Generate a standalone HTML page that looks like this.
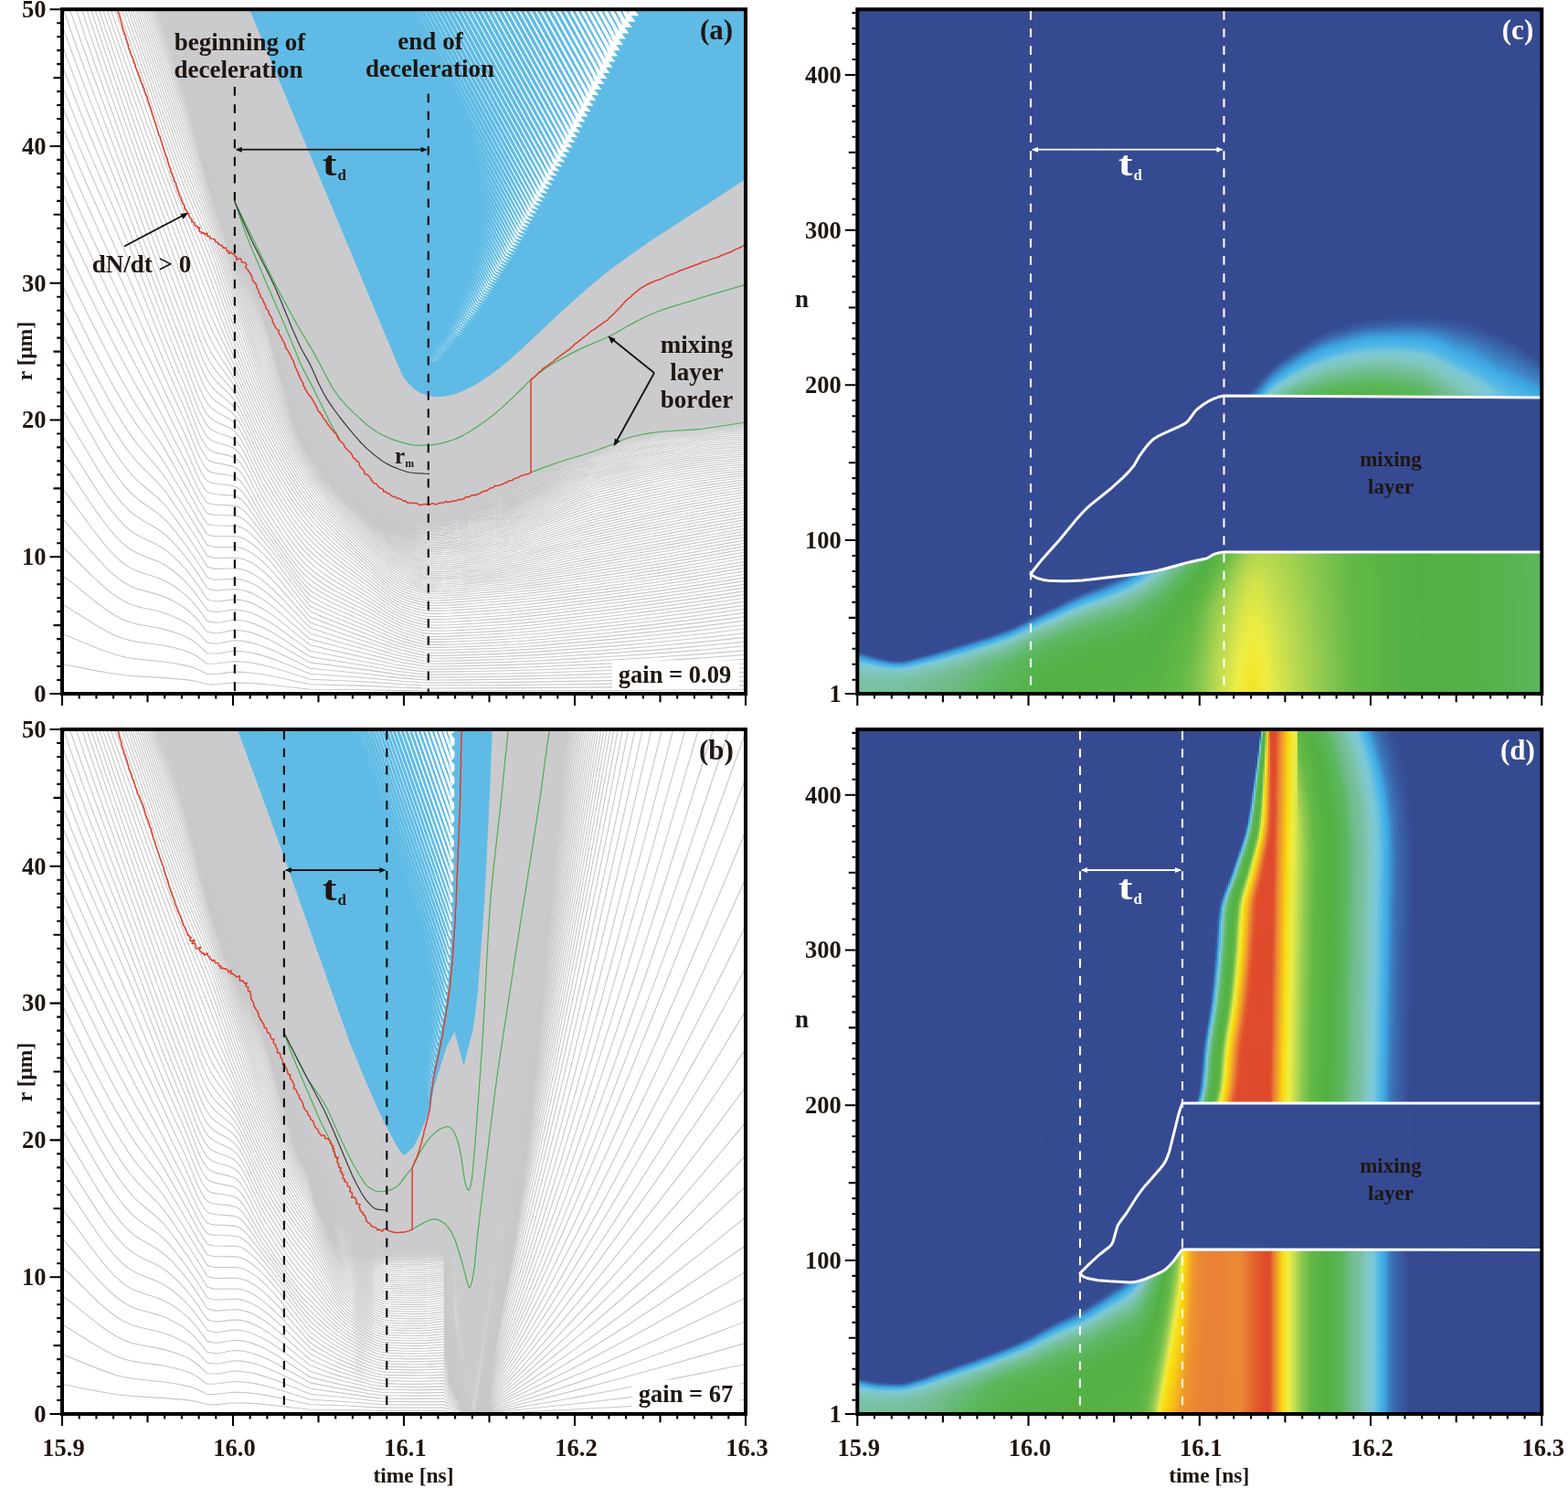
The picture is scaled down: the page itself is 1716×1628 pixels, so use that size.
<!DOCTYPE html>
<html lang="en"><head><meta charset="utf-8"><title>Figure</title>
<style>html,body{margin:0;padding:0;background:#fff}body{position:relative;width:1716px;height:1628px;overflow:hidden}svg{display:block}.hm{position:absolute;overflow:hidden;background:#354a91}.hm i{position:absolute;top:0;bottom:0;width:2px}text{font-family:"Liberation Serif",serif;font-weight:bold;fill:#1f1612}</style></head><body>
<div class="hm" style="left:938px;top:10px;width:750px;height:749px"><i style="left:0px;background:linear-gradient(#354a91 0,#354b92 703px,#3961a7 705px,#3c9fdb 709px,#3faae3 710px,#4cb4e8 712px,#72c4dc 715px,#7cc8d8 716px,#7fc7bc 724px,#7bc3ac 731px,#78c0a0 747px,#78c0a0 749px)"></i><i style="left:2px;background:linear-gradient(#354a91 0,#354a91 703px,#364f96 704px,#3e87c8 708px,#3ca8e2 710px,#4ab2e7 712px,#79c7d9 716px,#7ec8cd 719px,#7dc5b4 727px,#7ac2a8 735px,#78c0a0 748px,#78c0a0 749px)"></i><i style="left:4px;background:linear-gradient(#354a91 0,#354b92 704px,#3964aa 706px,#3d92d1 709px,#3ca3de 710px,#47b1e6 712px,#4fb6e7 713px,#76c5da 716px,#7dc8d2 718px,#7ec6b7 726px,#7bc3ab 732px,#78c0a0 747px,#78c09f 749px)"></i><i style="left:6px;background:linear-gradient(#354a91 0,#354a91 704px,#365097 705px,#3e8bcb 709px,#3eaae3 711px,#4bb4e7 713px,#72c4db 716px,#7cc8d8 717px,#7fc7bb 725px,#7bc3ac 731px,#78c09f 748px,#78c09f 749px)"></i><i style="left:8px;background:linear-gradient(#354a91 0,#354c93 705px,#37569d 706px,#3c76b9 708px,#3e82c4 709px,#3ca6e0 711px,#49b2e7 713px,#79c7d9 717px,#7fc8c8 721px,#7bc3ac 731px,#78c09f 747px,#78c09f 749px)"></i><i style="left:10px;background:linear-gradient(#354a91 0,#354a91 705px,#364f96 706px,#3e8bcb 710px,#3d9dda 711px,#3faae3 712px,#4cb5e8 714px,#6ac1de 716px,#7cc8d6 718px,#7ec6b9 726px,#7bc3ab 732px,#78c09f 747px,#78c09f 749px)"></i><i style="left:12px;background:linear-gradient(#354a91 0,#354b92 706px,#37549b 707px,#3e81c3 710px,#3ca5e0 712px,#49b2e7 714px,#64bee0 716px,#7bc8d8 718px,#7fc7be 725px,#7bc3ac 731px,#78c09f 747px,#77c09f 749px)"></i><i style="left:14px;background:linear-gradient(#354a91 0,#354a91 706px,#354d94 707px,#3859a0 708px,#3d9cd8 712px,#3eaae3 713px,#4cb5e8 715px,#6bc1de 717px,#7cc8d6 719px,#7fc7bb 726px,#7bc3ab 732px,#78c09f 746px,#77c09f 749px)"></i><i style="left:16px;background:linear-gradient(#354a91 0,#354a91 707px,#365197 708px,#3e7fc1 711px,#3ca3de 713px,#49b2e7 715px,#64bee0 717px,#7cc8d8 719px,#7fc7bc 726px,#7bc3ab 732px,#77c09e 747px,#77c09e 749px)"></i><i style="left:18px;background:linear-gradient(#354a91 0,#354b92 708px,#37569c 709px,#3e86c7 712px,#3ea9e3 714px,#4cb5e8 716px,#6cc1de 718px,#7dc8d5 720px,#7ec6b9 727px,#7ac2aa 733px,#77c09e 747px,#77c09e 749px)"></i><i style="left:20px;background:linear-gradient(#354a91 0,#354a91 708px,#364e95 709px,#3d90cf 713px,#3ca3de 714px,#49b2e7 716px,#73c4db 719px,#7cc8d7 720px,#7fc7ba 727px,#7ac2aa 733px,#77c09e 747px,#77c09e 749px)"></i><i style="left:22px;background:linear-gradient(#354a91 0,#354a91 709px,#37559b 710px,#3d9bd8 714px,#3eaae3 715px,#4eb6e8 717px,#6ec2dd 719px,#7ac7d9 720px,#80c8bf 726px,#7bc3ac 732px,#77c09e 746px,#77bf9d 749px)"></i><i style="left:24px;background:linear-gradient(#354a91 0,#354a91 709px,#364f96 710px,#3e80c2 713px,#3ca7e1 715px,#4bb3e7 717px,#77c6da 720px,#7dc8d5 721px,#7ec6b8 728px,#7ac2a8 734px,#77bf9d 748px,#77bf9d 749px)"></i><i style="left:26px;background:linear-gradient(#354a91 0,#354b92 710px,#37579d 711px,#3e8bcb 714px,#3ca0db 715px,#40abe4 716px,#54b8e5 718px,#73c4db 720px,#7cc8d6 721px,#7fc7bc 727px,#7ac2aa 733px,#77bf9d 746px,#77bf9d 749px)"></i><i style="left:28px;background:linear-gradient(#354a91 0,#354a91 710px,#365097 711px,#3c74b8 713px,#3e82c4 714px,#3da9e2 716px,#4eb5e8 718px,#6fc3dc 720px,#7cc8d8 721px,#7fc7bd 727px,#7ac2aa 733px,#77bf9d 746px,#77bf9d 749px)"></i><i style="left:30px;background:linear-gradient(#354a91 0,#354c93 711px,#37599f 712px,#3d90cf 715px,#3ca4df 716px,#4bb3e7 718px,#78c6d9 721px,#7ec8cf 723px,#7dc5b6 729px,#7ac2a7 735px,#76bf9c 748px,#76bf9c 749px)"></i><i style="left:32px;background:linear-gradient(#354a91 0,#354a91 711px,#365299 712px,#3e87c8 715px,#3d9dd9 716px,#40abe3 717px,#54b8e5 719px,#75c5db 721px,#7cc8d5 722px,#7fc7ba 728px,#7ac2a8 734px,#76bf9c 746px,#76bf9c 749px)"></i><i style="left:34px;background:linear-gradient(#354a91 0,#354a91 711px,#364d94 712px,#385ca3 713px,#3b71b5 714px,#3e80c3 715px,#3da9e2 717px,#4eb5e8 719px,#71c4dc 721px,#7cc8d7 722px,#7fc7bb 728px,#7ac2a8 734px,#76bf9c 746px,#76bf9c 749px)"></i><i style="left:36px;background:linear-gradient(#354a91 0,#354b92 712px,#37569d 713px,#3d8fce 716px,#3ca4df 717px,#4bb4e7 719px,#6ec2dd 721px,#7bc8d8 722px,#7fc7bc 728px,#7ac2aa 733px,#76bf9c 745px,#76bf9b 749px)"></i><i style="left:38px;background:linear-gradient(#354a91 0,#354a91 712px,#365298 713px,#3e89ca 716px,#3c9fdb 717px,#41ace4 718px,#49b2e7 719px,#79c7d9 722px,#7fc8c4 726px,#7ac2aa 733px,#76bf9b 746px,#76bf9b 749px)"></i><i style="left:40px;background:linear-gradient(#354a91 0,#354a91 712px,#364f96 713px,#3e84c6 716px,#3d9bd8 717px,#3fabe3 718px,#55b8e5 720px,#77c6da 722px,#7ec8ce 724px,#7dc5b4 730px,#79c1a6 735px,#76bf9b 747px,#76bf9b 749px)"></i><i style="left:42px;background:linear-gradient(#354a91 0,#354a91 712px,#364d94 713px,#3e82c4 716px,#3d99d6 717px,#3eaae3 718px,#53b8e6 720px,#76c5da 722px,#7dc8d5 723px,#7ec6b8 729px,#7ac2a7 734px,#76bf9a 747px,#76bf9a 749px)"></i><i style="left:44px;background:linear-gradient(#354a91 0,#354a91 712px,#354d93 713px,#385ca2 714px,#3e81c3 716px,#3eaae3 718px,#53b7e6 720px,#76c5da 722px,#7dc8d5 723px,#7ec6b7 729px,#79c1a5 735px,#75bf9a 748px,#75bf9a 749px)"></i><i style="left:46px;background:linear-gradient(#354a91 0,#354a91 712px,#364d94 713px,#3e82c4 716px,#3d99d6 717px,#3faae3 718px,#54b8e6 720px,#77c6da 722px,#7ec8ce 724px,#7dc5b3 730px,#7ac2a6 734px,#75bf9a 746px,#75bf99 749px)"></i><i style="left:48px;background:linear-gradient(#354a91 0,#354a91 712px,#364f96 713px,#3e86c7 716px,#3d9dd9 717px,#40abe3 718px,#49b2e7 719px,#79c7d9 722px,#7fc8c3 726px,#7ac2a8 733px,#75bf9a 745px,#75be99 749px)"></i><i style="left:50px;background:linear-gradient(#354a91 0,#354a91 712px,#37549a 713px,#3d8dcc 716px,#3ca3de 717px,#4bb4e7 719px,#6fc3dd 721px,#7cc8d8 722px,#80c8be 727px,#7ac2a7 733px,#75bf9a 744px,#75be99 749px)"></i><i style="left:52px;background:linear-gradient(#354a91 0,#354c93 712px,#385aa0 713px,#3e7fc1 715px,#3da9e2 717px,#4fb6e7 719px,#73c5db 721px,#7cc8d6 722px,#7fc7bc 727px,#7ac2a6 733px,#75be98 747px,#75be98 749px)"></i><i style="left:54px;background:linear-gradient(#354a91 0,#354a91 711px,#365197 712px,#3e87c8 715px,#3d9dd9 716px,#40abe3 717px,#57b9e5 719px,#79c7d9 721px,#7fc8c4 725px,#7ac2a7 732px,#75be98 745px,#74be97 749px)"></i><i style="left:56px;background:linear-gradient(#354a91 0,#354b92 711px,#37589e 712px,#3d91d0 715px,#3ca6e1 716px,#4cb4e8 718px,#71c3dc 720px,#7cc8d7 721px,#7fc7bd 726px,#7ac2a6 732px,#75be98 744px,#74be97 749px)"></i><i style="left:58px;background:linear-gradient(#354a91 0,#354a91 710px,#365197 711px,#3e86c7 714px,#3d9cd8 715px,#3fabe3 716px,#54b8e6 718px,#77c6da 720px,#7ec8ce 722px,#7dc5b3 728px,#78c0a1 734px,#74be96 749px)"></i><i style="left:60px;background:linear-gradient(#354a91 0,#354c93 710px,#37599f 711px,#3d91d0 714px,#3ca6e0 715px,#4cb4e7 717px,#6fc3dc 719px,#7cc8d8 720px,#7fc7be 725px,#79c1a4 732px,#74be96 746px,#74be96 749px)"></i><i style="left:62px;background:linear-gradient(#354a91 0,#354a91 709px,#365298 710px,#3e86c7 713px,#3d9cd8 714px,#3faae3 715px,#53b7e6 717px,#76c6da 719px,#7dc8d5 720px,#7ec6b7 726px,#79c1a3 732px,#73be95 746px,#73be95 749px)"></i><i style="left:64px;background:linear-gradient(#354a91 0,#354c93 709px,#3859a0 710px,#3d91d0 713px,#3ca5e0 714px,#4bb4e7 716px,#7cc8d8 719px,#80c8be 724px,#78c0a1 732px,#73bd94 748px,#73bd94 749px)"></i><i style="left:66px;background:linear-gradient(#354a91 0,#354a91 708px,#365298 709px,#3e85c6 712px,#3faae3 714px,#51b7e7 716px,#74c5db 718px,#7cc8d5 719px,#7fc7bc 724px,#79c1a2 731px,#73be94 745px,#73bd94 749px)"></i><i style="left:68px;background:linear-gradient(#354a91 0,#354c93 708px,#37599f 709px,#3d8fce 712px,#3ca3de 713px,#4ab3e7 715px,#7ac7d9 718px,#7fc7ba 724px,#78c0a1 731px,#72bd93 747px,#72bd93 749px)"></i><i style="left:70px;background:linear-gradient(#354a91 0,#354a91 707px,#365198 708px,#3c75b8 710px,#3e83c5 711px,#3d99d6 712px,#3ea9e3 713px,#4eb6e8 715px,#73c4db 717px,#7cc8d6 718px,#7fc7bd 723px,#79c1a2 730px,#72bd93 745px,#72bd92 749px)"></i><i style="left:72px;background:linear-gradient(#354a91 0,#354c93 707px,#37599f 708px,#3d8ece 711px,#3ca2dd 712px,#49b2e7 714px,#79c7d9 717px,#7fc8c4 721px,#79c1a3 729px,#73bd94 741px,#72bd91 749px)"></i><i style="left:74px;background:linear-gradient(#354a91 0,#354a91 706px,#365299 707px,#3c75b9 709px,#3e84c5 710px,#3ea9e3 712px,#4db5e8 714px,#72c4dc 716px,#7cc8d6 717px,#7fc7bd 722px,#78c09f 730px,#72bd91 746px,#71bd90 749px)"></i><i style="left:76px;background:linear-gradient(#354a91 0,#354a91 705px,#354d94 706px,#385aa0 707px,#3d8fce 710px,#3ca3de 711px,#49b2e7 713px,#69c0de 715px,#79c7d9 716px,#7fc8c4 720px,#78c0a0 729px,#71bd90 745px,#71bc90 749px)"></i><i style="left:78px;background:linear-gradient(#354a91 0,#354a91 705px,#37539a 706px,#3c76ba 708px,#3e85c6 709px,#3d9ad7 710px,#3ea9e3 711px,#4db5e8 713px,#72c4dc 715px,#7cc8d6 716px,#7fc7bd 721px,#78c0a1 728px,#72bd92 740px,#71bc8f 749px)"></i><i style="left:80px;background:linear-gradient(#354a91 0,#354a91 704px,#364e95 705px,#3d90cf 709px,#3ca4df 710px,#4ab2e7 712px,#57b9e4 713px,#79c7d9 715px,#7fc8c3 719px,#79c1a3 727px,#75be98 733px,#70bc8e 748px,#70bc8e 749px)"></i><i style="left:82px;background:linear-gradient(#354a91 0,#354b92 704px,#37559c 705px,#3d9bd8 709px,#3eaae3 710px,#4eb5e8 712px,#72c4db 714px,#7cc8d6 715px,#7fc7bc 720px,#77c09e 728px,#70bc8e 744px,#70bc8d 749px)"></i><i style="left:84px;background:linear-gradient(#354a91 0,#354a91 703px,#365097 704px,#3e80c2 707px,#3ca6e0 709px,#4ab3e7 711px,#7ac7d9 714px,#80c8bf 719px,#78c09f 727px,#71bc8f 740px,#6fbc8c 749px)"></i><i style="left:86px;background:linear-gradient(#354a91 0,#354c93 703px,#3a69ae 705px,#3d9dda 708px,#3fabe3 709px,#50b6e7 711px,#73c4db 713px,#7cc8d6 714px,#7fc7bc 719px,#78c0a0 726px,#73bd94 734px,#6fbc8b 749px)"></i><i style="left:88px;background:linear-gradient(#354a91 0,#354a91 702px,#365299 703px,#3c74b8 705px,#3e81c3 706px,#3ca8e2 708px,#4bb3e7 710px,#7bc8d8 713px,#7fc7be 718px,#77c09e 726px,#70bc8d 740px,#6fbb8a 749px)"></i><i style="left:90px;background:linear-gradient(#354a91 0,#354a91 701px,#364e95 702px,#3d7cbf 705px,#3ca0dc 707px,#47b1e6 709px,#51b7e7 710px,#74c5db 712px,#7dc8d5 713px,#7ec6b6 719px,#76bf9a 727px,#6fbb8a 744px,#6ebb89 749px)"></i><i style="left:92px;background:linear-gradient(#354a91 0,#354b92 701px,#3964a9 703px,#3e84c6 705px,#3da9e2 707px,#4bb4e7 709px,#7cc8d8 712px,#7fc7bd 717px,#77c09e 725px,#71bc8f 735px,#6ebb88 749px)"></i><i style="left:94px;background:linear-gradient(#354a91 0,#354a91 700px,#365097 701px,#3d7ec0 704px,#3ca2dd 706px,#48b1e6 708px,#53b7e6 709px,#75c5da 711px,#7dc8d4 712px,#7fc7ba 717px,#76bf9c 725px,#70bc8e 735px,#6dbb87 749px)"></i><i style="left:96px;background:linear-gradient(#354a91 0,#354c93 700px,#3a67ac 702px,#3ea9e3 706px,#4cb4e8 708px,#7cc8d8 711px,#7fc7bd 716px,#77bf9d 724px,#71bd90 732px,#6dbb86 749px)"></i><i style="left:98px;background:linear-gradient(#354a91 0,#354a91 699px,#365298 700px,#395fa5 701px,#3b72b6 702px,#3e7fc2 703px,#3ca4df 705px,#49b2e6 707px,#54b8e6 708px,#76c6da 710px,#7dc8d4 711px,#7ec6ba 716px,#76bf9b 724px,#70bc8d 734px,#6dba85 749px)"></i><i style="left:100px;background:linear-gradient(#354a91 0,#354a91 698px,#364e94 699px,#3859a0 700px,#3d9cd9 704px,#3eaae3 705px,#4db5e8 707px,#6fc3dc 709px,#7cc8d7 710px,#7fc7bc 715px,#76bf9c 723px,#71bc8f 731px,#6cba85 747px,#6cba84 749px)"></i><i style="left:102px;background:linear-gradient(#354a91 0,#354b92 698px,#3961a7 700px,#3c74b8 701px,#3e81c3 702px,#3ca6e0 704px,#49b2e7 706px,#77c6da 709px,#7ec8cd 711px,#7ec6b9 715px,#77bf9d 722px,#71bc8f 730px,#6cba84 746px,#6cba83 749px)"></i><i style="left:104px;background:linear-gradient(#354a91 0,#354a91 697px,#364f96 698px,#3d8ccc 702px,#3fabe3 704px,#4eb5e8 706px,#70c3dc 708px,#7cc8d6 709px,#7fc7bb 714px,#77c09e 721px,#70bc8e 729px,#6bba82 748px,#6bba82 749px)"></i><i style="left:106px;background:linear-gradient(#354a91 0,#354c93 697px,#3965aa 699px,#3d97d4 702px,#3ca8e2 703px,#4ab3e7 705px,#79c7d9 708px,#80c8c2 712px,#78c09f 720px,#70bc8d 729px,#6aba80 749px)"></i><i style="left:108px;background:linear-gradient(#354a91 0,#354a91 696px,#365198 697px,#3d8fce 701px,#3ca1dd 702px,#47b1e6 704px,#50b6e7 705px,#72c4db 707px,#7cc8d5 708px,#7ec6ba 713px,#76bf9a 721px,#6fbc8c 729px,#6aba7f 748px,#6aba7f 749px)"></i><i style="left:110px;background:linear-gradient(#354a91 0,#354a91 695px,#364e94 696px,#3a68ae 698px,#3da9e2 702px,#4bb4e7 704px,#7bc8d8 707px,#7fc7bc 712px,#77c09e 719px,#6fbc8c 727px,#69ba7d 748px,#69ba7d 749px)"></i><i style="left:112px;background:linear-gradient(#354a91 0,#354b92 695px,#3961a7 697px,#3d92d1 700px,#3ca4df 701px,#48b1e6 703px,#53b7e6 704px,#75c5da 706px,#7dc8d4 707px,#7ec6b8 712px,#76bf9c 719px,#6fbb8b 727px,#68ba7c 746px,#68ba7c 749px)"></i><i style="left:114px;background:linear-gradient(#354a91 0,#354a91 694px,#365096 695px,#385ba2 696px,#3d9dd9 700px,#3faae3 701px,#4cb4e8 703px,#7cc8d7 706px,#7fc7ba 711px,#78c0a0 717px,#6fbb8a 726px,#68b97a 746px,#67b97a 749px)"></i><i style="left:116px;background:linear-gradient(#354a91 0,#354c93 694px,#3964aa 696px,#3d96d4 699px,#3ca7e1 700px,#4ab2e7 702px,#67c0df 704px,#77c6da 705px,#7ec8cc 707px,#7ec6b7 711px,#77bf9d 717px,#6ebb88 726px,#67b978 746px,#67b978 749px)"></i><i style="left:118px;background:linear-gradient(#354a91 0,#354b92 693px,#385ea4 695px,#3d8fce 698px,#3ca1dc 699px,#47b0e6 701px,#4eb6e7 702px,#71c4dc 704px,#7cc8d6 705px,#7ec6b9 710px,#77c09e 716px,#6ebb88 725px,#66b977 744px,#66b976 749px)"></i><i style="left:120px;background:linear-gradient(#354a91 0,#354a91 692px,#364e95 693px,#3a69ae 695px,#3da9e2 699px,#4bb3e7 701px,#7ac7d9 704px,#7fc7bb 709px,#77c09f 715px,#6dba86 725px,#65b975 744px,#65b974 749px)"></i><i style="left:122px;background:linear-gradient(#354a91 0,#354c93 692px,#3961a7 694px,#3c74b8 695px,#3d93d1 697px,#3ca4df 698px,#48b1e6 700px,#52b7e6 701px,#74c5db 703px,#7dc8d4 704px,#7ec6b7 709px,#76bf9c 715px,#6cba85 725px,#65b974 742px,#64b972 749px)"></i><i style="left:124px;background:linear-gradient(#354a91 0,#354a91 691px,#365197 692px,#385ca3 693px,#3d9eda 697px,#3faae3 698px,#4cb5e8 700px,#7cc8d7 703px,#7ec6b9 708px,#77bf9d 714px,#6cba84 724px,#64b972 742px,#63b970 749px)"></i><i style="left:126px;background:linear-gradient(#354a91 0,#354a91 690px,#364d94 691px,#3a66ab 693px,#3d97d5 696px,#3ca8e2 697px,#4ab3e7 699px,#67c0df 701px,#78c6d9 702px,#7ec8cc 704px,#7dc5b5 708px,#76bf9a 714px,#6aba80 725px,#63b96f 744px,#62b96e 749px)"></i><i style="left:128px;background:linear-gradient(#354a91 0,#354b92 690px,#3960a6 692px,#3d91d0 695px,#3ca2dd 696px,#47b1e6 698px,#50b6e7 699px,#72c4db 701px,#7cc8d5 702px,#7fc7bd 706px,#77c09e 712px,#6aba7f 724px,#62b96d 744px,#61b96c 749px)"></i><i style="left:130px;background:linear-gradient(#354a91 0,#354a91 689px,#385ba1 691px,#3d9cd8 695px,#3eaae3 696px,#4cb4e7 698px,#7cc8d8 701px,#7ec6b8 706px,#76bf9c 712px,#69ba7d 724px,#61b96b 744px,#61b96a 749px)"></i><i style="left:132px;background:linear-gradient(#354a91 0,#354a91 688px,#364d94 689px,#3964aa 691px,#3d96d3 694px,#3ca7e1 695px,#49b2e7 697px,#54b8e6 698px,#76c5da 700px,#7dc8d3 701px,#7fc7ba 705px,#76bf9c 711px,#67b979 725px,#60b969 744px,#60b868 749px)"></i><i style="left:134px;background:linear-gradient(#354a91 0,#354b92 688px,#385fa5 690px,#3d8fce 693px,#3ca1dc 694px,#47b0e6 696px,#4eb5e8 697px,#70c3dc 699px,#7cc8d6 700px,#7fc7bc 704px,#77bf9d 710px,#68b97a 723px,#5fb867 744px,#5fb866 749px)"></i><i style="left:136px;background:linear-gradient(#354a91 0,#354a91 687px,#365096 688px,#385aa1 689px,#3d9bd7 693px,#3da9e3 694px,#4bb3e7 696px,#7ac7d9 699px,#80c8bf 703px,#77c09e 709px,#67b97a 722px,#5fb866 742px,#5eb865 749px)"></i><i style="left:138px;background:linear-gradient(#354a91 0,#354a91 686px,#354d94 687px,#3963a9 689px,#3d94d2 692px,#3ca5e0 693px,#52b7e6 696px,#74c5db 698px,#7dc8d4 699px,#7fc7ba 703px,#76bf9b 709px,#66b977 722px,#5eb864 743px,#5db863 749px)"></i><i style="left:140px;background:linear-gradient(#354a91 0,#354b92 686px,#385ea4 688px,#3d8ecd 691px,#3c9fdb 692px,#3fabe3 693px,#4db5e8 695px,#7cc8d7 698px,#7fc7bc 702px,#76bf9c 708px,#65b975 722px,#5db862 743px,#5cb861 749px)"></i><i style="left:142px;background:linear-gradient(#354a91 0,#354a91 685px,#364f96 686px,#3a68ad 688px,#3da9e2 692px,#4ab3e7 694px,#67c0df 696px,#78c6d9 697px,#7ec8cb 699px,#7ec6b8 702px,#75bf9a 708px,#64b973 722px,#5cb860 743px,#5cb860 749px)"></i><i style="left:144px;background:linear-gradient(#354a91 0,#354a91 684px,#354d94 685px,#3962a8 687px,#3d93d1 690px,#3ca4df 691px,#50b6e7 694px,#72c4db 696px,#7cc8d5 697px,#7fc7ba 701px,#76bf9b 707px,#65b975 720px,#5db863 736px,#5cb85f 749px)"></i><i style="left:146px;background:linear-gradient(#354a91 0,#354b92 684px,#385da3 686px,#3d9eda 690px,#3faae3 691px,#4cb4e8 693px,#7cc8d8 696px,#7fc7bc 700px,#76bf9c 706px,#63b970 721px,#5cb85f 740px,#5bb75e 749px)"></i><i style="left:148px;background:linear-gradient(#354a91 0,#354a91 683px,#3859a0 685px,#3d98d5 689px,#3ca8e2 690px,#4ab3e7 692px,#55b8e5 693px,#76c6da 695px,#7dc8d3 696px,#7ec6b8 700px,#75be99 706px,#63b970 720px,#5cb85f 737px,#5bb75d 749px)"></i><i style="left:150px;background:linear-gradient(#354a91 0,#354a91 682px,#37559c 684px,#3961a7 685px,#3d92d1 688px,#3ca3de 689px,#48b1e6 691px,#4fb6e7 692px,#70c3dc 694px,#7cc8d6 695px,#7fc7ba 699px,#75bf9a 705px,#63b970 719px,#5cb85f 734px,#5bb75c 749px)"></i><i style="left:152px;background:linear-gradient(#354a91 0,#354b92 682px,#385da3 684px,#3d9dda 688px,#3faae3 689px,#4cb4e8 691px,#7bc8d8 694px,#7fc7bc 698px,#76bf9b 704px,#62b96d 719px,#5bb75e 734px,#5ab75b 749px)"></i><i style="left:154px;background:linear-gradient(#354a91 0,#354a91 681px,#3859a0 683px,#3d98d5 687px,#3ca8e2 688px,#4ab2e7 690px,#65bfe0 692px,#75c5da 693px,#7dc8d3 694px,#7ec6b7 698px,#74be98 704px,#61b96b 719px,#5bb75e 732px,#5ab65a 749px)"></i><i style="left:156px;background:linear-gradient(#354a91 0,#354a91 680px,#364d94 681px,#3962a8 683px,#3d93d1 686px,#3ca4de 687px,#48b1e6 689px,#50b6e7 690px,#70c3dc 692px,#7cc8d6 693px,#7ec6b9 697px,#77bf9d 702px,#61b96a 718px,#5bb75d 731px,#5ab659 749px)"></i><i style="left:158px;background:linear-gradient(#354a91 0,#354c93 680px,#385ea4 682px,#3d8ecd 685px,#3c9fdb 686px,#3faae3 687px,#4cb4e8 689px,#7bc8d8 692px,#7fc7bb 696px,#75bf9a 702px,#62b96c 716px,#5cb85f 725px,#59b658 749px)"></i><i style="left:160px;background:linear-gradient(#354a91 0,#354b92 679px,#385ba1 681px,#3d9ad7 685px,#3da9e2 686px,#4ab3e7 688px,#67bfdf 690px,#77c6da 691px,#7ec8cb 693px,#7cc4b0 697px,#72bd92 703px,#5eb865 718px,#5ab65a 733px,#59b657 749px)"></i><i style="left:162px;background:linear-gradient(#354a91 0,#354a91 678px,#37589f 680px,#3d95d3 684px,#3ca6e0 685px,#52b7e6 688px,#72c4db 690px,#7cc8d5 691px,#7ec6b8 695px,#74be97 701px,#5fb867 716px,#5bb85e 723px,#59b556 749px)"></i><i style="left:164px;background:linear-gradient(#354a91 0,#354a91 677px,#364d94 678px,#3961a7 680px,#3d91d0 683px,#3ca2dd 684px,#47b0e6 686px,#4db5e8 687px,#7cc8d7 690px,#7ec6ba 694px,#76bf9c 699px,#61b96c 713px,#5cb85f 719px,#58b555 749px)"></i><i style="left:166px;background:linear-gradient(#354a91 0,#354c93 677px,#385ea4 679px,#3d9eda 683px,#3faae3 684px,#4cb4e8 686px,#7ac7d9 689px,#7fc7bc 693px,#77bf9d 698px,#61b96c 712px,#5bb85e 719px,#58b554 749px)"></i><i style="left:168px;background:linear-gradient(#354a91 0,#354b92 676px,#385ca2 678px,#3d9bd8 682px,#3da9e2 683px,#4ab3e7 685px,#66bfdf 687px,#76c6da 688px,#7dc8d3 689px,#7dc5b6 693px,#73be95 699px,#5fb866 713px,#5bb75c 721px,#58b453 749px)"></i><i style="left:170px;background:linear-gradient(#354a91 0,#354b92 675px,#385aa0 677px,#3d98d5 681px,#3ca8e2 682px,#53b7e6 685px,#73c4db 687px,#7dc8d5 688px,#7ec6b7 692px,#74be96 698px,#5eb863 713px,#5ab659 724px,#57b452 749px)"></i><i style="left:172px;background:linear-gradient(#354a91 0,#354a91 674px,#37599f 676px,#3e84c6 679px,#3ca6e0 681px,#51b6e7 684px,#7cc8d6 687px,#7ec6b8 691px,#74be96 697px,#5db863 712px,#5ab659 722px,#57b451 749px)"></i><i style="left:174px;background:linear-gradient(#354a91 0,#354a91 673px,#37589e 675px,#3e83c5 678px,#3ca4df 680px,#4fb6e7 683px,#7cc8d7 686px,#7ec6b9 690px,#74be96 696px,#5db863 711px,#59b658 722px,#57b450 749px)"></i><i style="left:176px;background:linear-gradient(#354a91 0,#354a91 672px,#37589e 674px,#3963a9 675px,#3d93d1 678px,#3ca3de 679px,#47b1e6 681px,#4eb5e8 682px,#7cc8d8 685px,#7fc7ba 689px,#76bf9b 694px,#60b868 708px,#5ab75b 715px,#56b34f 747px,#56b34f 749px)"></i><i style="left:178px;background:linear-gradient(#354a91 0,#354a91 671px,#37589e 673px,#3963a9 674px,#3d93d1 677px,#3ca3de 678px,#47b0e6 680px,#4db5e8 681px,#7bc8d8 684px,#7fc7bb 688px,#76bf9b 693px,#60b868 707px,#5bb75c 713px,#56b34f 742px,#56b34e 749px)"></i><i style="left:180px;background:linear-gradient(#354a91 0,#354a91 670px,#37589e 672px,#3c73b7 674px,#3ca2de 677px,#47b0e6 679px,#4db5e8 680px,#7bc7d8 683px,#7fc7bb 687px,#76bf9b 692px,#5fb868 706px,#5bb75c 712px,#56b34f 738px,#56b34d 749px)"></i><i style="left:182px;background:linear-gradient(#354a91 0,#354a91 669px,#37589e 671px,#3963a9 672px,#3d92d1 675px,#3ca2de 676px,#47b0e6 678px,#4db5e8 679px,#7ac7d9 682px,#7fc7bc 686px,#78c0a0 690px,#62b96e 703px,#5bb75e 709px,#57b452 726px,#55b34d 749px)"></i><i style="left:184px;background:linear-gradient(#354a91 0,#354b92 668px,#37589f 670px,#3963a9 671px,#3d92d1 674px,#3ca2dd 675px,#46b0e6 677px,#4cb5e8 678px,#79c7d9 681px,#7fc7bc 685px,#78c0a1 689px,#63b971 701px,#5bb75e 708px,#57b452 724px,#55b24c 749px)"></i><i style="left:186px;background:linear-gradient(#354a91 0,#354b92 667px,#37589f 669px,#3963a9 670px,#3d92d1 673px,#3ca2dd 674px,#46b0e6 676px,#4cb4e8 677px,#79c7d9 680px,#7fc7bd 684px,#78c0a1 688px,#62b96d 701px,#5bb75c 708px,#56b34f 729px,#55b24b 749px)"></i><i style="left:188px;background:linear-gradient(#354a91 0,#354b92 666px,#37589f 668px,#3c73b7 670px,#3ca2dd 673px,#46b0e6 675px,#4cb4e8 676px,#78c6d9 679px,#7ec8cc 681px,#7bc3ae 685px,#72bd93 690px,#5fb867 702px,#5ab65a 709px,#56b34e 729px,#54b24a 749px)"></i><i style="left:190px;background:linear-gradient(#354a91 0,#354b92 665px,#37589f 667px,#3c73b7 669px,#3ca1dc 672px,#3fabe3 673px,#4cb4e8 675px,#77c6da 678px,#7ec8cc 680px,#7ec6b6 683px,#73bd93 689px,#5eb864 702px,#58b556 712px,#54b24a 742px,#54b249 749px)"></i><i style="left:192px;background:linear-gradient(#354a91 0,#354b92 664px,#37589e 666px,#3962a8 667px,#3d91d0 670px,#3faae3 672px,#4bb4e7 674px,#75c5da 677px,#7dc8d4 678px,#7ec6b7 682px,#77bf9d 686px,#60b96a 699px,#5bb75c 705px,#56b34f 722px,#54b148 749px)"></i><i style="left:194px;background:linear-gradient(#354a91 0,#354b92 663px,#37589e 665px,#3962a8 666px,#3d90cf 669px,#3faae3 671px,#4bb3e7 673px,#74c5db 676px,#7dc8d5 677px,#7ec6b8 681px,#77bf9d 685px,#5fb867 699px,#59b658 707px,#54b249 737px,#54b148 749px)"></i><i style="left:196px;background:linear-gradient(#354a91 0,#354b92 662px,#37589e 664px,#3b71b5 666px,#3d8fce 668px,#3eaae3 670px,#4ab3e7 672px,#73c4db 675px,#7cc8d5 676px,#7ec6b9 680px,#77c09e 684px,#62b96d 696px,#5bb75c 703px,#56b34e 720px,#53b147 749px)"></i><i style="left:198px;background:linear-gradient(#354a91 0,#354b92 661px,#37579e 663px,#3b70b5 665px,#3d9eda 668px,#3ea9e3 669px,#4ab3e7 671px,#63bee0 673px,#7cc8d6 675px,#7ec6ba 679px,#77c09e 683px,#62b96e 695px,#5bb75e 701px,#56b34f 716px,#53b146 749px)"></i><i style="left:200px;background:linear-gradient(#354a91 0,#354b92 660px,#37579e 662px,#3b70b4 664px,#3ea9e3 668px,#53b7e6 671px,#7cc8d7 674px,#7fc7bb 678px,#78c09f 682px,#62b96e 694px,#5bb75e 700px,#56b34f 715px,#53b146 749px)"></i><i style="left:202px;background:linear-gradient(#354a91 0,#354b92 659px,#37579d 661px,#3b6fb4 663px,#3da9e2 667px,#52b7e6 670px,#7cc8d8 673px,#7dc5b4 678px,#76bf9b 682px,#61b96b 694px,#5bb75c 700px,#56b34d 717px,#53b145 749px)"></i><i style="left:204px;background:linear-gradient(#354a91 0,#354b92 658px,#37579d 660px,#3960a6 661px,#3da9e2 666px,#51b6e7 669px,#7bc8d8 672px,#7fc7bd 676px,#78c0a0 680px,#60b868 694px,#5ab75b 700px,#56b34d 716px,#53b045 749px)"></i><i style="left:206px;background:linear-gradient(#354a91 0,#354b92 657px,#37569d 659px,#3b6eb2 661px,#3ca8e2 665px,#4fb6e7 668px,#7ac7d9 671px,#7fc7be 675px,#78c0a1 679px,#60b868 693px,#59b657 702px,#54b24a 722px,#52b044 749px)"></i><i style="left:208px;background:linear-gradient(#354a91 0,#354b92 656px,#37569d 658px,#3b6db2 660px,#3ca8e2 664px,#4eb5e8 667px,#78c6d9 670px,#7ec8cc 672px,#7ec6b7 675px,#77bf9d 679px,#60b869 692px,#5ab75c 698px,#56b34d 713px,#52b044 749px)"></i><i style="left:210px;background:linear-gradient(#354a91 0,#354b92 655px,#37569d 657px,#3b6db1 659px,#3ca7e1 663px,#4db5e8 666px,#77c6da 669px,#7ec8cd 671px,#7ec6b8 674px,#77bf9d 678px,#5db863 693px,#57b450 707px,#52b043 746px,#52b043 749px)"></i><i style="left:212px;background:linear-gradient(#354a91 0,#354b92 654px,#37569c 656px,#3b6cb1 658px,#3ca6e0 662px,#4cb4e8 665px,#75c5da 668px,#7dc8d5 669px,#7ec6b9 673px,#75bf9a 678px,#5fb867 691px,#59b658 699px,#55b24b 716px,#52b043 749px)"></i><i style="left:214px;background:linear-gradient(#354a91 0,#354b92 653px,#37569c 655px,#3a6bb0 657px,#3d97d4 660px,#3ca5df 661px,#4cb4e8 664px,#74c5db 667px,#7cc8d6 668px,#7fc7bb 672px,#76bf9a 677px,#5eb864 691px,#57b452 704px,#53b145 732px,#52b043 749px)"></i><i style="left:216px;background:linear-gradient(#354a91 0,#354b92 652px,#37559c 654px,#3a6bb0 656px,#3d96d4 659px,#3ca4df 660px,#4bb4e7 663px,#7cc8d6 667px,#7dc5b4 672px,#76bf9b 676px,#5eb865 690px,#57b453 702px,#53b145 730px,#52b043 749px)"></i><i style="left:218px;background:linear-gradient(#354a91 0,#354b92 651px,#37559c 653px,#3a6aaf 655px,#3d95d3 658px,#3ca3de 659px,#45afe5 661px,#55b8e5 663px,#7cc8d7 666px,#7dc5b5 671px,#76bf9c 675px,#5fb866 689px,#59b658 697px,#55b24a 714px,#53b043 746px,#53b043 749px)"></i><i style="left:220px;background:linear-gradient(#354a91 0,#354b92 650px,#37559c 652px,#3a6aaf 654px,#3d94d2 657px,#3ca2dd 658px,#45afe5 660px,#54b8e6 662px,#7cc8d8 665px,#7ec6b7 670px,#77bf9d 674px,#5eb863 689px,#56b34f 705px,#52b043 739px,#53b043 749px)"></i><i style="left:222px;background:linear-gradient(#354a91 0,#354b92 649px,#37559c 651px,#3a69ae 653px,#3d93d2 656px,#3faae3 658px,#53b7e6 661px,#7ac7d9 664px,#80c8c0 668px,#79c1a3 672px,#64b971 684px,#5bb75e 691px,#55b24b 710px,#53b043 742px,#53b043 749px)"></i><i style="left:224px;background:linear-gradient(#354a91 0,#354b92 648px,#37559c 650px,#3a69ae 652px,#3d93d1 655px,#3faae3 657px,#49b2e7 659px,#5fbce2 661px,#79c7d9 663px,#80c8c0 667px,#77c09e 672px,#62b96e 684px,#5ab75b 692px,#55b24a 711px,#53b043 742px,#53b143 749px)"></i><i style="left:226px;background:linear-gradient(#354a91 0,#354b92 647px,#37559c 649px,#3a69ae 651px,#3d92d1 654px,#3eaae3 656px,#51b6e7 659px,#78c6d9 662px,#7ec8cd 664px,#7dc5b3 668px,#76bf9b 672px,#5eb865 686px,#58b453 698px,#53b147 719px,#53b143 748px,#53b143 749px)"></i><i style="left:228px;background:linear-gradient(#354a91 0,#354b92 646px,#37559c 648px,#3c76ba 651px,#3eaae3 655px,#50b6e7 658px,#77c6da 661px,#7ec8ce 663px,#7dc5b4 667px,#76bf9b 671px,#5db863 686px,#56b34d 704px,#53b043 737px,#53b143 749px)"></i><i style="left:230px;background:linear-gradient(#354a91 0,#354b92 645px,#37559c 647px,#3e82c4 651px,#3c9fdb 653px,#3ea9e3 654px,#4fb6e7 657px,#76c5da 660px,#7ec8cf 662px,#7dc5b5 666px,#76bf9c 670px,#5fb867 684px,#5ab65a 691px,#54b24a 709px,#53b043 738px,#53b143 749px)"></i><i style="left:232px;background:linear-gradient(#354a91 0,#354b92 644px,#385da4 647px,#3d91d0 651px,#3da9e2 653px,#4eb5e8 656px,#74c5db 659px,#7cc8d6 660px,#7dc5b6 665px,#75be98 670px,#5eb865 684px,#58b453 696px,#53b146 719px,#54b143 749px)"></i><i style="left:234px;background:linear-gradient(#354a91 0,#354b92 643px,#385da4 646px,#3d90cf 650px,#3da9e2 652px,#4db5e8 655px,#73c4db 658px,#7cc8d6 659px,#7ec6b7 664px,#75bf99 669px,#5eb865 683px,#56b34f 699px,#52b043 731px,#54b143 749px)"></i><i style="left:236px;background:linear-gradient(#354a91 0,#354b92 642px,#385da3 645px,#3d90cf 649px,#3da9e2 651px,#4cb4e8 654px,#7cc8d7 658px,#7ec6b8 663px,#75bf9a 668px,#5db863 683px,#56b34d 701px,#53b043 733px,#54b143 749px)"></i><i style="left:238px;background:linear-gradient(#354a91 0,#354b92 641px,#385da3 644px,#3d8fce 648px,#3ca8e2 650px,#4cb4e8 653px,#7cc8d8 657px,#7ec6b9 662px,#76bf9b 667px,#5eb864 682px,#56b34f 698px,#52b043 729px,#54b143 749px)"></i><i style="left:240px;background:linear-gradient(#354a91 0,#354b92 640px,#37559b 642px,#3a66ac 644px,#3d9ad7 648px,#3ca7e1 649px,#4bb4e7 652px,#7ac7d9 656px,#7fc7bb 661px,#76bf9c 666px,#5eb865 681px,#58b556 691px,#54b248 709px,#54b143 739px,#54b143 749px)"></i><i style="left:242px;background:linear-gradient(#354a91 0,#354b92 639px,#385ba2 642px,#3d99d6 647px,#3ca5e0 648px,#4ab3e7 651px,#78c6d9 655px,#7ec8ce 657px,#7dc5b5 661px,#75be99 666px,#5db863 681px,#56b34d 699px,#53b043 731px,#54b143 749px)"></i><i style="left:244px;background:linear-gradient(#354a91 0,#354a91 638px,#385aa1 641px,#3d7cbf 644px,#3ca3de 647px,#44aee5 649px,#50b6e7 651px,#75c5da 654px,#7cc8d6 655px,#7ec6b7 660px,#75bf9a 665px,#5db861 681px,#55b24b 701px,#53b143 731px,#54b143 749px)"></i><i style="left:246px;background:linear-gradient(#354a91 0,#354a91 637px,#3859a0 640px,#3b6eb2 642px,#3ca1dc 646px,#43aee5 648px,#4db5e8 650px,#7cc8d7 654px,#7ec6b9 659px,#76bf9b 664px,#5db862 680px,#55b24b 701px,#53b143 730px,#54b143 749px)"></i><i style="left:248px;background:linear-gradient(#354a91 0,#354c93 637px,#3960a6 640px,#3d92d0 644px,#3da9e2 646px,#4cb4e8 649px,#7bc8d8 653px,#7fc7bb 658px,#75be98 664px,#5db863 679px,#56b34e 697px,#52b043 725px,#54b143 749px)"></i><i style="left:250px;background:linear-gradient(#354a91 0,#354c93 636px,#385ea4 639px,#3d8ece 643px,#3ca7e1 645px,#53b8e6 649px,#77c6da 652px,#7ec8cf 654px,#7cc4b0 659px,#74be96 664px,#5db862 679px,#55b24c 699px,#53b143 728px,#54b143 749px)"></i><i style="left:252px;background:linear-gradient(#354a91 0,#354b92 635px,#385ca2 638px,#3d7ec0 641px,#3ca4df 644px,#50b6e7 648px,#74c5db 651px,#7cc8d6 652px,#7ec6b9 657px,#74be97 663px,#5db863 678px,#56b34d 696px,#53b043 726px,#55b143 749px)"></i><i style="left:254px;background:linear-gradient(#354a91 0,#354b92 634px,#385aa0 637px,#3b6fb3 639px,#3ca1dc 643px,#3ea9e3 644px,#4db5e8 647px,#7bc8d8 651px,#7fc7bb 656px,#75be99 662px,#5db861 678px,#55b24a 700px,#53b143 729px,#55b143 749px)"></i><i style="left:256px;background:linear-gradient(#354a91 0,#354a91 633px,#37589f 636px,#3e82c4 640px,#3ca8e2 643px,#4bb4e7 646px,#78c6d9 650px,#7ec8cf 652px,#7bc3aa 658px,#71bc8f 664px,#5cb860 678px,#54b24a 700px,#53b143 728px,#55b144 749px)"></i><i style="left:258px;background:linear-gradient(#354a91 0,#354c93 633px,#385ea4 636px,#3d8dcd 640px,#3ca5e0 642px,#50b6e7 646px,#74c5db 649px,#7cc8d6 650px,#7ec6ba 655px,#76bf9c 660px,#5eb864 676px,#57b450 691px,#52b043 719px,#55b144 749px)"></i><i style="left:260px;background:linear-gradient(#354a91 0,#354b92 632px,#385ca2 635px,#3e89ca 639px,#3ca2dd 641px,#43aee5 643px,#4db5e8 645px,#7bc8d8 649px,#7fc7bc 654px,#75bf99 660px,#5db862 676px,#55b24b 697px,#53b143 726px,#55b144 749px)"></i><i style="left:262px;background:linear-gradient(#354a91 0,#354b92 631px,#385aa0 634px,#3b6eb2 636px,#3c9fdb 640px,#3da9e2 641px,#4bb4e7 644px,#78c6d9 648px,#7dc8cf 650px,#7ec6b8 654px,#74be97 660px,#5eb863 675px,#55b24b 696px,#53b143 725px,#55b144 749px)"></i><i style="left:264px;background:linear-gradient(#354a91 0,#354a91 630px,#37589f 633px,#3e81c3 637px,#3ca7e1 640px,#51b7e6 644px,#74c5db 647px,#7cc8d6 648px,#7ec6ba 653px,#75be98 659px,#5db862 675px,#55b24a 697px,#53b143 725px,#55b244 749px)"></i><i style="left:266px;background:linear-gradient(#354a91 0,#354c93 630px,#385ea4 633px,#3d8ccc 637px,#3ca4df 639px,#49b2e7 642px,#4eb5e8 643px,#7cc8d8 647px,#7fc7bc 652px,#75bf9a 658px,#5db863 674px,#55b34c 694px,#53b143 723px,#55b244 749px)"></i><i style="left:268px;background:linear-gradient(#354a91 0,#354c93 629px,#385da3 632px,#3d96d4 637px,#3eaae3 639px,#4cb4e8 642px,#79c7d9 646px,#7fc8c4 650px,#76bf9b 657px,#5eb864 673px,#56b450 689px,#52b043 715px,#55b244 749px)"></i><i style="left:270px;background:linear-gradient(#354a91 0,#354b92 628px,#385ba2 631px,#3e87c8 635px,#3da9e2 638px,#4bb4e7 641px,#76c6da 645px,#7dc8d0 647px,#7ec6b9 651px,#75be98 657px,#5db862 673px,#55b24b 694px,#53b143 721px,#55b244 749px)"></i><i style="left:272px;background:linear-gradient(#354a91 0,#354b92 627px,#385aa1 630px,#3e84c6 634px,#3ca8e2 637px,#52b7e6 641px,#7cc8d7 645px,#7fc7bb 650px,#75bf9a 656px,#5db863 672px,#55b34c 692px,#53b043 719px,#55b244 749px)"></i><i style="left:274px;background:linear-gradient(#354a91 0,#354b92 626px,#3859a0 629px,#3e82c4 633px,#3ca6e1 636px,#4fb6e7 640px,#7cc8d8 644px,#7fc7bd 649px,#76bf9b 655px,#5eb864 671px,#57b450 687px,#52b043 713px,#55b244 749px)"></i><i style="left:276px;background:linear-gradient(#354a91 0,#354a91 625px,#395fa6 629px,#3d8dcd 633px,#3ca4df 635px,#4db5e8 639px,#79c7d9 643px,#7fc8c4 647px,#75be98 655px,#5db862 671px,#55b24b 692px,#53b143 719px,#56b244 749px)"></i><i style="left:278px;background:linear-gradient(#354a91 0,#354a91 624px,#37579e 627px,#3c73b7 630px,#3ca2dd 634px,#43ade4 636px,#4cb4e8 638px,#77c6da 642px,#7dc8d0 644px,#7ec6ba 648px,#75bf99 654px,#5eb863 670px,#55b24a 693px,#53b143 719px,#56b244 749px)"></i><i style="left:280px;background:linear-gradient(#354a91 0,#354c93 624px,#385da3 627px,#3d95d3 632px,#3da9e3 634px,#4bb4e7 637px,#75c5da 641px,#7cc8d6 642px,#7fc7bc 647px,#76bf9a 653px,#5eb864 669px,#56b34e 687px,#52b043 713px,#56b244 749px)"></i><i style="left:282px;background:linear-gradient(#354a91 0,#354c93 623px,#385ca3 626px,#3d93d2 631px,#3da9e2 633px,#51b7e6 637px,#7cc8d8 641px,#7fc7bd 646px,#74be97 653px,#5cb860 670px,#54b147 697px,#55b143 728px,#56b244 749px)"></i><i style="left:284px;background:linear-gradient(#354a91 0,#354c93 622px,#385ca2 625px,#3b6fb3 627px,#3d9dd9 631px,#3ca8e2 632px,#4fb6e7 636px,#7bc8d8 640px,#7ec6b8 646px,#75be98 652px,#5cb861 669px,#54b248 694px,#54b143 722px,#56b244 749px)"></i><i style="left:286px;background:linear-gradient(#354a91 0,#354b92 621px,#3962a8 625px,#3d90cf 629px,#3ca6e1 631px,#4eb5e8 635px,#79c7d9 639px,#7fc8c5 643px,#75bf99 651px,#5eb864 667px,#57b450 683px,#52b043 709px,#56b244 749px)"></i><i style="left:288px;background:linear-gradient(#354a91 0,#354a91 620px,#3962a8 624px,#3d8fce 628px,#3ca5e0 630px,#4db5e8 634px,#78c6da 638px,#80c8c1 643px,#75bf9a 650px,#5eb865 666px,#5ab659 674px,#53b147 695px,#55b143 724px,#56b244 749px)"></i><i style="left:290px;background:linear-gradient(#354a91 0,#354a91 619px,#3961a7 623px,#3d8ece 627px,#3ca4df 629px,#4cb4e8 633px,#76c6da 637px,#7dc8d1 639px,#7fc7bc 643px,#76bf9b 649px,#5eb865 665px,#58b554 678px,#53b145 699px,#56b244 749px)"></i><i style="left:292px;background:linear-gradient(#354a91 0,#354a91 619px,#3b6cb0 623px,#3d99d6 627px,#3faae3 629px,#4cb4e8 632px,#75c5da 636px,#7cc8d6 637px,#7fc7bd 642px,#76bf9c 648px,#5db863 665px,#55b24a 688px,#53b143 712px,#56b244 749px)"></i><i style="left:294px;background:linear-gradient(#354a91 0,#354a91 619px,#385aa0 620px,#3e80c3 624px,#3ca3de 627px,#47b1e6 630px,#54b8e5 632px,#7cc8d7 636px,#7fc7bd 641px,#75be98 648px,#5db861 665px,#54b249 689px,#54b143 713px,#57b244 749px)"></i><i style="left:296px;background:linear-gradient(#354a91 0,#354a91 619px,#3961a7 620px,#3d8ecd 624px,#3faae3 627px,#4cb4e7 630px,#7cc8d7 635px,#7ec6b8 641px,#75be99 647px,#5db862 664px,#55b24b 685px,#53b143 709px,#57b244 749px)"></i><i style="left:298px;background:linear-gradient(#354a91 0,#354a91 618px,#3962a8 619px,#3d8ece 623px,#3ca4df 625px,#4cb4e8 629px,#7cc8d7 634px,#7ec6b8 640px,#73be95 647px,#5db862 663px,#54b147 690px,#54b143 716px,#57b244 749px)"></i><i style="left:300px;background:linear-gradient(#354a91 0,#354a91 618px,#3b6eb2 619px,#3d9ad7 623px,#3ca5df 624px,#4cb4e8 628px,#7cc8d7 633px,#7ec6b8 639px,#73be95 646px,#5cb860 663px,#53b146 691px,#55b244 723px,#57b244 749px)"></i><i style="left:302px;background:linear-gradient(#354a91 0,#354a91 618px,#3d7abd 619px,#3ca6e0 623px,#4cb4e8 627px,#75c5db 631px,#7cc8d7 632px,#7ec6b8 638px,#73be95 645px,#5cb860 662px,#53b146 690px,#55b244 722px,#57b344 749px)"></i><i style="left:304px;background:linear-gradient(#354a91 0,#354a91 618px,#3e86c7 619px,#3ca7e2 622px,#4db5e8 626px,#76c5da 630px,#7dc8d1 632px,#7ec6b8 637px,#73be95 644px,#5cb860 661px,#53b146 689px,#56b244 721px,#57b344 749px)"></i><i style="left:306px;background:linear-gradient(#354a91 0,#354a91 617px,#3e89ca 618px,#3da9e2 621px,#4eb5e8 625px,#77c6da 629px,#7dc8d1 631px,#7ec6b7 636px,#75be99 642px,#5cb860 660px,#53b146 688px,#55b244 716px,#57b344 749px)"></i><i style="left:308px;background:linear-gradient(#354a91 0,#354a91 617px,#3d98d5 618px,#3ea9e3 620px,#51b6e7 624px,#79c7d9 628px,#7fc8c6 632px,#75be98 641px,#5db862 658px,#53b147 685px,#54b143 709px,#58b344 749px)"></i><i style="left:310px;background:linear-gradient(#354a91 0,#354a91 617px,#3ca5e0 618px,#4bb4e7 622px,#7bc8d8 627px,#7fc7bb 633px,#74be98 640px,#5db862 657px,#53b147 684px,#54b143 705px,#58b344 749px)"></i><i style="left:312px;background:linear-gradient(#354a91 0,#354a91 617px,#41abe4 618px,#4db5e8 621px,#7cc8d7 626px,#7ec6ba 632px,#74be97 639px,#5db861 656px,#53b146 684px,#55b144 708px,#58b344 749px)"></i><i style="left:314px;background:linear-gradient(#354a91 0,#354a91 616px,#42ade4 617px,#50b6e7 620px,#78c6d9 624px,#80c8c3 629px,#75bf9a 637px,#5fb866 653px,#59b657 663px,#52b043 689px,#58b344 749px)"></i><i style="left:316px;background:linear-gradient(#354a91 0,#354a91 616px,#48b1e6 617px,#54b8e6 619px,#7bc8d8 623px,#7fc7bc 629px,#75be98 636px,#5cb860 654px,#53b145 683px,#59b344 749px)"></i><i style="left:318px;background:linear-gradient(#354a91 0,#354a91 616px,#4eb6e8 617px,#76c5da 621px,#7dc8d2 623px,#7ec6ba 628px,#74be97 635px,#5cb85f 653px,#52b044 683px,#59b344 749px)"></i><i style="left:320px;background:linear-gradient(#354a91 0,#354a91 615px,#53b8e6 616px,#7ac7d9 620px,#7fc7bd 626px,#75bf99 633px,#5fb866 649px,#5ab75b 655px,#52b043 684px,#59b444 749px)"></i><i style="left:322px;background:linear-gradient(#354a91 0,#354a91 615px,#62bee1 616px,#7cc8d7 619px,#7fc7ba 625px,#73bd94 633px,#5cb85f 650px,#52b043 681px,#5ab444 749px)"></i><i style="left:324px;background:linear-gradient(#354a91 0,#354a91 615px,#71c4dc 616px,#7ac7d9 617px,#7fc7bd 623px,#75bf9a 630px,#5eb866 646px,#5ab75b 652px,#52b043 680px,#5ab445 749px)"></i><i style="left:326px;background:linear-gradient(#354a91 0,#354a91 614px,#76c6da 615px,#7dc8d2 617px,#7fc7ba 622px,#73bd94 630px,#5cb85f 647px,#52b043 677px,#5bb445 749px)"></i><i style="left:328px;background:linear-gradient(#354a91 0,#354a91 614px,#7dc8d4 615px,#7ec6b7 621px,#73be95 628px,#5bb85e 646px,#52b043 676px,#5bb545 746px,#5bb545 749px)"></i><i style="left:330px;background:linear-gradient(#354a91 0,#354a91 613px,#7dc8d1 614px,#7ec6b9 619px,#72bd93 627px,#5cb85f 644px,#52b043 673px,#5cb545 748px,#5cb545 749px)"></i><i style="left:332px;background:linear-gradient(#354a91 0,#354a91 613px,#7ec8c9 614px,#7dc5b6 618px,#73be95 625px,#5cb861 641px,#54b249 663px,#54b143 676px,#5cb545 749px)"></i><i style="left:334px;background:linear-gradient(#354a91 0,#354a91 612px,#7fc8c7 613px,#74be96 623px,#5cb85f 640px,#52b043 669px,#5cb545 731px,#5db545 749px)"></i><i style="left:336px;background:linear-gradient(#354a91 0,#354a91 612px,#80c8bf 613px,#74be97 621px,#5db862 637px,#54b249 659px,#54b143 672px,#5db645 744px,#5db645 749px)"></i><i style="left:338px;background:linear-gradient(#354a91 0,#354a91 611px,#7fc7bb 612px,#71bd90 621px,#5cb860 636px,#54b147 659px,#55b143 671px,#5eb645 749px)"></i><i style="left:340px;background:linear-gradient(#354a91 0,#354a91 611px,#7cc4b2 612px,#72bd91 619px,#5bb85e 635px,#52b043 663px,#5cb545 708px,#5fb645 749px)"></i><i style="left:342px;background:linear-gradient(#354a91 0,#354a91 610px,#7bc3ae 611px,#70bc8e 618px,#5cb860 632px,#53b145 657px,#5eb645 727px,#5fb745 749px)"></i><i style="left:344px;background:linear-gradient(#354a91 0,#354a91 609px,#7ac2aa 610px,#6ebb88 618px,#5cb860 630px,#52b043 657px,#5cb545 699px,#60b746 749px)"></i><i style="left:346px;background:linear-gradient(#354a91 0,#354a91 609px,#78c0a0 610px,#62b96d 624px,#5bb75d 630px,#52b043 656px,#5cb545 693px,#61b746 749px)"></i><i style="left:348px;background:linear-gradient(#354a91 0,#354a91 608px,#77bf9d 609px,#5db863 625px,#56b34e 641px,#53b143 656px,#5db645 696px,#61b846 749px)"></i><i style="left:350px;background:linear-gradient(#354a91 0,#354a91 608px,#73be95 609px,#5cb860 624px,#53b145 648px,#5fb745 704px,#62b846 749px)"></i><i style="left:352px;background:linear-gradient(#354a91 0,#354a91 607px,#72bd92 608px,#5cb860 622px,#53b146 644px,#57b344 660px,#61b846 720px,#64b947 749px)"></i><i style="left:354px;background:linear-gradient(#354a91 0,#354a91 607px,#6fbb8a 608px,#5bb85e 621px,#52b043 646px,#5eb645 684px,#67ba47 749px)"></i><i style="left:356px;background:linear-gradient(#354a91 0,#354a91 606px,#6dbb87 607px,#5cb860 618px,#53b146 640px,#56b244 652px,#60b746 694px,#69bb48 749px)"></i><i style="left:358px;background:linear-gradient(#354a91 0,#354a91 606px,#6aba7f 607px,#5bb85e 617px,#52b043 640px,#5fb745 681px,#6cbc48 749px)"></i><i style="left:360px;background:linear-gradient(#354a91 0,#354a91 605px,#68b97b 606px,#5bb75e 615px,#52b043 638px,#5fb745 677px,#6abb48 719px,#6fbd49 749px)"></i><i style="left:362px;background:linear-gradient(#354a91 0,#354a91 605px,#64b973 606px,#5bb75e 613px,#52b043 635px,#60b746 677px,#6abb48 710px,#71be4a 749px)"></i><i style="left:364px;background:linear-gradient(#354a91 0,#354a91 604px,#62b96e 605px,#5bb75d 611px,#52b043 633px,#61b746 675px,#74bf4a 738px,#74bf4a 749px)"></i><i style="left:366px;background:linear-gradient(#354a91 0,#354a91 604px,#5fb866 605px,#58b555 614px,#53b143 632px,#62b846 675px,#76c04b 729px,#78c04b 749px)"></i><i style="left:368px;background:linear-gradient(#354a91 0,#354a91 603px,#5db862 604px,#54b148 622px,#54b143 631px,#78c04b 723px,#7bc24c 749px)"></i><i style="left:370px;background:linear-gradient(#354a91 0,#354a91 603px,#5bb75d 604px,#52b043 624px,#6dbc49 682px,#7ec34d 732px,#7fc34d 749px)"></i><i style="left:372px;background:linear-gradient(#354a91 0,#354a91 602px,#5ab65a 603px,#52b043 621px,#67ba47 663px,#7ec34d 714px,#83c54e 749px)"></i><i style="left:374px;background:linear-gradient(#354a91 0,#354a91 602px,#58b556 603px,#52b043 618px,#66b947 656px,#7ac14c 691px,#87c64f 737px,#88c64f 749px)"></i><i style="left:376px;background:linear-gradient(#354a91 0,#354a91 602px,#57b452 603px,#53b143 616px,#65b947 651px,#75bf4a 670px,#89c74f 723px,#8cc850 749px)"></i><i style="left:378px;background:linear-gradient(#354a91 0,#354a91 601px,#56b34f 602px,#53b143 613px,#66ba47 647px,#78c04b 667px,#8fc950 725px,#92ca50 749px)"></i><i style="left:380px;background:linear-gradient(#354a91 0,#354a91 601px,#55b24b 602px,#53b143 610px,#65b947 642px,#7cc24c 665px,#96cc50 731px,#98cc50 749px)"></i><i style="left:382px;background:linear-gradient(#354a91 0,#354a91 600px,#54b148 601px,#54b143 608px,#64b947 637px,#7dc24c 659px,#9acd50 723px,#9ecf50 749px)"></i><i style="left:384px;background:linear-gradient(#354a91 0,#354a91 599px,#53b145 600px,#66ba47 634px,#81c44d 657px,#9fcf50 719px,#a4d150 749px)"></i><i style="left:386px;background:linear-gradient(#354a91 0,#354a91 598px,#53b043 599px,#66ba47 630px,#82c44e 652px,#a2d050 711px,#aad350 749px)"></i><i style="left:388px;background:linear-gradient(#354a91 0,#354a91 596px,#53b143 597px,#66ba47 626px,#87c64f 652px,#a5d150 704px,#afd550 745px,#afd550 749px)"></i><i style="left:390px;background:linear-gradient(#354a91 0,#354a91 596px,#56b244 597px,#66ba47 622px,#88c74f 648px,#a3d050 687px,#b3d750 733px,#b5d750 749px)"></i><i style="left:392px;background:linear-gradient(#354a91 0,#354a91 595px,#57b344 596px,#66ba47 618px,#8ac750 645px,#9cce50 666px,#b4d750 715px,#bad950 749px)"></i><i style="left:394px;background:linear-gradient(#354a91 0,#354a91 595px,#59b444 596px,#65b947 614px,#8cc850 642px,#a1d050 665px,#bad950 718px,#bfdb50 749px)"></i><i style="left:396px;background:linear-gradient(#354a91 0,#354a91 594px,#5bb445 595px,#66ba47 611px,#96cc50 645px,#aed450 679px,#c1dc50 728px,#c4dd50 749px)"></i><i style="left:398px;background:linear-gradient(#354a91 0,#354a91 594px,#5db545 595px,#66b947 607px,#99cd50 643px,#afd550 673px,#c5dd4f 725px,#c9df4e 749px)"></i><i style="left:400px;background:linear-gradient(#354a91 0,#354a91 594px,#5eb645 595px,#69bb48 606px,#99cd50 639px,#acd450 661px,#c8df4e 720px,#cde04d 749px)"></i><i style="left:402px;background:linear-gradient(#354a91 0,#354a91 593px,#60b746 594px,#68ba47 602px,#97cc50 634px,#add450 656px,#cce04d 719px,#d1e24c 749px)"></i><i style="left:404px;background:linear-gradient(#354a91 0,#354a91 593px,#61b846 594px,#98cd50 631px,#aed550 651px,#d2e24c 723px,#d6e44b 749px)"></i><i style="left:406px;background:linear-gradient(#354a91 0,#354a91 593px,#66ba47 594px,#98cd50 627px,#afd550 647px,#d2e34c 711px,#dae649 749px)"></i><i style="left:408px;background:linear-gradient(#354a91 0,#354a91 593px,#6cbc48 594px,#98cd50 623px,#b2d650 644px,#d2e34c 700px,#dee748 741px,#dee848 749px)"></i><i style="left:410px;background:linear-gradient(#354a91 0,#354a91 593px,#72be4a 594px,#9ecf50 623px,#b5d750 643px,#d9e54a 705px,#e3e947 748px,#e3e947 749px)"></i><i style="left:412px;background:linear-gradient(#354a91 0,#354a91 593px,#78c04b 594px,#a0cf50 620px,#b9d950 642px,#dde749 703px,#e7eb46 748px,#e7eb46 749px)"></i><i style="left:414px;background:linear-gradient(#354a91 0,#354a91 593px,#7ec34d 594px,#b5d750 632px,#dae649 688px,#e9ec45 731px,#ebed45 749px)"></i><i style="left:416px;background:linear-gradient(#354a91 0,#354a91 593px,#84c54e 594px,#b5d750 628px,#cfe14d 661px,#e9ec45 714px,#eeee43 749px)"></i><i style="left:418px;background:linear-gradient(#354a91 0,#354a91 593px,#89c74f 594px,#b7d850 625px,#d3e34b 661px,#eced45 712px,#efec3d 749px)"></i><i style="left:420px;background:linear-gradient(#354a91 0,#354a91 593px,#8fc950 594px,#b8d850 622px,#d0e24c 650px,#edee44 705px,#f0ea38 747px,#f0ea38 749px)"></i><i style="left:422px;background:linear-gradient(#354a91 0,#354a91 593px,#95cb50 594px,#beda50 623px,#dae64a 660px,#eeed42 703px,#f1e935 738px,#f1e834 749px)"></i><i style="left:424px;background:linear-gradient(#354a91 0,#354a91 422px,#365399 423px,#354a91 424px,#354a91 593px,#9bcd50 594px,#bfdb50 621px,#d3e34b 644px,#eeee43 695px,#f1e832 732px,#f2e730 749px)"></i><i style="left:426px;background:linear-gradient(#354a91 0,#354a91 421px,#385ba1 423px,#354a91 424px,#354a91 593px,#a0cf50 594px,#c4dd4f 622px,#dbe649 652px,#efed41 693px,#f2e730 729px,#f2e62d 749px)"></i><i style="left:428px;background:linear-gradient(#354a91 0,#354a91 419px,#37559c 421px,#3961a7 423px,#354a91 424px,#354a91 593px,#a5d150 594px,#cadf4e 625px,#ebed45 677px,#efec3e 693px,#f2e62d 732px,#f3e52b 749px)"></i><i style="left:430px;background:linear-gradient(#354a91 0,#354c93 418px,#3a6aaf 423px,#354a91 424px,#354a91 593px,#a8d350 594px,#cde04d 625px,#eeee43 683px,#f2e62d 727px,#f3e52a 749px)"></i><i style="left:432px;background:linear-gradient(#354a91 0,#354c93 416px,#3c74b8 423px,#354a91 424px,#354a91 593px,#acd450 594px,#d0e24c 627px,#eeed42 683px,#f2e62e 724px,#f3e52a 749px)"></i><i style="left:434px;background:linear-gradient(#354a91 0,#354a91 413px,#3c74b7 421px,#3d7ec1 423px,#354a91 424px,#354a91 593px,#aed550 594px,#d0e24c 626px,#eeee43 683px,#f2e62e 726px,#f3e52b 749px)"></i><i style="left:436px;background:linear-gradient(#354a91 0,#354b92 411px,#3e7fc2 421px,#3d8ccc 423px,#354a91 424px,#354a91 593px,#b0d550 594px,#d0e24c 626px,#efed41 688px,#f2e72f 729px,#f2e62d 749px)"></i><i style="left:438px;background:linear-gradient(#354a91 0,#354c93 409px,#3e88c9 420px,#3d9eda 423px,#354a91 424px,#354a91 593px,#b2d650 594px,#d0e24c 627px,#eeee43 688px,#f1e832 728px,#f2e72f 749px)"></i><i style="left:440px;background:linear-gradient(#354a91 0,#354b92 406px,#3e83c5 417px,#3ca4df 421px,#3faae3 423px,#354a91 424px,#354a91 593px,#b3d650 594px,#cfe14c 627px,#eeee44 691px,#f1e934 733px,#f1e833 749px)"></i><i style="left:442px;background:linear-gradient(#354a91 0,#354c93 404px,#3e86c7 415px,#3ca6e1 419px,#47b0e6 423px,#354a91 424px,#354a91 593px,#b3d650 594px,#cce04d 624px,#eced45 691px,#f1e937 742px,#f1e937 749px)"></i><i style="left:444px;background:linear-gradient(#354a91 0,#354a91 401px,#3e81c3 412px,#3da9e2 417px,#4eb5e8 422px,#52b7e6 423px,#354a91 424px,#354a91 593px,#b3d750 594px,#cce04d 627px,#eaec45 693px,#f0eb3b 741px,#f0eb3b 749px)"></i><i style="left:446px;background:linear-gradient(#354a91 0,#354b92 399px,#3a6aaf 405px,#3e84c6 410px,#3ca5e0 414px,#4cb4e8 419px,#63bee1 422px,#67bfdf 423px,#354a91 424px,#354a91 593px,#b3d650 594px,#cadf4e 627px,#e8ec46 695px,#efed40 739px,#efed40 749px)"></i><i style="left:448px;background:linear-gradient(#354a91 0,#354b92 397px,#3965ab 402px,#3d8ecd 409px,#3ca7e1 412px,#4db5e8 417px,#71c3dc 421px,#7bc7d8 423px,#354a91 424px,#354a91 593px,#b2d650 594px,#c6de4f 624px,#e3ea47 689px,#edee44 741px,#eeee44 749px)"></i><i style="left:450px;background:linear-gradient(#354a91 0,#354b92 395px,#385ea4 399px,#3e87c8 406px,#3ca7e1 410px,#4eb5e8 415px,#7cc8d8 420px,#7ec8cf 423px,#354a91 424px,#354a91 593px,#b1d650 594px,#c1dc50 619px,#e0e848 689px,#eaec45 743px,#eaec45 749px)"></i><i style="left:452px;background:linear-gradient(#354a91 0,#354b92 393px,#385ca3 397px,#3d8fce 405px,#3ca6e1 408px,#4eb6e7 413px,#7cc8d8 418px,#7fc8c7 422px,#7fc8c6 423px,#354a91 424px,#354a91 593px,#b0d650 594px,#c2dc50 625px,#dee848 693px,#e7eb46 749px)"></i><i style="left:454px;background:linear-gradient(#354a91 0,#354a91 391px,#385ba1 395px,#3e80c2 401px,#3ca6e0 406px,#4db5e8 411px,#7bc8d8 416px,#80c8bf 422px,#7fc7bd 423px,#354a91 424px,#354a91 593px,#afd550 594px,#cce04d 652px,#e0e848 714px,#e3ea47 749px)"></i><i style="left:456px;background:linear-gradient(#354a91 0,#354c93 390px,#3a65ab 395px,#3d9cd9 403px,#3ea9e3 405px,#4cb4e8 409px,#7ac7d9 414px,#7fc7bd 420px,#7dc5b3 423px,#354a91 424px,#354a91 593px,#aed550 594px,#cfe14d 666px,#dfe848 730px,#e0e848 749px)"></i><i style="left:458px;background:linear-gradient(#354a91 0,#354c92 388px,#385da3 392px,#3d93d1 400px,#3da9e2 403px,#50b6e7 408px,#77c6da 412px,#7dc8d2 414px,#7ec6b9 419px,#7bc3aa 423px,#354a91 424px,#354a91 593px,#add450 594px,#cee14d 673px,#dce749 732px,#dde749 749px)"></i><i style="left:460px;background:linear-gradient(#354a91 0,#354b92 386px,#3960a6 391px,#3d97d5 399px,#3ca6e1 401px,#4cb4e8 406px,#7ac7d9 411px,#7fc7bd 417px,#7ac2a8 421px,#79c1a3 423px,#354a91 424px,#354a91 593px,#acd450 594px,#cfe14d 682px,#d9e64a 742px,#d9e64a 749px)"></i><i style="left:462px;background:linear-gradient(#354a91 0,#354b92 384px,#37599f 388px,#3d8ccc 396px,#3da9e2 400px,#4eb5e8 405px,#7cc8d8 410px,#7fc7bd 416px,#79c1a2 421px,#77c09e 423px,#354a91 424px,#354a91 593px,#abd350 594px,#cfe14d 692px,#d7e44a 749px)"></i><i style="left:464px;background:linear-gradient(#354a91 0,#354c93 383px,#385ba2 387px,#3d90cf 395px,#3eaae3 399px,#51b6e7 404px,#76c5da 408px,#7dc8d2 410px,#7fc7bc 415px,#77bf9d 421px,#75bf99 423px,#354a91 424px,#354a91 593px,#a9d350 594px,#cbe04e 688px,#d3e34b 746px,#d4e34b 749px)"></i><i style="left:466px;background:linear-gradient(#354a91 0,#354b92 381px,#38599f 385px,#3d9ad7 395px,#3ca8e2 397px,#4cb4e8 402px,#77c6da 407px,#7dc8d1 409px,#7fc7bc 414px,#76bf9c 420px,#73be95 423px,#354a91 424px,#354a91 593px,#a8d250 594px,#c9df4e 693px,#d0e24c 749px)"></i><i style="left:468px;background:linear-gradient(#354a91 0,#354c93 380px,#3960a6 385px,#3d96d4 393px,#3da9e3 396px,#4db5e8 401px,#79c7d9 406px,#80c8c0 412px,#74be97 420px,#71bd91 423px,#354a91 424px,#354a91 593px,#a6d250 594px,#c3dc50 681px,#cde14d 742px,#cde14d 749px)"></i><i style="left:470px;background:linear-gradient(#354a91 0,#354b92 378px,#385ea4 383px,#3d92d0 391px,#3ca7e1 394px,#4fb6e7 400px,#7bc7d9 405px,#7fc7ba 412px,#74be96 419px,#70bc8c 423px,#354a91 424px,#354a91 593px,#a5d150 594px,#c1dc50 684px,#cadf4e 748px,#cadf4e 749px)"></i><i style="left:472px;background:linear-gradient(#354a91 0,#354c93 377px,#3a65ab 383px,#3d9bd8 391px,#3da8e2 393px,#4bb4e7 398px,#7cc8d8 404px,#80c8bf 410px,#72bd92 419px,#6ebb88 423px,#354a91 424px,#354a91 593px,#a3d050 594px,#bedb50 682px,#c7de4f 749px)"></i><i style="left:474px;background:linear-gradient(#354a91 0,#354b92 375px,#3961a7 381px,#3d97d4 389px,#3da9e3 392px,#4cb4e8 397px,#7cc8d8 403px,#80c8be 409px,#70bc8e 419px,#6cba85 423px,#354a91 424px,#354a91 593px,#a1d050 594px,#bcda50 685px,#c3dc50 749px)"></i><i style="left:476px;background:linear-gradient(#354a91 0,#354c93 374px,#385ea4 379px,#3d92d0 387px,#3ca6e1 390px,#4db5e8 396px,#7cc8d7 402px,#7fc7be 408px,#6ebb89 419px,#6aba80 423px,#354a91 424px,#354a91 593px,#9fcf50 594px,#b9d950 683px,#c0db50 749px)"></i><i style="left:478px;background:linear-gradient(#354a91 0,#354b92 372px,#385ba1 377px,#3d93d2 386px,#3ca8e2 389px,#4db5e8 395px,#7cc8d7 401px,#7fc7be 407px,#6ebb89 418px,#68ba7b 423px,#354a91 424px,#354a91 593px,#9dce50 594px,#b7d850 686px,#bdda50 749px)"></i><i style="left:480px;background:linear-gradient(#354a91 0,#354b92 371px,#3960a6 377px,#3d95d3 385px,#3da8e2 388px,#4eb6e8 394px,#7cc8d7 400px,#7fc7be 406px,#69ba7d 420px,#66b977 423px,#354a91 424px,#354a91 593px,#9bcd50 594px,#b4d750 685px,#bad950 749px)"></i><i style="left:482px;background:linear-gradient(#354a91 0,#354c93 370px,#3961a7 376px,#3d96d4 384px,#3da9e2 387px,#4fb6e7 393px,#7cc8d7 399px,#7fc7be 405px,#69ba7d 419px,#64b973 423px,#354a91 424px,#354a91 593px,#99cd50 594px,#b2d650 690px,#b7d850 749px)"></i><i style="left:484px;background:linear-gradient(#354a91 0,#354b92 368px,#385ea4 374px,#3d91d0 382px,#3ea9e3 386px,#50b6e7 392px,#7cc8d7 398px,#7fc7be 404px,#6dba86 416px,#64b972 421px,#63b96f 423px,#354a91 424px,#354a91 593px,#97cc50 594px,#b0d550 694px,#b4d750 749px)"></i><i style="left:486px;background:linear-gradient(#354a91 0,#354b92 367px,#385fa5 373px,#3d92d0 381px,#3ca6e0 384px,#51b7e7 391px,#7cc8d7 397px,#80c8be 403px,#69ba7d 417px,#61b96c 422px,#61b96b 423px,#354a91 424px,#354a91 593px,#94cb50 594px,#abd450 682px,#b2d650 749px)"></i><i style="left:488px;background:linear-gradient(#354a91 0,#354c93 366px,#395fa6 372px,#3d9ad7 381px,#3eaae3 384px,#51b7e7 390px,#7cc8d7 396px,#80c8bf 402px,#69ba7e 416px,#60b96a 421px,#5fb867 423px,#354a91 424px,#354a91 593px,#92ca50 594px,#a9d350 687px,#aed550 749px)"></i><i style="left:490px;background:linear-gradient(#354a91 0,#354c93 365px,#3960a6 371px,#3d94d2 379px,#3ca8e2 382px,#4cb4e8 388px,#7cc8d7 395px,#7ec6ba 402px,#6aba7f 415px,#5fb867 421px,#5eb864 423px,#354a91 424px,#354a91 593px,#90c950 594px,#a7d250 691px,#abd450 749px)"></i><i style="left:492px;background:linear-gradient(#354a91 0,#354b92 363px,#385da3 369px,#3e86c7 376px,#3ca8e2 381px,#4cb4e8 387px,#7cc8d7 394px,#7fc7bb 401px,#74be97 409px,#5fb866 420px,#5cb860 423px,#354a91 424px,#354a91 593px,#8ec950 594px,#a4d150 692px,#a8d350 749px)"></i><i style="left:494px;background:linear-gradient(#354a91 0,#354b92 362px,#3961a7 369px,#3d95d3 377px,#3ca8e2 380px,#4cb4e8 386px,#7cc8d7 393px,#7ec6b6 401px,#69ba7d 414px,#5db862 420px,#5cb85f 423px,#354a91 424px,#354a91 593px,#8bc850 594px,#a0d050 685px,#a5d150 749px)"></i><i style="left:496px;background:linear-gradient(#354a91 0,#354c93 361px,#385ea4 367px,#3e88c8 374px,#3ca8e2 379px,#4cb4e8 385px,#7cc8d8 392px,#7ec6b7 400px,#67b979 414px,#5cb860 420px,#5bb75d 423px,#354a91 424px,#354a91 593px,#8ac74f 594px,#9fcf50 699px,#a2d050 749px)"></i><i style="left:498px;background:linear-gradient(#354a91 0,#354c93 360px,#3962a8 367px,#3d96d4 375px,#3ca8e2 378px,#4cb4e8 384px,#7cc8d8 391px,#7ec6b8 399px,#68b97b 413px,#5cb860 419px,#5bb75c 423px,#354a91 424px,#354a91 593px,#88c64f 594px,#9dce50 706px,#9fcf50 749px)"></i><i style="left:500px;background:linear-gradient(#354a91 0,#354c93 359px,#3963a8 366px,#3d8fcf 373px,#3ca8e2 377px,#51b7e7 384px,#7bc8d8 390px,#80c8be 397px,#72bd93 407px,#5cb860 418px,#5ab65b 423px,#354a91 424px,#354a91 593px,#86c64f 594px,#9acd50 707px,#9cce50 749px)"></i><i style="left:502px;background:linear-gradient(#354a91 0,#354c93 358px,#3963a9 365px,#3d8fce 372px,#3ca8e2 376px,#50b6e7 383px,#7ac7d9 389px,#7fc7bb 397px,#71bd90 407px,#5cb85f 418px,#5ab659 423px,#354a91 424px,#354a91 593px,#84c54e 594px,#98cc50 715px,#99cd50 749px)"></i><i style="left:504px;background:linear-gradient(#354a91 0,#354c93 357px,#3963a8 364px,#3d95d3 372px,#3ca8e2 375px,#4fb6e7 382px,#7cc8d6 389px,#7ec6b7 397px,#70bc8e 407px,#5cb860 417px,#59b658 423px,#354a91 424px,#354a91 593px,#83c44e 594px,#95cb50 720px,#96cc50 749px)"></i><i style="left:506px;background:linear-gradient(#354a91 0,#354b92 355px,#385ea4 362px,#3e86c7 369px,#3ca7e2 374px,#4eb6e8 381px,#7cc8d7 388px,#7ec6b9 396px,#6fbc8b 407px,#5bb85e 417px,#59b657 423px,#354a91 424px,#354a91 593px,#81c44d 594px,#93cb50 729px,#93cb50 749px)"></i><i style="left:508px;background:linear-gradient(#354a91 0,#354b92 354px,#385ea4 361px,#3d8dcd 369px,#3ca6e1 373px,#4db5e8 380px,#7bc8d8 387px,#7fc7bb 395px,#71bd90 405px,#66b977 411px,#5cb85f 416px,#59b556 423px,#354a91 424px,#354a91 593px,#7fc34d 594px,#8fc950 718px,#90ca50 749px)"></i><i style="left:510px;background:linear-gradient(#354a91 0,#354c93 354px,#3961a7 361px,#3d99d6 370px,#3da9e2 373px,#4cb4e8 379px,#79c7d9 386px,#7fc7bd 394px,#72bd92 404px,#67b97a 410px,#5bb85e 416px,#58b556 423px,#354a91 424px,#354a91 593px,#7dc24c 594px,#8cc850 711px,#8dc950 749px)"></i><i style="left:512px;background:linear-gradient(#354a91 0,#354c93 353px,#3961a7 360px,#3e8aca 367px,#3da9e2 372px,#50b6e7 379px,#7cc8d7 386px,#7ec6ba 394px,#71bd90 404px,#66b978 410px,#5cb860 415px,#58b555 423px,#354a91 424px,#354a91 593px,#7cc24c 594px,#8ac750 719px,#8bc850 749px)"></i><i style="left:514px;background:linear-gradient(#354a91 0,#354c93 352px,#3960a6 359px,#3d8fce 367px,#3ca8e2 371px,#4eb5e8 378px,#7bc8d8 385px,#7fc7bc 393px,#72bd92 403px,#63b971 411px,#5cb85f 415px,#58b554 423px,#354a91 424px,#354a91 593px,#7ac14c 594px,#88c64f 720px,#89c74f 749px)"></i><i style="left:516px;background:linear-gradient(#354a91 0,#354c93 351px,#385fa5 358px,#3d8dcd 366px,#3ca6e0 370px,#4cb4e8 377px,#7cc8d7 385px,#7ec6ba 393px,#71bd90 403px,#63b96f 411px,#5bb75e 415px,#58b553 423px,#354a91 424px,#354a91 593px,#78c04b 594px,#85c54e 713px,#86c64f 749px)"></i><i style="left:518px;background:linear-gradient(#354a91 0,#354b92 350px,#3961a7 358px,#3e8acb 365px,#3da9e2 370px,#4fb6e7 377px,#7cc8d8 384px,#7ec6b8 393px,#71bc8f 403px,#64b972 410px,#5bb75d 415px,#57b453 423px,#354a91 424px,#354a91 593px,#76c04b 594px,#83c54e 715px,#84c54e 749px)"></i><i style="left:520px;background:linear-gradient(#354a91 0,#354c93 350px,#3960a6 357px,#3e87c8 364px,#3ca7e2 369px,#4db5e8 376px,#79c7d9 383px,#80c8bf 391px,#73be94 401px,#65b975 409px,#5bb75c 415px,#57b452 423px,#354a91 424px,#354a91 593px,#75bf4a 594px,#81c44d 726px,#82c44e 749px)"></i><i style="left:522px;background:linear-gradient(#354a91 0,#354c93 349px,#3962a8 357px,#3d8ccc 364px,#3da9e2 369px,#50b6e7 376px,#7cc8d8 383px,#7ec6b8 392px,#6fbc8c 403px,#5eb865 412px,#59b556 418px,#57b451 423px,#354a91 424px,#354a91 593px,#73be4a 594px,#7fc34d 730px,#7fc34d 749px)"></i><i style="left:524px;background:linear-gradient(#354a91 0,#354b92 348px,#3961a7 356px,#3e89c9 363px,#3ca8e2 368px,#4db5e8 375px,#79c7d9 382px,#80c8bf 390px,#70bc8e 402px,#66b976 408px,#5bb75d 414px,#57b451 422px,#57b451 423px,#354a91 424px,#354a91 593px,#71be4a 594px,#7cc24c 722px,#7dc24c 749px)"></i><i style="left:526px;background:linear-gradient(#354a91 0,#354c93 348px,#3964a9 356px,#3d8dcd 363px,#3ca6e0 367px,#50b6e7 375px,#7cc8d8 382px,#7ec6b8 391px,#71bd90 401px,#63b970 409px,#5bb85e 413px,#57b451 422px,#57b450 423px,#354a91 424px,#354a91 593px,#6fbd49 594px,#7ac14c 726px,#7ac14c 749px)"></i><i style="left:528px;background:linear-gradient(#354a91 0,#354c93 347px,#385ea4 354px,#3e8aca 362px,#3ca8e2 367px,#4db5e8 374px,#79c7d9 381px,#80c8bf 389px,#6fbc8b 402px,#62b96e 409px,#5bb75e 413px,#56b450 422px,#56b350 423px,#354a91 424px,#354a91 593px,#6ebc49 594px,#78c04b 743px,#78c04b 749px)"></i><i style="left:530px;background:linear-gradient(#354a91 0,#354b92 346px,#3960a6 354px,#3d8ecd 362px,#3ca6e1 366px,#51b6e7 374px,#7cc8d8 381px,#7ec6b9 390px,#70bc8d 401px,#62b96d 409px,#5bb75d 413px,#56b34f 422px,#56b34f 423px,#354a91 424px,#354a91 593px,#6cbc48 594px,#76bf4b 749px)"></i><i style="left:532px;background:linear-gradient(#354a91 0,#354c93 346px,#3962a8 354px,#3e8bcb 361px,#3da9e2 366px,#4db5e8 373px,#7cc8d7 381px,#7ec6b7 390px,#6dba85 403px,#5bb75c 413px,#56b34f 422px,#56b34f 423px,#354a91 424px,#354a91 593px,#6abb48 594px,#73bf4a 744px,#73bf4a 749px)"></i><i style="left:534px;background:linear-gradient(#354a91 0,#354c93 345px,#385da3 352px,#3e87c8 360px,#3ca7e1 365px,#51b6e7 373px,#7bc8d8 380px,#80c8be 388px,#70bc8e 400px,#60b96a 409px,#5bb75e 412px,#56b34e 422px,#56b34e 423px,#354a91 424px,#354a91 593px,#68ba47 594px,#71be4a 749px)"></i><i style="left:536px;background:linear-gradient(#354a91 0,#354b92 344px,#395fa5 352px,#3e8bcb 360px,#3da9e2 365px,#4db5e8 372px,#7cc8d7 380px,#7ec6b8 389px,#6dbb86 402px,#5bb75d 412px,#56b34e 422px,#56b34e 423px,#354a91 424px,#354a91 593px,#66ba47 594px,#6ebd49 741px,#6ebd49 749px)"></i><i style="left:538px;background:linear-gradient(#354a91 0,#354c93 344px,#3961a7 352px,#3e87c8 359px,#3ca7e1 364px,#50b6e7 372px,#7bc7d9 379px,#7fc7bb 388px,#71bc8f 399px,#63b970 407px,#5cb85f 411px,#56b34e 421px,#55b34d 423px,#354a91 424px,#354a91 593px,#64b947 594px,#6cbc48 749px)"></i><i style="left:540px;background:linear-gradient(#354a91 0,#354b92 343px,#395fa5 351px,#3e8bcb 359px,#3da9e2 364px,#4db5e8 371px,#7cc8d7 379px,#7ec6b9 388px,#65b973 406px,#5bb85e 411px,#56b34e 421px,#55b34d 423px,#354a91 424px,#354a91 593px,#63b846 594px,#6abb48 749px)"></i><i style="left:542px;background:linear-gradient(#354a91 0,#354c93 343px,#3961a7 351px,#3e87c8 358px,#3ca7e1 363px,#4fb6e7 371px,#79c7d9 378px,#80c8c0 386px,#6dbb86 401px,#5bb75e 411px,#55b34d 421px,#55b34c 423px,#354a91 424px,#354a91 593px,#62b846 594px,#67ba47 749px)"></i><i style="left:544px;background:linear-gradient(#354a91 0,#354b92 342px,#395fa5 350px,#3e8acb 358px,#3ca8e2 363px,#52b7e6 371px,#7cc8d8 378px,#7fc7bb 387px,#71bc8f 398px,#62b96d 407px,#5bb75d 411px,#55b34d 421px,#55b24c 423px,#354a91 424px,#354a91 593px,#61b846 594px,#65b947 749px)"></i><i style="left:546px;background:linear-gradient(#354a91 0,#354c93 342px,#3961a7 350px,#3e86c7 357px,#3ca6e0 362px,#4eb6e8 370px,#7cc8d7 378px,#7ec6b9 387px,#6fbc8b 399px,#5fb867 408px,#59b556 414px,#55b24c 423px,#354a91 424px,#354a91 593px,#61b746 594px,#63b846 749px)"></i><i style="left:548px;background:linear-gradient(#354a91 0,#354b92 341px,#395fa5 349px,#3e89ca 357px,#3ca8e2 362px,#51b6e7 370px,#7ac7d9 377px,#7fc7bc 386px,#6fbb8a 399px,#5bb75c 411px,#55b34c 421px,#55b24b 423px,#354a91 424px,#354a91 593px,#60b746 594px,#62b846 749px)"></i><i style="left:550px;background:linear-gradient(#354a91 0,#354c93 341px,#3960a7 349px,#3d8ccc 357px,#3da9e2 362px,#4db5e8 369px,#7cc8d8 377px,#7fc7bb 386px,#70bc8d 398px,#5bb75e 410px,#55b34d 420px,#55b24b 423px,#354a91 424px,#354a91 593px,#60b746 594px,#61b846 749px)"></i><i style="left:552px;background:linear-gradient(#354a91 0,#354b92 340px,#385fa5 348px,#3e87c8 356px,#3ca7e1 361px,#4fb6e7 369px,#7cc8d7 377px,#7fc7ba 386px,#6fbc8c 398px,#5bb75e 410px,#55b34c 420px,#55b24b 423px,#354a91 424px,#354a91 593px,#5fb745 594px,#60b746 749px)"></i><i style="left:554px;background:linear-gradient(#354a91 0,#354c93 340px,#3960a6 348px,#3e82c4 355px,#3ca3de 360px,#43aee5 364px,#50b6e7 369px,#7cc8d6 377px,#7ec6b9 386px,#6ebb88 399px,#5ab75b 411px,#55b24b 421px,#55b24b 423px,#354a91 424px,#354a91 593px,#5fb645 594px,#60b746 749px)"></i><i style="left:556px;background:linear-gradient(#354a91 0,#354c93 340px,#3961a7 348px,#3d8ccc 356px,#3da9e2 361px,#52b7e6 369px,#7bc7d8 376px,#7fc7bc 385px,#6fbb8b 398px,#5bb75d 410px,#55b24b 421px,#55b24a 423px,#354a91 424px,#354a91 593px,#5eb645 594px,#5fb745 749px)"></i><i style="left:558px;background:linear-gradient(#354a91 0,#354c92 339px,#385fa5 347px,#3e87c8 355px,#3ca6e1 360px,#4eb5e8 368px,#7cc8d8 376px,#7fc7bc 385px,#70bc8e 397px,#5bb75d 410px,#55b24b 421px,#55b24a 423px,#354a91 424px,#354a91 593px,#5eb645 594px,#5fb645 749px)"></i><i style="left:560px;background:linear-gradient(#354a91 0,#354c93 339px,#3960a6 347px,#3e89ca 355px,#3ca8e2 360px,#4fb6e7 368px,#7cc8d7 376px,#7fc7bb 385px,#70bc8d 397px,#5fb867 407px,#59b556 413px,#55b24a 423px,#354a91 424px,#354a91 593px,#5db645 594px,#5eb645 749px)"></i><i style="left:562px;background:linear-gradient(#354a91 0,#354c93 339px,#3961a7 347px,#3e83c5 354px,#3ca3de 359px,#43aee5 363px,#50b6e7 368px,#7cc8d7 376px,#7fc7ba 385px,#6cba83 400px,#5cb85f 409px,#55b24c 420px,#55b24a 423px,#354a91 424px,#354a91 593px,#5db545 594px,#5eb645 749px)"></i><i style="left:564px;background:linear-gradient(#354a91 0,#354b92 338px,#3961a7 347px,#3d8ccc 355px,#3da9e2 360px,#51b7e7 368px,#7cc8d7 376px,#7ec6ba 385px,#70bc8d 397px,#5fb867 407px,#59b556 413px,#55b24a 423px,#354a91 424px,#354a91 593px,#5cb545 594px,#5db645 749px)"></i><i style="left:566px;background:linear-gradient(#354a91 0,#354c93 338px,#385fa5 346px,#3e86c7 354px,#3ca5e0 359px,#4db5e8 367px,#7ac7d9 375px,#7fc7be 384px,#71bd90 396px,#5fb867 407px,#59b556 413px,#55b24a 423px,#354a91 424px,#354a91 593px,#5cb545 594px,#5db545 749px)"></i><i style="left:568px;background:linear-gradient(#354a91 0,#354c93 338px,#395fa5 346px,#3e87c8 354px,#3ca6e0 359px,#4db5e8 367px,#7ac7d9 375px,#7fc7be 384px,#71bd90 396px,#61b96b 406px,#5bb75d 410px,#55b24b 421px,#55b24b 423px,#354a91 424px,#354a91 593px,#5bb545 594px,#5cb545 749px)"></i><i style="left:570px;background:linear-gradient(#354a91 0,#354c93 338px,#3963a9 347px,#3e88c9 354px,#3ca6e1 359px,#4db5e8 367px,#7ac7d9 375px,#7fc7be 384px,#71bd90 396px,#63b970 405px,#5bb75d 410px,#55b34c 420px,#55b24b 423px,#354a91 424px,#354a91 593px,#5bb445 594px,#5cb545 749px)"></i><i style="left:572px;background:linear-gradient(#354a91 0,#354c93 338px,#3960a6 346px,#3e89ca 354px,#3ca7e1 359px,#4db5e8 367px,#7ac7d9 375px,#7fc7be 384px,#71bd90 396px,#61b96c 406px,#5bb75d 410px,#55b24b 422px,#55b24b 423px,#354a91 424px,#354a91 593px,#5ab445 594px,#5bb545 749px)"></i><i style="left:574px;background:linear-gradient(#354a91 0,#354b92 337px,#385da4 345px,#3e82c4 353px,#3ca2dd 358px,#42ade4 362px,#4db5e8 367px,#7ac7d9 375px,#7fc7be 384px,#6fbb8a 398px,#5ab75b 411px,#55b24c 422px,#55b24c 423px,#354a91 424px,#354a91 593px,#5ab444 594px,#5bb445 749px)"></i><i style="left:576px;background:linear-gradient(#354a91 0,#354b92 337px,#3961a7 346px,#3e8acb 354px,#3ca7e2 359px,#4db5e8 367px,#7ac7d9 375px,#7fc7be 384px,#70bc8e 397px,#5bb75e 410px,#56b34e 420px,#55b24c 424px,#354a91 425px,#354a91 593px,#5ab444 594px,#5ab445 749px)"></i><i style="left:578px;background:linear-gradient(#354a91 0,#354c93 337px,#385ea4 345px,#3e8bcb 354px,#3ca8e2 359px,#4db5e8 367px,#7ac7d9 375px,#7fc7ba 385px,#6fbc8b 398px,#5bb75c 411px,#56b34d 421px,#55b34c 424px,#354a91 425px,#354a91 593px,#59b444 594px,#5ab444 749px)"></i><i style="left:580px;background:linear-gradient(#354a91 0,#354c93 337px,#385fa5 345px,#3e84c6 353px,#3ca8e2 359px,#4db5e8 367px,#7ac7d9 375px,#7fc7ba 385px,#6ebb89 399px,#5bb75c 411px,#56b34d 422px,#55b34d 424px,#354a91 425px,#354a91 593px,#59b344 594px,#59b444 749px)"></i><i style="left:582px;background:linear-gradient(#354a91 0,#354c93 337px,#3962a8 346px,#3d8ccc 354px,#3ca8e2 359px,#4db5e8 367px,#7ac7d9 375px,#7fc7bb 385px,#71bc8f 397px,#61b96b 407px,#5bb75d 411px,#56b34e 421px,#56b34d 424px,#354a91 425px,#354a91 593px,#58b344 594px,#59b344 749px)"></i><i style="left:584px;background:linear-gradient(#354a91 0,#354c93 337px,#3962a8 346px,#3d8ccc 354px,#3ca8e2 359px,#4db5e8 367px,#7cc8d7 376px,#7fc7bb 385px,#6ebb8a 399px,#5bb75d 411px,#56b34e 422px,#56b34e 424px,#354a91 425px,#354a91 593px,#58b344 594px,#58b344 749px)"></i><i style="left:586px;background:linear-gradient(#354a91 0,#354c93 337px,#3963a9 346px,#3d8dcc 354px,#3ca8e2 359px,#4db5e8 367px,#7cc8d7 376px,#7fc7bc 385px,#70bc8d 398px,#64b971 406px,#5bb75e 411px,#56b34f 422px,#56b34f 424px,#354a91 425px,#354a91 593px,#57b344 594px,#58b344 749px)"></i><i style="left:588px;background:linear-gradient(#354a91 0,#354c93 337px,#3963a9 346px,#3d8dcc 354px,#3ca8e2 359px,#4db5e8 367px,#7cc8d7 376px,#7ec6b8 386px,#6ebb88 400px,#5bb85f 411px,#57b450 421px,#56b34f 424px,#354a91 425px,#354a91 593px,#57b244 594px,#58b344 749px)"></i><i style="left:590px;background:linear-gradient(#354a91 0,#354b92 336px,#3960a6 345px,#3e86c7 353px,#3ca8e2 359px,#51b7e6 368px,#7cc8d8 376px,#7ec6b9 386px,#71bc8f 398px,#61b96b 408px,#5bb75d 412px,#57b450 422px,#56b450 424px,#354a91 425px,#354a91 593px,#56b244 594px,#57b344 749px)"></i><i style="left:592px;background:linear-gradient(#354a91 0,#354b92 336px,#3960a6 345px,#3e86c8 353px,#3ca8e2 359px,#4cb5e8 367px,#7cc8d8 376px,#7ec6ba 386px,#71bc90 398px,#61b96c 408px,#5bb75c 413px,#57b451 423px,#57b451 424px,#354a91 425px,#354a91 593px,#56b244 594px,#57b244 749px)"></i><i style="left:594px;background:linear-gradient(#354a91 0,#354c93 336px,#385da4 344px,#3e87c8 353px,#3ca7e2 359px,#50b6e7 368px,#7bc8d8 376px,#7fc7ba 386px,#6fbb8b 400px,#5bb85f 412px,#57b452 422px,#57b452 424px,#354a91 425px,#354a91 593px,#56b244 594px,#56b244 749px)"></i><i style="left:596px;background:linear-gradient(#354a91 0,#354c93 336px,#385ea4 344px,#3e81c3 352px,#3ca7e1 359px,#50b6e7 368px,#7bc7d8 376px,#7fc7bb 386px,#70bc8e 399px,#64b973 407px,#5bb75d 413px,#57b452 424px,#354a91 425px,#354a91 593px,#55b244 594px,#56b244 749px)"></i><i style="left:598px;background:linear-gradient(#354a91 0,#354c93 336px,#385ea4 344px,#3e87c8 353px,#3ca7e1 359px,#4fb6e7 368px,#7ac7d9 376px,#7fc7bc 386px,#71bc8f 399px,#65b974 407px,#5bb75e 413px,#58b453 423px,#58b453 424px,#354a91 425px,#354a91 593px,#55b144 594px,#55b244 749px)"></i><i style="left:600px;background:linear-gradient(#354a91 0,#354c93 336px,#3961a7 345px,#3d8dcd 354px,#3ca7e1 359px,#4eb6e7 368px,#7cc8d7 377px,#7ec6b9 387px,#70bc8d 400px,#64b971 408px,#5cb85f 413px,#58b554 423px,#58b554 424px,#354a91 425px,#354a91 593px,#55b143 594px,#55b244 749px)"></i><i style="left:602px;background:linear-gradient(#354a91 0,#354c93 336px,#3961a7 345px,#3d92d1 355px,#3da9e2 360px,#4eb5e8 368px,#7cc8d7 377px,#7ec6ba 387px,#70bc8e 400px,#64b973 408px,#5bb75e 414px,#58b555 423px,#58b555 424px,#354a91 425px,#354a91 593px,#54b143 594px,#55b144 749px)"></i><i style="left:604px;background:linear-gradient(#354a91 0,#354c93 336px,#3961a7 345px,#3d97d5 356px,#3da9e2 360px,#4db5e8 368px,#7cc8d8 377px,#7fc7bb 387px,#72bd92 399px,#67b978 407px,#5cb85f 414px,#58b556 423px,#58b556 424px,#354a91 425px,#354a91 593px,#54b143 594px,#54b143 749px)"></i><i style="left:606px;background:linear-gradient(#354a91 0,#354c93 336px,#3961a7 345px,#3d97d5 356px,#3da9e2 360px,#51b7e7 369px,#7bc8d8 377px,#7fc7bc 387px,#73bd93 399px,#66b976 408px,#5cb860 414px,#59b557 423px,#59b557 424px,#354a91 425px,#354a91 593px,#54b143 594px,#54b143 749px)"></i><i style="left:608px;background:linear-gradient(#354a91 0,#354c93 336px,#3961a7 345px,#3d8ccc 354px,#3da9e2 360px,#50b6e7 369px,#7ac7d9 377px,#7fc7bd 387px,#73be94 399px,#66b977 408px,#5cb85f 415px,#59b657 424px,#354a91 425px,#354a91 593px,#53b143 594px,#54b143 749px)"></i><i style="left:610px;background:linear-gradient(#354a91 0,#354c93 336px,#3961a7 345px,#3d8ccc 354px,#3ca8e2 360px,#4fb6e7 369px,#7cc8d7 378px,#7fc7ba 388px,#70bc8d 402px,#5cb860 415px,#59b658 424px,#354a91 425px,#354a91 593px,#53b043 594px,#53b143 749px)"></i><i style="left:612px;background:linear-gradient(#354a91 0,#354c93 336px,#3961a7 345px,#3e8bcb 354px,#3ca8e2 360px,#4eb6e8 369px,#7cc8d8 378px,#7fc7bb 388px,#70bc8e 402px,#61b96b 412px,#5bb75c 418px,#5ab659 424px,#354a91 425px,#354a91 593px,#53b043 594px,#53b143 749px)"></i><i style="left:614px;background:linear-gradient(#354a91 0,#354c93 336px,#3961a7 345px,#3d95d3 356px,#3ca8e2 360px,#4db5e8 369px,#7bc8d8 378px,#7fc7bc 388px,#73be95 400px,#67b978 409px,#5cb85f 417px,#5ab65a 424px,#354a91 425px,#354a91 593px,#52b043 594px,#53b043 749px)"></i><i style="left:616px;background:linear-gradient(#354a91 0,#354c93 336px,#3961a7 345px,#3d94d2 356px,#3da9e2 361px,#4cb5e8 369px,#7cc8d7 379px,#7fc7ba 389px,#72bd91 402px,#64b973 411px,#5cb860 417px,#5ab75c 424px,#354a91 425px,#354a91 593px,#52b043 594px,#53b043 749px)"></i><i style="left:618px;background:linear-gradient(#354a91 0,#354c93 336px,#3961a7 345px,#3d93d1 356px,#3da9e2 361px,#4fb6e7 370px,#7cc8d8 379px,#7fc7bc 389px,#73bd93 402px,#62b96f 413px,#5cb85f 419px,#5bb75d 424px,#354a91 425px,#354a91 593px,#52b043 594px,#52b043 749px)"></i><i style="left:620px;background:linear-gradient(#354a91 0,#354c93 336px,#3961a7 345px,#3d8dcd 355px,#3eaae3 362px,#4db5e8 370px,#7ac7d9 379px,#7fc7bb 390px,#73be95 402px,#5eb864 418px,#5cb85f 424px,#354a91 425px,#354a91 593px,#52b044 594px,#52b043 749px)"></i><i style="left:622px;background:linear-gradient(#354a91 0,#354c93 336px,#3960a7 345px,#3d8ccc 355px,#3da9e3 362px,#4fb6e7 371px,#7cc8d8 380px,#7fc7bd 390px,#70bc8c 406px,#5eb865 419px,#5cb861 424px,#354a91 425px,#354a91 593px,#52b044 594px,#52b043 749px)"></i><i style="left:624px;background:linear-gradient(#354a91 0,#354c93 336px,#3963a9 346px,#3d94d2 357px,#3da8e2 362px,#51b7e6 372px,#7cc8d7 381px,#7fc7bc 391px,#6aba7f 411px,#60b869 419px,#5eb864 424px,#354a91 425px,#354a91 593px,#52b044 594px,#52b044 749px)"></i><i style="left:626px;background:linear-gradient(#354a91 0,#354c93 336px,#3960a6 345px,#3d92d0 357px,#3ea9e3 363px,#4fb6e7 372px,#7bc8d8 381px,#7fc7bb 392px,#69ba7c 413px,#61b96b 420px,#60b868 424px,#354a91 425px,#354a91 593px,#53b045 594px,#52b044 749px)"></i><i style="left:628px;background:linear-gradient(#354a91 0,#354c93 336px,#395fa5 345px,#3d99d6 359px,#3eaae3 364px,#50b6e7 373px,#7cc8d8 382px,#7ec6b7 394px,#68b97a 415px,#62b96d 422px,#62b96d 424px,#354a91 425px,#354a91 593px,#53b145 594px,#52b044 749px)"></i><i style="left:630px;background:linear-gradient(#354a91 0,#354c93 336px,#3961a7 346px,#3d92d1 358px,#3da9e2 364px,#4db5e8 373px,#7cc8d7 383px,#7ec6b7 395px,#65b975 419px,#63b971 424px,#354a91 425px,#354a91 593px,#53b145 594px,#52b044 749px)"></i><i style="left:632px;background:linear-gradient(#354a91 0,#354b92 336px,#3960a6 346px,#3d90cf 358px,#3eaae3 365px,#4eb5e8 374px,#7cc8d7 384px,#7ec6b7 396px,#67b979 419px,#65b975 424px,#354a91 425px,#354a91 593px,#53b146 594px,#53b045 749px)"></i><i style="left:634px;background:linear-gradient(#354a91 0,#354c93 337px,#3962a8 347px,#3d92d0 359px,#3da9e2 365px,#4fb6e7 375px,#7cc8d7 385px,#7ec6b8 397px,#6cba84 416px,#68b97a 423px,#67b97a 424px,#354a91 425px,#354a91 593px,#53b146 594px,#53b145 749px)"></i><i style="left:636px;background:linear-gradient(#354a91 0,#354c93 337px,#3961a7 347px,#3d8fce 359px,#3da9e2 366px,#50b6e7 376px,#7cc8d6 386px,#7ec6b8 398px,#6ebb88 416px,#6aba7f 424px,#354a91 425px,#354a91 593px,#53b146 594px,#53b145 749px)"></i><i style="left:638px;background:linear-gradient(#354a91 0,#354c93 337px,#3960a7 347px,#3d95d3 361px,#3ea9e3 367px,#50b6e7 377px,#7ac7d9 386px,#7fc7bc 398px,#6fbc8b 416px,#6cba83 424px,#354a91 425px,#354a91 593px,#53b146 594px,#53b145 749px)"></i><i style="left:640px;background:linear-gradient(#354a91 0,#354c93 338px,#3962a8 348px,#3d8ecd 360px,#3eaae3 368px,#50b6e7 378px,#7ac7d9 387px,#7fc7bd 399px,#72bd91 415px,#6dbb87 423px,#6dbb87 424px,#354a91 425px,#354a91 593px,#53b146 594px,#53b146 749px)"></i><i style="left:642px;background:linear-gradient(#354a91 0,#354c93 338px,#3961a7 348px,#3d93d1 362px,#3da9e2 368px,#4db5e8 378px,#7ac7d9 388px,#7fc7bb 401px,#72bd93 416px,#6fbb8b 424px,#354a91 425px,#354a91 593px,#53b147 594px,#53b146 749px)"></i><i style="left:644px;background:linear-gradient(#354a91 0,#354c93 338px,#3960a6 348px,#3d98d5 364px,#3da9e2 369px,#51b7e7 380px,#7cc8d7 390px,#7fc7bc 402px,#74be96 416px,#71bc8f 424px,#354a91 425px,#354a91 593px,#53b147 594px,#53b146 749px)"></i><i style="left:646px;background:linear-gradient(#354a91 0,#354c93 339px,#3965ab 350px,#3d8dcd 362px,#3da9e2 370px,#51b7e7 381px,#7cc8d7 391px,#7fc7ba 404px,#75be98 417px,#72bd92 424px,#354a91 425px,#354a91 593px,#53b147 594px,#53b146 749px)"></i><i style="left:648px;background:linear-gradient(#354a91 0,#354c93 339px,#3963a9 350px,#3d92d1 364px,#3da9e2 371px,#51b7e7 382px,#7cc8d7 392px,#7fc7bb 405px,#76bf9c 417px,#74be96 424px,#354a91 425px,#354a91 593px,#53b147 594px,#53b146 749px)"></i><i style="left:650px;background:linear-gradient(#354a91 0,#354c93 339px,#395fa5 349px,#3e81c3 360px,#3ca8e2 371px,#51b7e7 383px,#7cc8d8 393px,#7ec6b9 407px,#77c09e 418px,#75bf9a 424px,#354a91 425px,#354a91 593px,#54b147 594px,#53b147 749px)"></i><i style="left:652px;background:linear-gradient(#354a91 0,#354c93 340px,#3964a9 351px,#3e7fc1 360px,#3da9e3 373px,#51b7e7 384px,#7cc8d8 394px,#7fc7ba 408px,#78c0a0 419px,#77bf9d 424px,#354a91 425px,#354a91 593px,#54b148 594px,#53b147 749px)"></i><i style="left:654px;background:linear-gradient(#354a91 0,#354c93 340px,#395fa6 350px,#3e80c2 361px,#3ea9e3 374px,#4db5e8 384px,#7bc8d8 395px,#7fc7bb 409px,#79c1a4 419px,#78c0a1 424px,#354a91 425px,#354a91 593px,#54b148 594px,#53b147 749px)"></i><i style="left:656px;background:linear-gradient(#354a91 0,#354c93 341px,#3964a9 352px,#3d94d3 368px,#3ea9e3 375px,#4db5e8 385px,#7bc8d8 396px,#7fc7bc 410px,#7ac2a6 420px,#79c1a4 424px,#354a91 425px,#354a91 593px,#54b148 594px,#53b147 749px)"></i><i style="left:658px;background:linear-gradient(#354a91 0,#354c93 341px,#3962a8 352px,#3d7abd 360px,#3ea9e3 376px,#4db5e8 386px,#7cc8d7 398px,#7ec6ba 412px,#7ac2aa 420px,#7ac2a8 424px,#354a91 425px,#354a91 593px,#54b148 594px,#54b147 749px)"></i><i style="left:660px;background:linear-gradient(#354a91 0,#354c92 341px,#385ea4 351px,#3d7dc0 362px,#3ca8e2 376px,#51b7e7 388px,#7cc8d7 399px,#7fc7ba 413px,#7bc3ac 421px,#7bc3ab 424px,#354a91 425px,#354a91 593px,#54b148 594px,#54b148 749px)"></i><i style="left:662px;background:linear-gradient(#354a91 0,#354c93 342px,#3a65ab 354px,#3e80c2 364px,#3da9e2 377px,#51b7e7 389px,#7cc8d7 400px,#7fc7bb 414px,#7cc4ae 423px,#7cc4ae 424px,#354a91 425px,#354a91 593px,#54b249 594px,#54b148 749px)"></i><i style="left:664px;background:linear-gradient(#354a91 0,#354c93 342px,#385ea5 352px,#3d7cbf 363px,#3da9e2 378px,#4eb5e8 389px,#7cc8d8 401px,#7fc7bc 415px,#7cc4b2 423px,#7cc4b2 424px,#354a91 425px,#354a91 593px,#54b249 594px,#54b148 749px)"></i><i style="left:666px;background:linear-gradient(#354a91 0,#354c93 343px,#3965ab 355px,#3d7dc0 364px,#3da9e2 379px,#4eb5e8 390px,#7cc8d8 402px,#7fc7bb 417px,#7dc5b5 424px,#354a91 425px,#354a91 593px,#54b249 594px,#54b148 749px)"></i><i style="left:668px;background:linear-gradient(#354a91 0,#354c93 343px,#385ea5 353px,#3d79bc 363px,#3ca4df 378px,#43ade4 384px,#52b7e6 392px,#7bc8d8 403px,#7fc7bb 419px,#7ec6b8 424px,#354a91 425px,#354a91 593px,#54b249 594px,#54b248 749px)"></i><i style="left:670px;background:linear-gradient(#354a91 0,#354c93 344px,#3965ab 356px,#3d8fce 372px,#3da9e2 381px,#4eb5e8 392px,#7ac7d9 404px,#7fc7bd 420px,#7fc7bb 424px,#354a91 425px,#354a91 593px,#54b249 594px,#54b249 749px)"></i><i style="left:672px;background:linear-gradient(#354a91 0,#354c93 344px,#3960a6 355px,#3d7abd 365px,#3d8fce 373px,#3da9e3 382px,#4eb5e8 393px,#7cc8d7 406px,#80c8c0 420px,#80c8be 424px,#354a91 425px,#354a91 593px,#54b24a 594px,#54b249 749px)"></i><i style="left:674px;background:linear-gradient(#354a91 0,#354c93 345px,#3964aa 357px,#3d92d1 375px,#3da9e3 383px,#4eb5e8 394px,#7cc8d8 407px,#80c8c2 420px,#80c8c1 424px,#354a91 425px,#354a91 593px,#54b24a 594px,#54b249 749px)"></i><i style="left:676px;background:linear-gradient(#354a91 0,#354c93 346px,#3a68ad 359px,#3d8fcf 375px,#3da9e3 384px,#51b7e7 396px,#7cc8d8 408px,#7fc8c5 420px,#7fc8c3 424px,#354a91 425px,#354a91 593px,#54b24a 594px,#54b249 749px)"></i><i style="left:678px;background:linear-gradient(#354a91 0,#354c93 346px,#3962a8 358px,#3d7bbe 368px,#3d95d3 378px,#3da9e2 385px,#51b7e7 397px,#7cc8d8 409px,#7fc8c6 421px,#7fc8c5 424px,#354a91 425px,#354a91 593px,#55b24b 594px,#54b24a 749px)"></i><i style="left:680px;background:linear-gradient(#354a91 0,#354c93 347px,#3963a9 359px,#3e81c3 372px,#3da9e2 386px,#50b6e7 398px,#7cc8d7 411px,#7fc8c8 421px,#7fc8c8 424px,#354a91 425px,#354a91 593px,#55b24b 594px,#54b24a 749px)"></i><i style="left:682px;background:linear-gradient(#354a91 0,#354c93 348px,#3964a9 360px,#3d8fce 378px,#3da9e2 387px,#50b6e7 399px,#7cc8d7 412px,#7ec8ca 422px,#7ec8ca 424px,#354a91 425px,#354a91 593px,#55b24b 594px,#55b24a 749px)"></i><i style="left:684px;background:linear-gradient(#354a91 0,#354c93 349px,#3964aa 361px,#3e89c9 377px,#3eaae3 389px,#4fb6e7 400px,#7cc8d7 413px,#7ec8cc 424px,#354a91 425px,#354a91 593px,#55b24b 594px,#55b24b 749px)"></i><i style="left:686px;background:linear-gradient(#354a91 0,#354c93 350px,#3a67ac 363px,#3e8bcb 379px,#3da9e2 389px,#4eb5e8 401px,#7cc8d8 414px,#7ec8ce 424px,#354a91 425px,#354a91 593px,#55b24c 594px,#55b24b 749px)"></i><i style="left:688px;background:linear-gradient(#354a91 0,#354c93 351px,#3b6cb1 366px,#3e8bcb 380px,#3da9e2 390px,#51b7e7 403px,#7bc8d8 415px,#7dc8d0 424px,#354a91 425px,#354a91 593px,#55b34c 594px,#55b24b 749px)"></i><i style="left:690px;background:linear-gradient(#354a91 0,#354c93 352px,#3b6eb3 368px,#3e8bcb 381px,#3eaae3 392px,#50b6e7 404px,#7cc8d8 417px,#7dc8d3 424px,#354a91 425px,#354a91 593px,#55b34d 594px,#55b24c 749px)"></i><i style="left:692px;background:linear-gradient(#354a91 0,#354c93 353px,#3d8dcd 383px,#3ca8e2 392px,#4fb6e7 405px,#7bc8d8 418px,#7dc8d5 424px,#354a91 425px,#354a91 593px,#55b34d 594px,#55b34c 749px)"></i><i style="left:694px;background:linear-gradient(#354a91 0,#354b92 353px,#3965aa 366px,#3e8aca 383px,#3ca8e2 393px,#4eb5e8 406px,#77c6da 418px,#7cc8d7 424px,#354a91 425px,#354a91 593px,#56b34d 594px,#55b34d 749px)"></i><i style="left:696px;background:linear-gradient(#354a91 0,#354b92 354px,#3e87c8 383px,#3ea9e3 395px,#4db5e8 407px,#76c5da 419px,#7bc7d8 424px,#354a91 425px,#354a91 593px,#56b34e 594px,#55b34d 749px)"></i><i style="left:698px;background:linear-gradient(#354a91 0,#354c92 355px,#3962a8 367px,#3d8ccc 386px,#3ea9e3 396px,#4db5e8 408px,#72c4dc 419px,#77c6da 424px,#354a91 425px,#354a91 593px,#56b34e 594px,#56b34d 749px)"></i><i style="left:700px;background:linear-gradient(#354a91 0,#354c93 356px,#3b6cb1 372px,#3e89ca 386px,#3ea9e3 397px,#50b6e7 410px,#6ec2dd 419px,#73c4db 424px,#354a91 425px,#354a91 593px,#56b34f 594px,#56b34e 749px)"></i><i style="left:702px;background:linear-gradient(#354a91 0,#354c93 357px,#3e89ca 387px,#3ea9e3 398px,#50b6e7 411px,#6ac1de 419px,#6fc3dc 424px,#354a91 425px,#354a91 593px,#56b34f 594px,#56b34e 749px)"></i><i style="left:704px;background:linear-gradient(#354a91 0,#354c93 358px,#3e89ca 388px,#3da9e3 399px,#50b6e7 412px,#68c0df 420px,#6cc1de 424px,#354a91 425px,#354a91 593px,#56b350 594px,#56b34f 749px)"></i><i style="left:706px;background:linear-gradient(#354a91 0,#354c93 359px,#3e89ca 389px,#3da9e3 400px,#50b6e7 413px,#65bfe0 420px,#68c0df 424px,#354a91 425px,#354a91 593px,#56b450 594px,#56b34f 749px)"></i><i style="left:708px;background:linear-gradient(#354a91 0,#354c93 360px,#3e89ca 390px,#3da9e3 401px,#50b6e7 414px,#63bee1 421px,#65bfe0 424px,#354a91 425px,#354a91 593px,#57b450 594px,#56b450 749px)"></i><i style="left:710px;background:linear-gradient(#354a91 0,#354c93 361px,#3e89ca 391px,#3da9e3 402px,#50b6e7 415px,#61bde1 422px,#61bde1 424px,#354a91 425px,#354a91 593px,#57b451 594px,#57b450 749px)"></i><i style="left:712px;background:linear-gradient(#354a91 0,#354c93 362px,#3e89ca 392px,#3da9e3 403px,#50b6e7 416px,#5ebce2 422px,#5ebce2 424px,#354a91 425px,#354a91 593px,#57b451 594px,#57b451 749px)"></i><i style="left:714px;background:linear-gradient(#354a91 0,#354c93 363px,#3e89ca 393px,#3da9e3 404px,#50b6e7 417px,#5bbbe3 423px,#5bbbe3 424px,#354a91 425px,#354a91 593px,#57b452 594px,#57b451 749px)"></i><i style="left:716px;background:linear-gradient(#354a91 0,#354c93 364px,#3e89ca 394px,#3da9e3 405px,#4fb6e7 418px,#58b9e4 424px,#354a91 425px,#354a91 593px,#57b452 594px,#57b452 749px)"></i><i style="left:718px;background:linear-gradient(#354a91 0,#354c93 365px,#3e89ca 395px,#3da9e3 406px,#51b7e7 420px,#55b8e5 424px,#354a91 425px,#354a91 593px,#58b453 594px,#57b452 749px)"></i><i style="left:720px;background:linear-gradient(#354a91 0,#354c93 366px,#3e86c7 395px,#3ca8e2 406px,#51b7e7 422px,#52b7e6 424px,#354a91 425px,#354a91 593px,#58b554 594px,#57b453 749px)"></i><i style="left:722px;background:linear-gradient(#354a91 0,#354c92 367px,#3e86c7 396px,#3ca8e2 407px,#4fb6e7 424px,#354a91 425px,#354a91 593px,#58b554 594px,#58b553 749px)"></i><i style="left:724px;background:linear-gradient(#354a91 0,#354c93 369px,#3e85c7 397px,#3da9e2 409px,#4cb5e8 423px,#4db5e8 424px,#354a91 425px,#354a91 593px,#58b555 594px,#58b554 749px)"></i><i style="left:726px;background:linear-gradient(#354a91 0,#354c93 370px,#3e88c9 399px,#3ca8e2 409px,#4bb4e7 423px,#4bb4e7 424px,#354a91 425px,#354a91 593px,#58b555 594px,#58b555 749px)"></i><i style="left:728px;background:linear-gradient(#354a91 0,#354c92 371px,#3e88c9 400px,#3ca8e2 410px,#4ab3e7 423px,#4ab3e7 424px,#354a91 425px,#354a91 593px,#58b556 594px,#58b555 749px)"></i><i style="left:730px;background:linear-gradient(#354a91 0,#354c93 373px,#3e85c6 400px,#3da9e2 412px,#49b2e7 423px,#49b2e7 424px,#354a91 425px,#354a91 593px,#59b556 594px,#58b556 749px)"></i><i style="left:732px;background:linear-gradient(#354a91 0,#354c93 374px,#3e84c6 401px,#3da9e2 413px,#48b1e6 423px,#48b1e6 424px,#354a91 425px,#354a91 593px,#59b657 594px,#59b556 749px)"></i><i style="left:734px;background:linear-gradient(#354a91 0,#354b92 375px,#3e84c6 402px,#3ea9e3 414px,#47b1e6 423px,#47b1e6 424px,#354a91 425px,#354a91 593px,#59b658 594px,#59b657 749px)"></i><i style="left:736px;background:linear-gradient(#354a91 0,#354c93 377px,#3e84c6 403px,#3ca8e2 414px,#46b0e6 423px,#46b0e6 424px,#354a91 425px,#354a91 593px,#59b658 594px,#59b658 749px)"></i><i style="left:738px;background:linear-gradient(#354a91 0,#354b92 378px,#3e84c6 404px,#3eaae3 416px,#45afe5 424px,#354a91 425px,#354a91 593px,#5ab659 594px,#59b658 749px)"></i><i style="left:740px;background:linear-gradient(#354a91 0,#354c93 380px,#3e88c9 406px,#3da9e2 416px,#44aee5 424px,#354a91 425px,#354a91 593px,#5ab659 594px,#5ab659 749px)"></i><i style="left:742px;background:linear-gradient(#354a91 0,#354c93 381px,#3e88c9 407px,#3da9e2 417px,#44aee5 424px,#354a91 425px,#354a91 593px,#5ab65a 594px,#5ab65a 749px)"></i><i style="left:744px;background:linear-gradient(#354a91 0,#354b92 382px,#3e85c6 407px,#3ca8e2 417px,#43ade4 424px,#354a91 425px,#354a91 593px,#5ab75b 594px,#5ab65a 749px)"></i><i style="left:746px;background:linear-gradient(#354a91 0,#354b92 383px,#3e86c7 408px,#3da9e2 418px,#42ace4 424px,#354a91 425px,#354a91 593px,#5ab75b 594px,#5ab75b 749px)"></i><i style="left:748px;background:linear-gradient(#354a91 0,#354c93 385px,#3e86c7 409px,#3da9e2 419px,#41ace4 424px,#354a91 425px,#354a91 593px,#5bb75c 594px,#5ab75b 749px)"></i></div>
<div class="hm" style="left:938px;top:798px;width:750px;height:749px"><i style="left:0px;background:linear-gradient(#354a91 0,#354a91 710px,#37549b 711px,#3e86c7 714px,#3d9bd8 715px,#3eaae3 716px,#4fb6e7 718px,#6ec2dd 720px,#7ac7d9 721px,#80c8c0 727px,#7bc3ad 733px,#78c0a0 747px,#78c0a0 749px)"></i><i style="left:2px;background:linear-gradient(#354a91 0,#354a91 710px,#364f96 711px,#3b72b6 713px,#3e80c2 714px,#3ca7e1 716px,#4bb4e7 718px,#6bc1de 720px,#77c6da 721px,#7dc8d5 722px,#7ec6b8 729px,#7bc3aa 735px,#78c0a0 748px,#78c0a0 749px)"></i><i style="left:4px;background:linear-gradient(#354a91 0,#354b92 711px,#37589e 712px,#3d8dcd 715px,#3ca1dd 716px,#49b2e7 718px,#74c5db 721px,#7cc8d6 722px,#7fc7bd 728px,#7bc3ac 734px,#78c0a0 746px,#78c0a0 749px)"></i><i style="left:6px;background:linear-gradient(#354a91 0,#354a91 711px,#365299 712px,#3e86c7 715px,#3d9bd8 716px,#3faae3 717px,#51b7e7 719px,#71c3dc 721px,#7cc8d8 722px,#7fc7be 728px,#7bc3ac 734px,#78c0a0 746px,#78c09f 749px)"></i><i style="left:8px;background:linear-gradient(#354a91 0,#354a91 711px,#364d94 712px,#3e7fc2 715px,#3ca8e2 717px,#4cb4e8 719px,#6dc2dd 721px,#7ac7d9 722px,#80c8bf 728px,#7bc3ae 733px,#78c0a0 745px,#78c09f 749px)"></i><i style="left:10px;background:linear-gradient(#354a91 0,#354a91 712px,#37569c 713px,#3d8ccc 716px,#3ca1dd 717px,#4ab2e7 719px,#76c6da 722px,#7dc8d5 723px,#7ec6b7 730px,#7ac2a9 736px,#78c09f 748px,#78c09f 749px)"></i><i style="left:12px;background:linear-gradient(#354a91 0,#354a91 712px,#365096 713px,#3c74b8 715px,#3e84c5 716px,#3d9ad7 717px,#3faae3 718px,#52b7e6 720px,#73c4db 722px,#7cc8d6 723px,#7fc7bc 729px,#7bc3aa 735px,#77c09f 748px,#77c09f 749px)"></i><i style="left:14px;background:linear-gradient(#354a91 0,#354b92 713px,#37599f 714px,#3d92d1 717px,#3ca7e1 718px,#4cb5e8 720px,#6fc3dd 722px,#7cc8d8 723px,#7fc7bd 729px,#7bc3ac 734px,#77c09f 747px,#77c09f 749px)"></i><i style="left:16px;background:linear-gradient(#354a91 0,#354a91 713px,#365399 714px,#3e8bcb 717px,#3ca1dc 718px,#4ab3e7 720px,#79c7d9 723px,#7fc8c5 727px,#7bc3ac 734px,#77c09e 748px,#77c09e 749px)"></i><i style="left:18px;background:linear-gradient(#354a91 0,#354a91 713px,#364e95 714px,#3e83c5 717px,#3d9ad7 718px,#3faae3 719px,#55b8e5 721px,#75c5da 723px,#7dc8d5 724px,#7ec6b9 730px,#7ac2a9 736px,#77c09e 747px,#77c09e 749px)"></i><i style="left:20px;background:linear-gradient(#354a91 0,#354b92 714px,#37599f 715px,#3b6eb3 716px,#3d95d3 718px,#3da9e2 719px,#50b6e7 721px,#73c4db 723px,#7cc8d6 724px,#80c8be 729px,#7bc3aa 735px,#77c09e 747px,#77c09e 749px)"></i><i style="left:22px;background:linear-gradient(#354a91 0,#354a91 714px,#37559c 715px,#3d90cf 718px,#3ca6e1 719px,#4db5e8 721px,#71c3dc 723px,#7cc8d7 724px,#7fc7ba 730px,#7ac2a8 736px,#77bf9d 749px)"></i><i style="left:24px;background:linear-gradient(#354a91 0,#354a91 714px,#365299 715px,#3d8dcd 718px,#3ca3de 719px,#4cb4e8 721px,#6fc3dc 723px,#7cc8d7 724px,#7fc7ba 730px,#7ac2aa 735px,#77bf9d 747px,#77bf9d 749px)"></i><i style="left:26px;background:linear-gradient(#354a91 0,#354a91 714px,#365097 715px,#3e8aca 718px,#3ca1dd 719px,#42ade4 720px,#4bb3e7 721px,#7cc8d8 724px,#7fc7ba 730px,#7ac2a9 735px,#77bf9d 747px,#77bf9d 749px)"></i><i style="left:28px;background:linear-gradient(#354a91 0,#354a91 714px,#364f95 715px,#3e87c8 718px,#3c9fdb 719px,#41ace4 720px,#4ab3e7 721px,#7bc8d8 724px,#7fc7ba 730px,#7ac2a9 735px,#76bf9c 748px,#76bf9c 749px)"></i><i style="left:30px;background:linear-gradient(#354a91 0,#354a91 714px,#364d94 715px,#385da4 716px,#3e85c6 718px,#3d9cd9 719px,#40abe4 720px,#49b2e7 721px,#7bc7d8 724px,#7fc7ba 730px,#7ac2a9 735px,#76bf9c 747px,#76bf9c 749px)"></i><i style="left:32px;background:linear-gradient(#354a91 0,#354c93 715px,#385ba2 716px,#3b72b6 717px,#3e82c4 718px,#3d9ad7 719px,#40abe3 720px,#49b2e6 721px,#7ac7d9 724px,#7fc7ba 730px,#7ac2a8 735px,#76bf9c 747px,#76bf9c 749px)"></i><i style="left:34px;background:linear-gradient(#354a91 0,#354b92 715px,#3859a0 716px,#3b70b4 717px,#3e81c3 718px,#3d99d6 719px,#3faae3 720px,#48b1e6 721px,#57b9e5 722px,#79c7d9 724px,#7fc8c3 728px,#7bc3aa 734px,#76bf9c 746px,#76bf9b 749px)"></i><i style="left:36px;background:linear-gradient(#354a91 0,#354b91 715px,#37589e 716px,#3e80c2 718px,#3eaae3 720px,#56b9e5 722px,#79c7d9 724px,#80c8c3 728px,#7bc3aa 734px,#76bf9c 745px,#76bf9b 749px)"></i><i style="left:38px;background:linear-gradient(#354a91 0,#354a91 715px,#37569d 716px,#3ea9e3 720px,#55b8e5 722px,#79c7d9 724px,#80c8c3 728px,#7ac2a7 735px,#76bf9a 748px,#76bf9a 749px)"></i><i style="left:40px;background:linear-gradient(#354a91 0,#354a91 715px,#37559c 716px,#3d95d3 719px,#3da9e2 720px,#54b8e6 722px,#79c7d9 724px,#80c8c3 728px,#7ac2a9 734px,#76bf9b 745px,#75bf9a 749px)"></i><i style="left:42px;background:linear-gradient(#354a91 0,#354a91 715px,#37559b 716px,#3d94d2 719px,#3da9e2 720px,#54b8e6 722px,#79c7d9 724px,#80c8c2 728px,#7ac2a6 735px,#75bf9a 747px,#75bf9a 749px)"></i><i style="left:44px;background:linear-gradient(#354a91 0,#354a91 715px,#37549b 716px,#3d94d2 719px,#3da9e2 720px,#54b8e6 722px,#79c7d9 724px,#80c8c2 728px,#7ac2a8 734px,#75bf99 747px,#75bf99 749px)"></i><i style="left:46px;background:linear-gradient(#354a91 0,#354a91 715px,#37559b 716px,#3d94d2 719px,#3da9e3 720px,#55b8e5 722px,#7ac7d9 724px,#7fc7bd 729px,#79c1a5 735px,#75be99 747px,#75be99 749px)"></i><i style="left:48px;background:linear-gradient(#354a91 0,#354a91 715px,#37579e 716px,#3e80c2 718px,#3d98d5 719px,#3faae3 720px,#48b1e6 721px,#6cc2dd 723px,#7cc8d8 724px,#7fc7bc 729px,#7ac2a7 734px,#75be98 747px,#75be98 749px)"></i><i style="left:50px;background:linear-gradient(#354a91 0,#354c93 715px,#3e85c7 718px,#3d9eda 719px,#41ace4 720px,#4bb3e7 721px,#71c3dc 723px,#7cc8d6 724px,#7fc7bb 729px,#7ac2a6 734px,#75be98 746px,#74be98 749px)"></i><i style="left:52px;background:linear-gradient(#354a91 0,#354a91 714px,#365298 715px,#3d8fce 718px,#3ca6e0 719px,#4fb6e7 721px,#76c5da 723px,#7dc8d4 724px,#7ec6b9 729px,#79c1a3 735px,#74be97 747px,#74be97 749px)"></i><i style="left:54px;background:linear-gradient(#354a91 0,#354b92 714px,#385aa0 715px,#3e81c3 717px,#3d99d6 718px,#3faae3 719px,#48b1e6 720px,#6cc2dd 722px,#7cc8d8 723px,#7fc7bc 728px,#79c1a4 734px,#74be97 747px,#74be97 749px)"></i><i style="left:56px;background:linear-gradient(#354a91 0,#354a91 713px,#365299 714px,#3d8ecd 717px,#3ca4df 718px,#4db5e8 720px,#74c5db 722px,#7dc8d5 723px,#7fc7ba 728px,#79c1a3 734px,#74be96 747px,#74be96 749px)"></i><i style="left:58px;background:linear-gradient(#354a91 0,#354a91 712px,#354d94 713px,#385ca2 714px,#3c72b6 715px,#3e83c4 716px,#3d9ad7 717px,#3fabe3 718px,#48b1e6 719px,#6bc1de 721px,#7bc8d8 722px,#7fc7bd 727px,#79c1a4 733px,#74be96 747px,#74be96 749px)"></i><i style="left:60px;background:linear-gradient(#354a91 0,#354a91 712px,#37559c 713px,#3d91d0 716px,#3ca7e1 717px,#4db5e8 719px,#74c5db 721px,#7cc8d5 722px,#7fc7ba 727px,#79c1a3 733px,#73be95 747px,#73be95 749px)"></i><i style="left:62px;background:linear-gradient(#354a91 0,#354a91 711px,#365096 712px,#3e87c8 715px,#3d9eda 716px,#40abe4 717px,#49b2e7 718px,#7bc8d8 721px,#7fc7bd 726px,#79c1a4 732px,#74be96 744px,#73be95 749px)"></i><i style="left:64px;background:linear-gradient(#354a91 0,#354c93 711px,#3859a0 712px,#3da8e2 716px,#4fb6e7 718px,#75c5db 720px,#7dc8d5 721px,#7fc7ba 726px,#79c1a3 732px,#73be95 744px,#73bd94 749px)"></i><i style="left:66px;background:linear-gradient(#354a91 0,#354a91 710px,#365299 711px,#3e8aca 714px,#3ca0dc 715px,#41ace4 716px,#4ab2e7 717px,#7cc8d8 720px,#7fc7bd 725px,#79c1a4 731px,#73be95 743px,#72bd93 749px)"></i><i style="left:68px;background:linear-gradient(#354a91 0,#354a91 709px,#364d94 710px,#385ca2 711px,#3b71b5 712px,#3e80c3 713px,#3da9e2 715px,#4fb6e7 717px,#75c5da 719px,#7dc8d5 720px,#7fc7ba 725px,#78c0a0 732px,#72bd92 747px,#72bd92 749px)"></i><i style="left:70px;background:linear-gradient(#354a91 0,#354a91 709px,#37559c 710px,#3d8dcd 713px,#3ca2de 714px,#4ab3e7 716px,#6ec2dd 718px,#7cc8d8 719px,#7fc7bc 724px,#78c0a1 731px,#73bd93 743px,#72bd91 749px)"></i><i style="left:72px;background:linear-gradient(#354a91 0,#354a91 708px,#365097 709px,#3e85c6 712px,#3faae3 714px,#53b7e6 716px,#77c6da 718px,#7ec8ce 720px,#7ec6b9 724px,#78c09f 731px,#72bd91 745px,#71bd90 749px)"></i><i style="left:74px;background:linear-gradient(#354a91 0,#354a91 707px,#354d94 708px,#385ba1 709px,#3d93d2 712px,#3ca7e2 713px,#4cb4e8 715px,#71c4dc 717px,#7cc8d6 718px,#7fc7bb 723px,#78c09f 730px,#71bc8f 746px,#71bc8f 749px)"></i><i style="left:76px;background:linear-gradient(#354a91 0,#354b92 707px,#37569d 708px,#3d8ccc 711px,#3ca1dc 712px,#49b2e7 714px,#7bc8d8 717px,#7fc7bd 722px,#77bf9d 730px,#71bc8f 744px,#70bc8e 749px)"></i><i style="left:78px;background:linear-gradient(#354a91 0,#354a91 706px,#365299 707px,#3e86c7 710px,#3d9bd8 711px,#3faae3 712px,#51b7e7 714px,#76c6da 716px,#7dc8d4 717px,#7ec6b9 722px,#77c09e 729px,#71bc8f 741px,#70bc8c 749px)"></i><i style="left:80px;background:linear-gradient(#354a91 0,#354a91 705px,#364f96 706px,#385da3 707px,#3e80c2 709px,#3ca8e2 711px,#4cb4e8 713px,#71c4dc 715px,#7cc8d6 716px,#7fc7ba 721px,#77c09e 728px,#71bc8f 740px,#6fbc8b 749px)"></i><i style="left:82px;background:linear-gradient(#354a91 0,#354a91 704px,#354d93 705px,#38599f 706px,#3d8fce 709px,#3ca3de 710px,#4ab3e7 712px,#7cc8d8 715px,#7fc7bc 720px,#78c0a2 726px,#73bd94 733px,#6ebb8a 747px,#6ebb8a 749px)"></i><i style="left:84px;background:linear-gradient(#354a91 0,#354b92 704px,#37559c 705px,#3e89c9 708px,#3d9dda 709px,#40abe3 710px,#52b7e6 712px,#77c6da 714px,#7ec8cd 716px,#7dc5b3 721px,#76bf9c 727px,#70bc8e 737px,#6ebb88 749px)"></i><i style="left:86px;background:linear-gradient(#354a91 0,#354a91 703px,#365298 704px,#3960a6 705px,#3d98d5 708px,#3da9e2 709px,#4db5e8 711px,#72c4db 713px,#7cc8d5 714px,#7ec6b9 719px,#76bf9c 726px,#70bc8d 736px,#6dbb86 749px)"></i><i style="left:88px;background:linear-gradient(#354a91 0,#354a91 702px,#364f95 703px,#385ca2 704px,#3d92d0 707px,#3ca5e0 708px,#4ab3e7 710px,#7cc8d8 713px,#7fc7ba 718px,#75bf9a 726px,#6fbc8b 736px,#6cba85 749px)"></i><i style="left:90px;background:linear-gradient(#354a91 0,#354c93 702px,#37579e 703px,#3e8bcb 706px,#3c9fdb 707px,#40abe3 708px,#53b7e6 710px,#78c6d9 712px,#7ec8cc 714px,#7ec6b6 718px,#76bf9a 725px,#70bc8d 733px,#6cba83 748px,#6cba83 749px)"></i><i style="left:92px;background:linear-gradient(#354a91 0,#354a91 701px,#37539a 702px,#3e84c6 705px,#3ea9e3 707px,#4db5e8 709px,#72c4db 711px,#7dc8d5 712px,#7ec6b8 717px,#77bf9e 723px,#70bc8e 730px,#6bba81 748px,#6bba81 749px)"></i><i style="left:94px;background:linear-gradient(#354a91 0,#354a91 700px,#364f96 701px,#3e7fc1 704px,#3ca6e0 706px,#4ab3e7 708px,#7cc8d7 711px,#7ec6b9 716px,#76bf9b 723px,#6fbc8c 730px,#6aba7f 747px,#6aba7f 749px)"></i><i style="left:96px;background:linear-gradient(#354a91 0,#354a91 699px,#354d93 700px,#37589e 701px,#3d8ccc 704px,#3c9fdb 705px,#40abe3 706px,#53b7e6 708px,#78c6da 710px,#7ec8cc 712px,#7dc5b5 716px,#76bf9b 722px,#6fbb8a 730px,#69ba7c 748px,#69ba7c 749px)"></i><i style="left:98px;background:linear-gradient(#354a91 0,#354b92 699px,#37549a 700px,#3962a8 701px,#3ea9e3 705px,#4db5e8 707px,#72c4dc 709px,#7dc8d5 710px,#7ec6b6 715px,#76bf9c 721px,#6ebb89 729px,#68b97a 747px,#68b97a 749px)"></i><i style="left:100px;background:linear-gradient(#354a91 0,#354a91 698px,#365097 699px,#385da3 700px,#3e7fc2 702px,#3ca5e0 704px,#4ab3e7 706px,#7cc8d8 709px,#7ec6b8 714px,#76bf9c 720px,#6ebb88 728px,#67b978 746px,#67b978 749px)"></i><i style="left:102px;background:linear-gradient(#354a91 0,#354a91 697px,#354d94 698px,#37589f 699px,#3d8ccc 702px,#3c9fdb 703px,#40abe3 704px,#52b7e6 706px,#77c6da 708px,#7ec8cb 710px,#7dc5b3 714px,#75bf99 720px,#6dba86 728px,#66b976 746px,#65b975 749px)"></i><i style="left:104px;background:linear-gradient(#354a91 0,#354b92 697px,#3962a8 699px,#3d99d6 702px,#3da9e3 703px,#4cb4e8 705px,#71c4dc 707px,#7dc8d5 708px,#7fc7bb 712px,#77bf9d 718px,#6dba85 727px,#65b974 744px,#64b973 749px)"></i><i style="left:106px;background:linear-gradient(#354a91 0,#354a91 696px,#365097 697px,#385da3 698px,#3e7fc2 700px,#3ca5e0 702px,#4ab3e7 704px,#6bc1de 706px,#7cc8d8 707px,#7ec6b7 712px,#77bf9e 717px,#6cba85 726px,#64b972 743px,#63b971 749px)"></i><i style="left:108px;background:linear-gradient(#354a91 0,#354a91 695px,#364d94 696px,#37589f 697px,#3e8bcb 700px,#3c9fdb 701px,#40abe3 702px,#51b7e7 704px,#76c6da 706px,#7dc8d2 707px,#7ec6b8 711px,#77c09e 716px,#6bba82 726px,#63b971 742px,#62b96e 749px)"></i><i style="left:110px;background:linear-gradient(#354a91 0,#354b92 695px,#3962a8 697px,#3d99d6 700px,#3da9e2 701px,#4cb4e8 703px,#70c3dc 705px,#7cc8d5 706px,#7fc7ba 710px,#76bf9b 716px,#6aba7f 726px,#62b96d 744px,#61b96c 749px)"></i><i style="left:112px;background:linear-gradient(#354a91 0,#354a91 694px,#365097 695px,#385da3 696px,#3e7fc2 698px,#3ca5e0 700px,#4ab3e7 702px,#57b9e5 703px,#7cc8d8 705px,#7fc7bc 709px,#78c0a0 714px,#6aba7f 725px,#61b96b 743px,#60b96a 749px)"></i><i style="left:114px;background:linear-gradient(#354a91 0,#354a91 693px,#364e94 694px,#3a69ae 696px,#3e8bcb 698px,#3c9fdb 699px,#40abe3 700px,#51b7e7 702px,#76c5da 704px,#7dc8d3 705px,#7ec6b7 709px,#76bf9c 714px,#68b97a 726px,#60b969 743px,#5fb867 749px)"></i><i style="left:116px;background:linear-gradient(#354a91 0,#354b92 693px,#3962a8 695px,#3d99d6 698px,#3da9e2 699px,#4cb4e8 701px,#70c3dc 703px,#7cc8d5 704px,#7ec6b9 708px,#75bf99 714px,#66b978 726px,#5fb866 744px,#5eb865 749px)"></i><i style="left:118px;background:linear-gradient(#354a91 0,#354a91 692px,#385da4 694px,#3e80c2 696px,#3ca5e0 698px,#4ab2e7 700px,#69c1de 702px,#7bc8d8 703px,#7fc7bb 707px,#75bf9a 713px,#66b977 725px,#5eb864 744px,#5db863 749px)"></i><i style="left:120px;background:linear-gradient(#354a91 0,#354a91 691px,#364e95 692px,#3a69ae 694px,#3c9fdb 697px,#40abe3 698px,#51b6e7 700px,#75c5da 702px,#7dc8d3 703px,#7ec6b6 707px,#74be97 713px,#65b974 725px,#5db862 743px,#5cb861 749px)"></i><i style="left:122px;background:linear-gradient(#354a91 0,#354c93 691px,#3963a9 693px,#3d99d6 696px,#3da9e3 697px,#4cb4e8 699px,#6fc3dc 701px,#7cc8d6 702px,#7ec6b8 706px,#76bf9c 711px,#66b976 723px,#5eb864 737px,#5cb85f 749px)"></i><i style="left:124px;background:linear-gradient(#354a91 0,#354b92 690px,#385ea4 692px,#3e80c2 694px,#3ca6e0 696px,#4ab3e7 698px,#69c1de 700px,#7bc8d8 701px,#7fc7ba 705px,#77bf9d 710px,#64b973 723px,#5cb860 740px,#5bb85e 749px)"></i><i style="left:126px;background:linear-gradient(#354a91 0,#354a91 689px,#364f96 690px,#385aa1 691px,#3d8dcd 694px,#3ca0dc 695px,#40abe4 696px,#51b7e7 698px,#76c5da 700px,#7dc8d3 701px,#7dc5b5 705px,#73be95 711px,#62b96e 724px,#5cb85f 739px,#5bb75d 749px)"></i><i style="left:128px;background:linear-gradient(#354a91 0,#354a91 688px,#354d94 689px,#3965aa 691px,#3d9bd8 694px,#3eaae3 695px,#4db5e8 697px,#70c3dc 699px,#7cc8d5 700px,#7ec6b7 704px,#75bf9a 709px,#63b96f 722px,#5cb85f 736px,#5bb75c 749px)"></i><i style="left:130px;background:linear-gradient(#354a91 0,#354b92 688px,#3960a6 690px,#3d95d3 693px,#3ca8e2 694px,#4bb3e7 696px,#7cc8d8 699px,#7ec6b9 703px,#76bf9b 708px,#62b96f 721px,#5cb860 731px,#5ab75b 749px)"></i><i style="left:132px;background:linear-gradient(#354a91 0,#354a91 687px,#385ca2 689px,#3d90cf 692px,#3ca3de 693px,#49b2e6 695px,#54b8e6 696px,#78c6d9 698px,#80c8c2 701px,#76bf9b 707px,#61b96b 721px,#5bb85e 732px,#5ab65a 749px)"></i><i style="left:134px;background:linear-gradient(#354a91 0,#354a91 686px,#364e95 687px,#3a68ad 689px,#3d9eda 692px,#3fabe3 693px,#4fb6e7 695px,#73c4db 697px,#7dc8d4 698px,#7dc5b5 702px,#76bf9c 706px,#61b96b 720px,#5cb85f 728px,#59b658 749px)"></i><i style="left:136px;background:linear-gradient(#354a91 0,#354a91 685px,#354d93 686px,#3963a9 688px,#3d99d6 691px,#3da9e2 692px,#4cb4e8 694px,#7cc8d6 697px,#7ec6b6 701px,#75be98 706px,#5fb867 720px,#5bb75e 728px,#59b557 749px)"></i><i style="left:138px;background:linear-gradient(#354a91 0,#354b92 685px,#385fa5 687px,#3e81c3 689px,#3ca6e1 691px,#4ab3e7 693px,#7bc8d8 696px,#80c8c0 699px,#77c09e 704px,#63b96f 716px,#5cb85f 723px,#58b556 749px)"></i><i style="left:140px;background:linear-gradient(#354a91 0,#354a91 684px,#365097 685px,#3b6cb1 687px,#3ca2dd 690px,#48b1e6 692px,#53b7e6 693px,#76c6da 695px,#7dc8d2 696px,#7ec6ba 699px,#75bf9a 704px,#60b869 717px,#5bb75e 723px,#58b554 749px)"></i><i style="left:142px;background:linear-gradient(#354a91 0,#354a91 683px,#364e95 684px,#3a67ac 686px,#3d9dd9 689px,#3faae3 690px,#4eb5e8 692px,#72c4dc 694px,#7dc8d4 695px,#7dc5b4 699px,#74be96 704px,#5eb865 717px,#5ab75b 725px,#58b453 749px)"></i><i style="left:144px;background:linear-gradient(#354a91 0,#354a91 682px,#354d94 683px,#3962a8 685px,#3d98d6 688px,#3da9e2 689px,#4cb4e8 691px,#7cc8d7 694px,#80c8be 697px,#76bf9b 702px,#5eb865 716px,#5ab75b 724px,#57b452 748px,#57b452 749px)"></i><i style="left:146px;background:linear-gradient(#354a91 0,#354b92 682px,#385fa5 684px,#3e81c3 686px,#3ca6e0 688px,#4ab3e7 690px,#69c0df 692px,#7ac7d9 693px,#80c8c1 696px,#78c0a2 700px,#66b976 710px,#5bb85e 718px,#57b451 744px,#57b451 749px)"></i><i style="left:148px;background:linear-gradient(#354a91 0,#354b91 681px,#385ca2 683px,#3d8fce 686px,#3ca1dd 687px,#41ace4 688px,#52b7e6 690px,#75c5da 692px,#7dc8d3 693px,#7ec6ba 696px,#77bf9d 700px,#60b868 713px,#5bb75d 718px,#56b450 744px,#56b350 749px)"></i><i style="left:150px;background:linear-gradient(#354a91 0,#354a91 680px,#37599f 682px,#3e8acb 685px,#3d9dd9 686px,#3faae3 687px,#4db5e8 689px,#71c3dc 691px,#7dc8d5 692px,#7dc5b3 696px,#73bd94 701px,#5db861 714px,#58b555 727px,#56b34f 749px)"></i><i style="left:152px;background:linear-gradient(#354a91 0,#354a91 679px,#364d94 680px,#3962a8 682px,#3d99d6 685px,#3da9e2 686px,#4bb4e7 688px,#7cc8d7 691px,#80c8bf 694px,#78c0a0 698px,#63b96f 709px,#5bb75c 716px,#56b34e 744px,#56b34e 749px)"></i><i style="left:154px;background:linear-gradient(#354a91 0,#354c93 679px,#395fa5 681px,#3d94d2 684px,#3ca6e0 685px,#4ab2e7 687px,#56b9e5 688px,#79c7d9 690px,#80c8c1 693px,#78c0a1 697px,#61b96c 709px,#5bb75c 715px,#56b34e 739px,#55b34d 749px)"></i><i style="left:156px;background:linear-gradient(#354a91 0,#354b92 678px,#385da3 680px,#3d90cf 683px,#3ca2dd 684px,#48b1e6 686px,#52b7e6 687px,#74c5db 689px,#7dc8d3 690px,#7fc7ba 693px,#77bf9d 697px,#60b969 709px,#5ab75b 715px,#56b34d 739px,#55b24c 749px)"></i><i style="left:158px;background:linear-gradient(#354a91 0,#354a91 677px,#385aa0 679px,#3d9eda 683px,#3faae3 684px,#4db5e8 686px,#70c3dc 688px,#7cc8d6 689px,#7dc5b4 693px,#75bf99 697px,#5fb866 709px,#5ab659 716px,#55b24c 742px,#55b24b 749px)"></i><i style="left:160px;background:linear-gradient(#354a91 0,#354a91 676px,#364e95 677px,#3965aa 679px,#3d9ad7 682px,#3da9e2 683px,#4bb4e7 685px,#7cc8d8 688px,#7ec6b6 692px,#76bf9a 696px,#5fb867 708px,#5bb75d 712px,#57b451 726px,#55b24a 749px)"></i><i style="left:162px;background:linear-gradient(#354a91 0,#354a91 675px,#364d94 676px,#3961a7 678px,#3d96d4 681px,#3ca7e1 682px,#4ab3e7 684px,#67c0df 686px,#78c6d9 687px,#80c8c2 690px,#78c0a2 694px,#65b973 704px,#5cb85f 710px,#57b452 723px,#54b24a 749px)"></i><i style="left:164px;background:linear-gradient(#354a91 0,#354c93 675px,#385fa5 677px,#3e80c2 679px,#3ca3de 681px,#48b1e6 683px,#52b7e6 684px,#74c5db 686px,#7dc8d4 687px,#7dc5b3 691px,#73bd93 696px,#5db862 708px,#58b453 720px,#54b24a 747px,#54b24a 749px)"></i><i style="left:166px;background:linear-gradient(#354a91 0,#354b92 674px,#385da3 676px,#3d8ece 679px,#3ca0dc 680px,#40abe3 681px,#4eb5e8 683px,#7cc8d6 686px,#80c8be 689px,#78c09f 693px,#61b96a 705px,#5ab75b 711px,#56b34e 729px,#54b249 749px)"></i><i style="left:168px;background:linear-gradient(#354a91 0,#354b92 673px,#385ba1 675px,#3d9cd9 679px,#3eaae3 680px,#4cb4e8 682px,#7cc8d8 685px,#7ec6b8 689px,#76bf9b 693px,#60b868 705px,#5bb75c 710px,#56b34e 727px,#54b249 749px)"></i><i style="left:170px;background:linear-gradient(#354a91 0,#354a91 672px,#3859a0 674px,#3c77bb 676px,#3da9e2 679px,#4ab3e7 681px,#78c6d9 684px,#80c8c3 687px,#79c1a3 691px,#65b974 701px,#5bb75e 708px,#57b450 722px,#54b148 749px)"></i><i style="left:172px;background:linear-gradient(#354a91 0,#354a91 671px,#37589e 673px,#3963a9 674px,#3d96d4 677px,#3ca7e1 678px,#49b2e7 680px,#64bee0 682px,#74c5db 683px,#7dc8d4 684px,#7dc5b4 688px,#75bf99 692px,#61b96a 703px,#5ab75b 709px,#56b34e 725px,#54b148 749px)"></i><i style="left:174px;background:linear-gradient(#354a91 0,#354a91 670px,#37569d 672px,#3961a7 673px,#3d93d2 676px,#3ca4df 677px,#51b6e7 680px,#71c4dc 682px,#7cc8d6 683px,#80c8bf 686px,#78c0a0 690px,#61b96b 702px,#5bb75c 708px,#56b34f 723px,#54b148 749px)"></i><i style="left:176px;background:linear-gradient(#354a91 0,#354a91 669px,#37559c 671px,#3b70b4 673px,#3d91d0 675px,#3ca2dd 676px,#47b0e6 678px,#4db5e8 679px,#7cc8d7 682px,#7ec6b8 686px,#76bf9c 690px,#60b869 702px,#5ab75b 708px,#56b34f 722px,#54b147 749px)"></i><i style="left:178px;background:linear-gradient(#354a91 0,#354a91 668px,#37549b 670px,#3b6eb3 672px,#3c9fdb 675px,#3faae3 676px,#4cb4e8 678px,#7ac7d9 681px,#80c8c2 684px,#77bf9d 689px,#60b96a 701px,#5ab75b 707px,#56b34f 721px,#53b147 749px)"></i><i style="left:180px;background:linear-gradient(#354a91 0,#354a91 667px,#37549a 669px,#3b6db1 671px,#3d9dda 674px,#3eaae3 675px,#4bb4e7 677px,#78c6d9 680px,#7ec8cb 682px,#7bc3ab 686px,#71bd90 691px,#5eb864 702px,#58b553 713px,#53b147 746px,#53b147 749px)"></i><i style="left:182px;background:linear-gradient(#354a91 0,#354c93 667px,#385da4 669px,#3d9cd9 673px,#3ea9e3 674px,#4ab3e7 676px,#75c5da 679px,#7dc8d4 680px,#7dc5b5 684px,#76bf9a 688px,#5eb865 701px,#59b657 709px,#54b24a 731px,#53b147 749px)"></i><i style="left:184px;background:linear-gradient(#354a91 0,#354c93 666px,#385da3 668px,#3d9bd8 672px,#3da9e2 673px,#4ab3e7 675px,#65bfe0 677px,#74c5db 678px,#7dc8d5 679px,#7ec6b6 683px,#76bf9b 687px,#5fb866 700px,#59b657 708px,#54b249 732px,#53b146 749px)"></i><i style="left:186px;background:linear-gradient(#354a91 0,#354a91 664px,#37549a 666px,#3a6bb0 668px,#3da9e2 672px,#54b8e6 675px,#72c4db 677px,#7cc8d6 678px,#7ec6b8 682px,#76bf9c 686px,#5fb867 699px,#59b658 707px,#55b34d 722px,#53b146 749px)"></i><i style="left:188px;background:linear-gradient(#354a91 0,#354a91 663px,#37549a 665px,#3a6bb0 667px,#3da8e2 671px,#49b2e7 673px,#62bee1 675px,#7cc8d6 677px,#7ec6b9 681px,#77bf9d 685px,#5fb868 698px,#5bb75c 703px,#56b34e 719px,#53b146 749px)"></i><i style="left:190px;background:linear-gradient(#354a91 0,#354a91 662px,#37549b 664px,#3b6cb1 666px,#3da8e2 670px,#52b7e6 673px,#7cc8d7 676px,#7ec6ba 680px,#77c09e 684px,#60b869 697px,#5ab75b 703px,#56b34e 718px,#53b146 749px)"></i><i style="left:192px;background:linear-gradient(#354a91 0,#354a91 661px,#37559b 663px,#3b6db1 665px,#3da8e2 669px,#52b7e6 672px,#7cc8d7 675px,#7fc7ba 679px,#77c09e 683px,#62b96d 695px,#5bb75d 701px,#56b34f 715px,#53b145 749px)"></i><i style="left:194px;background:linear-gradient(#354a91 0,#354a91 660px,#37569c 662px,#395fa5 663px,#3d9bd8 667px,#3da9e2 668px,#51b7e6 671px,#7cc8d8 674px,#7fc7bb 678px,#75bf9a 683px,#60b96a 695px,#5bb75c 701px,#56b34e 716px,#53b145 749px)"></i><i style="left:196px;background:linear-gradient(#354a91 0,#354b92 659px,#37579d 661px,#3960a6 662px,#3da9e2 667px,#52b7e6 670px,#7cc8d8 673px,#7dc5b4 678px,#76bf9b 682px,#5fb867 695px,#59b658 703px,#55b24c 720px,#53b145 749px)"></i><i style="left:198px;background:linear-gradient(#354a91 0,#354b92 658px,#37579e 660px,#3b70b4 662px,#3da9e2 666px,#52b7e6 669px,#7cc8d8 672px,#7dc5b4 677px,#76bf9b 681px,#5eb865 695px,#5ab65a 701px,#55b34c 718px,#53b045 749px)"></i><i style="left:200px;background:linear-gradient(#354a91 0,#354b92 657px,#37589f 659px,#3b71b5 661px,#3ea9e3 665px,#52b7e6 668px,#7cc8d8 671px,#7dc5b5 676px,#76bf9c 680px,#61b96c 692px,#5bb75d 698px,#56b34e 713px,#52b044 749px)"></i><i style="left:202px;background:linear-gradient(#354a91 0,#354c93 656px,#385aa0 658px,#3c73b6 660px,#3ea9e3 664px,#52b7e6 667px,#7cc8d8 670px,#7dc5b5 675px,#74be97 680px,#5fb866 693px,#59b658 701px,#55b34c 717px,#52b044 749px)"></i><i style="left:204px;background:linear-gradient(#354a91 0,#354c93 655px,#3965ab 658px,#3d91cf 661px,#3eaae3 663px,#52b7e6 666px,#7cc8d8 669px,#7dc5b6 674px,#76bf9c 678px,#5fb867 692px,#59b658 700px,#55b24b 718px,#52b044 749px)"></i><i style="left:206px;background:linear-gradient(#354a91 0,#354a91 653px,#37539a 655px,#3a67ac 657px,#3d92d0 660px,#3eaae3 662px,#53b7e6 665px,#7cc8d8 668px,#7ec6b6 673px,#75be98 678px,#5fb867 691px,#5ab65a 698px,#55b34d 713px,#52b044 749px)"></i><i style="left:208px;background:linear-gradient(#354a91 0,#354a91 652px,#37549b 654px,#3a68ad 656px,#3d93d1 659px,#3faae3 661px,#53b7e6 664px,#7bc8d8 667px,#80c8be 671px,#77bf9d 676px,#5fb868 690px,#5ab75b 696px,#55b34d 712px,#52b043 749px)"></i><i style="left:210px;background:linear-gradient(#354a91 0,#354a91 651px,#37559b 653px,#3a69af 655px,#3d94d2 658px,#3faae3 660px,#53b8e6 663px,#7bc8d8 666px,#80c8bf 670px,#77bf9e 675px,#60b868 689px,#5ab659 697px,#55b34c 713px,#52b043 749px)"></i><i style="left:212px;background:linear-gradient(#354a91 0,#354b92 650px,#385ea4 653px,#3d94d2 657px,#3ca2dd 658px,#45afe5 660px,#53b8e6 662px,#7bc8d8 665px,#80c8bf 669px,#77c09e 674px,#63b96f 686px,#5bb75d 693px,#55b34c 712px,#52b043 749px)"></i><i style="left:214px;background:linear-gradient(#354a91 0,#354b92 649px,#37569d 651px,#3a6cb0 653px,#3d95d3 656px,#3ca3de 657px,#45afe5 659px,#53b8e6 661px,#7bc7d8 664px,#80c8c0 668px,#77c09e 673px,#5fb866 688px,#5ab75b 694px,#55b34c 711px,#52b043 748px,#52b043 749px)"></i><i style="left:216px;background:linear-gradient(#354a91 0,#354b92 648px,#3960a6 651px,#3d95d3 655px,#3ca3de 656px,#45afe5 658px,#53b8e6 660px,#7ac7d9 663px,#80c8c0 667px,#77c09f 672px,#5fb866 687px,#58b554 699px,#54b148 720px,#52b043 749px)"></i><i style="left:218px;background:linear-gradient(#354a91 0,#354c92 647px,#37579e 649px,#3b6db2 651px,#3ca3de 655px,#45afe5 657px,#53b7e6 659px,#7ac7d9 662px,#80c8c1 666px,#78c09f 671px,#5eb864 687px,#57b450 702px,#52b043 739px,#53b043 749px)"></i><i style="left:220px;background:linear-gradient(#354a91 0,#354c93 646px,#3960a6 649px,#3d96d3 653px,#3ca3de 654px,#45afe5 656px,#52b7e6 658px,#79c7d9 661px,#80c8c1 665px,#76bf9b 671px,#5fb868 685px,#5ab659 693px,#55b24b 710px,#53b043 744px,#53b043 749px)"></i><i style="left:222px;background:linear-gradient(#354a91 0,#354c93 645px,#3960a6 648px,#3d95d3 652px,#3ca2de 653px,#44aee5 655px,#51b7e6 657px,#78c6d9 660px,#7ec8ce 662px,#7dc5b4 666px,#74be98 671px,#5eb865 685px,#57b453 698px,#54b148 717px,#53b043 747px,#53b043 749px)"></i><i style="left:224px;background:linear-gradient(#354a91 0,#354c93 644px,#3960a6 647px,#3d95d3 651px,#3faae3 653px,#50b6e7 656px,#76c6da 659px,#7dc8d5 660px,#7fc7bc 664px,#77bf9d 669px,#5fb866 684px,#5ab75b 690px,#55b24b 708px,#53b043 741px,#53b143 749px)"></i><i style="left:226px;background:linear-gradient(#354a91 0,#354c93 643px,#3960a6 646px,#3d94d2 650px,#3eaae3 652px,#4fb6e7 655px,#75c5da 658px,#7cc8d6 659px,#7ec6b6 664px,#73be95 670px,#5eb864 684px,#56b34f 700px,#53b043 736px,#53b143 749px)"></i><i style="left:228px;background:linear-gradient(#354a91 0,#354c93 642px,#395fa5 645px,#3d92d1 649px,#3ea9e3 651px,#4db5e8 654px,#73c4db 657px,#7cc8d7 658px,#7ec6b8 663px,#75bf9a 668px,#5eb864 683px,#56b350 699px,#52b043 732px,#53b143 749px)"></i><i style="left:230px;background:linear-gradient(#354a91 0,#354b92 641px,#385ea5 644px,#3d91d0 648px,#3da9e2 650px,#4cb4e8 653px,#7cc8d8 657px,#7ec6b9 662px,#76bf9b 667px,#5db862 683px,#55b34c 703px,#53b043 736px,#53b143 749px)"></i><i style="left:232px;background:linear-gradient(#354a91 0,#354b92 640px,#385ea4 643px,#3d8fce 647px,#3ca8e2 649px,#4cb4e8 652px,#7bc7d8 656px,#7fc7ba 661px,#75be98 667px,#5cb860 683px,#55b24b 704px,#53b143 736px,#54b143 749px)"></i><i style="left:234px;background:linear-gradient(#354a91 0,#354b92 639px,#385da3 642px,#3d8ecd 646px,#3ca7e1 648px,#4bb3e7 651px,#79c7d9 655px,#80c8c2 659px,#77bf9d 665px,#5fb867 680px,#5ab65a 687px,#55b24a 705px,#53b143 736px,#54b143 749px)"></i><i style="left:236px;background:linear-gradient(#354a91 0,#354b92 638px,#385ca2 641px,#3d8ccc 645px,#3ca5e0 647px,#52b7e6 651px,#77c6da 654px,#7ec8cf 656px,#7cc4b0 661px,#75bf9a 665px,#5eb864 680px,#56b350 696px,#52b044 722px,#54b143 749px)"></i><i style="left:238px;background:linear-gradient(#354a91 0,#354b92 637px,#385ba2 640px,#3e8bcb 644px,#3ca4df 646px,#50b6e7 650px,#75c5da 653px,#7cc8d6 654px,#7ec6b8 659px,#76bf9b 664px,#5db862 680px,#55b24b 701px,#53b043 731px,#54b143 749px)"></i><i style="left:240px;background:linear-gradient(#354a91 0,#354b92 636px,#385ba1 639px,#3e89ca 643px,#3ca3de 645px,#49b2e7 648px,#4fb6e7 649px,#7cc8d7 653px,#7ec6b9 658px,#74be97 664px,#5cb860 680px,#55b24a 702px,#53b143 731px,#54b143 749px)"></i><i style="left:242px;background:linear-gradient(#354a91 0,#354b92 635px,#37539a 637px,#3963a9 639px,#3d95d3 643px,#3eaae3 645px,#4db5e8 648px,#7cc8d8 652px,#7fc7ba 657px,#75be98 663px,#5eb864 678px,#56b34f 694px,#52b043 724px,#54b143 749px)"></i><i style="left:244px;background:linear-gradient(#354a91 0,#354b92 634px,#385aa1 637px,#3e87c8 641px,#3ca1dc 643px,#3eaae3 644px,#4db5e8 647px,#7cc8d8 651px,#7fc7bb 656px,#75be99 662px,#5db861 678px,#54b249 702px,#54b143 731px,#55b143 749px)"></i><i style="left:246px;background:linear-gradient(#354a91 0,#354b92 633px,#37539a 635px,#3963a9 637px,#3d94d3 641px,#3ea9e3 643px,#4cb5e8 646px,#7bc7d8 650px,#7fc7bc 655px,#75bf99 661px,#5db862 677px,#55b24a 699px,#53b143 728px,#55b144 749px)"></i><i style="left:248px;background:linear-gradient(#354a91 0,#354b92 632px,#385ba1 635px,#3b70b4 637px,#3ca1dc 641px,#3ea9e3 642px,#4cb5e8 645px,#7ac7d9 649px,#7fc7bd 654px,#77c09e 659px,#5eb865 675px,#57b453 688px,#53b146 708px,#55b143 740px,#55b144 749px)"></i><i style="left:250px;background:linear-gradient(#354a91 0,#354b92 631px,#385ca2 634px,#3b71b5 636px,#3ca1dd 640px,#3eaae3 641px,#4cb5e8 644px,#7ac7d9 648px,#7fc7bd 653px,#75bf9a 659px,#5eb865 674px,#58b453 687px,#53b146 707px,#55b144 739px,#55b244 749px)"></i><i style="left:252px;background:linear-gradient(#354a91 0,#354c93 630px,#385da3 633px,#3e8acb 637px,#3ca3de 639px,#4db5e8 643px,#7bc7d8 647px,#7fc7bd 652px,#75bf9a 658px,#5db863 674px,#56b34e 692px,#52b043 717px,#55b244 749px)"></i><i style="left:254px;background:linear-gradient(#354a91 0,#354c93 629px,#385ea4 632px,#3d8dcc 636px,#3ca4df 638px,#49b2e7 641px,#4eb5e8 642px,#7cc8d8 646px,#7fc7bd 651px,#75bf9a 657px,#5db863 673px,#55b24c 693px,#53b143 720px,#55b244 749px)"></i><i style="left:256px;background:linear-gradient(#354a91 0,#354a91 627px,#37599f 630px,#3a6bb0 632px,#3d9bd8 636px,#3ca7e1 637px,#50b6e7 641px,#7cc8d7 645px,#7fc7bc 650px,#75bf9a 656px,#5db863 672px,#55b24b 693px,#53b143 719px,#56b244 749px)"></i><i style="left:258px;background:linear-gradient(#354a91 0,#354b92 626px,#3962a8 630px,#3d92d1 634px,#3ca8e2 636px,#52b7e6 640px,#7cc8d7 644px,#7fc7bb 649px,#75bf9a 655px,#5db863 671px,#55b24b 692px,#53b143 718px,#56b244 749px)"></i><i style="left:260px;background:linear-gradient(#354a91 0,#354c93 625px,#385da3 628px,#3e89c9 632px,#3ca1dc 634px,#3ea9e3 635px,#4bb4e7 638px,#76c6da 642px,#7dc8d0 644px,#7fc7ba 648px,#75bf99 654px,#5db863 670px,#55b24b 691px,#53b143 717px,#56b244 749px)"></i><i style="left:262px;background:linear-gradient(#354a91 0,#354a91 623px,#395fa5 627px,#3d8dcc 631px,#3ca4df 633px,#4cb5e8 637px,#78c6d9 641px,#7dc8cf 643px,#7ec6b9 647px,#75be99 653px,#5cb860 670px,#54b249 693px,#53b143 717px,#56b244 749px)"></i><i style="left:264px;background:linear-gradient(#354a91 0,#354b92 622px,#3962a8 626px,#3d90cf 630px,#3ca7e1 632px,#4fb6e7 636px,#7ac7d9 640px,#80c8bf 645px,#76bf9c 651px,#5db863 668px,#56b34e 686px,#52b043 708px,#56b244 749px)"></i><i style="left:266px;background:linear-gradient(#354a91 0,#354c93 621px,#385da3 624px,#3d94d2 629px,#3da9e2 631px,#51b7e6 635px,#7cc8d8 639px,#7ec6b7 645px,#74be98 651px,#5db862 667px,#55b24b 689px,#53b043 711px,#56b244 749px)"></i><i style="left:268px;background:linear-gradient(#354a91 0,#354b92 619px,#37599f 622px,#3e7fc1 626px,#3ca2de 629px,#43ade4 631px,#54b8e5 634px,#75c5da 637px,#7cc8d7 638px,#7fc7bd 643px,#76bf9b 649px,#5eb865 665px,#59b557 675px,#53b146 696px,#55b144 724px,#57b244 749px)"></i><i style="left:270px;background:linear-gradient(#354a91 0,#354c93 618px,#3962a8 622px,#3d8fcf 626px,#3ca5e0 628px,#4db5e8 632px,#77c6da 636px,#7dc8d0 638px,#7fc7bb 642px,#76bf9b 648px,#5eb865 664px,#59b557 674px,#53b145 696px,#57b244 749px)"></i><i style="left:272px;background:linear-gradient(#354a91 0,#354a91 616px,#385da4 620px,#3d93d1 625px,#3ca8e2 627px,#4fb6e7 631px,#79c7d9 635px,#7fc8c5 639px,#75bf9a 647px,#5eb865 663px,#5ab659 671px,#53b145 695px,#57b244 749px)"></i><i style="left:274px;background:linear-gradient(#354a91 0,#354b92 615px,#37599f 618px,#3d7ec1 622px,#3ca1dc 625px,#42ade4 627px,#51b7e7 630px,#7bc8d8 634px,#7ec6ba 640px,#75bf9a 646px,#5eb865 662px,#5ab659 670px,#53b145 694px,#57b244 749px)"></i><i style="left:276px;background:linear-gradient(#354a91 0,#354c93 614px,#3962a8 618px,#3d8ecd 622px,#3faae3 625px,#4bb4e7 628px,#7cc8d8 633px,#7ec6b9 639px,#75bf99 645px,#5eb865 661px,#5ab659 669px,#53b145 693px,#57b344 749px)"></i><i style="left:278px;background:linear-gradient(#354a91 0,#354a91 612px,#37569d 615px,#3964aa 617px,#3d90cf 621px,#3ca5e0 623px,#4cb4e8 627px,#7cc8d7 632px,#7ec6b8 638px,#73be95 645px,#5cb860 662px,#53b146 690px,#56b244 722px,#57b344 749px)"></i><i style="left:280px;background:linear-gradient(#354a91 0,#354b92 611px,#385ea4 615px,#3d92d1 620px,#3ca7e1 622px,#4db5e8 626px,#76c5da 630px,#7dc8d1 632px,#7ec6b8 637px,#73be95 644px,#5cb860 661px,#53b146 689px,#55b244 717px,#57b344 749px)"></i><i style="left:282px;background:linear-gradient(#354a91 0,#354b92 610px,#3960a6 614px,#3d94d3 619px,#3ca8e2 621px,#4eb5e8 625px,#77c6da 629px,#7dc8d1 631px,#7ec6b7 636px,#75be99 642px,#5cb860 660px,#53b146 688px,#55b244 716px,#58b344 749px)"></i><i style="left:284px;background:linear-gradient(#354a91 0,#354c93 609px,#3961a7 613px,#3d8ccc 617px,#3da9e2 620px,#50b6e7 624px,#78c6d9 628px,#80c8c2 633px,#75be99 641px,#5cb860 659px,#53b146 687px,#55b244 715px,#58b344 749px)"></i><i style="left:286px;background:linear-gradient(#354a91 0,#354b92 607px,#37579d 610px,#3964aa 612px,#3d8fce 616px,#3ca4df 618px,#4bb3e7 622px,#7ac7d9 627px,#7fc7bc 633px,#75be98 640px,#5db862 657px,#53b147 684px,#54b143 705px,#58b344 749px)"></i><i style="left:288px;background:linear-gradient(#354a91 0,#354c92 606px,#395fa6 610px,#3d9dd9 616px,#3ca7e1 617px,#4cb4e8 621px,#7cc8d8 626px,#7fc7bb 632px,#74be98 639px,#5db862 656px,#54b147 683px,#54b143 704px,#58b344 749px)"></i><i style="left:290px;background:linear-gradient(#354a91 0,#354a91 604px,#385ca3 608px,#3e81c3 612px,#3ca2dd 615px,#42ace4 617px,#4fb6e7 620px,#76c6da 624px,#7dc8d2 626px,#7ec6b9 631px,#73bd93 639px,#5cb860 656px,#53b146 684px,#55b144 708px,#58b344 749px)"></i><i style="left:292px;background:linear-gradient(#354a91 0,#354a91 604px,#385aa0 606px,#3d7cbf 610px,#3ca6e0 614px,#4bb4e7 618px,#79c7d9 623px,#7fc8c7 627px,#75bf9a 636px,#5cb860 655px,#53b146 683px,#55b144 707px,#59b344 749px)"></i><i style="left:294px;background:linear-gradient(#354a91 0,#354a91 604px,#385da3 605px,#3e81c3 609px,#3ca1dd 612px,#41ace4 614px,#4db5e8 617px,#7cc8d8 622px,#7fc7bc 628px,#75bf99 635px,#62b96d 649px,#5bb75c 657px,#52b044 686px,#59b344 749px)"></i><i style="left:296px;background:linear-gradient(#354a91 0,#354a91 604px,#3a6bb0 605px,#3d9dd9 610px,#3ca6e1 611px,#4bb4e7 615px,#78c6d9 620px,#7fc8c8 624px,#7cc4af 629px,#72bd91 636px,#5cb860 653px,#53b146 681px,#55b144 705px,#59b444 749px)"></i><i style="left:298px;background:linear-gradient(#354a91 0,#354a91 604px,#3d7bbe 605px,#3ca3de 609px,#42ade4 611px,#4eb5e8 614px,#7cc8d8 619px,#7fc7bc 625px,#76bf9a 632px,#5db861 651px,#53b146 680px,#55b144 704px,#59b444 749px)"></i><i style="left:300px;background:linear-gradient(#354a91 0,#354a91 604px,#3d8fce 605px,#3da9e2 608px,#4cb5e8 612px,#7ac7d9 617px,#80c8bf 623px,#75be98 631px,#5cb85f 651px,#53b145 681px,#5ab444 749px)"></i><i style="left:302px;background:linear-gradient(#354a91 0,#354a91 604px,#3ca2dd 605px,#41ace4 607px,#4cb5e8 610px,#79c7d9 615px,#80c8c0 621px,#75bf9a 629px,#5db862 648px,#54b147 676px,#54b143 697px,#5ab445 749px)"></i><i style="left:304px;background:linear-gradient(#354a91 0,#354a91 604px,#42ade4 605px,#4db5e8 608px,#7ac7d9 613px,#7fc7ba 620px,#74be96 628px,#5cb860 647px,#53b145 678px,#5bb545 749px)"></i><i style="left:306px;background:linear-gradient(#354a91 0,#354a91 603px,#48b1e6 604px,#51b7e6 606px,#7cc8d7 611px,#7fc7be 617px,#75bf99 625px,#5db862 644px,#53b146 674px,#55b244 698px,#5cb545 749px)"></i><i style="left:308px;background:linear-gradient(#354a91 0,#354a91 603px,#59bae4 604px,#7bc8d8 608px,#7fc7bb 615px,#74be97 623px,#5cb860 643px,#53b044 675px,#5eb645 749px)"></i><i style="left:310px;background:linear-gradient(#354a91 0,#354a91 602px,#6dc2dd 603px,#7cc8d8 605px,#7fc7ba 612px,#73be94 621px,#5cb860 640px,#52b044 673px,#60b746 749px)"></i><i style="left:312px;background:linear-gradient(#354a91 0,#354a91 602px,#7dc8d1 603px,#7ec6b8 609px,#74be96 617px,#5cb860 637px,#52b044 670px,#62b846 749px)"></i><i style="left:314px;background:linear-gradient(#354a91 0,#354a91 601px,#7fc8c5 602px,#76bf9a 612px,#5cb860 634px,#52b044 667px,#65b947 744px,#68ba47 749px)"></i><i style="left:316px;background:linear-gradient(#354a91 0,#354a91 600px,#7dc5b6 601px,#74be96 609px,#5cb860 630px,#52b043 666px,#65b947 734px,#70bd49 749px)"></i><i style="left:318px;background:linear-gradient(#354a91 0,#354a91 599px,#79c1a5 600px,#6dba85 611px,#5cb860 626px,#52b043 662px,#65b947 724px,#7ac14c 749px)"></i><i style="left:320px;background:linear-gradient(#354a91 0,#354a91 598px,#74be97 599px,#5cb860 621px,#53b043 657px,#65b947 715px,#85c64e 749px)"></i><i style="left:322px;background:linear-gradient(#354a91 0,#354a91 598px,#6ebb89 599px,#5cb85f 617px,#53b043 652px,#65b947 706px,#92ca50 747px,#95cb50 749px)"></i><i style="left:324px;background:linear-gradient(#354a91 0,#354a91 597px,#69ba7c 598px,#5bb75d 613px,#53b043 646px,#65b947 697px,#90ca50 734px,#a8d350 749px)"></i><i style="left:326px;background:linear-gradient(#354a91 0,#354a91 596px,#63b96f 597px,#5bb75d 607px,#53b043 639px,#65b947 688px,#90ca50 723px,#bbda50 746px,#c2dc50 749px)"></i><i style="left:328px;background:linear-gradient(#354a91 0,#354a91 595px,#5cb860 596px,#53b143 632px,#65b947 679px,#93cb50 714px,#bbda50 734px,#e3e947 749px)"></i><i style="left:330px;background:linear-gradient(#354a91 0,#354a91 594px,#5ab659 595px,#53b143 624px,#65b947 670px,#94cb50 704px,#c4dd4f 726px,#eeed42 742px,#f2e62d 749px)"></i><i style="left:332px;background:linear-gradient(#354a91 0,#354a91 593px,#57b452 594px,#53b143 615px,#65b947 660px,#95cb50 694px,#c6de4f 715px,#eeee43 730px,#f4e427 740px,#f6df19 749px)"></i><i style="left:334px;background:linear-gradient(#354a91 0,#354a91 592px,#55b24a 593px,#54b143 607px,#65b947 649px,#93cb50 682px,#c7de4f 704px,#eeed42 719px,#f4e426 729px,#f8db10 746px,#f8d911 749px)"></i><i style="left:336px;background:linear-gradient(#354a91 0,#354a91 591px,#52b043 592px,#65b947 638px,#91ca50 670px,#c5dd4f 692px,#efed41 708px,#f4e325 719px,#f8db10 735px,#f7d213 749px)"></i><i style="left:338px;background:linear-gradient(#354a91 0,#354a91 589px,#56b244 590px,#65b947 627px,#93cb50 660px,#c9df4e 682px,#efed41 697px,#f3e529 707px,#f8db10 725px,#f7cc15 749px)"></i><i style="left:340px;background:linear-gradient(#354a91 0,#354a91 587px,#59b444 588px,#65b947 616px,#92ca50 648px,#cde14d 672px,#eeee44 685px,#f3e52a 696px,#f8db10 715px,#f6c717 749px)"></i><i style="left:342px;background:linear-gradient(#354a91 0,#354a91 585px,#5db545 586px,#66ba47 605px,#91ca50 636px,#c9df4e 659px,#eeee44 674px,#f3e52a 686px,#f8db10 705px,#f6c119 749px)"></i><i style="left:344px;background:linear-gradient(#354a91 0,#354a91 583px,#61b746 584px,#6bbb48 596px,#90c950 623px,#c9df4e 647px,#edee44 662px,#f4e323 680px,#f8db10 696px,#f5bb1b 749px)"></i><i style="left:346px;background:linear-gradient(#354a91 0,#354a91 580px,#69bb48 581px,#91ca50 611px,#cadf4e 635px,#edee44 650px,#f5e220 671px,#f8db10 685px,#f4b31e 749px)"></i><i style="left:348px;background:linear-gradient(#354a91 0,#354a91 578px,#77c04b 579px,#93cb50 599px,#c9df4e 622px,#eeee44 638px,#f4e325 656px,#f8db10 674px,#f3ad21 745px,#f2aa23 749px)"></i><i style="left:350px;background:linear-gradient(#354a91 0,#354a91 575px,#84c54e 576px,#9bce50 590px,#cee14d 611px,#edee44 625px,#f5e222 646px,#f8db10 663px,#f3af21 731px,#f0a227 749px)"></i><i style="left:352px;background:linear-gradient(#354a91 0,#354a91 572px,#9fcf50 573px,#cde14d 593px,#edee44 608px,#f5e120 632px,#f8db10 648px,#f3b020 717px,#ef9b2a 749px)"></i><i style="left:354px;background:linear-gradient(#354a91 0,#354a91 570px,#d4e34b 571px,#eeee44 585px,#f4e427 605px,#f8db10 629px,#f4b11f 701px,#ee982c 743px,#ee962d 749px)"></i><i style="left:356px;background:linear-gradient(#354a91 0,#354a91 569px,#f2e731 570px,#f8dc10 604px,#f4b11f 684px,#ee972c 731px,#ed932f 749px)"></i><i style="left:358px;background:linear-gradient(#354a91 0,#354a91 569px,#f8dc10 570px,#f3b120 663px,#ee972d 715px,#ed9130 749px)"></i><i style="left:360px;background:linear-gradient(#354a91 0,#354a91 569px,#f7cd15 570px,#f3b120 636px,#ee982c 691px,#ec8f31 749px)"></i><i style="left:362px;background:linear-gradient(#354a91 0,#354a91 569px,#f6bf1a 570px,#ee992c 663px,#ec8d32 749px)"></i><i style="left:364px;background:linear-gradient(#354a91 0,#354a91 569px,#f3af21 570px,#ee972d 640px,#eb8b32 749px)"></i><i style="left:366px;background:linear-gradient(#354a91 0,#354a91 569px,#f09f29 570px,#ed932f 635px,#eb8a33 749px)"></i><i style="left:368px;background:linear-gradient(#354a91 0,#354a91 408px,#37559b 409px,#354a91 410px,#354a91 569px,#ee952d 570px,#eb8834 749px)"></i><i style="left:370px;background:linear-gradient(#354a91 0,#354b92 406px,#364e94 407px,#385ba2 408px,#3e87c8 409px,#354a91 410px,#354a91 569px,#ed9130 570px,#ea8735 749px)"></i><i style="left:372px;background:linear-gradient(#354a91 0,#354c93 399px,#385ba1 404px,#3a67ac 406px,#3c73b7 407px,#3d9bd8 408px,#57b9e5 409px,#354a91 410px,#354a91 569px,#ec8d31 570px,#ea8635 749px)"></i><i style="left:374px;background:linear-gradient(#354a91 0,#354c93 387px,#37589e 394px,#3a67ac 398px,#3e82c4 402px,#3ca6e1 405px,#47b0e6 407px,#6ac1de 408px,#7fc7bc 409px,#354a91 410px,#354a91 569px,#eb8a33 570px,#ea8536 749px)"></i><i style="left:376px;background:linear-gradient(#354a91 0,#354c93 363px,#385ba2 380px,#3a69ae 386px,#3e81c3 392px,#3da8e2 397px,#4bb3e7 401px,#5dbce2 403px,#76c6da 405px,#7dc8d4 406px,#7ec8cb 407px,#7cc4af 408px,#6ebb88 409px,#354a91 410px,#354a91 569px,#eb8834 570px,#ea8436 749px)"></i><i style="left:378px;background:linear-gradient(#354a91 0,#354c92 343px,#3a6aaf 361px,#3e85c6 374px,#3ca8e2 383px,#4cb4e8 391px,#70c3dc 396px,#7dc8d5 398px,#7ec6b7 403px,#73be95 407px,#69ba7d 408px,#5cb85f 409px,#354a91 410px,#354a91 569px,#ea8635 570px,#ea8337 749px)"></i><i style="left:380px;background:linear-gradient(#354a91 0,#354c93 331px,#3962a8 341px,#3e8aca 350px,#3ca6e0 356px,#4fb6e7 372px,#77c6da 383px,#7cc8d5 385px,#7fc7bb 393px,#6cba85 403px,#60b868 407px,#58b453 409px,#354a91 410px,#354a91 569px,#ea8436 570px,#e98237 749px)"></i><i style="left:382px;background:linear-gradient(#354a91 0,#354c93 319px,#3961a7 328px,#3e89ca 336px,#3ca5e0 340px,#4fb6e7 348px,#79c7d9 357px,#7fc8c5 369px,#7bc3ac 381px,#6aba7f 395px,#5bb75e 403px,#59b556 407px,#55b24b 409px,#354a91 410px,#354a91 569px,#ea8337 570px,#e98137 749px)"></i><i style="left:384px;background:linear-gradient(#354a91 0,#354c93 306px,#385ba1 314px,#3c78bc 321px,#3e82c4 323px,#3ca8e2 328px,#4cb4e8 334px,#7cc8d8 341px,#7ec6ba 350px,#77c09e 360px,#68b97b 381px,#5bb75e 394px,#56b34d 407px,#52b043 409px,#354a91 410px,#354a91 569px,#e98237 570px,#e98138 749px)"></i><i style="left:386px;background:linear-gradient(#354a91 0,#354c93 291px,#385ea4 302px,#3d7fc1 310px,#3ca8e2 316px,#4cb4e8 322px,#78c7d9 328px,#7ec8ca 332px,#7fc7ba 336px,#72bd91 346px,#63b970 360px,#5bb85e 376px,#53b147 406px,#53b043 408px,#57b244 409px,#354a91 410px,#354a91 569px,#e98237 570px,#e98038 749px)"></i><i style="left:388px;background:linear-gradient(#354a91 0,#354c93 272px,#3960a6 286px,#3e80c2 296px,#3ca8e2 303px,#4db5e8 310px,#79c7d9 316px,#80c8be 323px,#72bd91 333px,#5eb865 346px,#5ab659 358px,#54b148 397px,#54b143 406px,#58b344 408px,#5fb746 409px,#354a91 410px,#354a91 569px,#e98237 570px,#e98038 749px)"></i><i style="left:390px;background:linear-gradient(#354a91 0,#354c93 249px,#385ea4 265px,#3e80c3 278px,#3da9e2 287px,#4eb6e8 296px,#7cc8d6 304px,#7ec6b8 312px,#66b976 328px,#5cb860 335px,#57b451 354px,#54b143 398px,#5cb545 407px,#62b846 408px,#88c74f 409px,#354a91 410px,#354a91 569px,#e98137 570px,#e98038 749px)"></i><i style="left:392px;background:linear-gradient(#354a91 0,#354c93 220px,#385ca2 240px,#3b70b4 250px,#3e8aca 259px,#3da9e2 267px,#50b6e7 278px,#7cc8d6 288px,#7ec6ba 298px,#69ba7e 314px,#5cb860 323px,#55b34d 345px,#54b143 385px,#5fb645 402px,#62b846 404px,#79c14b 407px,#95cb50 408px,#c5dd4f 409px,#354a91 410px,#354a91 569px,#e98137 570px,#e98038 749px)"></i><i style="left:394px;background:linear-gradient(#354a91 0,#354c93 198px,#3b70b4 221px,#3e87c8 233px,#3da9e2 244px,#4eb5e8 256px,#7cc8d7 268px,#7fc7ba 280px,#66b976 303px,#5bb85e 312px,#53b147 342px,#55b143 362px,#5db645 390px,#65b947 396px,#8cc850 403px,#b3d750 407px,#d3e34b 408px,#f0eb3b 409px,#354a91 410px,#354a91 569px,#e98237 570px,#e98038 749px)"></i><i style="left:396px;background:linear-gradient(#354a91 0,#354c93 189px,#3965ab 196px,#3d7ec1 202px,#3ca7e1 212px,#51b7e7 231px,#7cc8d7 245px,#7ec6ba 259px,#6ebb89 279px,#5cb861 296px,#54b148 328px,#54b143 343px,#64b947 381px,#81c44d 391px,#a0cf50 397px,#cadf4e 403px,#eaec45 407px,#f2e832 408px,#f8dd12 409px,#354a91 410px,#354a91 569px,#ea8237 570px,#e98138 749px)"></i><i style="left:398px;background:linear-gradient(#354a91 0,#354c93 183px,#385ea5 187px,#3e8acb 192px,#3da8e2 195px,#51b7e6 203px,#7ac7d9 213px,#7fc7bc 233px,#6aba80 262px,#5cb860 279px,#53b143 327px,#63b946 354px,#92ca50 379px,#bdda50 391px,#eeee44 401px,#f5e11e 407px,#f8d811 408px,#f6c817 409px,#354a91 410px,#354a91 569px,#ea8336 570px,#e98237 749px)"></i><i style="left:400px;background:linear-gradient(#354a91 0,#354b92 177px,#37589e 180px,#3a67ac 182px,#3e8aca 185px,#3ca8e2 187px,#52b7e6 191px,#7cc8d8 195px,#7fc8c4 201px,#78c09f 216px,#69ba7c 240px,#5cb85f 258px,#53b143 315px,#62b846 338px,#97cc50 354px,#b6d850 367px,#d8e54a 382px,#eeed42 391px,#f8dc10 403px,#f7ce15 407px,#f4b41e 409px,#354a91 410px,#354a91 569px,#ea8436 570px,#ea8337 749px)"></i><i style="left:402px;background:linear-gradient(#354a91 0,#354b92 172px,#3859a0 175px,#3c78bb 178px,#3ca8e2 181px,#50b6e7 184px,#7cc8d7 187px,#7dc5b5 192px,#75bf99 197px,#64b972 215px,#5bb85e 235px,#53b143 302px,#60b746 324px,#69bb48 328px,#98cc50 339px,#c4dd50 349px,#dee748 358px,#efed41 371px,#f5e120 388px,#f8db10 394px,#f5bb1b 407px,#f3ae21 408px,#ef9b2b 409px,#354a91 410px,#354a91 569px,#ea8535 570px,#ea8436 749px)"></i><i style="left:404px;background:linear-gradient(#354a91 0,#354b92 167px,#385aa0 170px,#3961a7 171px,#3e8bcb 174px,#3c9fdb 175px,#40abe3 176px,#4db5e8 178px,#70c3dc 180px,#7cc8d6 181px,#7fc7bc 184px,#75be98 188px,#64b972 195px,#5db863 201px,#59b658 218px,#53b143 286px,#60b746 312px,#69bb48 316px,#94cb50 326px,#cce04d 337px,#eaec45 345px,#efeb3d 349px,#f4e325 360px,#f8db10 377px,#f6c418 395px,#f4b21f 403px,#f0a227 407px,#ee952d 408px,#e98038 409px,#354a91 410px,#354a91 569px,#ea8635 570px,#ea8536 749px)"></i><i style="left:406px;background:linear-gradient(#354a91 0,#354b92 162px,#385aa0 165px,#3b6fb3 167px,#3d8ecd 169px,#3ca2dd 170px,#48b1e6 172px,#52b7e6 173px,#78c7d9 175px,#7fc8c7 177px,#73bd94 182px,#60b869 188px,#5bb75c 192px,#56b450 212px,#54b143 268px,#60b746 298px,#66b947 302px,#90c950 313px,#cde04d 325px,#edee44 333px,#f6df18 347px,#f8db10 351px,#f5b81c 391px,#ee992c 403px,#eb8934 407px,#e87b36 408px,#e56a2f 409px,#354a91 410px,#354a91 569px,#eb8734 570px,#ea8635 749px)"></i><i style="left:408px;background:linear-gradient(#354a91 0,#354c93 157px,#385ca2 160px,#3b71b5 162px,#3d7ec1 163px,#3ca5e0 165px,#49b2e7 167px,#56b9e5 168px,#7cc8d7 170px,#7ec6b7 173px,#74be96 176px,#61b96b 181px,#5cb85f 183px,#56b34f 194px,#53b143 242px,#61b746 282px,#72be4a 290px,#92ca50 300px,#c9df4e 312px,#eaec45 320px,#f0ea3a 324px,#f8dd12 336px,#f6c418 353px,#f3ad21 381px,#ee962d 395px,#e97f37 403px,#e67132 407px,#e2582c 409px,#354a91 410px,#354a91 569px,#eb8834 570px,#eb8734 749px)"></i><i style="left:410px;background:linear-gradient(#354a91 0,#354b92 151px,#3961a7 155px,#3e85c7 158px,#3da9e3 160px,#4bb4e7 162px,#6fc3dc 164px,#7dc8d4 165px,#80c8c0 167px,#72bd92 171px,#5eb865 176px,#5ab65a 179px,#54b24a 191px,#53b143 210px,#5fb745 258px,#66b947 265px,#93ca50 283px,#c7de4f 298px,#ebed45 308px,#f8dc11 324px,#f3af21 353px,#eb8c32 387px,#e97e37 394px,#e35d2c 407px,#e14d2c 409px,#354a91 410px,#354a91 569px,#eb8933 570px,#eb8834 749px)"></i><i style="left:412px;background:linear-gradient(#354a91 0,#354b92 145px,#385aa0 148px,#3b6cb1 150px,#3e86c7 152px,#3da8e2 154px,#49b2e7 156px,#54b8e6 157px,#79c7d9 159px,#7fc7bb 162px,#70bc8e 166px,#5db861 171px,#56b34f 179px,#53b143 192px,#63b846 240px,#92ca50 262px,#cadf4e 281px,#edee44 294px,#f8dc11 312px,#f2ab22 340px,#ec9030 358px,#e97d37 378px,#e5682e 394px,#e04a2c 409px,#354a91 410px,#354a91 569px,#eb8a33 570px,#eb8934 749px)"></i><i style="left:414px;background:linear-gradient(#354a91 0,#354a91 139px,#37579e 142px,#3a6aaf 144px,#3e85c7 146px,#3d9ad7 147px,#3ea9e3 148px,#4bb3e7 150px,#7cc8d8 153px,#7fc7bd 156px,#72bd92 160px,#5eb864 165px,#57b453 171px,#53b043 183px,#66ba47 211px,#94cb50 239px,#cde04d 261px,#eded44 275px,#f8db10 299px,#f3af21 326px,#e98038 350px,#e35b2c 390px,#e04a2c 408px,#e04a2c 409px,#354a91 410px,#354a91 569px,#eb8a33 570px,#eb8933 749px)"></i><i style="left:416px;background:linear-gradient(#354a91 0,#354b92 134px,#385ca2 137px,#3e81c3 140px,#3ca8e2 142px,#4bb3e7 144px,#6dc2dd 146px,#7cc8d6 147px,#7ec6b8 150px,#71bd90 154px,#5fb866 159px,#59b658 163px,#53b143 177px,#62b846 190px,#7dc24d 198px,#8ac750 205px,#add450 219px,#cde14d 237px,#eded44 253px,#f8db10 282px,#f4b31f 312px,#e97e37 337px,#e4652d 354px,#e04a2c 402px,#e04a2c 409px,#354a91 410px,#354a91 569px,#eb8b33 570px,#eb8933 749px)"></i><i style="left:418px;background:linear-gradient(#354a91 0,#354a91 128px,#385aa0 131px,#3b6fb4 133px,#3d90cf 135px,#3ca5df 136px,#49b2e7 138px,#57b9e5 139px,#7cc8d6 141px,#80c8c2 143px,#73be95 147px,#60b969 152px,#5ab65a 156px,#52b043 170px,#62b846 182px,#9cce50 191px,#b4d750 196px,#beda50 201px,#c8df4e 205px,#e0e848 215px,#efed41 229px,#f8db10 261px,#f4b21f 299px,#e97e37 325px,#e35e2c 344px,#e1512c 362px,#e04a2c 399px,#e04a2c 409px,#354a91 410px,#354a91 569px,#eb8933 570px,#eb8834 749px)"></i><i style="left:420px;background:linear-gradient(#354a91 0,#354a91 122px,#37599f 125px,#3b6db2 127px,#3d8dcc 129px,#3ca2dd 130px,#48b1e6 132px,#54b8e5 133px,#7cc8d7 135px,#80c8c3 137px,#73bd93 141px,#5fb866 146px,#59b658 150px,#53b143 165px,#61b846 175px,#90c950 181px,#bbd950 186px,#e0e848 192px,#eeee44 198px,#f0eb3c 204px,#f4e323 218px,#f8db10 237px,#f3b120 282px,#eb8a33 307px,#e97d37 313px,#e35d2c 332px,#e04d2c 350px,#e04a2c 409px,#354a91 410px,#354a91 569px,#ea8635 570px,#ea8536 749px)"></i><i style="left:422px;background:linear-gradient(#354a91 0,#354c92 116px,#385ba1 119px,#3b70b4 121px,#3d8fcf 123px,#3ca3de 124px,#49b2e6 126px,#55b8e5 127px,#7cc8d7 129px,#80c8c2 131px,#72bd93 135px,#5eb864 140px,#58b453 146px,#53b143 159px,#62b846 169px,#8cc850 174px,#cadf4e 180px,#e8eb46 184px,#f0eb3b 187px,#f4e223 193px,#f7de17 200px,#f8d911 208px,#f4b21f 260px,#ea8536 295px,#e87835 303px,#e35b2c 321px,#e04b2c 340px,#e04a2c 409px,#354a91 410px,#354a91 569px,#e98138 570px,#e97f38 749px)"></i><i style="left:424px;background:linear-gradient(#354a91 0,#354b92 108px,#385ca2 112px,#3b6fb3 114px,#3e89ca 116px,#3faae3 118px,#4cb4e8 120px,#70c3dc 122px,#7dc8d4 123px,#80c8c0 125px,#71bd91 129px,#5db862 134px,#56b34f 142px,#53b143 152px,#60b746 162px,#6bbb48 164px,#9cce50 169px,#d2e24c 174px,#eaec45 177px,#f0eb3b 179px,#f6df18 185px,#f8dc10 187px,#f7cb16 197px,#f3ae21 240px,#e97f37 281px,#e35b2c 309px,#e04b2c 328px,#e04a2c 409px,#354a91 410px,#354a91 569px,#e87b36 570px,#e87a36 749px)"></i><i style="left:426px;background:linear-gradient(#354a91 0,#354c93 99px,#385ba1 103px,#3d7cbf 107px,#3ca8e2 110px,#4fb6e7 113px,#72c4dc 115px,#7dc8d4 116px,#7ec6b6 119px,#67b978 125px,#5cb860 128px,#55b34c 137px,#53b143 145px,#62b846 156px,#95cb50 162px,#cce04d 167px,#e7eb46 170px,#eeee44 171px,#f7dd14 178px,#f8d811 180px,#f6c119 189px,#f5b71d 201px,#f09e29 228px,#ea8735 253px,#e87c36 263px,#e35c2c 293px,#e04a2c 318px,#e04a2c 409px,#354a91 410px,#354a91 569px,#e77634 570px,#e77533 749px)"></i><i style="left:428px;background:linear-gradient(#354a91 0,#354c93 88px,#385fa5 93px,#3e7fc1 97px,#3ca6e0 100px,#51b7e7 104px,#7bc7d8 107px,#80c8c2 110px,#72bd92 115px,#5cb861 121px,#55b24b 131px,#54b143 139px,#61b846 148px,#8ec950 154px,#c9df4e 160px,#ebed45 164px,#f8db10 172px,#f5ba1b 183px,#f0a127 194px,#ee9a2b 205px,#e97e37 236px,#e35c2c 274px,#e04a2c 306px,#e04a2c 409px,#354a91 410px,#354a91 569px,#e67031 570px,#e66f31 749px)"></i><i style="left:430px;background:linear-gradient(#354a91 0,#354c93 75px,#385da3 80px,#3e81c3 85px,#3ca5df 88px,#4cb4e8 92px,#7ac7d9 96px,#80c8bf 100px,#6fbb8a 107px,#5db862 113px,#56b34e 122px,#53b143 131px,#62b846 141px,#96cc50 147px,#c7de4f 152px,#e6eb46 156px,#efec3f 158px,#f8dc10 165px,#f1a625 181px,#eb8834 193px,#e97d37 207px,#e35c2c 252px,#e04b2c 288px,#e04a2c 409px,#354a91 410px,#354a91 569px,#e56a2f 570px,#e5692f 749px)"></i><i style="left:432px;background:linear-gradient(#354a91 0,#354b92 61px,#37579e 65px,#3b70b5 69px,#3d8dcc 72px,#3ca4df 74px,#4bb3e7 78px,#5dbce2 80px,#7cc8d6 83px,#7ec6b9 88px,#72bd91 94px,#5cb860 103px,#52b043 123px,#62b846 134px,#8fc950 139px,#c5dd4f 144px,#e8ec46 148px,#efec3d 150px,#f8db10 158px,#f2ab22 172px,#e98038 184px,#e66e31 194px,#e5672e 207px,#e2562c 237px,#e04a2c 275px,#e04a2c 409px,#354a91 410px,#354a91 569px,#e5652d 570px,#e4642d 749px)"></i><i style="left:434px;background:linear-gradient(#354a91 0,#354b92 48px,#385aa0 52px,#3b71b5 55px,#3e84c5 57px,#3ca0db 59px,#3ea9e3 60px,#4bb4e7 63px,#78c6d9 67px,#7ec8ce 69px,#7cc4af 74px,#6dbb87 81px,#5db862 89px,#55b34d 105px,#54b143 117px,#60b746 126px,#76c04b 129px,#9fcf50 133px,#cadf4e 137px,#e6eb46 140px,#efec3e 142px,#f8dc11 149px,#f4b21f 163px,#e97f38 176px,#e4622c 187px,#e3592c 199px,#e04b2c 245px,#e04a2c 409px,#354a91 410px,#354a91 569px,#e4612c 570px,#e4602c 749px)"></i><i style="left:436px;background:linear-gradient(#354a91 0,#354c93 35px,#385ea5 39px,#3e86c8 43px,#3ca5df 45px,#4ab3e7 48px,#61bde1 50px,#7cc8d8 52px,#7dc5b5 57px,#70bc8c 63px,#5db861 72px,#55b34c 91px,#54b143 107px,#61b746 118px,#6dbc49 120px,#90c950 124px,#c6dd4f 129px,#eaec45 133px,#f0ea39 135px,#f8dc10 141px,#f1a724 158px,#e98038 168px,#e35f2c 179px,#e1502c 190px,#e04a2c 236px,#e04a2c 409px,#354a91 410px,#354a91 569px,#e35e2c 570px,#e35d2c 749px)"></i><i style="left:438px;background:linear-gradient(#354a91 0,#354a91 20px,#385ca2 24px,#3d78bc 27px,#3d95d3 29px,#3ca5df 30px,#4bb4e7 33px,#75c5da 36px,#7dc8d4 37px,#7dc5b5 41px,#73be95 45px,#61b96a 52px,#5bb75d 56px,#54b24a 75px,#54b143 91px,#62b846 108px,#87c64f 114px,#c8df4e 121px,#eaec45 125px,#f1e832 128px,#f8dc11 133px,#f2aa23 148px,#e97e37 161px,#e35c2c 172px,#e04c2c 183px,#e04a2c 409px,#354a91 410px,#354a91 569px,#e35a2c 570px,#e2592c 749px)"></i><i style="left:440px;background:linear-gradient(#354a91 0,#364e95 5px,#385fa5 8px,#3d7ec1 11px,#3c9fdb 13px,#3faae3 14px,#4ab3e7 16px,#54b8e6 17px,#73c4db 19px,#7dc8d5 20px,#7dc5b4 24px,#72bd92 28px,#5cb861 36px,#56b34d 50px,#53b143 67px,#62b846 91px,#8ac750 101px,#cadf4e 111px,#ebed45 116px,#f7de15 124px,#f8db10 125px,#f2ac22 139px,#e98038 151px,#e35d2c 164px,#e04c2c 174px,#e04a2c 409px,#354a91 410px,#354a91 569px,#e2562c 570px,#e2552c 749px)"></i><i style="left:442px;background:linear-gradient(#7cc8d6 0,#80c8c3 2px,#77bf9d 6px,#5db863 15px,#57b452 25px,#53b043 43px,#62b846 65px,#96cc50 81px,#cbe04e 94px,#eeee44 103px,#f8dc10 115px,#f4b11f 129px,#e97f37 142px,#e35e2c 154px,#e04b2c 167px,#e04a2c 409px,#354a91 410px,#354a91 569px,#e1522c 570px,#e1522c 749px)"></i><i style="left:444px;background:linear-gradient(#57b451 0,#52b043 16px,#61b846 37px,#99cd50 51px,#cfe14d 64px,#eded44 76px,#f8dc10 99px,#f5b61d 118px,#e97f38 133px,#e35e2c 144px,#e04d2c 156px,#e04a2c 180px,#e04a2c 409px,#354a91 410px,#354a91 569px,#e14f2c 570px,#e14e2c 749px)"></i><i style="left:446px;background:linear-gradient(#5fb645 0,#61b846 1px,#72be4a 3px,#94cb50 14px,#cde04d 28px,#eaec45 37px,#efec3e 41px,#f6df1a 56px,#f8db10 62px,#f5b71c 102px,#ef9d29 114px,#e87d37 124px,#e35d2c 135px,#e04c2c 146px,#e04a2c 409px,#354a91 410px,#354a91 569px,#e04d2c 570px,#e04c2c 749px)"></i><i style="left:448px;background:linear-gradient(#f5e11d 0,#f8db10 2px,#f8d612 4px,#f6c916 29px,#ee972d 96px,#e97e37 111px,#e35b2c 126px,#e04b2c 137px,#e04a2c 409px,#354a91 410px,#354a91 569px,#e04b2c 570px,#e04a2c 749px)"></i><i style="left:450px;background:linear-gradient(#ec8f31 0,#e97f38 3px,#eb8933 17px,#ea8536 39px,#e87735 78px,#e56a2f 101px,#e04a2c 129px,#e04a2c 409px,#354a91 410px,#354a91 569px,#e04b2c 570px,#e04a2c 749px)"></i><i style="left:452px;background:linear-gradient(#e04c2c 0,#e14d2c 14px,#e2542c 46px,#e1532c 96px,#e04a2c 123px,#e04c2c 318px,#e3592c 409px,#354a91 410px,#354a91 569px,#e35a2c 570px,#e3592c 749px)"></i><i style="left:454px;background:linear-gradient(#e04a2c 0,#e04c2c 193px,#e4642d 341px,#e77433 409px,#354a91 410px,#354a91 569px,#e77534 570px,#e77433 749px)"></i><i style="left:456px;background:linear-gradient(#e04a2c 0,#e1502c 104px,#e5682e 231px,#e98237 359px,#eb8a33 409px,#354a91 410px,#354a91 569px,#eb8b32 570px,#eb8a33 749px)"></i><i style="left:458px;background:linear-gradient(#e2532c 0,#e56b2f 116px,#ea8337 236px,#ef9c2a 409px,#354a91 410px,#354a91 569px,#ef9d2a 570px,#ef9c2a 749px)"></i><i style="left:460px;background:linear-gradient(#e66d30 0,#ea8337 113px,#f3ae21 409px,#354a91 410px,#354a91 569px,#f3af21 570px,#f3ae21 749px)"></i><i style="left:462px;background:linear-gradient(#ea8536 0,#f6c019 409px,#354a91 410px,#354a91 569px,#f6c119 570px,#f6c019 749px)"></i><i style="left:464px;background:linear-gradient(#ee972c 0,#f7cb16 352px,#f7d413 409px,#354a91 410px,#354a91 569px,#f7d413 570px,#f7d413 749px)"></i><i style="left:466px;background:linear-gradient(#f2a824 0,#f7ce15 248px,#f8dc11 355px,#f6df1a 409px,#354a91 410px,#354a91 569px,#f6e01b 570px,#f6df1a 749px)"></i><i style="left:468px;background:linear-gradient(#f5bc1b 0,#f8dc11 230px,#f3e52b 409px,#354a91 410px,#354a91 569px,#f3e62c 570px,#f3e52b 749px)"></i><i style="left:470px;background:linear-gradient(#f7ce15 0,#f8dc11 105px,#f0eb3b 409px,#354a91 410px,#354a91 569px,#f0eb3c 570px,#f0eb3b 749px)"></i><i style="left:472px;background:linear-gradient(#f7de15 0,#eced44 363px,#e8ec46 409px,#354a91 410px,#354a91 569px,#e8eb46 570px,#e8ec46 749px)"></i><i style="left:474px;background:linear-gradient(#f4e427 0,#eced44 239px,#dce749 409px,#354a91 410px,#354a91 569px,#dce649 570px,#dce749 749px)"></i><i style="left:476px;background:linear-gradient(#f1e937 0,#ebed45 125px,#d0e24c 409px,#354a91 410px,#354a91 569px,#cfe14c 570px,#d0e24c 749px)"></i><i style="left:478px;background:linear-gradient(#ebed45 0,#c2dc50 409px,#354a91 410px,#354a91 569px,#c2dc50 570px,#c2dc50 749px)"></i><i style="left:480px;background:linear-gradient(#dfe848 0,#b7d850 389px,#b5d750 409px,#354a91 410px,#354a91 569px,#b5d750 570px,#b5d750 749px)"></i><i style="left:482px;background:linear-gradient(#5db645 0,#67ba47 20px,#9acd50 64px,#b9d950 95px,#c4dd4f 126px,#a7d250 409px,#354a91 410px,#354a91 569px,#a7d250 570px,#a7d250 749px)"></i><i style="left:484px;background:linear-gradient(#5bb545 0,#66ba47 26px,#98cc50 74px,#b1d650 104px,#b8d850 136px,#99cd50 409px,#354a91 410px,#354a91 569px,#99cd50 570px,#99cd50 749px)"></i><i style="left:486px;background:linear-gradient(#5ab444 0,#65b947 32px,#97cc50 88px,#a7d250 115px,#a9d350 147px,#8cc850 409px,#354a91 410px,#354a91 569px,#8cc850 570px,#8cc850 749px)"></i><i style="left:488px;background:linear-gradient(#58b344 0,#65b947 40px,#89c74f 84px,#9bcd50 122px,#83c44e 409px,#354a91 410px,#354a91 569px,#83c44e 570px,#83c44e 749px)"></i><i style="left:490px;background:linear-gradient(#56b244 0,#65b947 48px,#83c44e 90px,#8ec950 130px,#7ac14c 409px,#354a91 410px,#354a91 569px,#7ac14c 570px,#7ac14c 749px)"></i><i style="left:492px;background:linear-gradient(#54b143 0,#65b947 57px,#7fc34d 101px,#84c54e 139px,#72be4a 409px,#354a91 410px,#354a91 569px,#71be4a 570px,#72be4a 749px)"></i><i style="left:494px;background:linear-gradient(#53b043 0,#65b947 68px,#78c04b 108px,#7bc14c 148px,#6abb48 409px,#354a91 410px,#354a91 569px,#69bb48 570px,#6abb48 749px)"></i><i style="left:496px;background:linear-gradient(#53b145 0,#65b947 81px,#72be4a 120px,#62b846 409px,#354a91 410px,#354a91 569px,#62b846 570px,#62b846 749px)"></i><i style="left:498px;background:linear-gradient(#54b148 0,#54b143 18px,#6bbb48 133px,#61b746 353px,#60b746 409px,#354a91 410px,#354a91 569px,#60b746 570px,#60b746 749px)"></i><i style="left:500px;background:linear-gradient(#55b24b 0,#54b143 21px,#62b846 114px,#5eb645 409px,#354a91 410px,#354a91 569px,#5eb645 570px,#5eb645 749px)"></i><i style="left:502px;background:linear-gradient(#56b34e 0,#53b143 27px,#5fb746 105px,#5cb545 409px,#354a91 410px,#354a91 569px,#5cb545 570px,#5cb545 749px)"></i><i style="left:504px;background:linear-gradient(#57b452 0,#53b143 33px,#5eb645 117px,#5bb445 409px,#354a91 410px,#354a91 569px,#5bb445 570px,#5bb445 749px)"></i><i style="left:506px;background:linear-gradient(#58b555 0,#53b043 40px,#5db545 130px,#59b344 409px,#354a91 410px,#354a91 569px,#59b344 570px,#59b344 749px)"></i><i style="left:508px;background:linear-gradient(#59b658 0,#53b043 48px,#5bb445 136px,#57b344 409px,#354a91 410px,#354a91 569px,#57b344 570px,#57b344 749px)"></i><i style="left:510px;background:linear-gradient(#5bb75c 0,#52b043 53px,#59b444 135px,#56b244 409px,#354a91 410px,#354a91 569px,#55b244 570px,#56b244 749px)"></i><i style="left:512px;background:linear-gradient(#5cb861 0,#55b34d 35px,#53b143 71px,#57b344 156px,#54b143 409px,#354a91 410px,#354a91 569px,#54b143 570px,#54b143 749px)"></i><i style="left:514px;background:linear-gradient(#61b96b 0,#5bb75e 9px,#54b249 55px,#53b143 87px,#55b144 199px,#52b043 409px,#354a91 410px,#354a91 569px,#52b043 570px,#52b043 749px)"></i><i style="left:516px;background:linear-gradient(#66b977 0,#5cb860 13px,#55b34d 52px,#53b043 99px,#53b146 409px,#354a91 410px,#354a91 569px,#53b146 570px,#53b146 749px)"></i><i style="left:518px;background:linear-gradient(#6bba82 0,#5cb860 19px,#55b34d 62px,#52b043 122px,#54b249 409px,#354a91 410px,#354a91 569px,#54b249 570px,#54b249 749px)"></i><i style="left:520px;background:linear-gradient(#6fbb8a 0,#65b974 13px,#5bb85e 28px,#55b24c 78px,#53b146 138px,#55b34c 409px,#354a91 410px,#354a91 569px,#55b34d 570px,#55b34c 749px)"></i><i style="left:522px;background:linear-gradient(#71bd90 0,#69ba7e 14px,#5cb860 33px,#56b34f 78px,#54b249 139px,#56b350 409px,#354a91 410px,#354a91 569px,#56b450 570px,#56b350 749px)"></i><i style="left:524px;background:linear-gradient(#73be95 0,#6aba7f 20px,#5cb860 40px,#56b450 88px,#55b34c 159px,#57b453 409px,#354a91 410px,#354a91 569px,#58b453 570px,#57b453 749px)"></i><i style="left:526px;background:linear-gradient(#75bf99 0,#6bba82 25px,#5cb861 48px,#57b453 90px,#56b34f 153px,#59b556 409px,#354a91 410px,#354a91 569px,#59b556 570px,#59b556 749px)"></i><i style="left:528px;background:linear-gradient(#77c09e 0,#6bba81 33px,#5cb861 57px,#58b554 104px,#58b555 255px,#5ab65a 409px,#354a91 410px,#354a91 569px,#5ab65a 570px,#5ab65a 749px)"></i><i style="left:530px;background:linear-gradient(#79c1a3 0,#6bba82 40px,#5db862 66px,#59b557 110px,#5bb75e 409px,#354a91 410px,#354a91 569px,#5bb75e 570px,#5bb75e 749px)"></i><i style="left:532px;background:linear-gradient(#7ac2aa 0,#73be95 24px,#6aba7f 51px,#5db863 77px,#5ab65a 115px,#5eb863 394px,#5eb865 409px,#354a91 410px,#354a91 569px,#5eb865 570px,#5eb865 749px)"></i><i style="left:534px;background:linear-gradient(#7dc5b2 0,#76bf9c 20px,#6bba82 58px,#5eb865 89px,#5bb75e 117px,#5eb864 281px,#63b970 409px,#354a91 410px,#354a91 569px,#63b970 570px,#63b970 749px)"></i><i style="left:536px;background:linear-gradient(#7fc7be 0,#7ac2a7 14px,#68b97b 76px,#60b868 104px,#5db863 140px,#68ba7c 409px,#354a91 410px,#354a91 569px,#68ba7c 570px,#68ba7c 749px)"></i><i style="left:538px;background:linear-gradient(#7fc8c8 0,#7ac2aa 18px,#75bf99 40px,#63b970 114px,#63b96f 150px,#6dba86 409px,#354a91 410px,#354a91 569px,#6dba86 570px,#6dba86 749px)"></i><i style="left:540px;background:linear-gradient(#7dc8cf 0,#7ec6b8 15px,#7ac2a7 28px,#74be96 55px,#68b97a 122px,#70bc8d 409px,#354a91 410px,#354a91 569px,#70bc8d 570px,#70bc8d 749px)"></i><i style="left:542px;background:linear-gradient(#7dc8d4 0,#80c8c0 17px,#7bc3ab 31px,#76bf9a 55px,#6dba86 117px,#72bd92 409px,#354a91 410px,#354a91 569px,#72bd92 570px,#72bd92 749px)"></i><i style="left:544px;background:linear-gradient(#7ac7d9 0,#7fc8c4 21px,#7bc3aa 39px,#75be99 69px,#6fbc8c 124px,#74be97 409px,#354a91 410px,#354a91 569px,#74be97 570px,#74be97 749px)"></i><i style="left:546px;background:linear-gradient(#72c4dc 0,#7cc8d7 9px,#7fc7be 32px,#7bc3ab 46px,#76bf9b 76px,#72bd91 130px,#76bf9b 409px,#354a91 410px,#354a91 569px,#76bf9b 570px,#76bf9b 749px)"></i><i style="left:548px;background:linear-gradient(#68c0df 0,#7cc8d7 14px,#80c8c3 36px,#7bc3ab 55px,#76bf9b 90px,#74be96 148px,#78c0a0 409px,#354a91 410px,#354a91 569px,#78c0a0 570px,#78c0a0 749px)"></i><i style="left:550px;background:linear-gradient(#5cbbe3 0,#75c5da 14px,#7dc8d5 24px,#7ec6ba 51px,#7ac2a8 70px,#76bf9c 109px,#77bf9d 223px,#79c1a6 409px,#354a91 410px,#354a91 569px,#79c1a6 570px,#79c1a6 749px)"></i><i style="left:552px;background:linear-gradient(#4cb4e8 0,#67bfdf 11px,#7cc8d8 27px,#7fc7bb 60px,#7bc3ab 78px,#78c0a0 116px,#7ac2a9 354px,#7bc3ad 409px,#354a91 410px,#354a91 569px,#7bc3ad 570px,#7bc3ad 749px)"></i><i style="left:554px;background:linear-gradient(#45afe5 0,#52b7e6 8px,#6ac1de 19px,#7cc8d7 36px,#7ec6ba 72px,#7bc3ab 94px,#79c1a4 135px,#7ec6b7 409px,#354a91 410px,#354a91 569px,#7ec6b7 570px,#7ec6b7 749px)"></i><i style="left:556px;background:linear-gradient(#3faae3 0,#4fb6e7 13px,#67bfdf 24px,#7cc8d8 42px,#7fc7ba 85px,#7bc3ad 115px,#7cc4ae 184px,#80c8c2 409px,#354a91 410px,#354a91 569px,#80c8c2 570px,#80c8c2 749px)"></i><i style="left:558px;background:linear-gradient(#3c9fdb 0,#3ea9e3 5px,#50b6e7 20px,#6ac1de 33px,#7cc8d7 52px,#7fc7ba 105px,#7dc5b5 139px,#7fc8c9 380px,#7ec8cb 409px,#354a91 410px,#354a91 569px,#7ec8cb 570px,#7ec8cb 749px)"></i><i style="left:560px;background:linear-gradient(#3d8fcf 0,#3da9e2 10px,#51b7e7 27px,#6ac1de 41px,#7cc8d7 61px,#80c8c1 121px,#7dc8d1 409px,#354a91 410px,#354a91 569px,#7dc8d1 570px,#7dc8d1 749px)"></i><i style="left:562px;background:linear-gradient(#3e80c2 0,#3da8e2 16px,#50b6e7 34px,#67bfdf 47px,#7cc8d7 72px,#7ec8c9 130px,#7cc8d6 409px,#354a91 410px,#354a91 569px,#7cc8d6 570px,#7cc8d6 749px)"></i><i style="left:564px;background:linear-gradient(#3c77bb 0,#3d8dcd 11px,#3da9e2 23px,#50b6e7 42px,#68c0df 57px,#7cc8d8 85px,#7dc8d0 137px,#79c7d9 383px,#77c6da 409px,#354a91 410px,#354a91 569px,#77c6da 570px,#77c6da 749px)"></i><i style="left:566px;background:linear-gradient(#3b70b4 0,#3e85c6 14px,#3da9e2 30px,#51b7e7 51px,#66bfdf 66px,#79c7d9 95px,#7cc8d6 137px,#78c6da 273px,#6ec2dd 409px,#354a91 410px,#354a91 569px,#6ec2dd 570px,#6ec2dd 749px)"></i><i style="left:568px;background:linear-gradient(#3a6aaf 0,#3e84c6 20px,#3da8e2 37px,#50b6e7 60px,#66bfdf 78px,#76c6da 111px,#76c5da 177px,#64bee0 409px,#354a91 410px,#354a91 569px,#63bee0 570px,#64bee0 749px)"></i><i style="left:570px;background:linear-gradient(#3965aa 0,#3e82c4 26px,#3da8e2 45px,#51b7e7 72px,#65bfe0 92px,#6fc3dc 124px,#5ebce2 342px,#55b8e5 409px,#354a91 410px,#354a91 569px,#55b8e5 570px,#55b8e5 749px)"></i><i style="left:572px;background:linear-gradient(#3961a7 0,#3d7bbe 28px,#3da8e2 54px,#51b7e7 86px,#61bde1 108px,#65bfe0 138px,#4bb3e7 384px,#4ab2e7 409px,#354a91 410px,#354a91 569px,#4ab2e7 570px,#4ab2e7 749px)"></i><i style="left:574px;background:linear-gradient(#385da4 0,#3c77bb 32px,#3d8ccc 46px,#3da9e2 65px,#51b7e7 106px,#59bae4 133px,#4cb4e7 247px,#43ade4 409px,#354a91 410px,#354a91 569px,#43ade4 570px,#43ade4 749px)"></i><i style="left:576px;background:linear-gradient(#385aa0 0,#3b6fb3 30px,#3e86c8 52px,#3ca8e2 75px,#4ab3e7 117px,#3ca8e2 409px,#354a91 410px,#354a91 569px,#3ca8e2 570px,#3ca8e2 749px)"></i><i style="left:578px;background:linear-gradient(#37569d 0,#3c74b8 44px,#3e8bcb 65px,#3ca8e2 90px,#44aee5 132px,#3ca5df 313px,#3d99d6 409px,#354a91 410px,#354a91 569px,#3d99d6 570px,#3d99d6 749px)"></i><i style="left:580px;background:linear-gradient(#365299 0,#3c78bb 58px,#3d8ccc 78px,#3ca2dd 102px,#3da9e2 126px,#3ca1dd 216px,#3e89c9 409px,#354a91 410px,#354a91 569px,#3e89c9 570px,#3e89c9 749px)"></i><i style="left:582px;background:linear-gradient(#364e95 0,#3e80c2 80px,#3d98d5 112px,#3d9bd7 144px,#3d7fc1 379px,#3d7cbf 409px,#354a91 410px,#354a91 569px,#3d7cbf 570px,#3d7cbf 749px)"></i><i style="left:584px;background:linear-gradient(#354c93 0,#3e89ca 117px,#3e8bcb 146px,#3d7dbf 279px,#3c74b8 409px,#354a91 410px,#354a91 569px,#3c74b8 570px,#3c74b8 749px)"></i><i style="left:586px;background:linear-gradient(#354a91 0,#3d79bc 102px,#3d7ec0 140px,#3b6eb2 409px,#354a91 410px,#354a91 569px,#3b6eb2 570px,#3b6eb2 749px)"></i><i style="left:588px;background:linear-gradient(#354a91 0,#365198 23px,#3b70b4 96px,#3c76b9 138px,#3a68ad 409px,#354a91 410px,#354a91 569px,#3a68ad 570px,#3a68ad 749px)"></i><i style="left:590px;background:linear-gradient(#354a91 0,#364e95 24px,#3961a7 70px,#3b6eb3 120px,#3963a9 409px,#354a91 410px,#354a91 569px,#3963a9 570px,#3963a9 749px)"></i><i style="left:592px;background:linear-gradient(#354a91 0,#364d94 29px,#395fa5 75px,#3a69ae 131px,#395fa5 409px,#354a91 410px,#354a91 569px,#395fa5 570px,#395fa5 749px)"></i><i style="left:594px;background:linear-gradient(#354a91 0,#364d94 37px,#385ea4 85px,#3964a9 140px,#385ca2 409px,#354a91 410px,#354a91 569px,#385ca2 570px,#385ca2 749px)"></i><i style="left:596px;background:linear-gradient(#354a91 0,#364d94 45px,#385da3 97px,#385fa5 181px,#37589f 409px,#354a91 410px,#354a91 569px,#37589f 570px,#37589f 749px)"></i><i style="left:598px;background:linear-gradient(#354a91 0,#364d94 54px,#385ba1 107px,#3859a0 259px,#37549b 409px,#354a91 410px,#354a91 569px,#37549b 570px,#37549b 749px)"></i><i style="left:600px;background:linear-gradient(#354a91 0,#364d94 64px,#37599f 121px,#365197 409px,#354a91 410px,#354a91 569px,#365197 570px,#365197 749px)"></i><i style="left:602px;background:linear-gradient(#354a91 0,#364d94 76px,#37559c 132px,#364d94 409px,#354a91 415px,#354a91 569px,#364d94 575px,#364d94 749px)"></i><i style="left:604px;background:linear-gradient(#354a91 0,#364d94 91px,#365198 150px,#354a91 554px,#354b92 749px)"></i><i style="left:606px;background:linear-gradient(#354a91 0,#364d94 120px,#354a91 749px)"></i></div>
<svg xmlns="http://www.w3.org/2000/svg" width="1716" height="1628" viewBox="0 0 1716 1628" style="position:absolute;left:0;top:0">
<defs><clipPath id="ca"><rect x="68" y="10.2" width="748" height="748.8"/></clipPath>
<filter id="bl5" x="-10%" y="-10%" width="120%" height="120%"><feGaussianBlur stdDeviation="4"/></filter>
<clipPath id="cb"><rect x="68" y="798" width="748" height="749"/></clipPath>

</defs>
<g clip-path="url(#ca)">
<path fill="none" stroke="#c8c8ca" stroke-width="1.15" d="M62 725.3l45 8.8 12 2.2 9 1.4 9 1.1 9 0.8 33 2 24 2 6 0.8 6 1.1 11.8 3 5.4 0.4 3.8-0.1 15-1.6 6-0.3 15 0.4 12 0.8 12 1.1 43.5 5 61.5 0.5 39 0.9 33 0.4 192-0.5 153-1.1M62 691.1l18 7.2 21 8.7 12 4.7 12 4.1 6 1.7 6 1.5 6 1.1 6 0.8 30 3.1 12 1.8 9 1.6 7.4 1.7 4.6 1.4 6 2.5 8.8 4.5 9.2 0 6-0.6 9-1.3 6-0.4 9 0.2 9 0.8 12 1.6 12 2.2 40.5 8.8 52.5 1.3 15 0.5 33 1.6 21 0.7 12 0.1 96-0.4 93-0.7 75-0.9 81-1.2M62 657.3l18 10.9 24 15.1 9 5.2 6 3.3 6 2.9 6 2.5 6 2.1 6 1.6 6 1.2 24 3.2 6 1 12 2.5 9 2.5 6.5 2.2 5.5 2.6 6 3.6 8.8 6.5 8.2-0.2 4-0.3 12-1.7 6-0.4 9 0.4 9 1.1 12 2.3 12 3.1 9 2.7 31.5 10 46.5 2 21 1.2 33 2.4 21 1 9 0.2 93-0.5 93-1.1 78-1.4 84-1.9M62 624.5l18 14.1 24 19.4 9 6.8 6 4.2 6 3.8 6 3.3 6 2.8 6 2.1 6 1.6 6 1.2 18 3.2 6 1.4 9 2.5 9 3.1 9 4 3 1.7 3 2 6 4.8 8.8 8.2 6.2 0.3 6-0.1 3-0.4 9-1.7 3-0.5 3-0.1 9 0.5 9 1.3 6 1.4 6 1.7 12 4 9 3.4 31.5 12.8 28.5 1.9 30 2.3 42 3.8 21 1.4 9 0.3 33-0.1 60-0.6 93-1.5 78-1.9 84-2.6M62 592.4l18 17.1 24 23.6 9 8.3 6 5.1 6 4.6 6 4 6 3.4 6 2.7 6 2 6 1.5 15 3.3 9 2.5 9 3.2 9 4 6 3.3 3 1.9 6 4.6 6 5.8 8.8 9.8 6.2 0.8 3.7 0.1 2.3-0.1 3-0.4 9-2 3-0.5 3.1-0.2 5.9 0.3 3 0.3 9 1.7 6 1.6 6 2 12 4.9 9 4.1 31.5 15.5 58.5 5.8 39 4.6 21 1.8 12 0.6 33-0.1 57-0.7 90-1.9 81-2.4 87-3.4M62 560.2l18 20.2 21 24.3 12 13.1 6 6 6 5.5 6 4.8 6 4 6 3.2 6 2.4 6 1.9 15 4 9 3 9 4 6 3.3 6 3.7 3 2.1 6 5 3 2.9 6 6.6 8.8 11.1 6.2 1.1 3 0.3 3-0.1 3-0.4 9-2 3-0.4 3.1-0.2 5.9 0.3 3 0.4 3 0.5 6 1.4 6 1.9 6 2.4 6 2.6 6 3 9 4.8 31.5 18 61.5 8 36 5.2 21 2.2 12 0.8 30-0.2 57-0.8 39-0.9 48-1.3 42-1.4 42-1.6 45-1.9 45-2.3M62 526.2l18 23.7 21 28.6 12 15.4 6 7 6 6.4 6 5.7 6 4.7 6 3.8 6 2.8 6 2.3 15 4.7 6 2.3 3 1.3 6 3.2 3 1.7 6 4 8.1 6.3 3.9 3.5 3 3.1 3 3.3 6 7.3 8.8 12.1 6.2 1.5 3.7 0.3 5.3-0.5 12-2.2 3-0.1 3 0.1 3 0.2 6 1 3 0.8 6 1.9 9 3.8 6 3 6 3.4 9 5.5 24 15.8 7.5 4.7 61.5 9.9 33 5.7 24 3 6 0.6 6 0.3 30-0.2 54-0.9 39-1 45-1.5 45-1.7 42-1.8 45-2.3 48-2.8M62 495.5l18 26.2 18 27 9 13.1 6 8.2 6 7.8 6 7.1 3 3.3 6 5.9 3 2.6 3 2.3 6 3.9 3 1.6 6 2.7 15 5.9 6 2.7 6 3.5 3 1.9 6 4.5 6 5.1 4 3.7 5 5.2 3 3.4 3 3.6 6 7.9 8.8 12.9 6.2 1.7 3.7 0.4 5.3-0.4 12-1.9 3-0.1 3 0.1 3 0.3 6 1.1 3 0.8 6 2.2 9 4.2 6 3.4 6 3.8 9 6.2 24 17.6 7.5 5.3 94.5 18.5 24 3.4 6 0.7 6 0.3 30-0.2 54-1.1 36-1 42-1.6 48-2.1 42-2.1 48-2.8 48-3.1M62 466.5l6 9.6 12 18.7 18 28.8 9 14 6 8.9 6 8.4 9 11.3 6 6.5 3 2.9 3 2.7 6 4.5 3 1.9 6 3.3 15 7.1 6 3.3 6 4.1 6 4.9 6 5.6 5.7 5.9 3.3 3.7 6 7.2 9 12.3 8.8 13.4 6.2 2 3.7 0.4 5.3-0.3 12-1.5 6 0 3 0.3 6 1.3 3 0.9 6 2.4 3 1.4 6 3.3 6 3.7 6 4.2 9 6.8 24 19.5 7.5 5.9 31.5 7.3 60 13.4 9 1.7 18 2.8 6 0.7 6 0.4 30-0.2 51-1.1 33-1.1 42-1.8 51-2.4 45-2.6 48-3.1 48-3.6M62 437.5l36 60.8 9 14.9 6 9.4 6 9 9 12.2 6 7.2 3 3.2 6 5.8 3 2.5 3 2.2 6 3.9 15 8.7 6 3.9 6 4.8 6 5.8 6 6.5 4.4 5.1 4.6 5.7 6 7.8 9 12.9 8.8 13.8 6.2 2 3 0.5 6-0.2 12-1.1 6 0 3 0.4 6 1.4 3 1 6 2.6 3 1.6 6 3.6 6 4.1 6 4.6 9 7.5 24 21.4 7.5 6.4 34.5 9.1 57 14.4 9 1.9 18 3.1 6 0.8 6 0.5 30-0.3 51-1.3 33-1.2 36-1.7 54-2.9 45-2.8 48-3.4 51-4.2M62 408.6l6 11 27 47.9 12 20.9 6 10 6 9.5 9 13.1 6 7.8 3 3.7 6 6.5 3 2.9 3 2.6 6 4.7 12 8.3 6 4.4 6 5.1 6 6.2 9 10.9 12 16 6 8.6 6 9 8.8 14.1 6.2 1.9 3 0.5 21-0.8 3 0.1 3 0.4 6 1.6 3 1.1 6 2.8 3 1.7 6 3.9 6 4.5 6 5 9 8.2 24 23.4 7.5 7 37.5 11.1 54 15.1 9 2.1 18 3.4 6 0.9 6 0.5 30-0.3 48-1.3 33-1.3 36-1.9 57-3.4 45-3.1 48-3.7 51-4.6M62 379.6l6 11.7 36 66.9 12 20.9 6 9.8 6 9.2 9 12.5 6 7.4 3 3.3 3 3 6 5.5 12 9.9 6 5.3 6 5.9 6 7.1 9 12.2 12 17.2 12 18.3 8.8 14.3 6.2 1.9 3 0.5 21.1-0.4 2.9 0.1 3 0.5 3 0.7 3 0.9 3 1.2 6 3.1 3 1.9 6 4.2 6 5 6 5.4 9 8.9 24 25.5 7.5 7.6 37.5 12.2 45 13.9 9 2.7 9 2.2 18 3.8 6 0.9 6 0.5 30-0.3 48-1.4 30-1.3 33-1.9 60-3.9 45-3.3 51-4.3 51-4.9M62 352.6l9 18.1 21 40.5 12 22.7 12 21.6 6 10.2 6 9.7 9 13.5 6 8.1 3 3.7 3 3.5 6 6.4 12 11.7 6 6.1 6 6.9 3 3.8 6 8.5 18 27.2 12 19 8.8 14.4 6.2 1.9 3 0.4 21.1-0.1 2.9 0.2 3 0.4 3 0.8 3 1 3 1.3 6 3.4 3 2 6 4.6 6 5.4 6 5.9 9 9.6 24 27.7 7.5 8.3 37.5 13.2 45 15.1 9 2.9 9 2.5 18 4 6 1 6 0.5 12 0 18-0.3 45-1.4 30-1.4 33-2 63-4.4 45-3.7 51-4.6 51-5.3M62 325l9 18.9 21 42 12 23.4 15 27.7 12 20.5 9 14.1 6 8.6 3 3.9 6 7.4 18 20.8 6 7.7 3 4.3 21 33.2 23.8 38.9 6.2 1.8 3 0.4 21.1 0 2.9 0.2 3 0.6 3 0.8 3 1.2 3 1.5 6 3.8 3 2.2 6 5.1 6 5.8 6 6.3 9 10.5 21 25.9 10.5 12.5 16.5 6.4 18 6.8 48 17.4 9 3 9 2.7 18 4.3 6 1.1 6 0.6 12 0 18-0.4 45-1.5 27-1.3 33-2.2 66-5 45-3.9 51-5 51-5.6M62 298.1l6 13.2 6 12.5 15 30.8 12 24.1 15 28.8 9 16.5 6 10.6 9 15.1 9 13.9 6 8.4 18 24.1 9 13.4 21 35.2 15 25.9 8.8 14.1 3.2 1 3 0.7 3 0.4 21.1 0.1 2.9 0.2 3 0.7 3 1.1 3 1.5 3 1.8 3 2 6 5 6 5.7 6 6.2 6 6.8 9 11.1 21 27.3 10.5 12.8 13.5 5.8 15 6 36 13.8 18 7.1 9 3.3 9 2.9 18 4.5 6 1.2 6 0.6 12 0 18-0.4 45-1.6 27-1.4 30-2.1 66-5.4 45-4.1 51-5.3 54-6.2M62 271.1l6 13.7 6 13 12 25.3 12 24.7 18 35.7 15 28.2 12 21.3 6 10 6 9.5 18 27.3 6 9.6 24 42.2 15 27.7 6 9.8 2.8 4 3.2 1 3 0.6 3 0.3 21 0.4 3 0.3 3 0.9 3 1.4 3 1.8 3 2.2 3 2.6 6 5.8 9 9.7 6 7 9 11.3 24 32.1 6 7.5 4.5 5.3 13.5 6.3 12 5.2 36 14.5 21 8.8 9 3.5 9 3 15 4.1 9 2 6 0.6 12 0 18-0.4 45-1.7 24-1.4 30-2.2 69-6 45-4.3 51-5.5 54-6.5M62 245.1l9 20.7 18 38.6 18 37 18 35.5 15 28.5 9 16.5 30 51.7 12 22.7 12 22.1 12 24 3 5.6 3 5.2 3 4.7 2.8 3.6 3.2 1.1 6 0.9 18 0.5 3.1 0.2 2.9 0.5 3 1.2 3 1.8 3 2.3 3 2.7 6 6.4 18 21.6 9 11.8 21 28.7 6 7.6 7.5 8.7 10.5 5.4 12 5.6 12 5.2 27 11.3 21 9.4 9 3.8 9 3.2 15 4.2 9 2.1 6 0.7 12-0.1 15-0.3 45-1.8 24-1.4 30-2.3 72-6.6 45-4.5 51-5.8 54-6.8M62 220.2l9 21.1 12 26.4 12 25.4 15 30.9 15 30 21 41.3 33 62.2 12 24.1 12 23.1 12 25.8 3 6 3 5.4 3 4.6 2.8 3.4 3.2 1.3 6.7 0.9 14.3 0.8 6.1 0.5 2.9 0.7 3 1.6 3 2.2 3 2.8 6 6.9 12 16 12 15.4 18 25 9 12.1 6 7.4 7.5 8.2 10.5 6 12 6 9 4.1 30 13 21 10 9 3.9 9 3.4 15 4.5 9 2.1 6 0.7 12 0 15-0.4 45-1.9 24-1.4 27-2.2 75-7.3 45-4.8 51-6 54-7M62 195.1l6 14.7 9 20.7 12 26.4 12 25.6 15 31.2 30 61.4 30 60.2 15 31.1 9 18 6 13 9 20.8 3 6.3 3 5.6 3 4.7 2.8 3.3 3.2 1.6 6.7 1 14.3 1.2 6.1 0.8 2.9 1.1 3 1.9 3 2.7 3 3.4 3 3.8 15 22.1 12 16.1 15 21.2 9 12.3 6 7.5 6 6.7 4.5 4.5 4.5 2.9 9 5.2 9 4.7 9 4.3 27 12.1 24 11.9 9 4.2 9 3.6 15 4.6 9 2.2 6 0.7 12 0 15-0.4 45-2 24-1.5 27-2.3 75-7.7 45-4.9 51-6.2 54-7.3M62 171.3l6 15 6 14.2 9 20.5 9 19.9 15 32.3 30 63.1 36 76.4 17.5 37.6 9.5 19.6 6 13.6 9 21.9 3 6.7 3 5.9 3 4.8 2.8 3.3 3.2 1.9 6 1.2 15 1.7 6 1.2 3 1.4 3 2.4 3 3.2 3 3.9 3 4.4 15 24.6 12 16.7 15 21.5 9 12.1 6 7.3 6 6.5 4.5 4.1 7.5 5.1 9 5.4 9 4.7 33 15.6 24 12.6 12 5.7 9 3.4 15 4.6 6 1.4 6 0.7 12 0 15-0.4 45-2.1 24-1.6 24-2.1 78-8.3 45-5.2 51-6.4 54-7.4M62 144.6l6 15.6 6 14.7 9 21.3 9 20.6 15 33.4 33 72.1 48 107.5 12 25.8 6 14.1 9 22.8 3 6.9 3 6.1 3 5 2.8 3.5 3.2 2.2 3 0.9 3.7 0.8 11.3 1.6 6 1.2 3.1 0.9 2.9 1.7 3 2.8 3 3.7 3 4.4 3 4.9 12 21.7 3 5 24 34.8 6 8.4 9 11.6 6 6.8 3 3 4.5 3.9 7.5 5.5 9 5.7 9 5 33 16.3 24 13.2 6 3.2 6 2.8 9 3.5 15 4.8 6 1.4 6 0.7 9 0.1 15-0.4 30-1.4 33-1.9 30-2.6 81-8.9 45-5.3 51-6.6 54-7.6M62 121.4l9 23.4 15 36 12 27.5 33 73.4 12 27.3 39 92.2 21 47.8 12 30.8 3 7 3 6.3 3 5.2 3 3.8 3 2.3 3 1.1 3 0.9 12 2.2 6 1.5 3 1.1 3 2 3 3.1 3 4.1 3 4.7 3 5.3 12 23 3 5.3 3 4.6 24 35.3 9 12.2 6 7.2 3 3.2 6 5.8 9 7 9 6 9 5.4 9 4.8 24 12.4 24 13.9 9 4.8 9 4 15 5 6 1.7 3 0.6 6 0.8 9 0 15-0.4 30-1.4 33-2 30-2.8 84-9.5 42-5.1 51-6.6 54-7.7M62 98.8l9 23.9 15 36.4 12 27.8 33 74.6 15 35.2 9 22.1 27 67.6 9 21.9 12 27.9 12 31.1 3 7.1 3 6.4 3 5.3 3 4 3 2.5 3 1.4 3 1.1 3 0.8 9 2 6 1.8 3 1.4 3 2.2 3 3.4 3 4.3 3 5 3 5.6 12 23.8 3 5.4 3 4.9 15 22.7 9 13.3 9 12.4 6 7.3 3 3.4 6 5.9 6 5 6 4.6 9 6.1 9 5.5 30 16.5 24 14.6 6 3.5 6 3.1 6 2.6 3 1.1 12 3.9 6 1.7 3 0.6 6 0.8 9 0 12-0.3 30-1.4 33-2.1 15-1.2 18-1.8 84-9.8 42-5.1 51-6.8 54-7.8M62 76.6l9 24.5 15 37.5 12 28.5 30 69.5 15 35.9 12 30.2 30 77.2 9 22.1 9 21.4 12 31.3 3 7.2 3 6.4 3 5.5 3 4.2 3 2.8 3 1.7 3 1.3 3 1 9 2.5 3 1 3 1.2 3 1.7 3 2.5 3 3.7 3 4.5 3 5.3 3 5.8 12 24.6 3 5.5 3 5 12 18.6 12 18.2 9 12.4 6 7.5 3 3.4 6 6.1 6 5.3 6 4.8 9 6.4 9 5.9 30 17.5 24 15.4 9 5.2 6 3 3 1.3 12 4.1 9 2.6 6 1.1 3 0.2 9 0 12-0.3 27-1.3 36-2.3 15-1.3 18-1.8 84-9.9 42-5.2 51-6.9 54-8M62 53.8l9 25.2 12 31.2 15 37 30 71.9 12 29.4 12 30.6 33 87 9 22.6 9 21.8 12 31.5 3 7.3 3 6.5 3 5.6 3 4.5 3 3 3 2 3 1.6 3 1.2 9 3.1 3 1.2 3 1.6 3 1.9 3 2.9 3 3.9 3 4.8 3 5.5 3 6 9 19.1 6 11.9 3 5.1 12 19 12 18.3 9 12.6 6 7.6 3 3.5 3 3.3 6 5.8 6 5.2 6 4.8 6 4.5 9 6.2 33 20.5 21 14.1 9 5.5 6 3.1 3 1.3 12 4.1 9 2.5 6 1.1 3 0.3 9 0 12-0.3 27-1.4 36-2.4 33-3.1 81-9.7 45-5.7 51-7 54-8.1M62 31.3l9 26.1 15 40 12 30.5 30 74.1 12 30.3 12 31.4 33 88.6 9 23 9 22.2 12 31.7 3 7.3 3 6.7 3 5.7 3 4.7 3 3.4 3 2.4 3 1.8 3 1.6 9 3.8 3 1.5 3 1.8 3 2.3 3 3.2 3 4.2 3 5.1 3 5.7 12 25.7 6 12 3 5.3 9 14.5 12 18.8 6 8.8 6 8.4 9 11.3 3 3.3 6 6 6 5.5 6 5.1 9 6.9 9 6.3 30 19.6 21 14.8 9 5.7 6 3.2 3 1.3 12 4.1 9 2.5 6 1 3 0.3 9 0 12-0.3 24-1.3 39-2.6 33-3.2 81-9.7 45-5.8 51-7.2 54-8.2M62 9l6 18.2 6 17.2 15 40.9 12 31.3 30 76.6 12 31.3 33 89.8 12 32 15 37.9 12 31.9 3 7.4 3 6.8 3 6 3 5 3 3.7 3 2.8 3 2.2 3 1.9 9 4.7 3 1.8 3 2.2 3 2.6 3 3.6 3 4.5 3 5.3 3 5.9 12 26.1 6 12.2 3 5.3 9 14.8 12 19 6 8.9 6 8.5 9 11.4 6 6.6 6 6 6 5.4 6 5.1 6 4.8 9 6.7 30 20.6 21 15.4 9 5.9 6 3.3 3 1.4 9 3.1 6 1.8 6 1.6 6 1 3 0.2 9 0 12-0.3 24-1.3 39-2.7 18-1.7 18-1.9 78-9.4 45-5.9 51-7.2 54-8.4M68 6l12 34.8 12 33.2 12 32.1 39 102.9 39 107 9 23.9 12 30.6 12 32.3 6 14.5 3 6.2 3 5.3 3 4.2 3 3.2 3 2.6 3 2.2 9 5.9 3 2.1 3 2.6 3 3.1 3 3.9 3 4.8 3 5.5 3 6 12 26.5 6 12.3 3 5.3 12 19.9 12 18.8 6 8.8 6 8.2 9 11.1 6 6.5 6 5.9 6 5.4 6 5.2 6 4.9 9 6.8 27 19.4 21 16.1 9 6.1 6 3.4 3 1.4 3 1.1 6 2 6 1.8 6 1.5 6 1 3 0.2 9 0 12-0.3 24-1.4 42-3.1 18-1.7 18-1.9 75-9.2 45-5.9 51-7.4 54-8.5M74 3l12 35 12 33.7 42 114.1 39 107.6 12 32.1 12 31.1 12 32.6 6 14.9 3 6.5 3 5.6 3 4.6 3 3.7 3 3.1 3 2.7 9 7.1 3 2.6 3 2.9 3 3.6 3 4.3 3 5 6 11.9 12 26.6 6 12.3 6 10.6 12 19.9 9 14.1 6 8.8 9 12.3 9 10.7 6 6.4 6 5.9 12 10.7 12 9.8 27 20.2 21 16.7 9 6.3 6 3.5 3 1.4 6 2.1 9 2.8 6 1.4 6 1 3 0.2 9 0 12-0.4 24-1.4 42-3.1 18-1.7 21-2.3 72-8.9 45-6 51-7.5 54-8.6M80 0.5l12 35.6 15 43.1 60 167 18 48.9 18 47.4 12 33 6 15.3 3 6.7 3 6 3 5.1 3 4.2 3 3.6 3 3.1 12 11.6 3 3.5 3 3.9 3 4.7 3 5.4 3 5.9 6 12.8 9 20.1 6 12.3 6 10.7 12 20.1 9 14.3 6 8.9 6 8.4 6 7.9 9 10.4 6 6.4 6 5.9 6 5.6 9 7.8 12 9.8 24 18.7 18 14.9 6 4.4 6 3.9 6 3.1 3 1.2 9 2.8 9 2.3 6 1 3 0.2 9 0 12-0.4 24-1.5 45-3.5 18-1.7 21-2.4 69-8.6 45-6 51-7.6 54-8.8M86 -0.2l12 36.1 15 43.8 21 59.9 24 67.4 21 57.5 24 63.8 15 41.4 6 14.6 3 6.4 3 5.5 3 4.7 3 4.2 3 3.7 12 13.7 3 3.9 3 4.4 3 5.1 6 11.7 15 33 6 12.3 6 10.8 12 20.4 9 14.4 6 9.1 6 8.5 6 8 6 7.3 6 6.7 6 6.3 9 8.8 6 5.5 9 7.9 30 24.3 18 15.4 6 4.6 6 3.9 6 3.2 3 1.2 9 2.8 9 2.2 6 1 3 0.2 9 0 12-0.4 24-1.5 45-3.6 21-2.1 21-2.4 66-8.3 45-6.1 51-7.7 54-9M92 1.8l12 36.2 15 44.1 21 60.4 15 42.2 21 57.4 27 72.1 15 41.7 6 15.1 3 6.7 3 6 3 5.2 3 4.7 3 4.3 12 16.1 3 4.4 3 4.9 3 5.4 6 12.1 15 33.1 6 12.4 9 16.1 9 15.4 9 14.6 6 9.2 6 8.7 6 8.1 6 7.5 9 10.2 6 6.3 9 8.9 9 8.3 9 7.8 24 20 18 15.7 6 4.7 6 4.1 6 3.2 3 1.2 9 2.8 9 2.3 6 0.9 3 0.2 9 0 12-0.4 24-1.6 45-3.7 21-2.1 21-2.4 66-8.4 45-6.2 51-7.8 54-9.1M98 5.8l12 36 15 44 18 51.7 12 33.7 18 49 30 80 15 41.6 6 15.3 6 13.4 6 11.2 3 5 12 18.7 6 10.4 3 5.9 6 12.5 15 33.2 6 12.3 3 5.7 12 21.2 9 15.1 9 14.2 9 13.1 6 7.9 9 10.8 9 9.9 9 9.1 15 14 27 23.2 18 16.1 6 4.8 3 2.2 6 3.7 3 1.5 6 2.2 12 3.5 6 1.2 6 0.6 12-0.1 15-0.7 48-3.7 21-1.9 30-3.3 39-4.9 48-6.4 45-6.5 45-7.2 45-7.7M101 1.4l12 35.9 12 35.1 27 76.9 18 49.2 30 79.9 15 41.1 6 15.9 6 14.8 6 13.2 6 11.7 12 21.8 6 11.5 6 12.6 18 39.9 6 12.4 6 11.2 9 16.1 9 15.4 6 9.8 6 9.3 6 8.7 6 8.1 6 7.5 6 7 6 6.7 6 6.3 9 9 12 11.1 24 21 18 16.5 6 4.9 3 2.2 6 3.8 3 1.5 3 1.3 12 3.7 9 2 6 0.6 12-0.1 12-0.5 21-1.5 48-4.2 30-3.3 36-4.6 51-6.8 45-6.6 45-7.2 48-8.4M104 -2.2l24 70.3 15 42.9 12 33.6 21 56.9 45 119.7 9 22.2 6 13.5 21 44 21 47.1 9 19 6 11.4 9 16.4 9 15.7 6 10 6 9.4 6 9 6 8.3 6 7.6 6 7.2 6 6.8 6 6.4 9 9.2 12 11.4 24 21.4 18 16.7 6 5 3 2.3 6 3.9 3 1.5 3 1.3 12 3.8 9 2.1 6 0.6 12-0.1 12-0.5 21-1.6 45-4 27-2.9 36-4.6 54-7.4 45-6.7 48-7.8 48-8.4M110 3.1l24 69.3 24 67.5 24 64.9 33 87.1 15 38 12 28.8 33 76.2 6 13.3 6 12.5 6 11.6 9 16.8 9 16 6 10.2 6 9.6 6 9.1 6 8.5 6 7.8 6 7.3 9 10.3 6 6.4 9 9.2 12 11.5 21 19 15 14.2 6 5.3 6 4.8 3 2.1 6 3.4 3 1.3 9 3.1 9 2.5 6 1 6 0.3 12-0.3 15-0.8 45-3.8 18-1.8 27-3.2 33-4.4 54-7.5 45-6.8 48-7.9 48-8.5M113 -0.5l30 85.5 18 50.4 21 57.3 18 47.8 54 137.8 12 29 9 21.1 6 13.5 6 12.7 15 29 9 16.3 6 10.3 6 9.9 6 9.2 6 8.7 6 7.9 6 7.5 9 10.5 6 6.5 9 9.4 12 11.6 21 19.4 15 14.4 6 5.4 6 4.8 3 2.1 6 3.5 3 1.4 9 3.2 9 2.7 6 1.1 6 0.3 12-0.3 12-0.6 18-1.5 42-3.9 24-2.8 30-4 66-9.5 42-6.5 48-7.9 51-9.1M119 4.3l51 143.8 15 41.2 12 32.1 9 23.2 18 44.5 6 15.3 21 57.5 9 23.1 9 22.4 9 21.4 6 13.4 6 12.5 15 29.1 9 16.3 6 10.3 6 9.8 6 9.1 6 8.4 6 7.8 6 7.4 9 10.4 6 6.6 9 9.3 12 11.7 18 16.8 15 14.5 6 5.4 6 4.9 3 2.2 6 3.6 3 1.4 9 3.4 9 2.8 6 1.2 6 0.3 12-0.3 12-0.6 18-1.5 39-3.7 21-2.4 27-3.7 75-11.2 42-6.6 51-8.5 48-8.6M122 0.2l21 58.8 36 102.9 15 41.2 9 23.6 21 51 6 15.3 6 16.5 18 51.6 12 31.3 12 29.8 6 13.8 6 12.9 9 18.2 6 11.6 9 16.6 6 10.5 6 9.9 6 9.3 6 8.5 6 8 6 7.5 9 10.6 6 6.7 9 9.4 12 11.9 18 17.1 15 14.6 6 5.5 6 4.9 3 2.2 6 3.7 3 1.4 9 3.6 9 3 6 1.3 3 0.3 3 0.1 12-0.3 12-0.7 18-1.5 36-3.5 21-2.5 21-2.9 87-13.5 39-6.2 51-8.6 48-8.6M128 5.6l18 50.4 33 95.8 15 41.8 9 23.5 6 14.5 12 28.2 9 22.5 6 16.7 18 53.3 18 48.1 6 15.2 6 14.3 6 13.3 6 12.5 9 18 6 11.4 6 11 6 10.3 6 9.8 6 9.1 6 8.4 6 7.8 6 7.5 9 10.5 6 6.6 9 9.4 9 9 18 17.2 15 14.7 9 8.1 6 4.6 3 2 6 3.3 12 5 6 2 3 0.8 6 0.9 6 0 12-0.4 15-1 51-4.9 18-2.3 18-2.7 132-21.3 48-8.2 48-8.6M131 3.3l15 42 33 97 9 25.7 6 16.5 9 23.5 6 14.4 12 27.6 9 22.4 6 16.8 18 54.5 12 33.4 9 24.2 6 15.3 6 14.3 12 25.7 12 23.9 6 11.2 6 10.5 6 10 6 9.2 6 8.5 6 8 6 7.6 9 10.6 6 6.7 9 9.5 9 9.1 30 29.3 6 5.7 6 5.3 6 4.7 3 2.1 6 3.3 12 5.3 6 2.2 3 0.8 3 0.6 3 0.4 6 0 12-0.4 15-1 48-4.8 15-1.9 18-2.6 147-24.6 87-15.3M134 1.9l15 42.3 30 89 9 25.9 6 16.7 9 23.6 6 14.4 12 27.8 9 22.4 6 16.9 18 54.6 21 59.1 6 15.8 6 14.8 12 26.4 12 24.4 6 11.4 6 10.8 6 10.1 6 9.4 6 8.7 6 8.1 6 7.6 9 10.8 6 6.8 9 9.6 12 12.2 27 26.5 6 5.7 6 5.4 6 4.7 3 2 6 3.5 12 5.6 6 2.3 3 0.8 3 0.7 3 0.4 6 0 12-0.4 15-1 45-4.5 15-2 15-2.2 21-3.5 48-8.6 99-16.9 72-12.8M137 1.5l12 34 30 89.1 15 42.8 9 23.9 6 14.6 12 28.3 9 22.7 9 25.7 15 45.3 18 51.7 9 24.8 6 15.1 3 7 12 26.5 6 12.5 6 12 6 11.4 6 10.7 6 9.9 6 9.2 6 8.5 6 8 6 7.5 9 10.7 6 6.7 9 9.5 9 9.1 27 26.7 6 5.7 6 5.4 6 4.7 3 2.1 6 3.6 12 5.8 6 2.4 3 0.9 3 0.7 3 0.4 3 0.1 15-0.4 15-1.1 45-4.6 12-1.6 15-2.3 21-3.6 54-10.1 87-15.1 81-14.4M140 1.9l12 34.3 27 80.2 12 34.6 6 16.6 6 15.9 6 14.9 12 28.9 9 23 9 25.7 15 45 24 69.3 6 16.1 6 14.7 9 20.5 6 13.1 6 12.5 6 12 6 11.4 6 10.6 9 14.3 6 8.6 6 8.1 6 7.7 9 10.7 6 6.7 9 9.7 9 9.1 27 26.8 6 5.7 6 5.4 6 4.7 3 2.2 6 3.6 12 6 6 2.6 3 1 3 0.7 3 0.4 3 0.1 15-0.5 15-1 42-4.4 12-1.6 15-2.3 21-3.8 57-11.1 168-29.8M143 2.7l9 25.9 27 80 12 34.7 12 32.8 18 44.7 9 23.4 6 16.9 18 53.7 18 52.6 9 25.4 6 15.7 3 7.3 9 20.9 9 19.9 6 12.7 6 12 6 11.2 6 10.5 3 4.9 6 9.1 6 8.4 6 7.9 6 7.6 6 7.1 6 6.8 9 9.6 9 9.3 27 26.8 6 5.7 6 5.3 6 4.8 3 2.2 6 3.7 12 6.2 6 2.7 3 1 3 0.8 3 0.4 3 0.1 15-0.5 15-1 42-4.5 12-1.6 12-1.9 21-3.9 45-9.3 18-3.5 165-29.5M146 3.8l12 34.9 24 71.1 9 26 12 33.1 18 45.8 9 23.8 9 25.8 12 35.8 21 61.6 9 25.5 6 15.9 6 14.5 9 21.1 9 20.1 6 12.8 6 11.9 9 16.5 3 5 6 9.2 6 8.5 6 8.1 6 7.5 6 7.2 6 6.8 9 9.7 12 12.3 24 23.8 6 5.8 6 5.3 6 4.8 3 2.2 6 3.7 12 6.5 6 2.7 3 1.1 3 0.8 3 0.4 3 0.1 15-0.4 15-1.1 15-1.5 27-3.1 12-1.7 12-2 21-4 45-9.7 18-3.6 84-15.5 81-14.4M149 5.2l42 123.3 12 33.5 21 54.9 6 16.3 9 25.9 33 97.1 9 25.6 6 15.9 9 22.1 9 21.3 9 20.3 6 12.7 6 12 6 11 3 5.1 3 4.8 6 8.9 6 8.4 6 7.9 6 7.4 6 7 6 6.7 9 9.6 33 33 6 5.7 6 5.3 6 4.8 3 2.2 6 3.8 12 6.6 6 2.9 3 1.1 3 0.8 3 0.5 3 0.1 15-0.5 15-1.1 15-1.6 27-3.1 9-1.2 12-2.1 21-4.1 48-10.8 18-3.7 84-15.7 81-14.4M149 -1.8l45 131.8 9 25.3 21 56.3 6 16.6 42 122.6 9 25.6 6 16 12 29.7 9 21.6 9 20.5 9 18.8 6 11.3 3 5.2 3 4.9 6 9.1 6 8.4 6 8 6 7.4 6 7.1 6 6.7 9 9.6 30 30.1 9 8.6 6 5.3 9 7 6 3.8 12 6.8 6 2.9 3 1.2 3 0.8 3 0.5 3 0.1 15-0.5 15-1.1 15-1.6 24-2.8 9-1.2 12-2 12-2.3 12-2.6 45-10.5 21-4.5 45-8.7 42-7.9 39-7 39-6.8M152 0.1l42 123.1 9 25.6 27 74.7 24 70.1 24 69.2 9 24.3 15 37.7 9 21.9 9 20.7 9 18.6 6 11 3 5 9 13.5 6 8.3 6 7.7 6 7.3 6 6.9 12 12.9 30 30.1 9 8.5 6 5.4 9 7 6 3.8 15 8.5 6 2.6 3 0.8 3 0.5 3 0.1 15-0.5 15-1.1 15-1.6 24-2.9 9-1.3 12-2 21-4.4 48-11.6 21-4.6 45-8.9 42-8 39-7.1 39-6.7M155 2.4l42 122.8 33 93.8 24 70.1 24 68.5 9 24.3 18 45.9 9 22.2 9 20.8 6 12.5 3 5.8 6 10.6 6 9.3 6 8.6 6 8 6 7.5 12 13.9 12 12.7 27 26.9 9 8.6 6 5.3 9 7 6 3.9 15 8.5 6 2.6 3 0.9 3 0.5 3 0.1 15-0.5 15-1.2 15-1.6 24-3 9-1.3 12-2.1 21-4.5 51-12.7 21-4.7 42-8.4 42-8 39-7.2 39-6.7M158 4.9l93 271.4 21 59.7 12 32.8 24 62.3 9 22.6 9 20.7 6 12.3 3 5.6 6 10 9 13.2 6 8.1 6 7.6 6 7.1 6 6.8 12 12.7 27 26.9 9 8.5 6 5.3 9 7 6 3.9 15 8.6 6 2.6 3 0.9 3 0.5 9 0 12-0.6 12-1 15-1.7 24-3 9-1.4 9-1.6 12-2.4 12-2.8 48-12.4 12-2.9 12-2.6 42-8.5 42-8.2 39-7.2 39-6.7M158 -1l30 87.1 15 44.2 36 107.2 18 52.1 15 41.8 12 32.3 30 79 6 15 6 14 6 12.7 3 5.7 6 10.1 9 13.4 6 8.2 6 7.6 6 7.1 6 6.8 12 12.7 27 26.9 9 8.5 6 5.2 9 7 6 3.8 15 8.6 6 2.7 3 0.8 3 0.5 3 0.1 9-0.2 12-0.7 12-1.1 36-4.5 9-1.4 9-1.6 9-1.9 12-2.8 51-13.5 12-2.9 12-2.7 42-8.7 42-8.3 39-7.2 39-6.7M161 1.9l15 43.1 18 52.8 12 35.9 24 73.6 12 35.5 12 34.7 18 49.5 24 63.2 18 48.9 9 22.9 6 13.8 6 12.2 3 5.3 6 9.6 9 13 6 8 6 7.4 12 13.5 12 12.5 24 23.8 9 8.5 6 5.2 9 6.9 6 3.8 15 8.6 6 2.6 3 0.9 3 0.5 3 0.1 9-0.2 12-0.7 12-1.2 36-4.6 9-1.4 9-1.7 9-1.9 12-2.9 51-13.9 12-3 12-2.8 42-8.8 42-8.3 39-7.2 39-6.7M164 5l18 51.8 15 44.3 9 27.4 21 66.2 12 36 12 34.8 15 41.4 30 78.7 21 58.2 6 15.5 6 14.2 6 12.5 3 5.4 6 9.7 9 13.1 6 8 6 7.4 6 7 6 6.6 12 12.5 24 23.7 9 8.4 6 5.2 6 4.7 6 4.1 12 7.1 6 3.3 3 1.4 3 1.2 3 0.9 3 0.5 3 0.1 9-0.2 12-0.8 12-1.1 36-4.7 9-1.5 9-1.7 9-2 12-3 51-14.3 12-3.1 12-2.8 42-8.9 42-8.5 39-7.2 39-6.7M164 -0.2l18 51.6 15 44.4 9 27.7 21 67.7 9 27.3 12 35.2 9 25.3 6 16.3 30 77.8 6 16.6 15 42.8 6 16.4 6 15.3 3 7.1 6 12.7 3 5.6 6 9.7 9 13.2 6 8.1 6 7.4 6 7 6 6.7 12 12.4 24 23.7 9 8.3 6 5.1 6 4.7 6 4.1 12 7.1 6 3.3 3 1.4 3 1.1 3 0.9 3 0.5 3 0.1 9-0.2 12-0.8 12-1.2 36-4.8 15-2.7 12-2.7 12-3 51-14.7 12-3.2 12-2.8 45-9.7 42-8.5 39-7.2 36-6.1M167 3.5l18 51.7 15 44.8 6 18.9 21 68.8 9 27.5 12 35.2 9 25.3 6 16.1 30 77.2 6 16.8 15 43.7 6 16.8 6 15.7 6 14 3 6.2 3 5.6 9 14.4 9 12.8 6 7.8 6 7.3 12 13.3 12 12.2 21 20.6 9 8.3 6 5.1 6 4.6 6 4.1 12 6.9 6 3.3 3 1.4 3 1.1 3 0.9 3 0.5 3 0.1 9-0.2 12-0.8 12-1.2 36-5 15-2.7 9-2 12-3.1 15-4.3 39-11.6 12-3.3 12-2.8 45-9.9 42-8.5 39-7.3 36-6M167 -1l18 51.6 15 44.9 6 19.1 21 69.6 9 27.7 12 35.3 9 25.2 6 16.1 24 60.8 6 15.8 6 17 15 44.5 6 17.2 6 16 6 14.3 3 6.3 3 5.7 9 14.5 9 12.9 9 11.5 6 7.1 6 6.6 12 12.5 24 23.5 12 10.8 9 7 6 4.1 15 8.5 6 2.9 3 1.2 3 0.8 3 0.5 6 0.1 12-0.6 15-1.3 15-1.9 24-3.5 15-2.8 9-2.1 12-3.2 15-4.4 39-11.9 12-3.3 12-3 45-9.9 42-8.6 39-7.3 36-5.9M170 3.3l15 43.1 15 45 6 19.2 21 70.2 9 27.8 9 26.8 9 25.6 6 16.4 9 23.2 18 45.1 6 15.8 6 17.2 15 45.2 6 17.6 6 16.3 6 14.5 3 6.4 3 5.7 9 14.7 9 13 9 11.5 6 7.1 6 6.7 12 12.4 24 23.4 12 10.7 9 7 6 4 15 8.4 6 2.9 3 1.2 3 0.8 3 0.5 6 0 12-0.5 15-1.4 15-2 24-3.5 9-1.6 9-2 12-3.1 12-3.4 39-12.3 18-5.3 15-3.8 36-8.1 33-7 33-6.5 30-5.4 30-4.8M170 -0.7l15 43.1 15 45.2 6 19.2 21 70.7 9 28 9 26.9 9 25.7 6 16.3 9 23 15 37.2 9 23.6 6 17.3 15 45.9 6 17.8 6 16.6 6 14.7 3 6.5 3 5.8 9 14.8 9 13 9 11.6 6 7.1 6 6.7 12 12.5 21 20.5 9 8.3 6 5.1 9 7 6 3.9 15 8.3 6 2.8 3 1.2 3 0.8 3 0.4 6 0.1 12-0.6 15-1.4 15-2 24-3.6 9-1.7 9-2 9-2.3 12-3.5 42-13.6 18-5.4 12-3.2 36-8.2 36-7.7 33-6.5 30-5.3 30-4.7M173 4l15 43.6 12 36.4 6 19.3 21 71.1 9 28.2 9 27 9 25.8 6 16.3 9 22.9 15 37 9 23.5 6 17.5 21 64.5 6 16.8 6 14.9 3 6.6 3 5.8 9 14.9 9 13.1 6 7.9 6 7.4 6 6.9 6 6.5 12 12.3 21 20.2 6 5.5 6 5.1 9 6.9 6 3.9 15 8.1 6 2.8 3 1.1 3 0.8 3 0.5 6 0 12-0.6 15-1.4 15-2.1 24-3.7 9-1.7 9-2.1 9-2.4 12-3.6 42-14 18-5.6 12-3.2 33-7.6 36-7.8 33-6.5 33-5.8 30-4.5M173 0.3l15 43.7 12 36.6 6 19.4 21 71.6 9 28.3 9 27.2 9 25.9 6 16.3 6 15.4 18 44.1 9 23.5 6 17.5 21 65.3 6 17 6 15.1 3 6.6 3 5.9 9 14.9 9 13.2 6 8 6 7.4 6 6.9 6 6.6 12 12.2 21 20.2 6 5.4 6 5.1 9 6.8 6 3.8 15 8.1 6 2.7 3 1.1 3 0.7 3 0.5 6 0 15-0.8 15-1.6 12-1.7 24-3.8 9-1.8 9-2.1 9-2.5 12-3.7 42-14.6 15-4.8 15-4.1 27-6.4 36-7.9 36-7.1 33-5.7 18-2.8 15-2M176 5.4l12 35.2 12 36.7 6 19.5 21 72 12 37.8 9 27 9 25.4 6 15.8 21 51.3 9 23.5 9 26.9 18 56.6 6 17.2 6 15.3 3 6.7 3 5.9 9 15 9 13.3 6 8 6 7.4 6 7 6 6.6 12 12.2 21 20.1 6 5.4 6 5 9 6.8 6 3.8 15 7.9 6 2.6 3 1.1 3 0.7 3 0.5 9-0.1 12-0.7 15-1.7 12-1.7 24-3.9 9-1.8 9-2.2 9-2.6 12-3.9 42-15 15-5 15-4.2 24-5.7 39-8.6 36-7 33-5.6 18-2.7 15-1.9M176 2l12 35.3 12 36.8 6 19.6 21 72.4 12 38.1 9 27.2 6 17.2 6 16.3 6 15.2 18 43.4 6 15.3 3 8.2 9 27.1 18 57.1 6 17.4 6 15.4 3 6.8 3 5.9 9 15.1 9 13.4 6 8 6 7.5 6 7 6 6.6 12 12.3 12 11.6 9 8.4 6 5.3 6 5 9 6.7 6 3.7 15 7.8 6 2.6 3 1 3 0.8 3 0.4 9 0 12-0.8 15-1.7 15-2.2 21-3.5 9-1.9 9-2.3 9-2.7 12-4 39-14.5 18-6.2 15-4.3 21-4.9 21-4.8 21-4.5 18-3.7 18-3.4 18-3.1 15-2.3 18-2.5 15-1.8M176 -1.3l12 35.4 12 37 6 19.6 21 72.8 12 38.3 9 27.5 6 17.3 6 16.3 6 15.1 18 43.1 6 15.3 3 8.2 9 27.1 18 57.7 6 17.6 6 15.5 3 6.8 3 6 9 15.2 9 13.4 6 8.1 6 7.5 9 10.4 12 12.6 18 17.4 9 8.2 6 5.1 9 6.9 6 4 3 1.8 15 7.7 6 2.5 3 1 3 0.8 3 0.4 6 0 12-0.6 15-1.6 15-2.2 24-4.1 9-1.9 9-2.4 9-2.7 12-4.2 39-15 15-5.4 15-4.5 21-5.1 21-4.8 21-4.6 21-4.2 18-3.4 18-3 15-2.3 18-2.3 15-1.7M179 4.2l12 35.9 9 28 9 30.1 18 62.8 12 38.6 9 27.6 6 17.4 6 16.3 6 15.1 18 42.7 6 15.3 3 8.2 9 27.3 18 58.1 6 17.7 6 15.7 3 6.9 3 6 9 15.3 9 13.4 6 8.2 6 7.6 6 7 6 6.7 12 12.3 18 17.1 12 10.5 9 6.8 6 4 3 1.7 15 7.5 6 2.5 3 1 3 0.7 3 0.5 6 0 12-0.6 15-1.7 15-2.2 24-4.2 9-1.9 9-2.5 9-2.9 12-4.3 39-15.5 15-5.5 9-2.9 6-1.7 15-3.7 24-5.6 21-4.6 21-4.2 18-3.4 18-3 18-2.7 18-2.2 15-1.5M179 1l12 36.1 9 28.1 9 30.2 18 63.1 12 38.9 9 27.8 6 17.5 6 16.3 6 15 18 42.5 6 15.2 3 8.2 3 8.7 6 18.7 18 58.6 6 17.9 6 15.8 3 6.8 3 6.1 9 15.4 9 13.5 6 8.2 6 7.6 6 7.1 6 6.7 12 12.3 18 17.1 12 10.4 9 6.8 6 3.9 3 1.7 15 7.3 6 2.5 3 0.9 3 0.7 3 0.4 6 0.1 12-0.7 15-1.6 15-2.3 24-4.3 9-2 9-2.5 9-3 12-4.5 36-14.8 15-5.7 9-3.1 6-1.9 15-3.8 24-5.6 24-5.2 21-4.3 18-3.3 18-3 18-2.5 18-2.1 15-1.4M179 -2l12 36.1 12 38 6 20.6 18 63.4 12 39.1 9 28.1 6 17.6 6 16.3 6 14.9 18 42.2 6 15.1 3 8.3 3 8.7 6 18.8 18 59 6 18 6 15.9 3 7 3 6.1 9 15.4 9 13.6 6 8.3 6 7.6 6 7.2 6 6.7 12 12.3 18 17 12 10.3 9 6.7 6 3.9 3 1.7 15 7.2 6 2.4 3 0.9 3 0.7 3 0.4 9-0.1 12-0.8 12-1.4 15-2.4 24-4.3 9-2.1 9-2.6 9-3.1 12-4.6 36-15.2 12-4.8 9-3.3 6-2 12-3.2 27-6.4 21-4.7 21-4.3 21-4 18-2.9 18-2.6 18-2.1 18-1.5M182 3.9l12 36.6 9 28.9 6 20.6 18 63.7 12 39.3 9 28.3 6 17.7 6 16.3 6 14.9 18 41.9 6 15.2 3 8.2 3 8.8 6 18.8 18 59.4 6 18.1 6 16.1 3 7 3 6.1 9 15.5 9 13.7 6 8.3 6 7.7 6 7.2 6 6.7 12 12.4 18 16.9 12 10.3 9 6.6 6 3.8 3 1.7 15 7 6 2.3 3 0.9 3 0.7 3 0.4 9-0.1 12-0.8 12-1.5 15-2.4 24-4.4 9-2.1 9-2.7 9-3.2 12-4.7 33-14.4 15-6.2 9-3.3 6-2 12-3.3 27-6.4 24-5.3 21-4.3 18-3.3 18-2.9 18-2.5 18-1.9 18-1.4M182 0.9l12 36.8 9 28.9 6 20.7 18 64 12 39.6 9 28.5 6 17.8 6 16.3 6 14.8 18 41.7 6 15.1 3 8.3 3 8.8 6 18.9 18 59.7 6 18.3 6 16.2 3 7 3 6.2 9 15.6 9 13.8 6 8.3 6 7.7 6 7.3 6 6.7 12 12.4 9 8.6 9 8.3 12 10.1 9 6.6 6 3.8 3 1.6 15 6.9 6 2.3 3 0.8 3 0.7 3 0.3 9 0 12-0.9 12-1.5 15-2.4 24-4.5 9-2.2 9-2.8 9-3.2 12-4.9 33-14.7 15-6.3 12-4.5 12-3.5 27-6.4 24-5.4 21-4.3 21-3.9 18-2.9 18-2.4 18-1.9 18-1.2M182 -2.1l12 37 9 29 6 20.8 18 64.2 12 39.8 9 28.7 6 17.9 6 16.3 6 14.8 18 41.5 6 15.1 3 8.3 3 8.8 6 18.9 18 60.2 6 18.4 6 16.2 3 7.1 3 6.2 9 15.7 9 13.9 6 8.4 6 7.8 9 10.7 6 6.6 6 6.2 15 14.3 9 8.1 6 5 9 6.9 6 4 3 1.8 6 3.1 9 3.9 9 3.5 6 1.5 3 0.3 3 0.1 12-0.5 15-1.6 15-2.4 27-5.1 6-1.5 9-2.6 9-3.1 12-4.9 12-5.3 24-11.1 15-6.4 12-4.5 6-1.9 6-1.7 27-6.4 24-5.4 21-4.3 21-3.9 18-2.8 18-2.4 18-1.8 18-1.1M185 4.1l9 27.9 9 29.2 6 20.8 18 64.5 15 49.9 9 28.2 6 17.2 6 15.5 6 14.2 15 34.3 6 15.1 3 8.3 3 8.8 6 19.1 15 50.6 6 19.3 6 17.6 3 7.8 3 7.1 3 6.3 3 5.5 9 15.1 9 13.4 6 8.2 6 7.5 9 10.4 6 6.5 6 6 9 8.6 9 8.1 6 5.2 6 4.9 9 6.4 6 3.7 3 1.6 15 6.5 6 2.1 3 0.9 3 0.6 3 0.3 9-0.1 12-0.9 12-1.5 15-2.5 24-4.7 6-1.5 9-2.7 9-3.2 12-4.9 12-5.5 24-11.2 15-6.6 12-4.5 6-2 6-1.7 27-6.4 24-5.4 21-4.3 21-3.9 21-3.2 18-2.2 18-1.7 15-0.8M185 1.2l9 28 9 29.3 6 20.9 18 64.7 15 50.2 9 28.4 6 17.2 6 15.5 6 14.2 15 34.2 6 15 3 8.3 3 8.9 6 19.1 15 50.9 6 19.4 6 17.7 3 7.9 3 7.1 3 6.3 9 15.9 9 14 6 8.6 6 7.9 9 10.8 6 6.7 6 6.2 6 5.9 9 8.4 9 8 6 5 9 6.7 6 3.9 3 1.7 6 3 9 3.7 9 3.3 6 1.4 3 0.3 3 0.1 12-0.5 15-1.7 15-2.5 27-5.3 6-1.5 9-2.7 9-3.3 12-5 36-17 15-6.6 12-4.6 6-2 6-1.7 27-6.4 24-5.5 21-4.3 21-3.9 21-3.2 18-2.2 18-1.6 15-0.7M185 -1.7l9 28.2 9 29.3 6 21 18 65 15 50.4 9 28.6 6 17.3 6 15.5 6 14.1 15 34 6 15.1 3 8.3 3 8.9 6 19.2 15 51.1 6 19.6 6 17.7 3 8 3 7.2 3 6.3 9 15.9 9 14.2 6 8.6 6 7.9 9 11 6 6.6 6 6.3 6 5.9 9 8.3 9 8 6 4.9 9 6.7 6 3.9 3 1.7 6 2.9 6 2.4 6 2.4 6 2 6 1.3 3 0.4 3 0 12-0.5 6-0.6 9-1.1 15-2.5 27-5.5 6-1.4 9-2.8 9-3.4 12-5.1 36-17.2 15-6.7 12-4.6 6-2 6-1.7 27-6.5 24-5.5 21-4.3 21-3.9 21-3.2 18-2.2 18-1.5 15-0.8M188 4.8l9 28.6 6 19.8 6 21 18 65.2 15 50.8 9 28.7 6 17.3 6 15.5 6 14.1 15 34 6 15 3 8.3 3 8.9 6 19.2 15 51.5 6 19.6 6 17.9 3 8 3 7.2 3 6.4 3 5.5 9 15.4 9 13.8 6 8.3 6 7.7 9 10.6 6 6.5 6 6.1 6 5.7 9 8.2 12 10.1 9 6.6 6 3.8 3 1.7 6 2.9 6 2.4 6 2.3 6 1.9 6 1.3 3 0.3 3 0.1 12-0.5 6-0.6 9-1.2 15-2.5 27-5.6 6-1.5 9-2.8 9-3.4 12-5.2 36-17.4 15-6.8 12-4.7 6-2 6-1.7 27-6.5 24-5.5 21-4.4 21-3.9 21-3.2 18-2.2 18-1.5 15-0.7M188 2l9 28.7 6 19.8 6 21.2 18 65.4 15 51 9 28.9 6 17.4 6 15.5 6 14 15 33.9 6 15 3 8.3 3 9 6 19.3 15 51.6 6 19.8 6 17.9 3 8.1 3 7.3 3 6.4 3 5.6 9 15.4 9 13.9 6 8.4 6 7.7 9 10.7 6 6.5 6 6.1 6 5.8 9 8.1 12 10 9 6.6 6 3.7 3 1.7 6 2.8 6 2.3 6 2.3 6 1.9 6 1.2 3 0.3 6 0 12-0.7 12-1.5 15-2.6 27-5.7 6-1.5 9-2.9 9-3.4 12-5.2 36-17.7 15-6.8 12-4.8 6-2 6-1.7 30-7.3 24-5.4 21-4.4 18-3.3 21-3.2 18-2.2 18-1.5 15-0.7M188 -0.8l9 28.8 6 19.9 6 21.2 18 65.7 15 51.3 9 29 6 17.5 6 15.4 6 14.1 15 33.7 6 15.1 3 8.3 3 8.9 6 19.4 15 51.9 6 19.8 6 18.1 3 8.1 3 7.3 3 6.4 3 5.7 9 15.5 9 14 6 8.4 6 7.9 9 10.7 6 6.6 6 6.1 6 5.7 9 8.1 12 10 9 6.4 6 3.7 3 1.7 6 2.7 6 2.3 6 2.2 6 1.8 6 1.3 3 0.3 6 0 12-0.8 12-1.5 15-2.7 27-5.7 6-1.6 9-2.9 9-3.5 12-5.3 36-17.8 15-6.9 12-4.8 6-2 6-1.8 30-7.3 24-5.5 21-4.3 18-3.4 21-3.2 18-2.2 18-1.5 15-0.6M191 6l9 29.2 6 20.6 18 66 6 21.1 12 41.1 9 29.2 6 17.6 6 15.4 6 14 15 33.7 6 15 3 8.4 3 8.9 6 19.5 15 52.1 6 19.9 6 18.2 3 8.1 3 7.4 3 6.4 3 5.7 9 15.7 9 14 6 8.5 6 7.9 9 10.9 6 6.5 6 6.2 6 5.7 9 8 12 9.9 9 6.4 6 3.7 3 1.6 6 2.6 6 2.3 6 2.1 6 1.8 6 1.2 3 0.3 6 0 12-0.8 12-1.5 15-2.7 27-5.9 6-1.5 9-3 9-3.5 12-5.4 36-18 12-5.6 9-3.9 6-2.3 6-2 6-1.8 30-7.3 24-5.6 21-4.4 18-3.3 21-3.3 18-2.1 18-1.5 15-0.7M191 3.3l12 39.5 6 21.3 18 66.1 15 51.8 9 29.4 6 17.5 6 15.5 6 14 15 33.6 6 15 3 8.4 3 9 6 19.4 15 52.3 6 20.1 6 18.3 3 8.1 3 7.4 3 6.5 3 5.7 9 15.8 9 14.1 6 8.6 6 8 9 10.9 6 6.6 6 6.1 6 5.8 6 5.3 12 10.1 6 4.6 6 4.1 6 3.6 3 1.6 6 2.6 6 2.2 6 2.1 6 1.7 6 1.2 3 0.3 6 0 12-0.8 12-1.6 15-2.8 27-5.9 6-1.6 9-2.9 9-3.6 12-5.4 36-18.2 12-5.7 9-3.9 6-2.3 6-2.1 6-1.7 30-7.4 24-5.6 21-4.5 18-3.3 21-3.3 18-2.2 18-1.5 15-0.6M191 0.7l12 39.6 6 21.3 18 66.3 15 52.1 9 29.5 6 17.6 6 15.5 6 14 15 33.5 6 15 3 8.4 3 9 6 19.5 15 52.6 6 20.1 6 18.4 3 8.2 3 7.4 3 6.5 3 5.7 6 10.8 6 10 9 13.8 9 12.3 9 10.9 6 6.7 6 6.1 6 5.7 6 5.4 12 10 6 4.5 6 4.1 6 3.5 3 1.6 6 2.6 6 2.1 6 2.1 6 1.7 6 1.1 3 0.3 6 0 12-0.8 12-1.6 15-2.8 27-6 6-1.7 9-3 9-3.6 12-5.4 36-18.4 12-5.7 9-3.9 6-2.4 6-2.1 6-1.7 30-7.5 24-5.6 21-4.5 18-3.4 21-3.3 18-2.2 18-1.5 15-0.7M191 -2l12 39.7 6 21.5 18 66.5 15 52.3 9 29.7 6 17.6 6 15.5 6 14 15 33.5 6 15 3 8.3 3 9.1 6 19.6 15 52.7 6 20.2 6 18.5 3 8.2 3 7.5 3 6.5 3 5.8 6 10.8 6 10.1 9 13.8 9 12.4 9 11.1 6 6.6 6 6.2 6 5.7 6 5.3 12 10 6 4.5 6 4 6 3.5 3 1.5 6 2.6 6 2.1 6 2 6 1.7 6 1.1 3 0.2 6 0 12-0.8 12-1.6 15-2.9 27-6.1 6-1.6 9-3.1 9-3.6 12-5.5 36-18.5 12-5.8 9-4 6-2.3 6-2.1 6-1.8 30-7.6 24-5.6 21-4.5 18-3.5 21-3.3 18-2.2 18-1.5 15-0.7M194 5.1l6 19.9 6 20.8 18 66.7 6 21.5 12 42 9 29.8 6 17.8 6 15.5 6 13.9 15 33.4 6 15 3 8.4 3 9.1 6 19.6 15 52.9 6 20.3 6 18.6 3 8.2 3 7.5 3 6.6 3 5.8 6 10.9 6 10.2 9 13.9 9 12.5 9 11.1 6 6.7 6 6.2 6 5.7 6 5.3 12 9.9 6 4.4 6 4 6 3.5 3 1.5 6 2.5 6 2.1 6 2 6 1.6 6 1.1 3 0.2 6 0 12-0.8 12-1.7 15-2.9 27-6.2 6-1.6 9-3.1 9-3.7 12-5.6 36-18.6 12-5.9 9-3.9 6-2.4 6-2.1 6-1.9 30-7.6 24-5.7 21-4.6 18-3.4 21-3.4 18-2.2 18-1.5 15-0.7M194 2.6l6 19.9 6 20.9 18 66.9 6 21.5 12 42.2 9 30 6 17.8 6 15.5 6 13.9 9 19.7 6 13.7 6 15 3 8.4 3 9.1 6 19.7 15 53.1 6 20.4 6 18.6 3 8.3 3 7.5 3 6.7 3 5.8 6 10.9 6 10.2 9 14.1 9 12.6 9 11.2 6 6.7 6 6.2 6 5.7 6 5.3 12 9.8 6 4.4 6 4 6 3.4 3 1.5 6 2.5 6 2 6 1.9 6 1.6 6 1.1 3 0.3 6-0.1 12-0.8 12-1.7 15-2.9 27-6.3 6-1.7 9-3.1 9-3.7 12-5.6 36-18.9 12-5.9 9-4 6-2.4 6-2.1 6-1.9 30-7.7 24-5.7 21-4.6 18-3.5 21-3.5 18-2.2 18-1.6 15-0.6M194 0l6 20 6 20.9 18 67.1 6 21.6 12 42.4 9 30.2 6 17.8 6 15.6 6 13.9 9 19.6 6 13.7 6 15 3 8.4 3 9.1 6 19.7 15 53.3 6 20.5 6 18.7 3 8.4 3 7.5 3 6.7 3 5.8 6 11 6 10.3 9 14.2 9 12.6 9 11.3 6 6.8 6 6.2 6 5.7 6 5.3 12 9.7 6 4.4 6 3.9 6 3.4 3 1.5 6 2.5 6 2 6 1.9 6 1.5 6 1.1 3 0.2 6 0 12-0.9 12-1.7 15-3 27-6.3 6-1.7 9-3.2 9-3.7 12-5.7 36-19 12-6 9-4 6-2.4 6-2.2 6-1.8 30-7.8 24-5.9 21-4.6 18-3.6 21-3.4 18-2.3 18-1.6 15-0.6M194 -2.5l6 20 6 21 18 67.3 15 53.7 6 21 6 19.9 6 17.9 6 15.5 6 13.9 9 19.7 6 13.6 6 15 3 8.4 3 9.1 6 19.8 15 53.5 6 20.6 6 18.7 3 8.4 3 7.6 3 6.7 3 5.9 6 11 6 10.4 9 14.3 6 8.6 6 8.1 9 10.8 9 9.6 6 5.7 6 5.3 12 9.7 6 4.3 6 3.9 6 3.4 3 1.4 6 2.5 6 1.9 6 1.9 6 1.5 6 1.1 3 0.2 6 0 6-0.3 6-0.6 12-1.7 15-3 27-6.5 6-1.7 9-3.2 9-3.8 12-5.7 36-19.2 12-6 9-4.1 6-2.5 6-2.1 6-1.9 30-7.9 24-5.9 21-4.7 18-3.6 21-3.5 18-2.3 18-1.5 15-0.7M197 4.9l9 31.2 21 78.4 15 53.6 9 30.5 6 17.9 6 15.6 6 13.9 9 19.6 6 13.6 6 15.1 3 8.4 3 9.1 6 19.8 15 53.7 6 20.6 6 18.8 3 8.5 3 7.6 3 6.7 3 5.9 6 11.2 6 10.4 9 14.3 6 8.8 6 8.1 9 10.9 9 9.6 6 5.7 6 5.3 12 9.6 6 4.3 6 3.9 6 3.3 3 1.5 6 2.4 6 1.9 6 1.9 6 1.5 6 1 3 0.2 6 0 6-0.3 6-0.6 12-1.8 15-3 27-6.5 6-1.8 9-3.2 9-3.8 12-5.8 36-19.4 12-6.1 9-4.1 6-2.5 6-2.2 6-1.9 30-7.9 24-6 21-4.7 18-3.6 21-3.6 18-2.3 18-1.6 15-0.7M197 2.4l9 31.3 21 78.6 15 53.9 9 30.6 6 18 6 15.6 6 13.8 9 19.7 6 13.5 6 15.1 3 8.4 3 9.2 6 19.8 15 53.8 6 20.8 6 18.9 3 8.4 3 7.7 3 6.8 3 5.9 6 11.2 6 10.5 9 14.4 6 8.8 6 8.2 9 11 9 9.6 6 5.7 6 5.3 12 9.6 6 4.3 6 3.8 6 3.3 3 1.5 6 2.3 6 2 6 1.7 6 1.5 6 1 3 0.3 6-0.1 6-0.3 6-0.6 12-1.8 15-3.1 27-6.6 6-1.7 9-3.3 9-3.8 12-5.9 36-19.6 12-6.1 9-4.2 6-2.5 6-2.2 6-1.9 30-8 24-6.1 21-4.8 18-3.6 21-3.6 18-2.4 18-1.6 15-0.7M197 0l9 31.3 21 78.9 15 54.1 9 30.7 6 18.1 6 15.6 6 13.8 9 19.6 6 13.6 6 15.1 3 8.4 3 9.2 6 19.9 15 53.9 6 20.8 6 19 3 8.5 3 7.7 3 6.8 3 6 6 11.2 6 10.6 9 14.5 6 8.9 6 8.2 9 11.1 9 9.7 6 5.7 6 5.2 12 9.6 6 4.3 6 3.8 6 3.3 3 1.4 6 2.3 6 1.9 6 1.8 6 1.4 6 1 3 0.2 6 0 6-0.3 6-0.6 12-1.8 15-3.2 27-6.7 6-1.8 9-3.3 9-3.9 12-5.9 36-19.7 12-6.2 9-4.2 6-2.6 6-2.2 6-1.9 30-8.1 24-6.1 21-4.9 18-3.7 21-3.6 18-2.4 18-1.6 15-0.7M197 -2.5l9 31.4 21 79.1 15 54.3 9 31 6 18.1 6 15.6 6 13.8 9 19.6 6 13.6 6 15 3 8.5 3 9.2 6 19.9 15 54.1 6 20.9 6 19.1 3 8.5 3 7.7 3 6.8 3 6 6 11.3 6 10.7 9 14.6 9 13.1 9 11.7 6 7 6 6.3 9 8.3 12 9.9 6 4.5 6 4 6 3.6 3 1.5 6 2.7 3 1 9 2.8 6 1.5 6 1.2 3 0.4 3 0.3 6-0.1 6-0.3 6-0.6 12-1.8 15-3.2 27-6.8 6-1.8 9-3.3 9-4 12-5.9 36-20 12-6.2 9-4.3 6-2.5 6-2.3 6-2 30-8.1 24-6.2 21-4.9 18-3.7 21-3.7 18-2.4 18-1.6 15-0.8M200 5.3l9 32.4 18 68.1 18 65.3 6 20.4 6 18.2 6 15.6 6 13.9 9 19.5 6 13.5 6 15.1 3 8.5 3 9.2 6 20 15 54.2 6 21 6 19.1 3 8.6 3 7.7 3 6.9 3 6 6 11.4 6 10.7 9 14.7 6 9 6 8.3 9 11.3 9 9.7 9 8.4 9 7.5 6 4.6 6 4.3 6 3.7 6 3.3 3 1.4 6 2.2 9 2.7 6 1.6 6 1.1 3 0.4 3 0.2 6 0 6-0.3 6-0.6 12-1.9 15-3.2 27-6.9 6-1.8 9-3.4 9-4 12-6 36-20.1 12-6.4 9-4.3 6-2.5 6-2.3 6-2 30-8.2 24-6.3 21-4.9 18-3.8 21-3.6 18-2.5 18-1.6 15-0.7M200 2.8l9 32.5 18 68.4 18 65.6 6 20.5 6 18.2 6 15.6 6 13.9 9 19.5 6 13.5 6 15.1 3 8.5 3 9.2 6 20 15 54.4 6 21.1 6 19.1 3 8.7 3 7.8 3 6.8 3 6.1 6 11.4 6 10.8 9 14.8 6 9.1 6 8.3 9 11.3 9 9.9 9 8.3 9 7.5 6 4.6 6 4.3 6 3.7 6 3.3 3 1.3 6 2.3 9 2.6 6 1.5 6 1.1 3 0.4 3 0.2 6 0 6-0.4 6-0.6 12-1.9 15-3.2 27-7 6-1.9 9-3.4 9-4 12-6.1 36-20.3 12-6.4 9-4.3 6-2.6 6-2.3 6-2 30-8.3 24-6.3 21-5 18-3.8 21-3.7 18-2.4 18-1.7 15-0.7M200 0.4l9 32.6 18 68.5 18 66 6 20.5 6 18.3 6 15.7 6 13.8 9 19.5 6 13.5 6 15.1 3 8.5 3 9.2 6 20.1 15 54.6 6 21.1 6 19.2 3 8.6 3 7.9 3 6.9 3 6.1 6 11.5 6 10.8 9 14.9 6 9.1 6 8.5 9 11.4 9 9.8 3 3 6 5.4 9 7.5 6 4.6 6 4.2 6 3.8 6 3.2 3 1.3 6 2.2 9 2.6 6 1.4 6 1.1 3 0.4 3 0.2 6 0 6-0.4 6-0.6 12-1.9 15-3.3 27-7.1 6-1.9 9-3.4 9-4.1 12-6.2 36-20.5 12-6.5 9-4.3 6-2.6 6-2.3 6-2 30-8.4 24-6.3 21-5 18-3.9 21-3.7 18-2.4 18-1.7 15-0.7M200 -2l9 32.7 18 68.7 18 66.2 6 20.7 6 18.3 6 15.7 6 13.9 9 19.4 6 13.6 6 15 3 8.5 3 9.3 6 20.1 15 54.7 6 21.1 6 19.4 3 8.6 3 7.9 3 6.9 3 6.1 6 11.6 6 10.9 9 15 6 9.2 6 8.5 9 11.5 9 9.9 3 2.9 6 5.4 9 7.5 6 4.6 6 4.3 6 3.7 6 3.2 3 1.3 6 2.2 9 2.4 6 1.5 6 1 3 0.4 3 0.2 6-0.1 6-0.3 6-0.7 12-1.9 15-3.4 27-7.1 6-1.9 9-3.5 9-4.1 12-6.3 36-20.7 12-6.5 9-4.4 6-2.6 6-2.3 6-2.1 30-8.4 24-6.3 21-5.1 18-3.8 21-3.7 18-2.5 18-1.6 15-0.7M200 -4.4l9 32.8 15 57.6 18 66.9 9 31.7 6 18.4 6 15.7 6 13.8 9 19.5 6 13.5 6 15.1 3 8.5 3 9.2 6 20.2 15 54.8 6 21.2 6 19.4 3 8.7 3 7.9 3 7 3 6.1 6 11.7 6 10.9 6 10.3 6 9.6 9 13 9 11.6 9 9.9 3 3 6 5.4 9 7.5 6 4.6 6 4.2 6 3.7 6 3.2 3 1.3 6 2.2 9 2.3 6 1.4 9 1.3 3 0.2 6 0 6-0.4 6-0.6 12-2 15-3.4 27-7.3 6-1.9 9-3.5 9-4.2 12-6.3 36-20.9 12-6.5 9-4.4 6-2.7 6-2.3 6-2 30-8.5 24-6.4 21-5.1 21-4.4 18-3.1 18-2.5 18-1.6 15-0.7M203 3.9l6 22.2 18 69.1 18 66.8 6 20.9 6 18.4 6 15.7 6 13.9 9 19.4 6 13.5 6 15.1 3 8.5 3 9.3 6 20.2 15 55 6 21.2 6 19.5 3 8.7 3 8 3 7 3 6.1 6 11.7 6 11 6 10.4 6 9.6 9 13.2 9 11.6 9 10 3 2.9 6 5.5 9 7.4 6 4.6 6 4.3 6 3.7 6 3.1 3 1.3 6 2.1 9 2.3 6 1.3 9 1.3 3 0.2 6 0 6-0.4 6-0.7 12-2 15-3.5 27-7.4 6-1.9 9-3.6 9-4.1 12-6.4 36-21 12-6.6 9-4.5 6-2.6 6-2.4 6-2 30-8.5 24-6.4 21-5.1 21-4.5 18-3.1 18-2.5 18-1.6 15-0.6M203 1.5l6 22.3 18 69.3 18 67.1 6 21 6 18.5 6 15.7 6 13.8 9 19.4 6 13.5 6 15.1 3 8.6 3 9.2 6 20.3 15 55.1 6 21.3 6 19.6 3 8.7 3 8 3 7 3 6.2 6 11.8 6 11 6 10.4 6 9.8 9 13.2 9 11.7 6 6.9 3 3.1 3 3 6 5.4 9 7.5 6 4.6 6 4.2 6 3.7 6 3.2 3 1.3 6 2 9 2.2 6 1.3 9 1.2 3 0.2 6-0.1 6-0.3 6-0.7 12-2.1 15-3.5 27-7.5 6-2 9-3.6 9-4.2 12-6.4 33-19.4 15-8.4 9-4.5 6-2.7 6-2.3 6-2.1 30-8.5 24-6.4 21-5.1 21-4.5 18-3.1 18-2.5 18-1.6 15-0.6M203 -0.8l6 22.3 18 69.5 15 56.4 9 32.1 6 18.6 6 15.7 6 13.8 9 19.4 6 13.5 6 15.1 3 8.5 3 9.3 6 20.3 15 55.2 6 21.4 6 19.6 3 8.8 3 8 3 7.1 3 6.2 6 11.8 6 11.2 6 10.4 6 9.8 9 13.4 9 11.7 6 6.9 3 3.2 3 3 6 5.4 9 7.5 6 4.6 6 4.2 6 3.7 6 3.1 3 1.3 6 2 9 2.1 6 1.2 9 1.2 3 0.2 6-0.1 6-0.4 6-0.6 12-2.1 15-3.6 27-7.7 6-2 9-3.6 9-4.3 12-6.4 33-19.6 15-8.4 9-4.5 6-2.7 6-2.4 6-2 30-8.6 24-6.4 21-5.1 21-4.5 18-3.2 18-2.4 18-1.6 15-0.6M203 -3.2l6 22.4 18 69.7 15 56.6 9 32.3 6 18.7 6 15.7 6 13.8 9 19.4 6 13.4 6 15.1 3 8.6 3 9.3 6 20.3 15 55.4 6 21.4 6 19.7 3 8.8 3 8.1 3 7 3 6.3 6 11.9 6 11.2 6 10.5 6 9.9 9 13.4 9 11.8 6 7 3 3.1 3 3 6 5.5 9 7.4 6 4.6 9 6.1 6 3.4 3 1.5 6 2.4 3 0.8 12 2.7 6 1 6 0.7 3 0.2 6-0.1 6-0.4 6-0.7 12-2.1 15-3.7 27-7.7 6-2 9-3.7 9-4.3 12-6.5 33-19.7 15-8.5 9-4.5 6-2.7 6-2.4 6-2 30-8.6 24-6.5 21-5.1 21-4.5 18-3.1 18-2.5 18-1.5 15-0.6M206 5.6l18 69.7 18 68.4 6 22.1 3 10.4 6 18.7 6 15.7 6 13.8 9 19.3 6 13.5 6 15.1 3 8.5 3 9.3 6 20.4 15 55.5 6 21.6 6 19.7 3 8.8 3 8.1 3 7.1 3 6.3 6 11.9 6 11.3 6 10.6 6 9.9 9 13.6 9 11.8 6 7 3 3.2 3 3 6 5.4 9 7.5 6 4.6 9 6.1 6 3.3 3 1.5 6 2.3 3 0.9 12 2.6 6 1 6 0.6 9 0.1 6-0.4 6-0.7 12-2.1 15-3.8 27-7.8 6-2.1 9-3.7 9-4.3 12-6.6 33-19.8 15-8.5 9-4.5 6-2.8 6-2.4 6-2 30-8.6 24-6.5 21-5.1 21-4.5 18-3.2 18-2.4 18-1.6 15-0.5M206 3.2l18 70 18 68.7 6 22.2 6 20.2 3 9 6 15.7 6 13.8 9 19.3 6 13.4 6 15.1 3 8.6 3 9.3 6 20.4 15 55.7 6 21.6 6 19.7 3 8.9 3 8.1 3 7.2 3 6.3 6 12 6 11.3 6 10.7 6 10 9 13.6 9 12 6 7 3 3.2 3 3 6 5.4 9 7.4 6 4.6 9 6.1 6 3.3 3 1.5 6 2.3 3 0.8 12 2.6 6 0.9 6 0.6 9 0.1 6-0.4 6-0.7 12-2.2 15-3.8 27-8 6-2 9-3.8 9-4.3 12-6.6 33-20 15-8.5 9-4.6 6-2.7 6-2.4 6-2.1 30-8.6 24-6.5 21-5.2 21-4.5 18-3.1 18-2.5 18-1.5 15-0.6M206 0.9l18 70.2 18 69 6 22.4 6 20.2 3 9 6 15.8 6 13.8 9 19.2 6 13.4 6 15.1 3 8.6 3 9.3 6 20.4 15 55.8 6 21.7 6 19.8 3 9 3 8.1 3 7.1 3 6.4 6 12 6 11.5 6 10.7 6 10 9 13.8 9 12 6 7 3 3.2 3 3 6 5.5 9 7.4 6 4.5 9 6.1 6 3.3 3 1.4 6 2.3 3 0.9 12 2.4 6 1 6 0.6 9 0.1 6-0.4 6-0.8 12-2.2 15-3.9 27-8 6-2.1 9-3.8 9-4.4 12-6.7 33-20.1 15-8.5 9-4.6 6-2.8 6-2.4 6-2 30-8.7 24-6.5 21-5.2 21-4.5 18-3.2 18-2.4 18-1.5 15-0.6M206 -1.4l18 70.4 21 80.7 6 21.6 3 9.8 3 9 6 15.8 6 13.8 9 19.2 6 13.4 6 15.1 3 8.5 3 9.4 6 20.4 21 77.7 6 19.9 3 9 3 8.1 3 7.2 3 6.4 6 12.1 6 11.5 6 10.8 6 10.1 9 13.8 9 12.1 6 7.1 3 3.2 3 3 6 5.4 9 7.4 6 4.5 9 6.1 6 3.3 3 1.4 6 2.3 3 0.8 12 2.4 6 0.9 6 0.6 9 0.1 6-0.4 6-0.7 12-2.3 15-3.9 27-8.2 6-2.1 9-3.8 9-4.5 12-6.7 33-20.2 15-8.6 9-4.6 6-2.8 6-2.4 6-2.1 30-8.7 24-6.5 21-5.2 21-4.6 18-3.1 18-2.5 18-1.5 15-0.5M206 -3.7l18 70.6 21 81.1 6 21.7 3 9.9 3 9 6 15.8 6 13.7 9 19.2 6 13.3 6 15.1 3 8.6 3 9.3 6 20.5 21 77.9 6 20 3 9 3 8.2 3 7.2 3 6.4 6 12.2 6 11.5 6 10.9 6 10.2 9 13.9 9 12.1 6 7.1 3 3.3 3 3 6 5.4 9 7.3 6 4.6 9 5.9 6 3.3 3 1.4 6 2.3 3 0.8 9 1.9 6 1 6 0.7 9 0.5 6-0.3 6-0.6 6-0.9 6-1.1 6-1.4 9-2.4 30-9.2 6-2.1 9-3.9 9-4.4 9-5 12-7.2 24-14.9 15-8.7 9-4.6 6-2.8 6-2.4 6-2.1 30-8.8 24-6.5 21-5.3 21-4.5 18-3.2 18-2.4 18-1.6 15-0.5M209 5.5l15 59.3 21 81.5 6 21.8 3 9.9 3 9 6 15.8 6 13.7 9 19.2 6 13.3 6 15.1 3 8.6 3 9.3 6 20.6 21 78 6 20.1 3 9 3 8.2 3 7.3 3 6.4 6 12.2 6 11.6 6 11 6 10.2 9 14 9 12.2 6 7.2 3 3.2 3 3 6 5.4 9 7.4 6 4.5 9 5.9 6 3.3 3 1.4 6 2.2 3 0.8 9 1.8 6 1.1 6 0.7 9 0.4 6-0.2 6-0.6 6-1 6-1.1 6-1.4 9-2.4 30-9.3 6-2.2 9-3.9 9-4.5 9-5 12-7.2 24-15 15-8.8 9-4.6 6-2.8 6-2.5 6-2.1 30-8.7 24-6.6 21-5.3 21-4.6 18-3.2 18-2.4 18-1.5 15-0.5M209 3.3l15 59.5 21 81.8 6 21.9 3 9.9 3 9.1 6 15.8 6 13.7 9 19.1 6 13.3 6 15.1 3 8.6 3 9.3 6 20.6 21 78.2 6 20.1 3 9.1 3 8.2 3 7.3 6 12.7 6 12 6 11.4 6 10.6 6 10 9 13.5 6 8 3 3.7 6 6.7 3 3 3 2.8 6 5.1 6 4.8 6 4.5 9 5.9 6 3.2 3 1.4 6 2.2 3 0.8 9 1.8 6 1 6 0.8 9 0.4 6-0.3 6-0.6 6-0.9 6-1.2 6-1.4 9-2.5 30-9.4 6-2.1 9-4 9-4.5 9-5.1 12-7.3 24-15 15-8.8 9-4.7 6-2.8 6-2.5 6-2.1 30-8.8 24-6.6 21-5.3 21-4.6 18-3.2 18-2.4 9-0.9 9-0.7 15-0.4M209 1l15 59.7 21 82.2 6 22 3 10 3 9 6 15.8 6 13.7 9 19.1 6 13.3 6 15.1 3 8.5 3 9.4 6 20.6 21 78.5 6 20.1 3 9.1 3 8.3 3 7.3 6 12.7 6 12.1 6 11.4 6 10.8 6 10 9 13.6 6 8 3 3.7 6 6.7 3 3.1 3 2.8 6 5 6 4.8 6 4.5 9 5.9 6 3.2 3 1.4 6 2.2 3 0.7 9 1.8 6 1 6 0.7 9 0.4 6-0.2 6-0.6 6-1 6-1.2 6-1.4 9-2.5 30-9.5 6-2.2 9-4 9-4.6 9-5.1 12-7.3 24-15.2 15-8.8 9-4.7 6-2.8 6-2.5 6-2.1 30-8.9 24-6.6 21-5.3 21-4.6 18-3.3 18-2.4 9-0.9 9-0.6 15-0.5M209 -1.2l15 59.8 21 82.6 6 22.1 3 10 3 9.1 6 15.8 6 13.7 9 19 6 13.3 6 15 3 8.6 3 9.4 6 20.6 21 78.7 6 20.2 3 9.2 3 8.2 3 7.4 6 12.8 6 12.1 6 11.5 6 10.8 6 10.1 9 13.6 6 8.1 3 3.7 6 6.8 3 3 3 2.8 6 5.1 6 4.8 6 4.4 9 5.8 6 3.2 3 1.4 6 2.2 3 0.8 9 1.7 6 1 6 0.7 9 0.4 6-0.3 6-0.6 6-0.9 6-1.3 6-1.4 9-2.5 30-9.7 6-2.2 9-4 9-4.6 9-5.1 12-7.4 24-15.3 15-8.8 9-4.8 6-2.8 6-2.5 6-2.1 30-8.9 24-6.7 21-5.3 21-4.7 18-3.2 18-2.4 9-0.9 9-0.7 15-0.4M209 -3.5l36 143 6 22.2 3 10.1 3 9.1 6 15.8 6 13.7 9 18.9 6 13.3 6 15 3 8.6 3 9.4 6 20.7 21 78.8 6 20.3 3 9.2 3 8.3 3 7.4 3 6.5 6 12.5 6 11.9 6 11.2 6 10.5 9 14.3 6 8.6 3 4 6 7.2 3 3.3 3 3 6 5.4 12 9.4 9 6.2 6 3.5 3 1.5 6 2.5 3 1 9 2 12 1.9 6 0.5 6 0.2 6-0.3 6-0.6 6-1 6-1.2 6-1.5 9-2.6 30-9.7 6-2.2 9-4.1 9-4.6 9-5.2 12-7.4 24-15.4 15-8.9 9-4.7 6-2.9 6-2.5 6-2.1 30-9 24-6.7 21-5.4 21-4.6 18-3.2 18-2.5 9-0.9 9-0.6 15-0.5M212 6.2l33 131.7 6 22.2 3 10.1 3 9.1 3 8.3 3 7.6 6 13.6 9 19 6 13.2 6 15 3 8.7 3 9.4 6 20.6 21 79.1 6 20.3 3 9.2 3 8.4 3 7.4 6 12.9 6 12.2 6 11.6 6 11 6 10.2 9 13.8 6 8.2 3 3.7 6 6.8 3 3.1 3 2.8 6 5 6 4.7 6 4.4 9 5.8 6 3.1 3 1.4 6 2.1 3 0.8 9 1.7 6 1 6 0.7 9 0.3 6-0.2 6-0.7 6-0.9 6-1.3 12-3.2 12-3.8 21-6.9 6-2.3 6-2.6 9-4.5 12-6.8 12-7.5 24-15.5 15-8.9 9-4.8 6-2.8 6-2.6 6-2.1 30-9 24-6.8 21-5.4 21-4.6 18-3.3 18-2.4 9-0.9 9-0.6 15-0.5M212 4l33 132.2 6 22.4 3 10.1 3 9.1 3 8.3 3 7.5 6 13.7 9 18.9 6 13.2 6 15.1 3 8.6 3 9.4 6 20.7 21 79.2 6 20.4 3 9.2 3 8.4 3 7.5 6 12.9 6 12.3 6 11.7 6 11 6 10.3 9 13.9 6 8.2 3 3.8 6 6.8 3 3.1 3 2.8 6 4.9 6 4.8 6 4.3 9 5.8 6 3.1 3 1.3 6 2.1 3 0.8 9 1.7 6 1 6 0.6 9 0.4 6-0.3 6-0.6 6-1 6-1.3 12-3.2 12-3.8 21-7.1 6-2.2 6-2.7 9-4.5 12-6.9 12-7.5 24-15.5 15-9.1 9-4.8 6-2.8 6-2.6 6-2.1 30-9 24-6.9 21-5.4 21-4.6 18-3.3 18-2.5 9-0.9 9-0.6 15-0.4M212 1.8l33 132.7 6 22.5 3 10.1 3 9.2 3 8.3 3 7.5 6 13.7 9 18.8 6 13.2 6 15.1 3 8.6 3 9.4 6 20.7 21 79.4 6 20.5 3 9.3 3 8.4 3 7.4 3 6.6 6 12.7 6 12.1 6 11.4 6 10.7 9 14.6 6 8.7 3 4 6 7.4 3 3.3 3 3 6 5.4 12 9.3 9 6.1 6 3.4 3 1.4 6 2.5 3 0.9 9 2 12 1.8 6 0.5 6 0.2 6-0.3 6-0.6 6-1 6-1.3 12-3.3 12-3.9 21-7.1 6-2.3 6-2.6 9-4.6 12-6.9 12-7.6 24-15.6 15-9.1 9-4.8 6-2.9 6-2.5 6-2.2 30-9.1 24-6.8 21-5.5 21-4.7 18-3.2 18-2.5 9-0.9 9-0.6 15-0.5M212 -0.4l33 133.3 6 22.5 3 10.2 3 9.2 3 8.3 3 7.5 6 13.7 9 18.8 6 13.2 6 15 3 8.6 3 9.4 6 20.8 21 79.6 6 20.5 3 9.3 3 8.4 3 7.5 3 6.7 6 12.7 6 12.1 6 11.5 6 10.8 9 14.7 6 8.7 3 4.1 6 7.3 3 3.4 3 3 6 5.3 12 9.3 9 6 6 3.4 3 1.5 6 2.4 3 1 9 1.9 12 1.8 6 0.5 6 0.2 6-0.3 6-0.7 6-1 6-1.3 12-3.3 12-3.9 21-7.2 6-2.3 6-2.7 9-4.6 12-7 12-7.6 24-15.7 15-9.1 9-4.9 6-2.9 6-2.5 6-2.2 30-9.1 24-6.9 21-5.5 21-4.7 18-3.3 18-2.5 9-0.8 9-0.7 15-0.4M212 -2.6l33 133.8 6 22.7 3 10.2 3 9.2 3 8.3 3 7.6 6 13.6 9 18.7 6 13.2 6 15 3 8.6 3 9.5 6 20.8 21 79.7 6 20.6 3 9.3 3 8.5 3 7.5 3 6.7 6 12.8 6 12.2 6 11.5 6 10.9 9 14.8 6 8.8 3 4 6 7.4 3 3.3 3 3.1 6 5.3 12 9.2 9 6 6 3.4 3 1.4 6 2.4 3 1 9 1.9 12 1.8 6 0.5 6 0.2 6-0.3 6-0.7 6-1 6-1.3 12-3.4 12-3.9 21-7.3 6-2.4 6-2.7 9-4.6 12-7 9-5.7 27-17.8 15-9.1 9-4.9 6-2.9 6-2.6 6-2.2 30-9.1 24-7 21-5.4 21-4.8 18-3.3 18-2.5 9-0.9 9-0.6 15-0.4"/>
<path d="M168 0l11.7 42.7 17.1 53.7 8.2 22.7 19.3 48.8 6.7 18.9 4.4 15.5 7.7 31.4 4.6 15.3 6.1 14.9 34.5 72.8 6.3 14.8 6.7 18.9 12.3 38.4 13.9 46.9 6.8 18.8 4.8 10.7 3.7 6.9 6.6 10.1 7.5 9.8 10.6 12.3 11.2 11.5 9.2 8.1 9.6 7.4 17 10.9 7.3 3.8 7.4 2.8 15.5 3.9 12.1 2.3 12 1 7.8-0.6 7.8-1.9 7.7-2.8 29.8-13.1 21.3-11.4 30.7-19.4 18-8.9 30-11.8 42.2-13.5 22.3-9.3 15.6-3.7 16-2.6 12-1.3 32.1-1.9 16.1-1.4 23.9-3 27.9-4.4 0-475-662 0z" fill="#cbcbce" filter="url(#bl5)"/>
<path d="M268.7 0l171.2 409.9 2.1 3.4 5.2 6.3 5.8 5.6 3.3 2.6 3.4 2 7.6 2.9 7.9 1.3 4.1 0.3 4-0.2 8-1.4 3.9-0.8 7.7-2.6 7.5-3.2 7.2-3.6 17.1-10.7 9.7-7.3 12.5-10.3 15.1-13.5 35.4-33.2 20.9-19.1 24.4-21.2 15.9-12.6 22.8-16.7 19.9-13.8 118.7-77.1 0-187z" fill="#5fbbe5"/>
<path d="M690.8 4l2.2 6.8 9.6 0.1-4.8-6.3-2-0.6zM683.9 4l1.6 3 4.1 10.2 9.5 0.1-4.7-6.3-4-4-1.6-3zM676.9 4l1.3 2.4 3.7 7 4.1 10.1 9.5 0.2-4.8-6.3-3.9-4-4-7-1.3-2.4zM669.8 4l1 1.7 3.7 7 3.8 7 4 10.2 9.5 0.1-4.8-6.2-3.9-4.1-4-7-3.9-7-0.9-1.7zM662.9 4l0.5 1 3.8 7 3.8 7 3.8 7 4 10.2 9.5 0.2-4.8-6.3-4-4.1-4-7-3.9-7-3.9-7-0.6-1zM656.2 4l0.2 0.3 3.8 7 3.7 7 3.8 7 3.7 7 4.1 10.2 9.4 0.1-4.8-6.2-4-4.1-3.9-7-4-7-3.9-7-3.9-7-0.2-0.3zM649.8 4l3.6 6.6 3.8 7 3.7 7 3.8 7 3.7 7 4 10.1 9.5 0.2-4.9-6.2-4-4.1-3.9-7-4-7-3.9-7-3.9-7-3.7-6.6zM643.6 4l3.2 5.8 3.8 7 3.7 7 3.8 7 3.7 7 3.8 7 4 10.1 9.4 0.3-4.8-6.2-4-4.2-4-7-4-7-3.9-7-4-7-3.9-7-3.2-5.8zM637.5 4l0.8 1.5 1.9 3.5 3.8 7 3.8 7 3.8 7 3.7 7.1 3.8 7 3.7 7 4 10.1 9.4 0.2-4.8-6.2-4-4.1-4-7-4-7-4-7.1-3.9-7-3.9-7-3.9-7-2-3.5-0.8-1.5zM631.4 4l4.2 7.7 1.9 3.5 3.8 7 3.8 7 3.8 7 3.7 7 3.7 7.1 3.8 7 3.9 10 9.4 0.3-4.8-6.2-4-4.1-4-7-4-7.1-4-7-3.9-7-3.9-7-3.9-7-2-3.5-4.3-7.7zM625.3 4l7.5 13.9 1.9 3.5 3.8 7 3.8 7 3.7 7 3.8 7 3.7 7 3.7 7 4 10.1 9.4 0.3-4.9-6.2-4-4.2-4-7-4-7-4-7-3.9-7-3.9-7-4-7-1.9-3.5-7.7-13.9zM619 4l1.3 2.5 9.6 17.5 1.9 3.5 3.8 7 3.7 7 3.8 7.1 3.7 7 3.8 7 3.7 7 3.9 10 9.4 0.3-4.9-6.1-4-4.2-4-7-4-7-4-7-3.9-7.1-4-7-3.9-7-1.9-3.5-9.8-17.5-1.4-2.5zM612.7 4l4.7 8.6 9.5 17.5 1.9 3.5 3.8 7 3.7 7.1 3.8 7 3.7 7 3.8 7 3.7 7 3.9 10 9.4 0.3-4.9-6.1-4.1-4.2-4-7-4-7-3.9-7-4-7-3.9-7.1-4-7-1.9-3.5-9.8-17.5-4.7-8.6zM606.3 4l8 14.7 9.6 17.5 1.9 3.5 3.7 7 3.8 7 3.8 7 3.7 7.1 3.7 7 3.7 7 4 10 9.3 0.3-4.9-6.1-4.1-4.2-4-7-4-7-3.9-7.1-4-7-3.9-7-4-7-1.9-3.5-9.8-17.5-8.1-14.7zM600 4l1.8 3.2 9.5 17.5 9.5 17.6 1.9 3.5 3.8 7 3.8 7 3.7 7 3.8 7 3.7 7 3.7 7 3.9 10 9.3 0.3-4.9-6-4.1-4.3-4-7-4-7-3.9-7-4-7-3.9-7-4-7-1.9-3.5-9.8-17.6-9.7-17.5-1.8-3.2zM593.7 4l5.1 9.2 9.5 17.6 9.5 17.5 1.9 3.5 3.8 7 3.8 7 3.7 7 3.8 7 3.7 7 3.7 7 3.9 10 9.3 0.4-5-6.1-4-4.3-4-7-4-7-4-7-4-7-3.9-7-3.9-7-2-3.5-9.8-17.5-9.7-17.6-5.1-9.2zM587.5 4l8.3 15.2 9.6 17.5 9.5 17.5 1.9 3.6 3.8 7 3.7 7 3.8 7 3.7 7 3.7 7 3.7 7 4 9.9 9.2 0.4-5-6-4-4.3-4-7-4.1-7-3.9-7-4-7-3.9-7-4-7-1.9-3.6-9.8-17.5-9.7-17.5-8.4-15.2zM581.3 4l2 3.6 9.6 17.5 9.6 17.6 9.5 17.5 1.9 3.5 3.7 7 3.8 7 3.8 7 3.7 7 3.7 7 3.7 7 3.9 9.9 9.3 0.5-5.1-6-4-4.4-4-7-4-7-4-7-4-7-3.9-7-4-7-1.9-3.5-9.8-17.5-9.7-17.6-9.7-17.5-2-3.6zM575.2 4l5.2 9.5 9.6 17.5 9.5 17.5 9.6 17.6 1.8 3.5 3.8 7 3.8 7 3.7 7 3.8 7 3.7 7 3.7 7 3.9 9.9 9.2 0.4-5-5.9-4.1-4.4-4-7-4-7-4-7-4-7-3.9-7-3.9-7-2-3.5-9.8-17.6-9.7-17.5-9.7-17.5-5.2-9.5zM569.1 4l8.4 15.3 9.6 17.5 9.6 17.6 9.5 17.5 1.9 3.5 3.7 7 3.8 7 3.8 7 3.7 7 3.7 7 3.7 7 3.9 9.9 9.2 0.5-5.1-6-4-4.4-4.1-7-4-7-3.9-7-4-7-3.9-7-4-7-1.9-3.5-9.8-17.5-9.7-17.6-9.7-17.5-8.5-15.3zM563.1 4l2 3.6 9.6 17.5 9.6 17.5 9.5 17.5 9.5 17.6 1.9 3.5 3.8 7 3.8 7 3.7 7 3.7 7 3.7 7 3.7 7 4 9.8 9.1 0.5-5.1-5.8-4-4.5-4.1-7-4-7-4-7-3.9-7-4-7-3.9-7-2-3.5-9.7-17.6-9.7-17.5-9.7-17.5-9.7-17.5-2-3.6zM557.2 4l5.1 9.3 9.6 17.5 9.5 17.5 9.6 17.5 9.5 17.6 1.9 3.5 3.8 7 3.8 7 3.7 7 3.7 7 3.7 7 3.7 7 4 9.8 9.1 0.6-5.2-5.9-4-4.5-4.1-7-4-7-3.9-7-4-7-3.9-7-4-7-1.9-3.5-9.8-17.6-9.7-17.5-9.7-17.5-9.7-17.5-5.1-9.3zM551.3 4l8.2 14.9 9.6 17.5 9.6 17.6 9.5 17.5 9.6 17.5 1.9 3.5 3.7 7 3.8 7 3.7 7.1 3.8 7 3.7 7 3.7 7 3.9 9.7 9.1 0.6-5.2-5.8-4-4.5-4.1-7-4-7-4-7-3.9-7.1-4-7-3.9-7-2-3.5-9.7-17.5-9.7-17.5-9.7-17.6-9.7-17.5-8.2-14.9zM545.5 4l1.7 3 9.6 17.5 9.6 17.5 9.6 17.6 9.5 17.5 9.5 17.5 1.9 3.5 3.8 7 3.8 7 3.7 7 3.8 7 3.7 7.1 3.6 7 4 9.6 9 0.7-5.2-5.8-4-4.5-4.1-7-4-7.1-4-7-3.9-7-4-7-3.9-7-1.9-3.5-9.8-17.5-9.7-17.5-9.7-17.6-9.7-17.5-9.7-17.5-1.6-3zM539.8 4l4.7 8.5 9.6 17.5 9.6 17.6 9.6 17.5 9.5 17.5 9.5 17.5 1.9 3.5 3.8 7 3.8 7 3.7 7.1 3.7 7 3.8 7 3.6 7 4 9.6 9 0.7-5.3-5.7-4-4.6-4.1-7-4-7-3.9-7-4-7.1-3.9-7-4-7-1.9-3.5-9.8-17.5-9.7-17.5-9.7-17.5-9.7-17.6-9.6-17.5-4.7-8.5zM534.1 4l7.6 14 9.6 17.5 9.6 17.5 9.6 17.5 9.6 17.6 9.5 17.5 1.9 3.5 3.8 7 3.7 7 3.8 7 3.7 7 3.7 7 3.7 7 3.9 9.6 9 0.8-5.3-5.7-4-4.7-4.1-7-4-7-3.9-7-4-7-3.9-7-4-7-1.9-3.5-9.8-17.5-9.7-17.6-9.7-17.5-9.7-17.5-9.6-17.5-7.7-14zM528.3 4l1 1.8 9.7 17.5 9.6 17.6 9.6 17.5 9.6 17.5 9.5 17.5 9.5 17.6 1.9 3.5 3.8 7 3.8 7 3.7 7 3.8 7 3.7 7 3.6 7 4 9.5 8.9 0.8-5.3-5.6-4.1-4.7-4-7-4-7-4-7-3.9-7-4-7-3.9-7-2-3.5-9.7-17.6-9.8-17.5-9.6-17.5-9.7-17.5-9.7-17.6-9.6-17.5-1-1.8zM522.6 4l3.9 7.1 9.7 17.5 9.6 17.6 9.6 17.5 9.6 17.5 9.5 17.5 9.5 17.6 1.9 3.5 3.8 7 3.8 7 3.7 7 3.8 7 3.7 7 3.6 7 4 9.5 8.9 0.8-5.4-5.5-4-4.8-4.1-7-4-7-4-7-3.9-7-4-7-3.9-7-1.9-3.5-9.8-17.6-9.7-17.5-9.7-17.5-9.7-17.5-9.7-17.6-9.6-17.5-3.9-7.1zM516.9 4l6.8 12.3 9.6 17.6 9.7 17.5 9.6 17.5 9.5 17.5 9.6 17.6 9.5 17.5 1.9 3.5 3.8 7 3.8 7 3.7 7 3.7 7 3.7 7 3.7 7.1 4 9.4 8.8 0.9-5.4-5.6-4-4.7-4.1-7.1-4-7-3.9-7-4-7-4-7-3.9-7-1.9-3.5-9.8-17.5-9.7-17.6-9.7-17.5-9.7-17.5-9.6-17.5-9.7-17.6-6.8-12.3zM511.3 4l9.6 17.5 9.6 17.5 9.6 17.6 9.7 17.5 9.5 17.5 9.6 17.5 9.5 17.5 1.9 3.6 3.8 7 3.8 7 3.7 7 3.7 7 3.7 7 3.7 7 4 9.4 8.8 0.9-5.5-5.5-4-4.8-4.1-7-4-7-3.9-7-4-7-3.9-7-4-7-1.9-3.6-9.8-17.5-9.7-17.5-9.7-17.5-9.7-17.5-9.6-17.6-9.7-17.5-9.6-17.5zM505.7 4l2.8 5.1 9.6 17.5 9.7 17.5 9.6 17.5 9.6 17.6 9.6 17.5 9.5 17.5 9.5 17.5 1.9 3.5 3.8 7 3.8 7.1 3.7 7 3.8 7 3.7 7 3.7 7 3.9 9.3 8.8 1-5.5-5.4-4.1-4.9-4-7-4-7-4-7-3.9-7-4-7.1-3.9-7-2-3.5-9.7-17.5-9.8-17.5-9.6-17.5-9.7-17.6-9.7-17.5-9.6-17.5-9.7-17.5-2.8-5.1zM500.3 4l5.5 10.1 9.6 17.5 9.7 17.5 9.6 17.5 9.6 17.6 9.6 17.5 9.5 17.5 9.5 17.5 1.9 3.5 3.8 7 3.8 7.1 3.7 7 3.8 7 3.7 7 3.7 7 3.9 9.3 8.7 1-5.5-5.4-4.1-4.9-4-7-4-7-4-7-3.9-7-4-7.1-3.9-7-2-3.5-9.7-17.5-9.7-17.5-9.7-17.5-9.7-17.6-9.7-17.5-9.6-17.5-9.7-17.5-5.5-10.1zM494.9 4l8.2 15 9.7 17.5 9.6 17.5 9.6 17.6 9.6 17.5 9.6 17.5 9.6 17.5 9.5 17.5 1.9 3.6 3.8 7 3.7 7 3.8 7 3.7 7 3.7 7 3.7 7 4 9.2 8.7 1.1-5.6-5.3-4.1-5-4-7-4-7-4-7-3.9-7-4-7-3.9-7-2-3.6-9.7-17.5-9.8-17.5-9.6-17.5-9.7-17.5-9.7-17.6-9.6-17.5-9.7-17.5-8.2-15zM489.7 4l10.8 19.8 9.7 17.5 9.6 17.6 9.6 17.5 9.6 17.5 9.6 17.5 9.6 17.6 9.5 17.5 1.9 3.5 3.8 7 3.7 7 3.8 7 3.7 7 3.7 7 3.7 7.1 4 9.1 8.6 1.2-5.6-5.3-4.1-5-4-7.1-4-7-4-7-3.9-7-4-7-3.9-7-2-3.5-9.7-17.5-9.7-17.6-9.7-17.5-9.7-17.5-9.7-17.5-9.6-17.6-9.7-17.5-10.9-19.8zM484.5 4l13.5 24.6 9.6 17.5 9.6 17.5 9.7 17.6 9.6 17.5 9.6 17.5 9.5 17.5 9.5 17.5 1.9 3.6 3.8 7 3.8 7 3.7 7 3.8 7 3.7 7 3.7 7 3.9 9.1 8.6 1.2-5.6-5.2-4.1-5.1-4-7-4-7-4-7-4-7-3.9-7-3.9-7-2-3.6-9.8-17.5-9.7-17.5-9.7-17.5-9.6-17.5-9.7-17.6-9.6-17.5-9.7-17.5-13.5-24.6zM479.4 4l16.1 29.2 9.6 17.6 9.6 17.5 9.7 17.5 9.6 17.5 9.6 17.6 9.5 17.5 9.5 17.5 1.9 3.5 3.8 7 3.8 7 3.7 7 3.8 7.1 3.7 7 3.7 7 3.9 9 8.6 1.3-5.7-5.2-4.1-5.1-4-7-4-7-4-7.1-4-7-3.9-7-3.9-7-2-3.5-9.7-17.5-9.8-17.5-9.6-17.6-9.7-17.5-9.7-17.5-9.6-17.5-9.7-17.6-16.1-29.2zM474.5 4l18.5 33.8 9.7 17.5 9.6 17.6 9.6 17.5 9.6 17.5 9.6 17.5 9.6 17.5 9.5 17.6 1.9 3.5 3.8 7 3.8 7 3.7 7 3.8 7 3.7 7 3.6 7 4 9 8.5 1.4-5.8-5.1-4-5.3-4.1-7-4-7-3.9-7-4-7-3.9-7-4-7-1.9-3.5-9.8-17.6-9.7-17.5-9.7-17.5-9.6-17.5-9.7-17.5-9.6-17.6-9.7-17.5-18.6-33.8zM469.6 4l21 38.3 9.7 17.5 9.6 17.5 9.6 17.5 9.6 17.5 9.6 17.6 9.6 17.5 9.5 17.5 1.9 3.5 3.8 7 3.8 7 3.7 7.1 3.8 7 3.7 7 3.7 7 3.9 8.9 8.5 1.4-5.9-5-4-5.3-4.1-7-4-7-3.9-7-4-7.1-3.9-7-3.9-7-2-3.5-9.7-17.5-9.8-17.5-9.6-17.6-9.7-17.5-9.7-17.5-9.6-17.5-9.7-17.5-21-38.3zM464.9 4l23.4 42.6 9.7 17.5 9.6 17.5 9.6 17.6 9.6 17.5 9.6 17.5 9.6 17.5 9.5 17.6 1.9 3.5 3.8 7 3.8 7 3.7 7 3.8 7 3.7 7 3.7 7 3.9 8.9 8.4 1.4-5.9-4.9-4.1-5.4-4-7-4-7-3.9-7-4-7-3.9-7-4-7-1.9-3.5-9.8-17.6-9.7-17.5-9.6-17.5-9.7-17.5-9.7-17.6-9.6-17.5-9.7-17.5-23.4-42.6zM460.3 4l25.8 46.8 9.6 17.5 9.6 17.6 9.6 17.5 9.7 17.5 9.6 17.5 9.5 17.6 9.6 17.5 1.9 3.5 3.7 7 3.8 7 3.8 7 3.7 7 3.7 7 3.7 7 4 8.8 8.3 1.6-6-4.9-4-5.5-4-7-4-7-4-7-4-7-3.9-7-3.9-7-2-3.5-9.7-17.5-9.7-17.6-9.7-17.5-9.7-17.5-9.6-17.5-9.7-17.6-9.6-17.5-25.7-46.8zM455.9 4l28 50.9 9.6 17.5 9.6 17.6 9.6 17.5 9.7 17.5 9.6 17.5 9.5 17.6 9.6 17.5 1.9 3.5 3.8 7 3.7 7 3.8 7 3.7 7 3.8 7 3.6 7 4 8.8 8.3 1.6-6.1-4.8-4-5.6-4-7-4-7-4-7-3.9-7-4-7-3.9-7-1.9-3.5-9.8-17.5-9.7-17.6-9.7-17.5-9.6-17.5-9.7-17.5-9.6-17.6-9.7-17.5-28-50.9zM451.5 4l1.3 2.3 28.9 52.6 9.6 17.5 9.7 17.6 9.6 17.5 9.6 17.5 9.6 17.5 9.6 17.6 9.5 17.5 1.9 3.5 3.8 7 3.8 7 3.8 7 3.7 7 3.7 7 3.7 7 4 8.7 8.2 1.7-6.1-4.8-4-5.6-4.1-7-4-7-3.9-7-4-7-3.9-7-3.9-7-2-3.5-9.7-17.5-9.7-17.6-9.7-17.5-9.6-17.5-9.7-17.5-9.6-17.6-9.7-17.5-28.9-52.6-1.3-2.3zM447.3 4l3.4 6.2 28.9 52.6 9.7 17.5 9.6 17.5 9.6 17.6 9.6 17.5 9.6 17.5 9.6 17.5 9.6 17.6 1.9 3.5 3.7 7 3.8 7 3.8 7 3.7 7 3.8 7 3.6 7 4 8.6 8.2 1.8-6.2-4.7-4-5.7-4-7-4-7-4-7-3.9-7-4-7-3.9-7-1.9-3.5-9.8-17.6-9.7-17.5-9.6-17.5-9.7-17.5-9.7-17.6-9.6-17.5-9.7-17.5-28.9-52.6-3.4-6.2zM448.7 14l28.9 52.6 9.6 17.5 9.7 17.5 9.6 17.6 9.6 17.5 9.6 17.5 9.6 17.5 9.5 17.6 1.9 3.5 3.8 7 3.8 7 3.8 7 3.7 7 3.7 7 3.7 7 4 8.6 8.1 1.7-6.2-4.6-4-5.7-4.1-7-3.9-7-4-7-4-7-3.9-7-3.9-7-2-3.5-9.7-17.6-9.7-17.5-9.7-17.5-9.6-17.5-9.7-17.6-9.6-17.5-9.7-17.5-28.9-52.6zM504.5 122.9l9.6 17.5 9.6 17.5 9.6 17.5 9.5 17.6 1.9 3.5 3.8 7 3.8 7 3.8 7 3.7 7 3.8 7 3.7 7 3.9 8.5 8.1 1.9-6.2-4.6-4.1-5.8-4-7-4-7-4-7-3.9-7-3.9-7-4-7-1.9-3.5-9.7-17.6-9.7-17.5-9.7-17.5-9.7-17.5zM512.2 144l9.6 17.5 9.6 17.6 9.5 17.5 1.9 3.5 3.8 7 3.8 7 3.8 7 3.7 7 3.7 7 3.7 7.1 4 8.4 8 1.9-6.2-4.6-4.1-5.7-4-7.1-4-7-4-7-3.9-7-3.9-7-4-7-1.9-3.5-9.7-17.5-9.7-17.6-9.7-17.5zM510.3 147.6l9.6 17.5 9.6 17.5 9.5 17.5 1.9 3.5 3.8 7.1 3.8 7 3.8 7 3.7 7 3.8 7 3.7 7 3.9 8.4 8 1.9-6.3-4.5-4-5.8-4.1-7-3.9-7-4-7-4-7-3.9-7-3.9-7.1-1.9-3.5-9.8-17.5-9.6-17.5-9.7-17.5zM518.1 168.6l9.5 17.5 9.6 17.5 1.9 3.5 3.8 7 3.8 7 3.8 7.1 3.7 7 3.7 7 3.7 7 4 8.3 7.9 2-6.3-4.4-4-5.9-4.1-7-3.9-7-4-7-3.9-7.1-4-7-3.9-7-1.9-3.5-9.7-17.5-9.7-17.5zM516.2 172l9.6 17.5 9.6 17.5 1.9 3.5 3.8 7 3.8 7.1 3.8 7 3.7 7 3.7 7 3.7 7 4 8.3 7.9 2-6.4-4.4-4-5.9-4-7-4-7-4-7-3.9-7-3.9-7.1-3.9-7-2-3.5-9.7-17.5-9.7-17.5zM524 192.8l9.6 17.6 1.9 3.5 3.8 7 3.8 7 3.8 7 3.7 7 3.7 7 3.7 7 4 8.3 7.9 2.1-6.4-4.4-4.1-6-4-7-4-7-3.9-7-4-7-3.9-7-3.9-7-1.9-3.5-9.8-17.6zM522.2 196.1l9.6 17.5 1.9 3.6 3.8 7 3.8 7 3.8 7 3.7 7 3.8 7 3.7 7 3.9 8.2 7.9 2.1-6.4-4.3-4.1-6-4-7-4-7-3.9-7-4-7-3.9-7-3.9-7-1.9-3.6-9.8-17.5zM520.4 199.3l9.6 17.6 1.9 3.5 3.8 7 3.8 7 3.8 7 3.8 7 3.7 7 3.7 7 4 8.2 7.8 2.1-6.5-4.2-4-6.1-4-7-4-7-4-7-3.9-7-3.9-7-3.9-7-2-3.5-9.7-17.6zM518.7 202.5l9.6 17.5 1.9 3.5 3.8 7 3.8 7 3.7 7 3.8 7.1 3.7 7 3.7 7 4 8.1 7.8 2.2-6.5-4.3-4-6-4.1-7-3.9-7-4-7.1-3.9-7-3.9-7-3.9-7-2-3.5-9.6-17.5zM526.5 223.1l1.9 3.5 3.8 7 3.8 7 3.8 7 3.7 7 3.8 7.1 3.7 7 3.9 8.1 7.8 2.2-6.5-4.2-4.1-6.1-4-7-4-7.1-3.9-7-3.9-7-3.9-7-3.9-7-2-3.5zM526.6 229.6l3.8 7.1 3.8 7 3.8 7 3.8 7 3.7 7 3.7 7 4 8.1 7.7 2.2-6.6-4.1-4-6.2-4-7-4-7-3.9-7-4-7-3.9-7-3.9-7.1zM524.8 232.6l3.8 7 3.8 7.1 3.8 7 3.8 7 3.7 7 3.7 7 4 8 7.7 2.3-6.6-4.1-4-6.2-4-7-4-7-3.9-7-4-7-3.9-7.1-3.9-7zM523 235.6l3.9 7 3.8 7 3.8 7 3.7 7 3.8 7 3.7 7 3.9 8 7.7 2.4-6.6-4.2-4-6.2-4-7-4-7-3.9-7-4-7-3.9-7-3.9-7zM525.1 245.5l3.8 7 3.8 7 3.8 7 3.7 7 3.7 7 4 8 7.7 2.3-6.7-4-4-6.3-4-7-4-7-3.9-7-3.9-7-4-7zM523.4 248.3l3.8 7 3.8 7 3.8 7 3.7 7.1 3.7 7 4 7.9 7.6 2.4-6.6-4.1-4.1-6.2-4-7-3.9-7.1-4-7-3.9-7-3.9-7zM521.7 251.1l3.8 7 3.8 7 3.8 7.1 3.7 7 3.7 7 4 7.9 7.6 2.4-6.6-4-4.1-6.3-4-7-4-7-3.9-7.1-3.9-7-3.9-7zM523.9 260.9l3.8 7 3.7 7 3.8 7 3.7 7 4 8 7.5 2.4-6.6-4.1-4.1-6.3-4-7-3.9-7-4-7-3.9-7zM522.3 263.6l3.7 7 3.8 7 3.8 7.1 3.7 7 3.9 7.9 7.6 2.4-6.7-4-4-6.3-4-7-4-7.1-3.9-7-3.9-7zM520.7 266.3l3.8 7 3.7 7 3.8 7.1 3.7 7 4 7.8 7.5 2.5-6.7-4-4-6.3-4-7-4-7.1-3.9-7-3.9-7zM519.1 269l3.8 7 3.8 7 3.7 7 3.7 7 4 7.9 7.5 2.4-6.7-3.9-4-6.4-4-7-4-7-3.9-7-3.9-7zM517.5 271.6l3.9 7 3.7 7 3.8 7.1 3.7 7 4 7.8 7.5 2.5-6.8-4-4-6.3-4-7-4-7.1-3.9-7-3.9-7zM519.8 281.2l3.8 7 3.8 7.1 3.7 7 3.9 7.8 7.5 2.5-6.7-3.9-4.1-6.4-3.9-7-4-7.1-4-7zM518.3 283.8l3.8 7 3.7 7 3.8 7 3.9 7.9 7.5 2.5-6.8-3.9-4-6.5-4-7-4-7-3.9-7zM516.8 286.4l3.8 7 3.7 7 3.7 7 4 7.8 7.5 2.5-6.8-3.9-4-6.4-4-7-4-7-3.9-7zM515.2 288.9l3.8 7 3.8 7 3.7 7 4 7.8 7.5 2.5-6.8-3.8-4.1-6.5-4-7-3.9-7-4-7zM513.7 291.4l3.8 7 3.8 7 3.7 7 3.9 7.8 7.5 2.6-6.8-3.9-4-6.5-4-7-4-7-3.9-7zM512.1 293.9l3.9 7 3.7 7 3.7 7 4 7.8 7.5 2.5-6.9-3.8-4-6.5-4-7-4-7-3.9-7zM514.4 303.4l3.8 7 3.7 7 3.9 7.7 7.5 2.6-6.8-3.8-4.1-6.5-4-7-4-7zM512.9 305.8l3.7 7 3.7 7 4 7.7 7.4 2.6-6.8-3.8-4.1-6.5-4-7-3.9-7zM511.3 308.2l3.8 7 3.7 7 3.9 7.7 7.4 2.7-6.8-3.9-4.1-6.5-4-7-3.9-7zM509.7 310.6l3.8 7 3.7 7 4 7.7 7.4 2.6-6.9-3.7-4-6.6-4-7-4-7zM508.1 313l3.8 7 3.7 7 4 7.7 7.4 2.6-6.9-3.8-4-6.5-4-7-4-7zM506.6 315.3l3.8 7 3.7 7.1 3.9 7.6 7.4 2.7-6.9-3.8-4-6.5-4-7.1-3.9-7zM505 317.7l3.8 7 3.7 7 3.9 7.6 7.4 2.7-6.9-3.7-4-6.6-4-7-3.9-7zM503.4 320l3.8 7 3.7 7 4 7.7 7.3 2.6-6.9-3.7-4-6.6-4-7-3.9-7zM501.8 322.3l3.8 7 3.7 7 4 7.6 7.3 2.7-6.9-3.7-4.1-6.6-3.9-7-3.9-7zM504 331.6l3.7 7 4 7.6 7.3 2.7-6.9-3.7-4.1-6.6-4-7zM502.4 333.8l3.7 7 4 7.6 7.3 2.7-6.9-3.7-4.1-6.6-4-7zM500.8 336l3.7 7.1 4 7.5 7.3 2.8-7-3.7-4-6.6-4-7.1zM499.2 338.2l3.7 7.1 3.9 7.5 7.3 2.8-6.9-3.7-4.1-6.6-3.9-7.1zM497.5 340.4l3.8 7 3.9 7.6 7.3 2.8-7-3.7-4-6.7-4-7zM495.9 342.6l3.7 7 4 7.6 7.3 2.7-7-3.6-4.1-6.7-3.9-7zM494.2 344.7l3.8 7.1 4 7.5 7.2 2.8-7-3.7-4-6.6-4-7.1zM492.6 346.9l3.8 7 3.9 7.5 7.3 2.8-7-3.6-4.1-6.7-3.9-7zM491 349l3.7 7 4 7.5 7.3 2.8-7.1-3.6-4-6.7-3.9-7zM489.3 351l3.8 7.1 4 7.5 7.2 2.8-7-3.6-4.1-6.7-3.9-7.1zM487.6 353.1l3.8 7 4 7.5 7.2 2.8-7-3.5-4.1-6.8-3.9-7zM486 355.1l3.8 7.1 3.9 7.4 7.2 2.9-7-3.6-4.1-6.7-3.8-7.1zM484.3 357.2l3.8 7 3.9 7.4 7.3 2.9-7.1-3.6-4.1-6.7-3.8-7zM486.4 366.2l4 7.4 7.2 2.9-7.1-3.6-4.1-6.7zM484.8 368.2l3.9 7.4 7.2 2.9-7.1-3.6-4-6.7zM483.1 370.1l4 7.4 7.1 2.9-7.1-3.5-4-6.8zM481.5 372.1l3.9 7.4 7.2 2.9-7.1-3.5-4-6.8zM479.9 374l4 7.4 7.1 2.9-7.1-3.5-4-6.8zM478.3 375.9l4 7.4 7.2 2.9-7.2-3.5-4-6.8zM476.8 377.8l4 7.3 7.1 3-7.1-3.5-4-6.8zM475.3 379.6l4 7.4 7.1 2.9-7.1-3.4-4-6.9zM473.7 381.5l4.1 7.3 7.1 3-7.2-3.5-4-6.8zM472.2 383.3l4 7.4 7.1 2.9-7.1-3.4-4-6.9zM470.7 385.1l4 7.4 7.1 2.9-7.2-3.4-3.9-6.9zM469.1 386.9l4 7.4 7.1 2.9-7.1-3.4-4-6.9z" fill="#fff"/>
<path d="M256.6 220l37.1 75.8 8.1 16.1 8.4 16 8.6 15.9 7.3 13.2 4.6 7.8 7.9 12.8 4.5 7.8 8.6 15.9 9.8 18.8 3.1 5.2 3.3 4.9 3.6 4.8 3.9 4.6 4.1 4.5 6.4 6.5 13.4 12.1 4.7 3.9 4.9 3.6 5 3.3 5.3 2.7 5.4 2.6 5.7 2.3 8.6 2.8 11.8 2.8 3 0.4 3 0.2 6-0.1 9-0.3 6-0.8 8.9-2 8.6-2.6 5.5-2.1 8.1-4.1 7.8-4.7 7.7-5.2 9.8-6.9 7-5.5 6.9-5.9 8.9-8.2 11-10.4 8.5-8.6 4.4-4.1 9.3-7.7 9.8-7 10.3-6.2 18.6-10 10.8-5.3 19.5-8.1 8.2-3.7 5.3-2.8 15.7-9.1 18.8-9.7 5.4-2.5 5.6-2.2 8.5-3.1 8.5-2.8 49.1-15 31.8-9.3" fill="none" stroke="#4caf50" stroke-width="1.2" stroke-linejoin="round"/>
<path d="M256.6 220l8.9 25.9 5.3 14.2 4.5 11.3 16.6 39.1 18.2 41.8 18.6 44.9 3.9 8.2 11.3 21.5 16 32.7 5.9 10.7 6.2 10.4" fill="none" stroke="#4caf50" stroke-width="1.2" stroke-linejoin="round"/>
<path d="M581 516.9l14.4-5.5 14.5-5.2 11.6-3.7 17.7-5.3 11.7-3.9 17.3-6.3 17.1-7.2 5.8-1.8 6-1.5 12.1-2.4 12.1-1.6 12.3-1 24.6-1.3 12.2-1.2 45.6-7" fill="none" stroke="#4caf50" stroke-width="1.2" stroke-linejoin="round"/>
<path d="M256.6 220l9.5 22.3 10 22.1 5.4 10.8 13.8 27 6.5 13.7 5.9 13.9 12.6 30.9 7.4 16.6 2.7 5.4 7.4 13.2 2.8 5.3 8.7 19.5 4 8.1 4.5 7.8 6.7 10.1 7.3 9.8 9.5 11.8 7.8 9.4 6.1 6.8 6.4 6.4 4.5 3.9 7.1 5.8 5 3.6 5.2 3.2 5.3 2.7 8.4 3.4 5.9 2 2.9 0.8 3 0.7 5.9 0.6 9.1 0.6 6.1 0.1" fill="none" stroke="#3a3a3c" stroke-width="1.2" stroke-linejoin="round"/>
<path d="M129 12l0.4 2 1 1.8 0.4 2 2.3 7.8 2 7.9 0.9 1.9 0.2 2.1 1.5 1.6-0.2 2.2 2.8 7.6 0.4 4.2 1.4 1.7 0.4 2 1.2 3.9 1.2 1.7 1.6 3.8-0.1 2.1 1.2 1.7 0.9 4.1 1 1.8 0.6 1.9 1.1 1.8 0.4 2 0.6 1.9 1.2 1.7 0.3 2.1 0.5 2 0.9 1.8 1.2 1.8 0.2 2.1 1.1 1.7 0.9 4 1 1.8 0.7 1.9 1 1.8 0.7 4.1 0.9 1.8 1.1 3.9 1 1.9 0.2 2 1 1.9 0.9 4 1 1.8 0.8 4 1.7 3.7 0.3 2 1.3 3.9 0.3 2 0.9 1.9 0.1 2.1 1.5 1.6 0.6 2 0.2 2 1.7 3.8 0.1 2.1 1.2 1.7 0.2 2.1 1.2 3.9 0.8 1.9 0.5 1.9 1.8 3.7 0 2.2 0.9 1.8 0.3 2.1 1.5 3.7 1 1.9-0.3 2.2 1.4 1.7 0.5 1.9 1.6 3.8 0.2 2.1 0.9 1.8 1.5 1.6-0.1 2.2 0.9 1.9 1 3.9 1.1 1.8 0.3 2.1 0.8 1.8 1.3 1.7 0.1 2.1 1 1.9 0.5 1.9 1.4 1.7 0.8 1.8 0 2.3 2.6 3.2 0.6 2 2 0.7-0.7 2.1 1.1 1.1 0.8 1.3 2.1 2.2-0.5 2.2 2 0.5 1 1.2 0 1.9 1.2 1 1.9 0.3 0.2 1.9 2.6-0.3-1 3.1 0.9 1.2 1.9 0.3 0.5 1.8 2.6-0.8 0.4 1.9 2.9-1.5-0.3 3.1 1.9 0 1.2 0.9 0.5 2 1.9 0 1.4 0.5 1.7 0.3 0.5 2 1.1 1.2 1.7 0.1 0.5 2 1.6 0.4 1.2 0.9 1.7 0.2 0.3 2.3 1.7 0.3 1.9-0.2 0.4 2.2 0.7 1.6 2.1-0.3-0.3 3 3.1-1.6 0.8 1.5 1.4 0.6 1.2 0.9 0.6 1.8 1.7 0.3-0.5 3.3 2.9-1.4 2.1 0 0.6 1.6 0.1 2.1 2 0.2 1.8 0.4 1.2 1 0.6 1.5-1.3 2.8 0.9 1.2 2.5 2.1 0.3 1.6 1.4 1 0.5 2 1.4 1.6 0.8 4 0.9 1.8 1.8 1.4 1.1 1.7 0.6 2 0.4 2 1.3 1.6 0.4 2.1 0.6 1.9 1.3 1.6 0.1 2.2 1.2 1.7 1.6 1.4 0.2 2.2 1.3 1.6 0.7 1.9 1 1.7 0.1 2.2 1.5 1.6 1.3 1.6 1 4 1.4 1.5 1.9 3.6 0 2.2 0.9 1.9 1.2 1.6 0.7 1.9 0.9 1.8 1.5 1.5 1.9 1.3-0.4 2.5 3.2 5.1 1.5 3.8 1.5 1.5 1.3 3.9 0.3 2 2.6 3.3 1.7 3.6 1.2 1.7 0.9 1.8 0.5 2 1.4 1.5 0.4 2.1 1.1 1.7 0 2.2 1.1 1.7 1.6 3.7 1.1 1.7 0.4 2.1 1.1 1.7 0.4 2 1.2 1.7 0.7 1.9 1.3 1.6 0.7 1.9 0 2.2 1.9 1.3 0.1 2.2 1.3 1.6 0.9 1.8 1.3 1.6 0.9 1.8 1.7 1.4 1 1.7 1.3 1.6 0.7 1.9 2.2 3.4 0.6 2 1.5 1.5 0.2 2.2 1.2 1.7 1.5 1.4 0.9 1.8 1.7 1.3 0.4 2.2 2.5 3.1 1.5 1.4 0.8 2 2.6 3.1 0.9 1.8 3 2.8 1 1.8 1.7 1.3 1.2 1.6 0.6 2 2.1 3.5 2.9 2.9 1.8 1.2 1.5 3.9 2.9 2.8 1.3 1.6 1.9 1.1 0.9 1.8 1.3 1.5 0.4 2.3 1.5 1.3 1.8 1.2 0.9 1.9 2.3 0.8 1.1 4.3 4.2 4.5 0.8 1.9 0.4 2.3 2.4 0.6 1.7 1.2 2.6 3 0.5 2.3 1.8 1 0.8 2 2.5 0.3 1.4 1.4 1.2 1.8 1.4 1.5 2.1 0.7 1.8 0.9 0.6 2.7 2.5 0 1.4 1.6 2.1 0.4 1.4 1.6 1.6 1.1 1.9 0.8 2.1 0.1 1.5 1.6 2.2 0 3.7 1.9 1.7 1.3 2.2-0.4 1.5 2.1 2.2-0.2 1.9 0.7 2.1-0.4 4.1 0.5 3.8 2.2 2.1-1 4.1-0.4 2 0.8 2 0 2-1.2 1.9-0.4 2.2 1.2 2-0.3 1.9-1 2-0.3 4-0.3 1.8-1.6 2.3 1.4 1.9-0.8 2 0 1.8-1.2 2.2 0.6 1.9-0.8 1.8-1.3 2.2 0.6 1.9-0.9 2-0.3 1.6-1.7 2-0.5 2.2 0.3 1.7-1.5 2.1 0 1.7-1.1 2.3 0.5 1.7-1.3 2-0.3 1.5-1.7 2.1-0.3 1.6-1.2 2.3 0.3 3.3-2.7 1.9-0.7 2.1-0.2 1.4-2 2.2 0 2-0.4 5.7-2 1.7-1.1 2.1-0.2 1.5-1.6 2-0.6 2.1-0.1 1.5-1.5 3.8-1.4 2-0.5 1.6-1.4 1.9-0.7 2.1-0.2 1.7-1.1 2.2-0.1 1.9-0.7 1.7-1.1 0-101.3 1.9-1.7 2-1.6 5.4-5.3 2.2-1.3 1.4-2.3 2.3-1.2 4.3-2.8 1.7-1.8 2.3-1.3 2-1.4 1.6-2.2 2.3-1.1 1.8-1.8 2.2-1.4 1.9-1.7 2.3-1.1 1.8-1.8 2.4-1.1 1.7-1.9 2-1.5 1.7-2 2-1.6 2.1-1.4 1.8-1.8 2.3-1.2 1.7-1.9 4.1-2.9 3.8-3.5 2-1.5 2.3-1.2 6.2-4.5 2.1-1.3 2-1.6 4.3-2.7 1.5-2.1 5.7-5 1.6-2 5.5-5.3 1.5-2.1 1.8-1.7 1.6-2.1 1.9-1.6 1.7-1.9 2.4-1.2 1.5-2.1 2.1-1.5 1.8-1.8 2.1-1.4 1.9-1.8 2-1.5 11-6.1 2.4-0.7 2.3-1.2 2.6-0.5 7-3 2.2-1.3 2.5-0.7 2.2-1.2 2.5-0.6 2.2-1.2 2.5-0.7 2.2-1.4 2.3-0.9 2.5-0.6 2.3-1 4.8-1.7 2.3-1.1 2.5-0.7 2.3-1.1 2.4-0.6 2.4-1 2.2-1.4 5-1 4.7-2 7.2-2.2 4.6-2.2 9.5-3.5 2.3-1.2 2.1-1.4 2.5-0.8 4.6-2.1 2.1-1.4 2.3-1.1" fill="none" stroke="#e03c28" stroke-width="1.5" stroke-linejoin="round"/>
</g>
<g stroke="#111" stroke-width="2.2" fill="none" stroke-dasharray="9.7 9.45"><path d="M256.9 95.1V759"/><path d="M468.8 102.5V759"/></g>
<g stroke="#111" stroke-width="1.8" fill="none"><path d="M259 163.7H466.5"/><path d="M136 269.5L203 234.2"/><path d="M716 408L668 369.5"/><path d="M716 408L673.5 485"/></g>
<g fill="#111"><path d="M257.7 163.7l7-3v6z"/><path d="M467.7 163.7l-7-3v6z"/><path d="M206 232.7l-8.5 1.2 3.2 5.8z"/><path d="M665.3 367.5l8.2 3.2-4.2 5.2z"/><path d="M671.6 488.3l1.2-8.6 5.6 3.1z"/></g>
<g font-size="27" text-anchor="middle"><text x="262.5" y="55.3">beginning of</text><text x="261" y="85">deceleration</text><text x="471" y="54.3">end of</text><text x="470.5" y="83.7">deceleration</text><text x="155" y="297.5">dN/dt &gt; 0</text><text x="762.5" y="386.3">mixing</text><text x="762.5" y="416">layer</text><text x="762.5" y="445.5">border</text><text x="784" y="43" font-size="31">(a)</text></g>
<rect x="670" y="722.5" width="139" height="30.5" fill="#fff"/>
<text x="738.5" y="747" font-size="26.5" text-anchor="middle">gain = 0.09</text>
<text x="353" y="192.5" font-size="37" font-family="Liberation Serif" transform="translate(353,192.5) scale(1.25,1) translate(-353,-192.5)">t</text><text x="369.5" y="197" font-size="17">d</text>
<text x="432" y="506.5" font-size="25">r</text><text x="443.5" y="511" font-size="11.5">m</text>
<g clip-path="url(#cb)">
<path fill="none" stroke="#c8c8ca" stroke-width="1.15" d="M62 1513.3l45 8.8 12 2.2 9 1.4 9 1.1 9 0.8 33 2 24 2 9 1.3 6 1.3 8.8 2.3 3.2 0.3 6 0 18-1.8 12 0 12 0.6 15 1.3 46.5 5.3 44.5 0.3 36 1 66 0 14 1.7 18.8 1.8 42-1.7 72-3.6 84-4.6 102-5.8M62 1479.1l45 18.3 12 4.5 9 2.8 9 2.3 9 1.5 33 3.5 12 1.8 9 1.6 7.4 1.7 4.6 1.4 6 2.5 8.8 4.5 9.2 0 18-2.2 6-0.1 9 0.4 12 1.3 15 2.5 12 2.5 31.5 6.9 41.5 1.2 27 1.6 12 0.5 66 0 14 3.4 18.8 3.5 16.4-1.3 25.6-2.5 72-7.7 84-9.9 102-12.7M62 1445.3l15 9.1 24 15 9 5.4 9 5 9 4.2 9 3.3 6 1.6 9 1.6 18 2.4 9 1.4 12 2.5 9 2.5 6.5 2.2 5.5 2.6 6 3.6 8.8 6.5 8.2-0.2 4-0.3 15-2 6-0.1 9 0.7 6 0.8 6 1 6 1.3 9 2.3 12 3.5 31.5 10 41.5 2.5 27 2.3 9 0.6 30 0.3 39-0.1 4 1.3 4 1.7 6 2 10 2.9 8.8 2.3 16.4-2.1 25.6-4 36-6.1 36-6.4 42-7.9 42-8.1 48-9.5 54-11M62 1412.5l18 14.1 27 21.8 6 4.4 6 4.2 9 5.5 6 3.1 3 1.3 6 2.1 9 2.2 18 3.2 9 2 12 3.5 9 3.3 6 2.8 3 1.7 3 2 6 4.8 8.8 8.2 6.2 0.3 6-0.1 3-0.4 9-1.7 3-0.5 3-0.1 9 0.5 9 1.3 6 1.4 6 1.7 12 4 9 3.4 31.5 12.8 41.5 4 27 3.2 9 0.7 6 0.2 27 0.2 36-0.2 4 1.7 4 2.3 6 2.7 10 3.9 8.8 3 7.4-1.3 9-1.7 25.6-5.7 36-8.7 36-9.2 42-11.1 42-11.6 48-13.6 54-15.6M62 1380.4l18 17.1 18 17.8 9 8.7 6 5.4 6 5.1 9 6.7 6 3.7 3 1.6 6 2.7 9 2.8 18 4 9 2.5 9 3.2 9 4 6 3.3 3 1.9 6 4.6 6 5.8 8.8 9.8 6.2 0.8 3.7 0.1 2.3-0.1 3-0.4 9-2 3-0.5 3.1-0.2 5.9 0.3 3 0.3 9 1.7 6 1.6 6 2 12 4.9 9 4.1 31.5 15.5 44.5 6.2 21 3.2 12 1.2 6 0.3 27 0.3 36-0.3 4 2.1 4 2.8 6 3.4 10 4.8 8.8 3.8 7.4-1.6 9-2.4 25.6-7.3 36-11.3 36-12 42-14.6 42-15 48-17.7 54-20.4M62 1348.2l18 20.2 18 20.9 9 10.1 6 6.4 6 6 9 7.9 6 4.5 3 1.9 6 3.2 3 1.3 6 2.1 18 4.9 6 1.9 9 3.7 9 4.7 6 3.7 3 2.1 6 5 3 2.9 6 6.6 8.8 11.1 6.2 1.1 3 0.3 3-0.1 3-0.4 9-2 3-0.4 3.1-0.2 5.9 0.3 3 0.4 3 0.5 6 1.4 6 1.9 6 2.4 6 2.6 6 3 9 4.8 31.5 18 26.5 5.2 39 6.9 12 1.5 6 0.3 27 0.3 36-0.3 4 2.5 4 3.4 6 4 10 5.8 8.8 4.5 7.4-2.1 9-2.9 25.6-9.2 18-7 18-7.2 36-15.1 42-18.2 42-18.9 48-22.2 54-25.6M62 1314.2l18 23.7 18 24.6 9 11.9 6 7.5 6 7 6 6.4 3 2.9 6 5.3 3 2.2 6 3.8 3 1.5 6 2.5 18 5.8 6 2.3 3 1.3 6 3.2 6 3.6 3 2.1 8.1 6.3 3.9 3.5 3 3.1 3 3.3 6 7.3 8.8 12.1 6.2 1.5 3.7 0.3 5.3-0.5 12-2.2 3-0.1 3 0.1 6 0.6 3 0.6 6 1.7 6 2.2 6 2.6 6 3 6 3.4 9 5.5 24 15.8 7.5 4.7 17.5 4.5 15 3.5 30 6.3 9 1.6 6 0.7 6 0.3 27 0.4 18-0.1 18-0.3 4 3 4 3.8 6 4.8 10 6.7 8.8 5.2 7.4-2.5 9-3.6 12-5.1 13.6-6.2 18-8.5 18-8.8 36-18.4 42-22.4 42-23.1 48-27.1 54-31.3M62 1283.5l18 26.2 18 27 9 13.1 6 8.2 6 7.8 6 7.1 3 3.3 6 5.9 3 2.6 3 2.3 6 3.9 3 1.6 6 2.7 15 5.9 6 2.7 6 3.5 3 1.9 6 4.5 6 5.1 4 3.7 5 5.2 3 3.4 3 3.6 6 7.9 8.8 12.9 6.2 1.7 3.7 0.4 5.3-0.4 12-1.9 3-0.1 3 0.1 6 0.7 3 0.7 6 1.8 6 2.5 6 2.9 6 3.4 6 3.8 9 6.2 24 17.6 7.5 5.3 17.5 5.6 18 5 27 6.5 9 1.8 6 0.8 6 0.3 27 0.5 18-0.1 18-0.4 4 3.4 4 4.4 6 5.4 10 7.6 8.8 6 7.4-3 9-4.2 12-6.1 13.6-7.3 18-10.1 18-10.5 36-21.8 42-26.5 42-27.4 48-32.2 54-37.1M62 1254.5l6 9.6 12 18.7 18 28.8 9 14 6 8.9 6 8.4 9 11.3 6 6.5 3 2.9 3 2.7 6 4.5 3 1.9 6 3.3 15 7.1 6 3.3 6 4.1 6 4.9 6 5.6 5.7 5.9 3.3 3.7 6 7.2 9 12.3 8.8 13.4 6.2 2 3.7 0.4 5.3-0.3 12-1.5 6 0 3 0.3 6 1.3 3 0.9 6 2.4 3 1.4 6 3.3 6 3.7 6 4.2 9 6.8 24 19.5 7.5 5.9 17.5 6.7 9 3.1 9 2.8 27 7.4 9 1.9 6 0.9 6 0.4 27 0.5 18-0.1 18-0.5 4 3.9 4 4.9 6 6 5 4.5 5 4.1 8.8 6.7 7.4-3.5 9-4.9 12-7.2 13.6-8.4 18-11.8 18-12.3 36-25.5 42-30.9 42-32 48-37.6 54-43.3M62 1225.5l36 60.8 9 14.9 6 9.4 6 9 9 12.2 6 7.2 3 3.2 6 5.8 3 2.5 3 2.2 6 3.9 15 8.7 6 3.9 6 4.8 6 5.8 6 6.5 4.4 5.1 4.6 5.7 6 7.8 9 12.9 8.8 13.8 6.2 2 3 0.5 6-0.2 12-1.1 6 0 3 0.4 6 1.4 3 1 6 2.6 3 1.6 6 3.6 6 4.1 6 4.6 9 7.5 24 21.4 7.5 6.4 11.5 5.3 9 3.8 9 3.4 9 3.1 18 5.5 9 2.5 9 1.9 6 0.7 15 0.5 18 0.2 15-0.1 18-0.5 4 4.2 4 5.5 6 6.7 5 4.9 5 4.6 8.8 7.4 4.4-2.3 3-1.7 9-5.8 12-8.2 13.6-9.8 18-13.7 18-14.2 18-14.5 18-14.9 18-15.2 24-20.7 42-37 48-43.5 54-50.1M62 1196.6l6 11 27 47.9 12 20.9 6 10 6 9.5 9 13.1 6 7.8 3 3.7 6 6.5 3 2.9 3 2.6 6 4.7 12 8.3 6 4.4 6 5.1 6 6.2 9 10.9 12 16 6 8.6 6 9 8.8 14.1 6.2 1.9 3 0.5 21-0.8 3 0.1 3 0.4 6 1.6 3 1.1 6 2.8 3 1.7 6 3.9 6 4.5 6 5 9 8.2 24 23.4 7.5 7 11.5 6.1 9 4.3 9 3.9 9 3.3 24 8 9 2.3 6 1.1 6 0.5 27 0.6 18-0.1 18-0.6 4 4.6 4 6.1 6 7.3 5 5.4 5 5 8.8 8.1 4.4-2.6 3-2 9-6.5 12-9.4 13.6-11.1 18-15.5 18-16.1 18-16.6 18-16.9 18-17.3 24-23.4 42-42.1 48-49.4 54-57M62 1167.6l6 11.7 36 66.9 12 20.9 6 9.8 6 9.2 9 12.5 6 7.4 3 3.3 3 3 6 5.5 12 9.9 6 5.3 6 5.9 6 7.1 9 12.2 12 17.2 12 18.3 8.8 14.3 6.2 1.9 3 0.5 21.1-0.4 2.9 0.1 3 0.5 3 0.7 3 0.9 3 1.2 6 3.1 3 1.9 6 4.2 6 5 6 5.4 9 8.9 24 25.5 7.5 7.6 11.5 6.7 9 4.8 9 4.3 9 3.8 15 5.5 9 3.1 9 2.5 6 1.1 3 0.4 6 0.3 24 0.5 18-0.1 18-0.6 4 5 4 6.6 6 8 5 5.8 5 5.5 8.8 8.8 4.4-2.9 3-2.3 9-7.3 12-10.6 13.6-12.5 18-17.5 18-18.1 18-18.7 18-19.1 18-19.4 24-26.5 42-47.3 48-55.7 24-28.4 30-35.8M62 1140.6l9 18.1 21 40.5 12 22.7 12 21.6 6 10.2 6 9.7 9 13.5 6 8.1 3 3.7 3 3.5 6 6.4 12 11.7 6 6.1 6 6.9 3 3.8 6 8.5 18 27.2 12 19 8.8 14.4 6.2 1.9 3 0.4 21.1-0.1 2.9 0.2 3 0.4 3 0.8 3 1 3 1.3 6 3.4 3 2 6 4.6 6 5.4 6 5.9 9 9.6 24 27.7 7.5 8.3 11.5 7.4 9 5.2 9 4.8 9 4 15 6 9 3.4 9 2.7 6 1.2 3 0.3 6 0.4 24 0.5 18-0.1 18-0.7 4 5.5 4 7 6 8.6 5 6.4 5 5.9 8.8 9.5 4.4-3.3 3-2.5 9-8.2 12-11.9 13.6-14.1 18-19.6 18-20.3 18-21 18-21.4 18-21.8 24-29.6 42-53.2 24-31 24-31.4 24-31.8 30-40.3M62 1113l9 18.9 21 42 12 23.4 15 27.7 12 20.5 9 14.1 6 8.6 3 3.9 6 7.4 18 20.8 6 7.7 3 4.3 21 33.2 23.8 38.9 6.2 1.8 3 0.4 21.1 0 2.9 0.2 3 0.6 3 0.8 3 1.2 3 1.5 6 3.8 3 2.2 6 5.1 6 5.8 6 6.3 9 10.5 21 25.9 10.5 12.5 11.5 8.1 9 5.7 9 5.1 9 4.4 15 6.5 9 3.6 9 2.8 6 1.3 3 0.4 6 0.3 24 0.7 18-0.2 18-0.7 4 5.8 4 7.6 6 9.2 5 6.8 5 6.4 8.8 10.2 4.4-3.7 3-2.8 9-9.2 12-13.2 13.6-15.7 18-21.9 18-22.8 18-23.4 18-23.9 18-24.3 24-33.2 18-25.2 24-34.1 24-34.7 24-35.1 24-35.5 30-44.9M62 1086.1l6 13.2 6 12.5 15 30.8 12 24.1 15 28.8 9 16.5 6 10.6 9 15.1 9 13.9 6 8.4 18 24.1 9 13.4 21 35.2 15 25.9 8.8 14.1 3.2 1 3 0.7 3 0.4 21.1 0.1 2.9 0.2 3 0.7 3 1.1 3 1.5 3 1.8 3 2 6 5 6 5.7 6 6.2 6 6.8 9 11.1 21 27.3 10.5 12.8 11.5 8.8 9 6.2 9 5.5 9 4.7 15 6.9 9 3.8 9 3 6 1.4 3 0.4 6 0.4 24 0.6 18-0.1 18-0.8 4 6.2 4 8.1 6 9.9 5 7.2 5 6.8 8.8 10.9 1.4-1.2 3-2.8 3-3.2 9-10.1 12-14.6 13.6-17.4 18-24.2 18-25.1 18-25.9 18-26.4 18-26.9 24-36.6 18-27.9 24-37.7 24-38.3 24-38.7 24-39.3 30-49.6M62 1059.1l6 13.7 6 13 12 25.3 12 24.7 18 35.7 15 28.2 12 21.3 6 10 6 9.5 18 27.3 6 9.6 24 42.2 15 27.7 6 9.8 2.8 4 3.2 1 3 0.6 3 0.3 21 0.4 3 0.3 3 0.9 3 1.4 3 1.8 3 2.2 3 2.6 6 5.8 9 9.7 6 7 9 11.3 24 32.1 6 7.5 4.5 5.3 11.5 9.4 9 6.7 9 5.9 9 5 15 7.3 9 4 9 3.2 6 1.5 3 0.4 6 0.4 24 0.7 18-0.2 18-0.8 4 6.6 4 8.6 6 10.5 5 7.7 5 7.2 8.8 11.6 1.4-1.3 3-3.2 3-3.4 9-11.3 12-16.1 13.6-19.2 18-26.8 18-27.8 18-28.6 18-29.2 18-29.8 24-40.4 18-30.9 24-41.7 24-42.3 24-42.9 24-43.4 30-54.9M62 1033.1l9 20.7 9 19.5 12 25.4 18 36.7 18 35.3 12 22.7 9 16.5 24 41.1 9 16.1 9 17.2 12 22.1 12 24 3 5.6 3 5.2 3 4.7 2.8 3.6 3.2 1.1 6 0.9 18 0.5 3.1 0.2 2.9 0.5 3 1.2 3 1.8 3 2.3 3 2.7 6 6.4 18 21.6 9 11.8 21 28.7 6 7.6 7.5 8.7 11.5 10.1 9 7.1 9 6.3 9 5.3 15 7.8 9 4.2 6 2.4 3 1 6 1.5 3 0.5 6 0.4 24 0.7 18-0.2 18-0.9 4 7 2 4.9 2 4.2 6 11.1 5 8.2 5 7.6 8.8 12.3 1.4-1.4 3-3.5 3-3.8 9-12.3 12-17.6 13.6-21.1 18-29.3 18-30.3 18-31.3 18-31.9 18-32.6 24-44.3 18-33.7 24-45.7 24-46.3 24-46.9 24-47.5 30-60M62 1008.2l9 21.1 15 32.8 15 31.5 18 36.5 27 53.2 33 62.2 12 24.1 12 23.1 12 25.8 3 6 3 5.4 3 4.6 2.8 3.4 3.2 1.3 6 0.9 15 0.8 6.1 0.5 2.9 0.7 3 1.6 3 2.2 3 2.8 6 6.9 12 16 12 15.4 24 33.2 6 7.7 6 7.1 4.5 4.7 5.5 5.3 12 10.6 6 4.8 6 4.3 9 5.7 15 8.2 9 4.4 6 2.5 3 1.1 6 1.5 6 0.8 6 0.3 12 0.5 12 0.2 15-0.3 18-0.9 4 7.3 2 5.2 2 4.5 6 11.7 5 8.6 5 8 8.8 13 1.4-1.6 3-3.8 3-4.1 9-13.5 12-19.4 13.6-23 18-32.2 18-33.3 18-34.3 18-35.1 18-35.7 24-48.5 18-37.1 24-50 24-50.8 24-51.5 24-52.1 30-65.9M62 983.1l9 21.7 9 20.4 12 26.2 12 25.4 42 86.3 30 60.2 15 31.1 9 18 3 6.3 12 27.5 3 6.3 3 5.6 3 4.7 2.8 3.3 3.2 1.6 6.7 1 14.3 1.2 6.1 0.8 2.9 1.1 3 1.9 3 2.7 3 3.4 3 3.8 15 22.1 12 16.1 21 29.5 9 11.5 6 6.7 3 3.1 10 9.8 9 8.3 6 5.2 6 4.6 9 6.1 15 8.5 9 4.7 6 2.6 3 1.1 6 1.6 3 0.6 6 0.4 15 0.6 12 0.2 15-0.2 18-1 4 7.7 2 5.4 2 4.8 6 12.3 5 9 5 8.4 8.8 13.7 1.4-1.7 3-4.1 3-4.5 9-14.7 12-21.1 13.6-25.1 18-35 18-36.3 18-37.3 18-38.2 18-38.9 24-52.8 18-40.3 24-54.5 24-55.3 24-56 24-56.7 30-71.7M62 959.3l6 15 6 14.2 9 20.5 12 26.5 12 25.7 30 63.1 33 70 20.5 44 9.5 19.6 3 6.5 12 29 3 6.7 3 5.9 3 4.8 2.8 3.3 3.2 1.9 6 1.2 15 1.7 6 1.2 3 1.4 3 2.4 3 3.2 3 3.9 3 4.4 15 24.6 12 16.7 15 21.5 6 8.2 6 7.7 6 6.9 3 3.1 4.5 4.1 8.5 8.8 9 8.9 6 5.4 6 5 6 4.5 3 2 15 8.9 9 4.9 6 2.7 3 1.2 6 1.7 3 0.5 6 0.5 15 0.6 12 0.2 15-0.3 18-1 4 8.1 2 5.7 2 4.9 6 12.9 5 9.6 5 8.8 8.8 14.3 1.4-1.9 3-4.5 3-4.9 9-16 12-23 13.6-27.4 18-38.1 18-39.6 18-40.7 18-41.6 18-42.4 24-57.7 18-43.9 24-59.5 24-60.3 24-61.1 24-61.8 30-78.2M62 932.6l6 15.6 6 14.7 9 21.3 9 20.6 15 33.4 33 72.1 48 107.5 12 25.8 3 6.8 12 30.1 3 6.9 3 6.1 3 5 3 3.7 3 2 3 0.9 3.7 0.8 11.3 1.6 6 1.2 3.1 0.9 2.9 1.7 3 2.8 3 3.7 3 4.4 3 4.9 12 21.7 3 5 24 34.8 6 8.4 6 7.9 6 7.2 3 3.3 3 3 4.5 3.9 11.5 12.4 9 9.2 9 8.3 6 4.7 3 2.1 15 9.4 9 5.1 6 2.8 3 1.2 6 1.7 3 0.6 6 0.5 15 0.6 12 0.2 15-0.3 18-1.1 4 8.5 2 5.9 2 5.2 6 13.5 5 10 5 9.2 8.8 15 1.4-2 3-4.8 3-5.3 9-17.2 12-24.7 13.6-29.4 18-40.9 18-42.5 18-43.6 18-44.7 18-45.5 24-61.9 18-47.1 24-63.8 24-64.7 24-65.6 24-66.3 30-83.9M62 909.4l9 23.4 15 36 12 27.5 33 73.4 12 27.3 39 92.2 21 47.8 12 30.8 3 7 3 6.3 3 5.2 3 3.8 3 2.3 3 1.1 3 0.9 12 2.2 6 1.5 3 1.1 3 2 3 3.1 3 4.1 3 4.7 3 5.3 12 23 3 5.3 21 31.3 6 8.6 6 8.3 6 7.6 3 3.5 3 3.2 10 9.8 12 13.6 6 6.5 9 8.9 6 5.1 3 2.2 15 9.8 9 5.3 6 2.9 3 1.2 6 1.8 3 0.6 6 0.5 15 0.6 12 0.2 15-0.2 18-1.2 4 8.8 2 6.2 2 5.5 6 14 5 10.4 5 9.7 8.8 15.6 1.4-2.1 3-5.3 3-5.6 9-18.5 12-26.6 13.6-31.6 12-29.2 18-45.2 18-46.6 18-47.7 18-48.7 24-66.2 18-50.5 24-68.4 42-122.1 24-71 24-71.7M62 886.8l9 23.9 12 29.3 12 28.1 33 74.5 12 27.8 12 29 33 82.4 9 21.5 9 20.9 12 31.1 3 7.1 3 6.4 3 5.3 3 4 3 2.5 3 1.4 3 1.1 3 0.8 9 2 6 1.8 3 1.4 3 2.2 3 3.4 3 4.3 3 5 3 5.6 12 23.8 3 5.4 3 4.9 18 27.2 6 8.8 6 8.4 6 7.7 3 3.6 3 3.4 6 5.9 4 4.3 12 14.4 9 10.3 6 6.1 3 2.9 6 4.9 15 10.2 9 5.5 6 3 3 1.3 6 1.8 3 0.6 6 0.5 15 0.7 12 0.2 15-0.3 18-1.3 4 9.3 2 6.4 2 5.7 6 14.7 5 10.8 5 10 8.8 16.3 1.4-2.3 3-5.6 3-6.1 9-19.9 12-28.6 13.6-34 12-31.3 18-48.6 12-33.3 18-50.9 18-52.1 18-52.9 18-53.9 24-72.9 18-55.4 24-74.9 42-133.4M62 864.6l9 24.5 12 30.2 12 28.7 33 76.6 12 28.6 12 29.8 30 77.3 9 22.5 12 28.6 12 31.3 3 7.2 3 6.4 3 5.5 3 4.2 3 2.8 3 1.7 3 1.3 3 1 9 2.5 3 1 3 1.2 3 1.7 3 2.5 3 3.7 3 4.5 3 5.3 3 5.8 12 24.6 3 5.5 3 5 15 23.3 12 17.8 9 12 6 7 6 6.1 4 4.5 15 19.1 6 7.2 6 6.6 3 3 6 5.3 15 10.6 9 5.7 6 3.1 3 1.3 6 1.9 3 0.6 6 0.5 15 0.6 12 0.3 15-0.3 18-1.4 4 9.7 2 6.7 2 5.8 6 15.3 5 11.2 5 10.5 8.8 16.9 1.4-2.5 3-6 3-6.5 6-14 9-22.5 13.6-35.6 12-33.2 18-51.5 12-35.4 18-54.2 18-55.5 18-56.5 18-57.5 18-58.3 18-59.1 24-79.8 42-142.3M62 841.8l9 25.2 15 38.7 12 29.5 30 71.9 12 29.4 12 30.6 24 63.6 12 31 15 36.8 12 31.5 3 7.3 3 6.5 3 5.6 3 4.5 3 3 3 2 3 1.6 3 1.2 9 3.1 3 1.2 3 1.6 3 1.9 3 2.9 3 3.9 3 4.8 3 5.5 3 6 9 19.1 6 11.9 3 5.1 12 19 12 18.3 6 8.5 6 8 6 7.2 6 6.3 4 4.6 15 20.2 6 7.7 6 7.1 3 3.2 6 5.5 15 11.1 9 5.8 6 3.2 3 1.4 6 2 3 0.6 6 0.5 15 0.6 12 0.3 15-0.4 18-1.4 4 10 2 7 2 6.1 6 15.8 5 11.7 5 10.8 8.8 17.6 1.4-2.7 3-6.4 3-7 6-15 9-24 13.6-38.2 12-35.5 12-36.5 12-37.5 18-57.5 30-99 18-60.9 18-61.9 36-126.2 42-150.8M62 819.3l9 26.1 15 40 12 30.5 30 74.1 12 30.3 12 31.4 30 80.7 9 23.4 12 29.7 12 31.7 3 7.3 3 6.7 3 5.7 3 4.7 3 3.4 3 2.4 3 1.8 3 1.6 9 3.8 3 1.5 3 1.8 3 2.3 3 3.2 3 4.2 3 5.1 3 5.7 12 25.7 6 12 3 5.3 9 14.5 12 18.8 9 13.1 6 8 6 7.4 6 6.4 4 4.9 15 21.3 9 12 6 7.1 3 3.1 3 2.7 15 11.5 9 6.1 6 3.3 3 1.3 6 2.1 3 0.6 6 0.5 15 0.7 12 0.2 15-0.4 18-1.4 4 10.3 2 7.2 2 6.4 6 16.4 5 12.1 5 11.2 8.8 18.2 1.4-2.8 3-6.9 6-15.4 9-25 10.6-31.1 12-37.2 12-38.5 12-39.5 18-60.9 12-41.5 18-63.4 18-64.6 18-65.7 36-134.2 36-137.4M62 797l9 26.9 15 41.4 15 39.3 30 76.6 12 31.3 33 89.8 12 32 15 37.9 9 24.1 6 15.2 3 6.8 3 6 3 5 3 3.7 3 2.8 3 2.2 3 1.9 9 4.7 3 1.8 3 2.2 3 2.6 3 3.6 3 4.5 3 5.3 3 5.9 12 26.1 6 12.2 3 5.3 6 9.9 12 19.3 9 13.5 9 12.4 6 7.5 6 6.6 4 5.1 18 26.8 6 8.4 6 7.4 3 3.3 3 2.9 15 11.9 9 6.2 6 3.4 3 1.4 6 2.1 3 0.6 6 0.5 15 0.7 12 0.2 15-0.4 9-0.6 9-0.9 4 10.8 2 7.4 2 6.5 3 8.9 3 8.1 5 12.5 5 11.6 8.8 18.9 1.4-3 3-7.4 6-16.4 9-26.7 10.6-33.2 12-39.7 12-41.1 12-42.2 18-65 12-44.4 18-67.7 30-115.7 30-118.6 36-145.6M65 784.7l9 27 15 42.1 15 40.3 39 102.9 42 115.1 9 23.6 9 22.8 9 24.4 6 15.4 3 7 3 6.2 3 5.3 3 4.2 3 3.2 3 2.6 3 2.2 9 5.9 3 2.1 3 2.6 3 3.1 3 3.9 3 4.8 3 5.5 3 6 12 26.5 6 12.3 3 5.3 6 10.1 12 19.4 9 13.7 6 8.5 6 7.9 6 7.2 3 3.3 4 5.2 18 28.2 6 8.8 6 7.9 3 3.5 3 3 15 12.3 9 6.4 6 3.4 3 1.5 3 1.2 3 0.9 3 0.7 6 0.5 15 0.7 12 0.2 15-0.4 9-0.7 9-0.9 4 11.1 2 7.7 2 6.7 3 9.2 3 8.4 5 12.9 5 12 8.8 19.5 1.4-3.2 3-7.8 6-17.5 9-28.5 10.6-35.4 12-42.3 12-43.8 12-45 12-45.9 24-94.5 30-121.8 30-125.2 36-154M74 791l12 35 12 33.7 42 114.1 42 115.8 9 23.9 12 31.1 9 24.6 6 15.7 3 7.2 3 6.5 3 5.6 3 4.6 3 3.7 3 3.1 3 2.7 9 7.1 3 2.6 3 2.9 3 3.6 3 4.3 3 5 6 11.9 12 26.6 6 12.3 6 10.6 12 19.9 9 14.1 9 13.1 6 8 9 10.7 4 5.4 6 9.6 12 19.8 6 9.4 6 8.2 3 3.6 3 3.2 9 7.8 6 4.9 9 6.5 6 3.6 3 1.5 3 1.2 3 1 3 0.7 3 0.3 6 0.3 15 0.6 12 0.2 6-0.2 9-0.4 15-1.5 4 11.4 2 8 2 7 3 9.4 3 8.7 5 13.3 5 12.4 8.8 20.1 1.4-3.4 3-8.3 6-18.5 9-30.2 9-32.1 7.6-27.6 12-45.7 12-47 12-48.2 24-99.3 30-128.3 30-132 30-135.1M80 788.5l12 35.6 15 43.1 63 175.3 15 40.6 18 47.4 15 40.9 3 7.4 3 6.7 3 6 3 5.1 3 4.2 3 3.6 3 3.1 12 11.6 3 3.5 3 3.9 3 4.7 3 5.4 3 5.9 6 12.8 9 20.1 6 12.3 3 5.5 12 20.4 12 19.2 9 13.2 6 8.1 9 11 4 5.6 6 9.9 12 20.7 6 9.8 6 8.6 3 3.8 3 3.2 6 5.4 9 7.7 9 6.8 6 3.6 3 1.5 3 1.3 3 1 3 0.6 3 0.4 6 0.3 15 0.6 12 0.2 6-0.2 9-0.5 15-1.5 4 11.8 2 8.2 2 7.2 3 9.7 3 9 5 13.7 5 12.8 8.8 20.7 1.4-3.6 3-8.7 6-19.5 9-31.8 9-33.7 7.6-29.1 12-48.1 12-49.6 12-50.7 24-104.5 24-107.7 30-138.3 30-141.6M86 787.8l15 45 15 43.6 30 85.1 18 50.1 18 49 21 55.7 15 41.4 6 14.6 3 6.4 3 5.5 3 4.7 3 4.2 3 3.7 12 13.7 3 3.9 3 4.4 3 5.1 6 11.7 15 33 6 12.3 3 5.6 9 15.5 12 19.8 9 13.8 9 12.6 9 11.2 4 5.7 6 10.2 12 21.6 6 10.2 6 9 3 3.9 3 3.3 6 5.6 9 7.9 9 6.9 6 3.8 3 1.5 3 1.3 3 1 3 0.7 6 0.5 15 0.7 15 0.2 6-0.2 9-0.5 15-1.5 4 12.1 2 8.4 2 7.4 3 10.1 3 9.2 5 14.1 5 13.2 8.8 21.3 1.4-3.8 3-9.1 6-20.5 6-21.9 9-34.8 16.6-67.5 12-51.2 12-52.6 24-108.5 24-112.2 30-144.2 30-147.8M92 789.8l12 36.2 12 35.4 33 94.6 21 57.9 33 88.3 12 33.6 6 15.9 6 14 3 6 3 5.2 6 9 12 16.1 3 4.4 3 4.9 3 5.4 6 12.1 18 39.5 6 11.6 15 25.9 12 19.3 9 13.2 6 8.1 6 7.5 4 5.8 6 10.6 15 27.7 6 10 3 4.5 3 4 3 3.5 6 5.7 9 8.1 9 7.1 6 3.8 6 2.9 3 1 3 0.7 3 0.4 12 0.6 21 0.4 6-0.1 9-0.6 15-1.6 4 12.5 2 8.7 2 7.6 3 10.3 3 9.5 5 14.5 5 13.6 8.8 21.9 1.4-3.9 3-9.6 6-21.3 6-22.9 9-36.2 16.6-70.4 12-53.4 12-54.8 24-113.2 24-116.9 24-119.9 30-153.5M98 793.8l12 36 12 35.3 18 51.8 12 34 18 49.2 33 88.1 15 41.6 6 15.3 6 13.4 3 5.9 6 10.3 9 14 6 9.8 6 11.2 6 12.5 12 26.7 6 12.8 3 6 6 11.1 12 20.9 12 19.6 9 13.5 6 8.2 6 7.7 4 6 6 10.8 15 28.5 6 10.3 3 4.6 3 4.2 3 3.6 6 5.8 9 8.3 6 5 3 2.2 6 4 3 1.6 3 1.3 3 1 3 0.8 3 0.3 12 0.6 21 0.5 6-0.2 9-0.5 15-1.7 4 12.8 2 8.9 2 7.9 3 10.6 3 9.7 5 15 5 13.8 8.8 22.6 1.4-4.1 3-9.9 6-22 6-23.8 9-37.6 16.6-72.8 12-55.4 12-56.8 18-87.6 24-120.3 24-123.6 30-158.2M101 789.4l12 35.9 12 35.1 27 76.9 18 49.2 30 79.9 18 49.1 6 15.5 6 14 3 6.4 6 11.7 12 21.8 6 11.5 6 12.6 15 33.4 6 12.9 6 11.7 6 10.9 12 21.1 12 19.5 9 13.3 9 12 4 6.1 6 11.1 15 29.2 6 10.6 3 4.7 3 4.2 3 3.7 9 8.9 9 8.1 6 4.8 6 4 3 1.7 3 1.4 3 1 3 0.7 3 0.4 12 0.6 21 0.4 6-0.1 9-0.6 15-1.7 4 13.2 2 9.1 2 8.1 3 10.8 3 10 5 15.4 5 14.2 8.8 23.2 1.4-4.2 3-10.2 3-11.1 6-23.8 9-38.1 7.6-33.2 12-55.2 18-86.3 18-89.6 24-123.2 24-126.8 30-162.6M104 785.8l24 70.3 15 42.9 12 33.6 21 56.9 39 103.9 9 23.4 6 14.6 6 13.5 21 44 24 53.7 6 12.4 9 16.9 12 21.5 12 19.9 9 13.6 9 12.2 4 6.2 6 11.3 15 29.9 6 10.8 3 4.8 3 4.3 3 3.8 9 9 9 8.4 6 4.9 6 4 3 1.7 3 1.4 3 1.1 3 0.7 3 0.4 15 0.7 12 0.3 9 0 12-0.7 15-1.8 4 13.5 2 9.4 2 8.3 3 11.1 3 10.3 5 15.7 5 14.7 8.8 23.7 1.4-4.3 3-10.5 3-11.5 6-24.5 9-39.2 7.6-34.2 12-56.8 18-88.9 18-92.2 24-126.9 24-130.6 24-133.6M110 791.1l27 77.9 24 67.1 27 72.7 21 55.4 12 31.1 9 22.6 9 21.7 36 83.3 6 13.3 6 12.5 12 22.9 12 21.5 9 15.1 9 13.8 9 12.5 4 6.3 6 11.6 15 30.4 6 11 3 4.9 3 4.5 3 3.8 9 9.2 9 8.5 6 5 6 4.2 3 1.7 3 1.4 3 1.1 3 0.7 3 0.4 15 0.7 12 0.3 9 0 12-0.7 15-1.8 4 13.8 2 9.6 2 8.5 3 11.4 3 10.5 5 16.2 5 15 8.8 24.3 1.4-4.5 3-10.7 3-11.8 6-25.2 9-40.3 7.6-35.1 12-58.4 18-91.4 18-94.7 24-130.4 24-134.2 24-137.3M113 787.5l33 94 18 50.2 21 57.1 21 55.3 24 60.7 21 54 18 43.6 9 20.9 6 13.1 6 12.2 12 23 9 16.3 9 15.3 9 14.1 9 12.7 4 6.5 6 11.8 15 30.9 6 11.2 3 5.1 3 4.4 3 3.9 9 9.4 9 8.7 6 5.1 6 4.2 3 1.7 3 1.5 3 1.1 3 0.8 3 0.3 15 0.7 12 0.3 9 0 12-0.7 15-1.8 4 14.1 2 9.9 2 8.6 3 11.7 3 10.8 5 16.5 5 15.4 8.8 24.9 1.4-4.6 3-11 3-12.1 6-25.9 9-41.3 13.6-65.7 18-92.4 18-96.1 24-132.8 24-136.8 24-140.2M119 792.3l45 127 21 58 18 47.7 21 52.1 6 15.3 24 65.4 15 37.6 12 28.2 9 19.1 12 23.5 9 16.6 9 15.6 9 14.4 9 12.9 4 6.6 6 12 15 31.4 6 11.4 3 5.1 3 4.6 3 3.9 9 9.6 9 8.8 6 5.1 6 4.4 3 1.7 3 1.5 3 1.1 3 0.8 3 0.4 15 0.7 12 0.3 9-0.1 12-0.7 15-1.9 4 14.5 2 10.1 2 8.9 3 12 3 11 5 16.9 5 15.7 8.8 25.5 1.4-4.7 3-11.3 3-12.4 6-26.5 9-42.4 13.6-67.4 18-94.7 18-98.6 24-136 24-140.3 24-143.7M122 788.2l18 50.3 33 94.4 15 42 9 24.2 6 15.6 21 51 6 15.3 6 16.5 15 43.3 6 16.3 15 38.5 9 21.6 9 19.7 9 18.2 6 11.6 9 16.6 9 15.5 9 14.2 6 8.5 4 6.7 6 12.2 15 31.9 6 11.6 3 5.1 3 4.7 3 4 3 3.3 9 9.5 9 8.5 6 4.9 6 3.8 3 1.5 3 1.2 3 0.7 3 0.4 18 0.8 18 0.2 12-0.8 15-1.8 4 14.8 2 10.3 2 9 3 12.3 3 11.2 5 17.4 5 16 8.8 26.1 1.4-4.8 3-11.6 3-12.7 6-27.1 9-43.4 13.6-69 18-97 18-100.9 24-139.4 18-107.3 24-146.3M128 793.6l18 50.4 30 87.2 15 42.2 12 31.7 6 14.5 12 28.2 9 22.5 6 16.7 18 53.3 12 32.4 9 23.4 9 21.8 9 19.6 12 24.2 9 17 9 15.7 9 14.4 6 8.8 4 6.8 6 12.3 15 32.3 6 11.7 3 5.2 3 4.7 3 4.1 3 3.4 9 9.5 9 8.7 6 4.9 6 4 3 1.5 3 1.1 3 0.8 3 0.4 18 0.8 18 0.1 12-0.7 15-1.9 4 15.2 2 10.5 2 9.2 3 12.6 3 11.4 5 17.7 5 16.5 8.8 26.6 1.4-4.9 3-11.9 3-13 6-27.7 9-44.4 13.6-70.6 18-99.1 18-103.2 24-142.6 18-109.8 24-149.6M131 791.3l15 42 33 97 12 34 6 16.2 6 15.5 6 14.4 12 27.6 9 22.4 6 16.8 18 54.5 18 49.6 9 23.3 6 14.3 9 19.5 12 24.3 9 17 6 10.5 9 14.7 6 8.8 4 7 6 12.5 15 32.6 6 11.8 3 5.3 3 4.7 3 4.1 3 3.5 9 9.6 9 8.9 6 4.9 6 4 3 1.5 3 1.2 3 0.8 3 0.4 18 0.8 18 0.1 12-0.7 15-1.9 4 15.4 2 10.8 2 9.4 3 12.8 3 11.8 5 18 5 16.8 8.8 27.2 1.4-5 3-12.2 3-13.2 6-28.3 9-45.4 13.6-72.1 18-101.3 18-105.5 18-108.7 18-111.5 24-152M134 789.9l15 42.3 30 89 12 34.3 6 16.4 6 15.5 6 14.4 12 27.8 9 22.4 6 16.9 18 54.6 21 59.1 9 23.3 6 14.1 12 25.8 9 18.2 9 16.9 6 10.4 6 9.8 6 9 4 7 6 12.7 15 33 6 11.9 3 5.3 3 4.7 3 4.2 3 3.5 9 9.7 9 8.9 6 5.1 6 4 3 1.5 3 1.2 3 0.8 3 0.4 18 0.8 18 0.1 12-0.7 15-1.9 4 15.8 2 11 2 9.6 3 13 3 12 5 18.4 5 17.1 8.8 27.8 1.4-5.1 3-12.4 3-13.5 6-29 9-46.3 13.6-73.6 18-103.4 18-107.7 18-111 18-113.8 24-155.2M137 789.5l12 34 30 89.1 12 34.5 6 16.5 6 15.7 6 14.6 12 28.3 9 22.7 9 25.7 15 45.3 18 51.7 6 16.7 6 15.8 6 14.4 12 26.5 9 18.6 9 17.3 6 10.7 6 9.9 6 9.2 4 7.1 6 12.8 15 33.2 6 12 3 5.3 3 4.8 3 4.2 3 3.5 9 9.9 9 8.9 6 5.1 3 2.2 3 1.9 3 1.5 3 1.2 3 0.9 3 0.4 18 0.7 18 0.2 12-0.8 15-1.9 4 16.1 2 11.2 2 9.8 3 13.3 3 12.3 5 18.7 5 17.5 8.8 28.3 1.4-5.2 3-12.7 3-13.8 6-29.5 9-47.2 13.6-75.2 18-105.5 18-109.9 18-113.2 18-116.1 24-158.3M140 789.9l12 34.3 27 80.2 12 34.6 6 16.6 6 15.9 6 14.9 12 28.9 9 23 6 16.9 18 53.8 15 43.6 12 33.9 6 15.5 9 20.9 9 19.8 9 18.6 6 11.7 6 11 6 10.2 6 9.3 4 7.2 6 13 15 33.3 6 12 3 5.4 3 4.8 3 4.2 3 3.5 9 9.9 9 9.1 6 5.1 3 2.2 3 1.9 3 1.6 3 1.2 3 0.8 3 0.4 15 0.7 12 0.3 9 0 12-0.8 15-1.9 4 16.4 2 11.4 2 10 3 13.6 3 12.4 5 19.2 5 17.7 8.8 28.9 1.4-5.3 3-12.9 3-14.1 6-30.1 6-31.8 10.6-58.4 18-105.7 18-110.8 18-114.4 18-117.4 24-160.5M143 790.7l9 25.9 27 80 12 34.7 12 32.8 18 44.7 9 23.4 6 16.9 18 53.7 18 52.6 9 25.4 6 15.7 9 21.3 12 26.8 9 18.7 9 17.2 6 10.5 6 9.5 4 7.3 21 46.5 6 12 3 5.3 3 4.9 3 4.2 3 3.5 12 13.2 6 6 3 2.7 6 4.7 3 1.9 3 1.6 3 1.2 3 0.8 3 0.4 18 0.8 18 0.2 12-0.8 15-1.9 4 16.7 2 11.6 2 10.2 3 13.8 3 12.7 5 19.5 5 18.1 8.8 29.4 1.4-5.4 3-13.2 3-14.3 6-30.7 6-32.4 10.6-59.6 18-107.7 18-112.9 18-116.6 18-119.8 24-163.5M146 791.8l12 34.9 24 71.1 9 26 12 33.1 18 45.8 9 23.8 9 25.8 12 35.8 21 61.6 9 25.5 6 15.9 12 28.7 12 27 9 18.8 9 17.1 6 10.3 3 4.7 4 7.4 21 46.6 6 11.9 3 5.4 3 4.8 3 4.2 3 3.6 12 13.3 6 6 3 2.7 6 4.7 3 2 3 1.6 3 1.2 3 0.8 3 0.4 18 0.8 18 0.2 12-0.8 15-1.9 4 17.1 2 11.8 2 10.3 3 14.1 3 12.9 5 19.9 5 18.4 8.8 29.9 1.4-5.5 3-13.4 3-14.7 6-31.2 6-33 10.6-60.7 18-109.8 18-115 18-118.9 18-122 24-166.6M149 793.2l42 123.3 12 33.5 21 54.9 6 16.3 9 25.9 33 97.1 9 25.6 9 23.4 12 28.9 9 20.7 9 19.3 9 17.6 6 10.5 3 4.8 4 7.5 21 46.6 6 11.9 3 5.4 3 4.8 3 4.2 3 3.6 12 13.4 6 6 3 2.8 6 4.7 3 2 3 1.6 3 1.2 3 0.9 3 0.4 18 0.8 18 0.1 12-0.8 15-1.8 4 17.3 2 12 2 10.6 3 14.3 3 13.1 5 20.2 5 18.8 8.8 30.4 1.4-5.6 3-13.7 3-14.9 6-31.8 6-33.6 10.6-61.8 18-111.9 18-117.1 18-121.1 18-124.2 18-126.9M149 786.2l45 131.8 9 25.3 21 56.3 6 16.6 42 122.6 9 25.6 9 23.6 15 36.6 9 21 9 19.4 6 11.8 6 10.7 3 4.9 4 7.6 15 33.6 6 13 6 11.9 3 5.3 3 4.8 3 4.2 3 3.6 12 13.5 6 6.1 3 2.7 6 4.8 3 2 3 1.6 3 1.3 3 0.8 3 0.4 18 0.8 18 0.2 12-0.8 15-1.9 4 17.7 2 12.2 2 10.7 3 14.6 3 13.3 5 20.6 5 19 8.8 31 1.4-5.7 3-13.9 3-15.2 6-32.4 6-34.2 10.6-63 18-113.8 18-119.3 18-123.2 18-126.5 18-129.2M152 788.1l42 123.1 9 25.6 27 74.7 39 113.5 12 34.1 9 23.7 18 44.7 9 21.2 9 19.4 6 11.6 6 10.3 4 7.7 15 33.5 6 12.9 6 11.8 3 5.3 3 4.8 3 4.2 3 3.6 12 13.5 6 6.2 3 2.8 6 4.8 3 2 3 1.7 3 1.2 3 0.9 3 0.4 18 0.8 18 0.1 12-0.7 15-1.9 4 18 2 12.4 2 10.9 3 14.8 3 13.6 5 20.9 5 19.3 8.8 31.5 1.4-5.8 3-14.2 3-15.4 6-33 6-34.8 10.6-64 18-115.9 18-121.3 18-125.5 18-128.7 18-131.4M155 790.4l42 122.8 33 93.8 24 70.1 24 68.5 9 24.3 21 53.4 9 21.8 9 20.1 6 11.9 6 10.6 4 7.7 18 40 6 12.3 6 10.9 3 4.7 3 4.2 3 3.7 12 13.6 6 6.2 3 2.9 6 4.9 3 2 3 1.6 3 1.3 3 0.9 3 0.4 18 0.8 18 0.1 12-0.7 15-1.9 4 18.2 2 12.7 2 11.1 3 15 3 13.8 5 21.2 5 19.7 8.8 32 1.4-5.9 3-14.4 3-15.7 9-51.1 12-73.5 13.6-87.4 18-121.7 18-126.3 18-129.9 18-132.8M158 792.9l93 271.4 24 68 12 32.4 24 62.1 9 22 6 13.6 3 6.3 3 6 6 10.8 4 7.7 18 39.8 6 12.1 6 10.8 3 4.8 3 4.1 9 10.7 9 10 6 5.9 3 2.6 3 2.4 3 2 3 1.7 3 1.3 3 0.9 3 0.4 18 0.8 18 0.2 12-0.8 15-1.9 4 18.6 2 12.8 2 11.3 3 15.2 3 14 5 21.6 5 20 8.8 32.5 1.4-6 3-14.7 3-15.9 9-51.9 12-74.8 13.6-88.8 18-123.8 18-128.4 18-132.1 18-135M158 787l18 52 24 70.4 27 80.6 18 53.1 18 51.3 18 49.4 15 39.2 15 39.9 9 22.8 6 14 3 6.5 3 6.2 6 11 4 7.8 15 33 6 12.5 6 11.4 3 5.1 3 4.7 3 4.2 9 10.7 9 10.2 6 6 3 2.6 3 2.4 3 2.1 3 1.7 3 1.3 3 0.9 3 0.4 18 0.8 18 0.2 12-0.8 15-1.9 4 18.9 2 13 2 11.5 3 15.5 3 14.2 5 21.9 5 20.3 8.8 33 1.4-6.1 3-14.9 3-16.2 9-52.8 12-76 13.6-90.2 18-125.9 18-130.5 18-134.2 18-137.3M161 789.9l15 43.1 18 52.8 12 35.9 24 73.6 12 35.5 12 34.7 18 49.5 24 63.2 18 48.9 9 22.9 6 13.8 3 6.3 10 19.1 12 26.3 6 12.7 6 11.8 6 10.5 3 4.7 3 4.1 12 14.3 9 10 6 5.6 3 2.4 3 2.2 3 1.7 3 1.3 3 1 3 0.4 18 0.8 18 0.1 12-0.7 15-1.9 4 19.1 2 13.2 2 11.7 3 15.7 3 14.4 5 22.3 5 20.6 8.8 33.5 1.4-6.2 3-15.1 3-16.5 9-53.6 12-77.2 13.6-91.7 18-127.9 18-132.6 18-136.3 18-139.5M164 793l18 51.8 15 44.3 9 27.4 18 56.9 6 18.4 12 35.7 12 34.5 15 40.9 24 62.6 24 66.3 9 22.8 6 13.4 10 19.3 12 26.1 6 12.5 6 11.6 6 10.4 3 4.6 3 4.1 15 17.9 6 6.6 3 3 6 5.2 3 2.1 3 1.8 3 1.4 3 0.9 3 0.4 18 0.8 18 0.2 12-0.8 15-1.9 4 19.5 2 13.4 2 11.8 3 15.9 3 14.7 5 22.6 5 20.9 8.8 34 1.4-6.3 3-15.4 3-16.7 9-54.5 12-78.4 13.6-93.1 12-86 18-133.2 18-137.3 18-140.6M164 787.8l18 51.6 15 44.4 9 27.7 21 67.7 12 36.2 12 34.8 6 16.8 9 24.2 27 69.9 6 16.6 15 42.8 6 16.4 6 15.3 6 13.7 10 19.6 12 25.9 6 12.3 6 11.5 6 10.2 3 4.5 3 4.2 15 18 6 6.6 3 3 6 5.3 3 2.2 3 1.8 3 1.4 3 0.9 3 0.4 18 0.8 18 0.2 12-0.8 15-1.9 4 19.7 2 13.7 2 11.9 3 16.2 3 14.9 5 22.9 5 21.2 8.8 34.5 1.4-6.4 3-15.6 3-17 9-55.3 12-79.6 13.6-94.6 12-87.2 18-135.3 18-139.4 18-142.8M167 791.5l18 51.7 15 44.8 6 18.9 21 68.8 9 27.5 12 35.2 9 25.3 6 16.1 30 77.2 6 16.8 15 43.7 6 16.8 6 15.7 6 14 3 6.2 7 13.5 9 19.5 9 18.5 6 11.3 6 10.1 6 8.6 15 18 6 6.7 3 3 6 5.4 3 2.1 3 1.9 3 1.4 3 0.9 3 0.4 18 0.8 18 0.2 12-0.8 15-1.9 4 20 2 13.8 2 12.2 3 16.4 3 15.1 5 23.2 5 21.5 8.8 35 1.4-6.5 3-15.8 3-17.3 9-56.1 12-80.8 13.6-96 12-88.5 18-137.3 18-141.5 18-144.9M167 787l18 51.6 15 44.9 6 19.1 21 69.6 9 27.7 12 35.3 9 25.2 6 16.1 24 60.8 6 15.8 6 17 15 44.5 6 17.2 6 16 6 14.3 3 6.3 7 13.7 9 19.4 9 18.3 6 11.2 6 10 6 8.5 15 18 6 6.7 3 3.1 6 5.3 3 2.2 3 1.8 3 1.4 3 0.9 3 0.5 18 0.8 18 0.1 12-0.8 15-1.8 4 20.2 2 14 2 12.3 3 16.7 3 15.3 5 23.5 5 21.8 8.8 35.5 1.4-6.6 3-16.1 3-17.4 9-57 12-82 13.6-97.4 12-89.8 18-139.3 18-143.6 18-147M170 791.3l15 43.1 15 45 6 19.2 21 70.2 9 27.8 9 26.8 9 25.6 6 16.4 9 23.2 18 45.1 6 15.8 6 17.2 15 45.2 6 17.6 6 16.3 6 14.5 3 6.4 7 13.7 9 19.4 6 12.4 9 17 6 9.9 6 8.5 15 17.9 6 6.7 3 3 6 5.3 3 2.1 3 1.9 3 1.3 3 1 3 0.4 18 0.8 18 0.2 12-0.8 15-1.9 4 20.5 2 14.3 2 12.4 3 16.9 3 15.5 5 23.8 5 22.2 8.8 35.9 1.4-6.7 3-16.3 3-17.7 9-57.8 12-83.1 13.6-98.8 12-91.2 18-141.2 12-96.7 18-148M170 787.3l15 43.1 15 45.2 6 19.2 21 70.7 9 28 9 26.9 9 25.7 6 16.3 9 23 15 37.2 9 23.6 6 17.3 15 45.9 6 17.8 6 16.6 6 14.7 3 6.5 7 13.9 9 19.4 6 12.3 9 17 6 9.9 6 8.4 15 17.8 6 6.5 3 3 6 5.2 3 2.2 3 1.8 3 1.3 3 1 3 0.4 18 0.8 18 0.1 12-0.7 15-1.9 4 20.8 2 14.4 2 12.6 3 17.1 3 15.7 5 24.2 5 22.4 8.8 36.4 1.4-6.8 3-16.5 3-18 9-58.5 12-84.3 13.6-100.2 12-92.4 18-143.2 12-98 18-150.1M173 792l15 43.6 12 36.4 6 19.3 21 71.1 12 37.3 9 26.7 9 25.3 6 15.8 21 52.1 9 23.5 6 17.5 18 55.6 6 17.5 6 16 3 7.1 3 6.6 7 13.9 9 19.5 9 18.2 6 11 6 9.9 6 8.4 15 17.6 6 6.4 3 3 6 5.1 3 2.1 3 1.8 3 1.4 3 0.9 3 0.4 18 0.8 18 0.1 12-0.7 15-1.9 4 21.1 2 14.6 2 12.7 3 17.4 3 15.9 5 24.4 5 22.7 8.8 36.9 1.4-6.9 3-16.7 3-18.2 9-59.4 12-85.4 13.6-101.5 12-93.6 18-145.1 12-99.3 18-152.1M173 788.3l15 43.7 12 36.6 6 19.4 21 71.6 12 37.5 9 26.8 9 25.4 6 15.8 21 51.7 9 23.5 6 17.5 18 56.2 6 17.8 6 16.1 3 7.3 3 6.6 7 14 9 19.5 9 18.2 6 11.1 6 9.8 6 8.3 15 17.4 6 6.4 3 2.9 6 5.1 3 2.1 3 1.7 3 1.3 3 0.9 3 0.4 18 0.8 18 0.2 12-0.8 15-1.9 4 21.4 2 14.7 2 13 3 17.5 3 16.1 5 24.8 5 23 8.8 37.3 1.4-7 3-16.9 3-18.5 9-60 12-86.6 13.6-102.7 12-94.8 18-147 12-100.5 18-154.1M176 793.4l12 35.2 12 36.7 6 19.5 21 72 12 37.8 9 27 9 25.4 6 15.8 21 51.3 9 23.5 6 17.6 18 56.8 6 17.9 6 16.3 3 7.4 3 6.7 7 14 9 19.6 6 12.3 6 11.6 3 5.3 6 9.8 6 8.3 15 17.2 6 6.3 3 2.8 6 5 3 2.1 3 1.7 3 1.3 3 0.9 3 0.4 18 0.8 18 0.2 12-0.8 15-1.9 4 21.6 2 15 2 13.1 3 17.7 3 16.3 5 25.1 5 23.2 8.8 37.8 1.4-7.1 3-17.1 3-18.7 9-60.8 12-87.6 13.6-104 12-96 18-148.8 12-101.8 18-155.9M176 790l12 35.3 12 36.8 6 19.6 21 72.4 12 38.1 9 27.2 6 17.2 6 16.3 6 15.2 18 43.4 6 15.3 3 8.2 6 17.7 18 57.3 6 18.1 6 16.5 3 7.4 3 6.8 7 14.1 9 19.5 6 12.4 6 11.5 3 5.3 6 9.8 3 4.3 3 3.9 15 17.1 6 6.2 3 2.8 6 5 3 2 3 1.7 3 1.3 3 0.9 3 0.4 18 0.8 18 0.1 12-0.7 15-1.9 4 21.9 2 15.1 2 13.2 3 17.9 3 16.5 5 25.4 5 23.5 8.8 38.2 1.4-7.2 3-17.3 3-18.9 6-40.4 9-64.8 13.6-102.9 12-95.6 18-148.8 12-102 18-156.5M176 786.7l12 35.4 12 37 6 19.6 21 72.8 12 38.3 9 27.5 6 17.3 6 16.3 6 15.1 18 43.1 6 15.3 3 8.2 6 17.7 18 57.8 6 18.3 6 16.6 3 7.5 3 6.8 7 14.2 9 19.5 6 12.3 6 11.5 3 5.3 6 9.7 3 4.3 3 3.9 15 17 6 6.2 3 2.8 6 4.9 3 2 3 1.7 3 1.3 3 0.8 3 0.5 18 0.8 18 0.1 12-0.8 15-1.8 4 22.1 2 15.2 2 13.4 3 18.1 3 16.7 5 25.6 5 23.8 8.8 38.6 1.4-7.2 3-17.6 3-19.1 6-40.9 9-65.5 13.6-104.2 12-96.7 18-150.5 12-103.2 18-158.4M179 792.2l12 35.9 9 28 9 30.1 18 62.8 12 38.6 12 36.4 6 16.9 6 15.7 21 50.1 6 15.3 3 8.2 9 27.3 18 58.1 6 17.7 3 8.2 3 7.5 3 6.9 7 14.2 12 25.7 6 11.9 6 10.9 6 9.7 3 4.3 3 3.8 12 13.6 9 9.4 6 5.4 3 2.3 3 2 3 1.7 3 1.3 3 0.9 3 0.4 15 0.7 15 0.3 9-0.2 12-1 12-1.5 4 22.3 2 15.4 2 13.5 3 18.4M179 789l12 36.1 9 28.1 9 30.2 18 63.1 15 48.3 9 27.3 6 17 6 15.5 21 49.9 6 15.2 3 8.2 3 8.7 6 18.7 18 58.6 6 17.9 3 8.2 3 7.6 3 6.8 7 14.3 12 25.7 6 11.9 6 10.8 6 9.7 6 8.1 12 13.5 9 9.4 6 5.3 3 2.3 3 2 3 1.7 3 1.2 3 0.9 3 0.4 15 0.7 15 0.3 9-0.1 12-1 12-1.6 4 22.6 2 15.5 2 13.7 3 18.5M179 786l12 36.1 9 28.2 9 30.4 18 63.4 15 48.6 9 27.5 6 17 6 15.6 21 49.5 6 15.1 3 8.3 3 8.7 6 18.8 18 59 6 18 3 8.3 3 7.6 3 7 7 14.3 12 25.6 6 11.9 6 10.8 6 9.5 6 8.1 12 13.5 9 9.3 6 5.3 3 2.3 3 2 3 1.7 3 1.2 3 0.9 3 0.4 15 0.7 15 0.3 9-0.1 12-1 12-1.6 4 22.8 2 15.7 2 13.8 3 18.7M182 791.9l12 36.6 9 28.9 6 20.6 18 63.7 15 48.9 9 27.7 6 17.1 6 15.5 21 49.2 6 15.2 3 8.2 3 8.8 6 18.8 18 59.4 6 18.1 3 8.4 3 7.7 3 7 7 14.4 12 25.6 6 11.7 6 10.8 6 9.5 6 8.1 12 13.4 9 9.3 6 5.3 3 2.3 3 2 3 1.6 3 1.3 3 0.8 3 0.4 15 0.7 15 0.4 9-0.2 12-1 12-1.5 4 22.9 2 15.9 2 13.9 3 18.9M182 788.9l12 36.8 9 28.9 6 20.7 18 64 15 49.3 9 27.8 6 17.1 6 15.6 6 14.2 15 34.7 6 15.1 3 8.3 3 8.8 6 18.9 18 59.7 6 18.3 3 8.4 3 7.8 3 7 7 14.4 9 19.4 6 12.2 6 11.2 6 10.1 6 8.8 3 3.8 3 3.4 9 10 6 6.3 6 5.8 3 2.5 3 2.3 3 1.9 3 1.7 3 1.2 3 0.9 3 0.4 15 0.7 15 0.3 9-0.2 12-0.9 12-1.6 4 23.2 2 16 2 14.1 3 19M182 785.9l12 37 9 29 6 20.8 18 64.2 15 49.6 9 28 6 17.2 6 15.5 6 14.2 15 34.5 6 15.1 3 8.3 3 8.8 6 18.9 18 60.2 6 18.4 3 8.4 3 7.8 3 7.1 7 14.5 9 19.4 6 12.1 6 11.2 6 10 6 8.8 3 3.8 3 3.4 9 10 6 6.3 6 5.7 3 2.5 3 2.3 3 1.9 3 1.7 3 1.2 3 0.9 3 0.4 15 0.7 15 0.3 9-0.2 12-0.9 12-1.6 4 23.4 2 16.2 2 14.1 3 19.2M185 792.1l9 27.9 9 29.2 6 20.8 18 64.5 15 49.9 9 28.2 6 17.2 6 15.5 6 14.2 15 34.3 6 15.1 3 8.3 3 8.8 6 19.1 18 60.4 6 18.6 3 8.5 3 7.8 3 7.1 16 33.9 6 12.1 6 11.1 6 10.1 6 8.7 3 3.8 3 3.4 9 9.9 6 6.3 6 5.7 3 2.5 3 2.3 3 2 3 1.6 3 1.3 3 0.8 3 0.4 15 0.7 15 0.3 9-0.2 12-0.9 12-1.6 4 23.6 2 16.3 2 14.3 3 19.4M185 789.2l9 28 9 29.3 6 20.9 18 64.7 15 50.2 9 28.4 6 17.2 6 15.5 6 14.2 15 34.2 6 15 3 8.3 3 8.9 6 19.1 18 60.8 6 18.6 3 8.6 3 7.9 3 7.1 16 33.9 6 12 6 11.2 6 10 6 8.7 3 3.7 3 3.4 9 10 6 6.3 6 5.6 3 2.6 3 2.2 3 2 3 1.6 3 1.3 3 0.8 3 0.4 15 0.7 15 0.3 9-0.2 12-0.9 12-1.6 4 23.8 2 16.4 2 14.5 3 19.5M185 786.3l9 28.2 9 29.3 6 21 18 65 15 50.4 9 28.6 6 17.3 6 15.5 6 14.1 15 34 6 15.1 3 8.3 3 8.9 6 19.2 18 61.1 6 18.7 3 8.6 3 8 3 7.2 16 33.9 6 11.9 6 11.1 6 10 6 8.6 3 3.8 3 3.4 9 9.9 6 6.3 6 5.7 3 2.5 3 2.3 3 1.9 3 1.7 3 1.2 3 0.9 3 0.4 15 0.6 15 0.3 9-0.2 12-0.9 12-1.6 4 24 2 16.6 2 14.5 3 19.7M188 792.8l9 28.6 6 19.8 6 21 18 65.2 15 50.8 9 28.7 6 17.3 6 15.5 6 14.1 15 34 6 15 3 8.3 3 8.9 6 19.2 18 61.5 6 18.8 3 8.7 3 8 3 7.2 16 33.9 6 11.9 6 11.1 6 9.9 6 8.6 6 7.1 9 9.9 6 6.3 6 5.7 3 2.6 3 2.2 3 2 3 1.6 3 1.3 3 0.8 3 0.4 15 0.7 15 0.2 9-0.1 12-1 12-1.6 4 24.2 2 16.8 2 14.6 3 19.9M188 790l9 28.7 6 19.8 6 21.2 18 65.4 15 51 9 28.9 6 17.4 6 15.5 6 14 15 33.9 6 15 3 8.3 3 9 6 19.3 18 61.7 6 18.9 3 8.7 3 8.1 3 7.3 16 33.8 6 11.9 6 11 6 9.9 6 8.5 6 7.2 9 9.9 6 6.3 6 5.7 3 2.5 3 2.3 3 2 3 1.6 3 1.2 3 0.9 3 0.4 15 0.6 15 0.2 9-0.1 12-1 12-1.6 4 24.5 2 16.8 2 14.8 3 20M188 787.2l9 28.8 6 19.9 6 21.2 18 65.7 15 51.3 9 29 6 17.5 6 15.4 6 14.1 12 26.7 6 14.3 3 7.8 3 8.3 6 18.4 6 20.1 15 51.8 6 19.1 6 16.8 3 7.3 13 27.7 9 18 6 10.9 6 9.8 6 8.6 6 7.1 9 9.9 6 6.3 6 5.7 3 2.6 3 2.3 3 1.9 3 1.7 3 1.2 3 0.9 3 0.3 15 0.6 15 0.3 9-0.2 12-1 12-1.5 4 24.6 2 17 2 14.9 3 20.2M188 784.5l9 28.9 6 20 6 21.2 18 65.9 15 51.5 9 29.2 6 17.6 6 15.4 6 14 12 26.7 6 14.3 3 7.7 3 8.4 6 18.4 6 20.2 15 52 6 19.2 3 8.8 3 8.1 3 7.4 13 27.6 9 18 6 10.9 6 9.7 6 8.5 6 7.1 9 10 6 6.3 6 5.7 3 2.6 3 2.2 3 2 3 1.6 3 1.3 3 0.8 3 0.4 15 0.6 15 0.2 9-0.1 12-1 12-1.6 4 24.8 2 17.2 2 15 3 20.3M191 791.3l12 39.5 6 21.3 18 66.1 15 51.8 9 29.4 6 17.5 6 15.5 6 14 12 26.6 6 14.3 3 7.7 3 8.4 6 18.5 6 20.2 15 52.3 6 19.2 3 8.9 3 8.1 3 7.4 13 27.7 9 17.9 6 10.8 6 9.7 6 8.5 6 7.1 15 16.2 6 5.8 3 2.5 3 2.3 3 2 3 1.6 3 1.3 3 0.8 3 0.4 12 0.5 18 0.3 9-0.2 12-1 12-1.5 4 25 2 17.3 2 15.1 3 20.5M191 788.7l12 39.6 6 21.3 18 66.3 15 52.1 9 29.5 6 17.6 6 15.5 6 14 12 26.5 6 14.3 3 7.7 3 8.4 6 18.6 6 20.2 15 52.5 6 19.4 3 8.9 3 8.2 3 7.4 13 27.7 9 17.8 6 10.7 6 9.7 6 8.4 6 7.1 15 16.3 6 5.8 3 2.5 3 2.3 3 2 3 1.6 3 1.3 3 0.8 3 0.4 12 0.4 18 0.3 9-0.1 12-1 12-1.6 4 25.3 2 17.4 2 15.2 3 20.7M191 786l12 39.7 6 21.5 18 66.5 15 52.3 9 29.7 6 17.6 6 15.5 6 14 12 26.5 6 14.2 3 7.8 3 8.3 6 18.6 6 20.4 15 52.7 6 19.4 3 9 3 8.2 3 7.5 13 27.6 9 17.8 6 10.7 6 9.6 6 8.4 6 7.1 15 16.3 6 5.8 3 2.5 3 2.3 3 2 3 1.6 3 1.3 3 0.8 3 0.4 12 0.4 18 0.3 9-0.2 12-1 12-1.5 4 25.4 2 17.6 2 15.3 3 20.9M194 793.1l6 19.9 6 20.8 18 66.7 15 53.1 9 30.6 6 18.8 3 8.6 6 15.5 6 13.9 12 26.5 6 14.2 3 7.7 3 8.4 6 18.7 6 20.4 15 52.8 6 19.6 3 9 3 8.2 3 7.5 13 27.7 9 17.7 6 10.6 6 9.6 6 8.3 6 7.1 15 16.4 6 5.7 3 2.6 3 2.3 3 2 3 1.7 3 1.2 3 0.9 3 0.3 12 0.4 18 0.3 9-0.2 12-1 12-1.5 4 25.6 2 17.7 2 15.5 3 20.9M194 790.6l6 19.9 6 20.9 18 66.9 6 21.5 12 42.2 9 30 6 17.8 6 15.5 6 13.9 12 26.4 6 14.3 3 7.7 3 8.4 6 18.7 6 20.5 15 53 6 19.7 6 17.3 3 7.5 10 21.4 9 18.2 6 11.1 6 10 6 9 6 7.7 12 13.4 6 6.3 6 5.9 3 2.5 3 2.3 3 2 3 1.7 3 1.3 3 0.8 3 0.3 9 0.3 18 0.3 12-0.1 12-1 12-1.5 4 25.8 2 17.8 2 15.6 3 21.1M194 788l6 20 6 20.9 18 67.1 6 21.6 12 42.4 9 30.2 6 17.8 6 15.6 6 13.9 12 26.3 6 14.3 3 7.7 3 8.4 6 18.7 6 20.6 15 53.2 6 19.7 6 17.5 3 7.5 10 21.5 9 18.1 6 11 6 10 6 8.9 6 7.7 12 13.3 6 6.4 6 5.9 3 2.6 3 2.3 3 2 3 1.6 3 1.3 3 0.8 3 0.4 9 0.2 18 0.3 12-0.1 12-1 12-1.6 4 26.1 2 17.9 2 15.7 3 21.3M194 785.5l6 20 6 21 18 67.3 15 53.7 6 21 6 19.9 6 17.9 6 15.5 6 13.9 12 26.4 6 14.2 3 7.7 3 8.4 6 18.8 6 20.6 15 53.4 6 19.8 6 17.5 3 7.6 10 21.5 9 18 6 10.9 6 10 6 8.9 6 7.6 18 19.8 6 5.9 3 2.6 3 2.3 3 2 3 1.7 3 1.3 3 0.8 3 0.3 6 0.2 21 0.3 12-0.1 12-1 12-1.5 4 26.2 2 18 2 15.9 3 21.4M197 792.9l9 31.2 18 67.4 15 54 9 31.3 6 19.1 3 8.6 6 15.6 6 13.9 12 26.3 6 14.2 3 7.8 3 8.4 6 18.8 6 20.6 15 53.7 6 19.8 6 17.6 3 7.6 10 21.5 9 17.9 6 10.9 6 9.9 6 8.9 6 7.6 18 19.9 6 5.8 3 2.6 3 2.4 3 2 3 1.7 3 1.2 3 0.8 3 0.4 6 0.1 21 0.4 12-0.2 12-1 12-1.5 4 26.4 2 18.2 2 15.9 3 21.6M197 790.4l9 31.3 21 78.6 15 53.9 6 20.8 6 19.1 3 8.7 6 15.6 6 13.8 12 26.3 6 14.2 3 7.8 3 8.4 6 18.9 6 20.7 15 53.8 6 19.9 6 17.6 3 7.7 3 6.8 7 14.7 9 17.9 6 10.8 6 9.9 6 8.8 6 7.6 18 19.9 6 5.9 3 2.6 3 2.3 3 2.1 3 1.6 3 1.3 3 0.8 3 0.4 3 0 18 0.4 15-0.1 12-0.7 15-1.9 4 26.6 2 18.3 2 16.1 3 21.8M197 788l9 31.3 21 78.9 15 54.1 9 30.7 6 18.1 6 15.6 6 13.8 9 19.6 6 13.6 6 15.1 3 8.4 3 9.2 6 19.9 18 64.5 6 20 6 17.7 3 7.7 3 6.8 10 20.9 6 11.6 9 15.9 6 9.3 6 8.1 3 3.7 15 16.7 6 6.3 3 2.8 6 5 3 2 3 1.7 3 1.3 3 0.8 3 0.3 21 0.4 15 0 12-0.8 15-1.9 4 26.8 2 18.5 2 16.1 3 22M197 785.5l9 31.4 21 79.1 15 54.3 9 31 6 18.1 6 15.6 6 13.8 9 19.6 6 13.6 6 15 3 8.5 3 9.2 6 19.9 18 64.7 6 20.1 6 17.8 3 7.7 3 6.8 10 20.9 6 11.6 9 15.8 6 9.2 6 8.2 3 3.6 15 16.8 6 6.2 3 2.9 6 5 3 2 3 1.7 3 1.3 3 0.8 3 0.3 21 0.3 15 0 12-0.8 15-1.8 4 26.9 2 18.6 2 16.3 3 22.1M200 793.3l9 32.4 18 68.1 18 65.3 6 20.4 6 18.2 6 15.6 6 13.9 9 19.5 6 13.5 6 15.1 3 8.5 3 9.2 6 20 18 64.9 6 20.1 6 17.9 3 7.7 3 6.9 10 20.8 6 11.6 9 15.7 6 9.2 6 8.1 3 3.6 15 16.8 6 6.3 3 2.9 6 5 3 2 3 1.7 3 1.3 3 0.8 3 0.3 21 0.3 15 0 12-0.8 15-1.9 4 27.2 2 18.7 2 16.4 3 22.2M200 790.8l9 32.5 18 68.4 18 65.6 6 20.5 6 18.2 6 15.6 6 13.9 9 19.5 6 13.5 6 15.1 3 8.5 3 9.2 6 20 18 65.1 6 20.2 6 18 3 7.8 3 6.8 10 20.8 6 11.6 9 15.6 6 9.1 6 8.1 3 3.7 15 16.8 6 6.3 3 2.9 6 5 3 2.1 3 1.6 3 1.3 3 0.8 3 0.3 36 0.3 12-0.8 15-1.9 4 27.4 2 18.8 2 16.5 3 22.4M200 788.4l9 32.6 18 68.5 18 66 6 20.5 6 18.3 6 15.7 6 13.8 9 19.5 6 13.5 6 15.1 3 8.5 3 9.2 6 20.1 18 65.3 6 20.3 6 17.9 3 7.9 3 6.9 10 20.8 6 11.5 9 15.5 6 9.1 6 8.1 3 3.6 15 16.9 6 6.3 3 2.9 6 5 3 2.1 3 1.7 3 1.2 3 0.9 3 0.3 36 0.2 12-0.9 15-1.8 4 27.5 2 19 2 16.6 3 22.5M200 786l9 32.7 18 68.7 18 66.2 6 20.7 6 18.3 6 15.7 6 13.9 9 19.4 6 13.6 6 15 3 8.5 3 9.3 6 20.1 18 65.4 6 20.4 6 18 3 7.9 3 6.9 10 20.8 6 11.5 9 15.4 6 9.1 6 8.1 3 3.6 15 16.9 6 6.3 3 2.9 6 5.1 3 2 3 1.7 3 1.3 3 0.8 3 0.3 36 0.2 12-0.9 15-1.8 4 27.7 2 19.1 2 16.7 3 22.7M200 783.6l9 32.8 15 57.6 18 66.9 9 31.7 6 18.4 6 15.7 6 13.8 9 19.5 6 13.5 6 15.1 3 8.5 3 9.2 6 20.2 18 65.6 6 20.4 6 18.1 3 7.9 3 7 10 20.7 6 11.5 9 15.4 6 9.1 6 8 3 3.6 15 16.9 6 6.3 3 2.9 6 5.1 3 2.1 3 1.7 3 1.2 3 0.9 3 0.3 36 0.1 12-0.8 15-1.9 4 27.9 2 19.2 2 16.8 3 22.8M203 791.9l6 22.2 18 69.1 18 66.8 6 20.9 6 18.4 6 15.7 6 13.9 9 19.4 6 13.5 6 15.1 3 8.5 3 9.3 6 20.2 18 65.8 6 20.5 6 18.1 3 8 3 7 10 20.7 6 11.4 6 10.5 3 4.9 6 9 6 8 3 3.7 15 16.8 6 6.4 3 2.9 6 5.1 3 2 3 1.7 3 1.3 3 0.8 3 0.3 33 0.1 6-0.1 12-1 12-1.6 4 28.1 2 19.3 2 17 3 22.9M203 789.5l6 22.3 18 69.3 18 67.1 6 21 6 18.5 6 15.7 6 13.8 9 19.4 6 13.5 6 15.1 3 8.6 3 9.2 6 20.3 18 65.9 6 20.6 6 18.2 3 8 3 7 10 20.7 6 11.4 6 10.5 3 4.9 6 9 6 8 3 3.6 15 16.9 6 6.3 3 3 6 5 3 2.1 3 1.7 3 1.3 3 0.8 3 0.3 33 0.1 6-0.2 12-1 12-1.5 4 28.2 2 19.4 2 17.1 3 23.1M203 787.2l6 22.3 18 69.5 15 56.4 6 21.8 6 20 3 8.9 6 15.7 6 13.8 9 19.4 6 13.5 6 15.1 3 8.5 3 9.3 6 20.3 18 66.1 6 20.6 6 18.3 3 8 3 7.1 10 20.7 6 11.4 6 10.4 3 4.9 6 9 6 8 3 3.6 15 16.9 6 6.3 3 2.9 6 5.1 3 2.1 3 1.7 3 1.3 3 0.8 3 0.3 33 0 6-0.1 12-1.1 12-1.5 4 28.4 2 19.6 2 17.1 3 23.3M203 784.8l6 22.4 18 69.7 15 56.6 6 22 6 20 3 9 6 15.7 6 13.8 9 19.4 6 13.4 6 15.1 3 8.6 3 9.3 6 20.3 18 66.3 6 20.7 6 18.3 3 8.1 3 7 7 14.8 9 17.3 6 10.5 3 4.8 6 9 6 8 3 3.6 15 16.9 6 6.3 3 2.9 6 5.1 3 2.1 3 1.7 3 1.3 3 0.8 3 0.3 33 0 6-0.2 9-0.7 15-1.8 4 28.6 2 19.6 2 17.3 3 23.4M206 793.6l18 69.7 18 68.4 6 22.1 6 20.1 3 9 6 15.7 6 13.8 9 19.3 6 13.5 6 15.1 3 8.5 3 9.3 6 20.4 18 66.5 6 20.7 6 18.4 3 8.1 3 7.1 4 8.5 9 18 6 10.9 6 10 3 4.6 6 8.5 6 7.4 18 20.1 6 6.1 3 2.7 3 2.4 3 2 3 1.7 3 1.3 3 0.8 3 0.3 33 0 6-0.2 9-0.7 15-1.8 4 28.7 2 19.8 2 17.4 3 23.5M206 791.2l18 70 18 68.7 6 22.2 6 20.2 3 9 6 15.7 6 13.8 9 19.3 6 13.4 6 15.1 3 8.6 3 9.3 6 20.4 18 66.6 6 20.8 6 18.5 3 8.1 3 7.2 4 8.5 9 18 6 10.9 6 10 3 4.6 6 8.4 6 7.5 18 20.1 6 6 3 2.7 3 2.4 3 2 3 1.7 3 1.3 3 0.8 3 0.3 33 0 6-0.2 9-0.7 15-1.8 4 28.9 2 19.9 2 17.4 3 23.7M206 788.9l18 70.2 18 69 6 22.4 6 20.2 3 9 6 15.8 6 13.8 9 19.2 6 13.4 6 15.1 3 8.6 3 9.3 6 20.4 18 66.8 6 20.9 6 18.6 3 8.1 3 7.1 7 14.8 9 17.4 6 10.4 3 4.8 6 9 6 8 3 3.6 15 16.8 6 6.3 3 3 6 5 3 2.1 3 1.7 3 1.2 3 0.8 3 0.3 33 0 6-0.2 9-0.7 15-1.8 4 29.1 2 20 2 17.5 3 23.8M206 786.6l18 70.4 21 80.7 6 21.6 3 9.8 3 9 6 15.8 6 13.8 9 19.2 6 13.4 6 15.1 3 8.5 3 9.4 6 20.4 18 67 6 20.9 6 18.7 3 8.1 3 7.2 7 14.8 9 17.4 6 10.4 3 4.9 6 8.9 6 8 3 3.6 15 16.8 6 6.3 3 2.9 6 5.1 3 2 3 1.7 3 1.3 3 0.8 3 0.2 33 0 6-0.2 9-0.7 15-1.8 4 29.3 2 20.1 2 17.6 3 24M206 784.3l18 70.6 21 81.1 6 21.7 3 9.9 3 9 6 15.8 6 13.7 9 19.2 6 13.3 6 15.1 3 8.6 3 9.3 6 20.5 18 67.2 6 21 6 18.7 3 8.2 3 7.2 7 14.8 9 17.4 6 10.4 3 4.9 6 8.9 6 8 3 3.6 15 16.8 6 6.3 3 2.9 6 5 3 2.1 3 1.7 3 1.2 3 0.8 3 0.3 33-0.1 6-0.1 9-0.7 15-1.9 4 29.4 2 20.3 2 17.7 3 24.1M209 793.5l15 59.3 21 81.5 6 21.8 3 9.9 3 9 6 15.8 6 13.7 9 19.2 6 13.3 6 15.1 3 8.6 3 9.3 6 20.6 18 67.3 6 21 6 18.8 3 8.2 3 7.3 4 8.5 9 18.1 6 11 6 9.9 3 4.6 6 8.5 6 7.4 18 20 6 6 3 2.6 3 2.4 3 2 3 1.7 3 1.3 3 0.7 3 0.3 33 0 6-0.2 9-0.7 15-1.8 4 29.5 2 20.4 2 17.8 3 24.2M209 791.3l15 59.5 21 81.8 6 21.9 3 9.9 3 9.1 6 15.8 6 13.7 9 19.1 6 13.3 6 15.1 3 8.6 3 9.3 6 20.6 18 67.4 6 21.2 6 18.8 3 8.2 3 7.3 4 8.6 9 18.2 6 10.9 6 9.9 3 4.6 6 8.5 6 7.4 18 20 6 5.9 3 2.7 3 2.4 3 2 3 1.7 3 1.2 3 0.8 3 0.3 33-0.1 6-0.2 9-0.7 15-1.8 4 29.7 2 20.5 2 18 3 24.3M209 789l15 59.7 21 82.2 6 22 3 10 3 9 6 15.8 6 13.7 9 19.1 6 13.3 6 15.1 3 8.5 3 9.4 6 20.6 18 67.6 6 21.2 6 18.9 3 8.3 3 7.3 4 8.6 9 18.2 6 10.9 6 10 3 4.6 6 8.4 6 7.5 18 19.9 6 5.9 3 2.7 3 2.3 3 2.1 3 1.6 3 1.3 3 0.8 3 0.2 33 0 6-0.2 9-0.7 15-1.9 4 29.9 2 20.6 2 18.1 3 24.4M209 786.8l15 59.8 21 82.6 6 22.1 3 10 3 9.1 6 15.8 6 13.7 9 19 6 13.3 6 15 3 8.6 3 9.4 6 20.6 18 67.8 6 21.3 6 19 3 8.2 3 7.4 4 8.6 9 18.2 6 10.9 6 10 3 4.6 6 8.5 6 7.4 18 19.9 6 5.9 3 2.7 3 2.3 3 2 3 1.7 3 1.2 3 0.8 3 0.3 33-0.1 6-0.2 9-0.7 15-1.8 4 30.1 2 20.6 2 18.2 3 24.6M209 784.5l36 143 6 22.2 3 10.1 3 9.1 6 15.8 6 13.7 9 18.9 6 13.3 6 15 3 8.6 3 9.4 6 20.7 18 67.9 6 21.4 6 19 3 8.3 3 7.4 4 8.6 9 18.2 6 11 6 10 3 4.6 6 8.4 6 7.4 18 19.9 6 5.9 3 2.7 3 2.3 3 2 3 1.7 3 1.2 3 0.8 3 0.3 33-0.1 6-0.2 12-1 12-1.5 4 30.2 2 20.8 2 18.2 3 24.7M209 782.3l36 143.6 6 22.2 3 10.1 3 9.1 3 8.3 3 7.6 6 13.6 9 19 6 13.2 6 15 3 8.7 3 9.4 6 20.6 18 68.1 6 21.4 6 19.1 3 8.4 3 7.4 4 8.7 9 18.2 6 10.9 6 10 3 4.6 6 8.5 6 7.4 18 19.8 6 5.9 3 2.7 3 2.3 3 2 3 1.7 3 1.2 3 0.8 3 0.2 33-0.1 6-0.2 12-1 12-1.5 4 30.4 2 20.9 2 18.3 3 24.9M212 792l33 132.2 6 22.4 3 10.1 3 9.1 3 8.3 3 7.5 6 13.7 9 18.9 6 13.2 6 15.1 3 8.6 3 9.4 6 20.7 18 68.2 6 21.5 6 19.1 3 8.4 3 7.5 4 8.7 9 18.2 6 11 6 10 3 4.6 6 8.5 6 7.4 18 19.8 6 5.8 3 2.7 3 2.3 3 2 3 1.7 3 1.2 3 0.8 3 0.2 33-0.1 6-0.2 12-1 12-1.5 4 30.5 2 21.1 2 18.4 3 24.9M212 789.8l33 132.7 6 22.5 3 10.1 3 9.2 3 8.3 3 7.5 6 13.7 9 18.8 6 13.2 6 15.1 3 8.6 3 9.4 6 20.7 18 68.5 6 21.5 6 19.2 3 8.4 3 7.4 4 8.8 9 18.2 6 11 6 10 3 4.7 6 8.4 6 7.5 18 19.7 6 5.9 3 2.6 3 2.3 3 2 3 1.7 3 1.2 3 0.7 3 0.3 33-0.1 6-0.2 12-1 12-1.5 4 30.7 2 21.1 2 18.5 3 25.1M212 787.6l33 133.3 6 22.5 3 10.2 3 9.2 3 8.3 3 7.5 6 13.7 9 18.8 6 13.2 6 15 3 8.6 3 9.4 6 20.8 18 68.6 6 21.6 6 19.2 3 8.4 3 7.5 4 8.8 9 18.3 6 11 6 10 3 4.7 6 8.4 6 7.4 18 19.7 6 5.9 3 2.6 3 2.3 3 2 3 1.7 3 1.2 3 0.7 3 0.3 33-0.1 6-0.2 12-1 12-1.5 4 30.8 2 21.2 2 18.7 3 25.2M212 785.4l33 133.8 6 22.7 3 10.2 3 9.2 3 8.3 3 7.6 6 13.6 9 18.7 6 13.2 6 15 3 8.6 3 9.5 6 20.8 18 68.7 6 21.6 6 19.3 3 8.5 3 7.5 4 8.8 9 18.3 6 11.1 6 10 3 4.6 6 8.5 6 7.4 18 19.7 6 5.8 3 2.6 3 2.3 3 2 3 1.7 3 1.2 3 0.8 3 0.2 33-0.1 6-0.2 12-1 12-1.5 4 31 2 21.3 2 18.7 3 25.3"/>
<path d="M164 788l6.7 19 16.1 37.1 7.3 18.8 61 171.1 19.7 53 19.4 48.7 15.3 33 16.8 49.7 18.2 40.5 11.7 30.1 6.6 19.1 4.7 15.4 8.2 31.4 2.4 13.7 2.3 6.6 1.8 1.7 3.3 1.5 8.9 2.1 4.4 0.5 8-0.5 16.1-2.5 24.1-2 16.2 0.2 16.1 0.8 3.9 0.5 7.8 2.5 4.4 67.6 2 20.7 2 15.5 3.5 20.5 3.5 15.3 4.4 14.9 6 14.5 4.4 0 35.1-210.4 5.4-36.2 10.5-84.7 11.1-84.6 18.3-169.6 16-127.1 5.4-48.4-459 0z" fill="#cbcbce" filter="url(#bl5)"/>
<g fill="#cbcbce" filter="url(#bl5)" opacity="0.8"><path d="M388 1370L397 1370 395.5 1500 392 1518z"/><path d="M399.5 1370L407 1370 405.5 1450 403 1500z"/></g>
<path d="M258.5 788l1.5 10 50 137 72.5 205 17.5 42.5 20 45 15 27.5 4.5 6.5 2.5 2.3 3-1.8 7.5-7 7.5-15 10-25 5-25 7.5-25 6.3-20 8.7-16.2 10 37.2 10-38.5 5-37.5 7.5-100 5-100 3.8-92 0.2-10z" fill="#5fbbe5"/>
<path d="M491.1 790l0.3 0.7 2.9 12.5 3.2-3.2 0-6.5-2.7-2.8-0.2-0.7zM486.1 790l2.6 7.4 2.7 7.6 2.9 12.5 3.2-3.2-0.1-6.5-2.6-2.8-2.7-7.6-2.6-7.4zM481.2 790l2.3 6.6 2.6 7.6 2.6 7.5 2.7 7.6 2.9 12.4 3.2-3.1-0.1-6.5-2.7-2.8-2.6-7.6-2.7-7.5-2.6-7.6-2.4-6.6zM476.3 790l2 5.7 2.6 7.6 2.6 7.5 2.6 7.6 2.7 7.5 2.6 7.6 2.9 12.4 3.1-3.1 0-6.4-2.7-2.9-2.7-7.6-2.7-7.5-2.6-7.6-2.7-7.5-2.7-7.6-2-5.7zM471.4 790l3 8.5 1.3 3.8 2.6 7.5 2.6 7.6 2.6 7.5 2.6 7.6 2.6 7.5 2.7 7.6 2.8 12.3 3.2-3-0.1-6.4-2.7-2.9-2.7-7.6-2.7-7.5-2.6-7.6-2.7-7.5-2.7-7.6-2.7-7.5-1.3-3.8-3-8.5zM466.6 790l1.3 3.6 6.5 18.9 1.3 3.8 2.6 7.5 2.6 7.6 2.6 7.5 2.6 7.6 2.6 7.5 2.6 7.6 2.9 12.3 3.1-3-0.1-6.3-2.7-3-2.7-7.6-2.7-7.5-2.7-7.6-2.6-7.5-2.7-7.6-2.7-7.5-1.3-3.8-6.7-18.9-1.3-3.6zM461.8 790l6.1 17.5 6.5 18.9 1.3 3.7 2.6 7.6 2.6 7.5 2.6 7.6 2.6 7.5 2.6 7.6 2.6 7.5 2.9 12.2 3.1-2.8-0.2-6.2-2.7-3.2-2.7-7.5-2.7-7.6-2.7-7.5-2.7-7.6-2.6-7.5-2.7-7.6-1.4-3.7-6.6-18.9-6.2-17.5zM457.1 790l4.2 12.3 6.6 18.8 6.5 18.9 1.3 3.8 2.6 7.5 2.6 7.6 2.6 7.5 2.6 7.6 2.6 7.5 2.6 7.6 2.9 12.1 3-2.8-0.2-6.1-2.7-3.2-2.7-7.6-2.7-7.5-2.7-7.6-2.7-7.5-2.7-7.6-2.7-7.5-1.3-3.8-6.7-18.9-6.6-18.8-4.4-12.3zM452.4 790l2.4 6.9 6.5 18.8 6.6 18.9 6.5 18.9 1.3 3.8 2.6 7.5 2.6 7.6 2.6 7.5 2.6 7.6 2.6 7.5 2.5 7.6 2.9 11.9 3-2.6-0.2-6-2.7-3.3-2.7-7.6-2.7-7.5-2.7-7.6-2.7-7.5-2.7-7.6-2.7-7.5-1.4-3.8-6.6-18.9-6.7-18.9-6.7-18.8-2.4-6.9zM447.7 790l0.5 1.2 6.5 18.9 6.6 18.9 6.5 18.8 6.6 18.9 1.3 3.8 2.6 7.5 2.5 7.6 2.6 7.5 2.6 7.6 2.6 7.6 2.6 7.5 2.8 11.9 3-2.6-0.3-5.8-2.7-3.5-2.7-7.5-2.7-7.6-2.7-7.6-2.7-7.5-2.7-7.6-2.7-7.5-1.4-3.8-6.7-18.9-6.6-18.8-6.7-18.9-6.6-18.9-0.4-1.2zM443.1 790l5 14.2 6.5 18.9 6.6 18.9 6.5 18.8 6.5 18.9 1.3 3.8 2.6 7.5 2.6 7.6 2.6 7.6 2.6 7.5 2.6 7.6 2.5 7.5 2.9 11.7 2.9-2.4-0.3-5.7-2.7-3.6-2.8-7.5-2.7-7.6-2.7-7.5-2.7-7.6-2.7-7.6-2.7-7.5-1.3-3.8-6.7-18.9-6.7-18.8-6.6-18.9-6.7-18.9-5-14.2zM438.5 790l2.8 8.1 6.6 18.9 6.6 18.8 6.5 18.9 6.6 18.9 6.5 18.9 1.3 3.7 2.6 7.6 2.6 7.5 2.6 7.6 2.5 7.5 2.6 7.6 2.6 7.5 2.8 11.6 2.9-2.2-0.4-5.6-2.7-3.8-2.7-7.5-2.7-7.6-2.7-7.5-2.7-7.6-2.7-7.5-2.7-7.6-1.4-3.7-6.7-18.9-6.6-18.9-6.7-18.9-6.6-18.8-6.7-18.9-2.8-8.1zM434 790l0.6 1.7 6.6 18.9 6.6 18.8 6.5 18.9 6.6 18.9 6.5 18.9 6.5 18.8 1.3 3.8 2.6 7.6 2.6 7.5 2.6 7.6 2.6 7.5 2.6 7.6 2.5 7.5 2.9 11.4 2.8-2.1-0.5-5.3-2.7-4-2.7-7.5-2.8-7.6-2.7-7.5-2.7-7.6-2.7-7.5-2.7-7.6-1.3-3.8-6.7-18.8-6.7-18.9-6.6-18.9-6.7-18.9-6.6-18.8-6.6-18.9-0.6-1.7zM429.6 790l4.8 13.7 6.6 18.9 6.6 18.8 6.6 18.9 6.5 18.9 6.6 18.9 6.5 18.9 1.3 3.7 2.6 7.6 2.6 7.5 2.6 7.6 2.5 7.5 2.6 7.6 2.6 7.5 2.8 11 2.7-1.6-0.6-5.1-2.7-4.3-2.7-7.5-2.7-7.6-2.7-7.5-2.7-7.6-2.7-7.5-2.7-7.6-1.4-3.7-6.6-18.9-6.7-18.9-6.7-18.9-6.6-18.9-6.6-18.8-6.7-18.9-4.8-13.7zM425.5 790l2.1 6.1 6.6 18.9 6.6 18.9 6.6 18.9 6.6 18.8 6.5 18.9 6.6 18.9 6.5 18.9 1.3 3.8 2.6 7.5 2.6 7.6 2.6 7.5 2.6 7.6 2.6 7.5 2.5 7.6 2.9 10.6 2.5-1.3-0.6-4.7-2.8-4.6-2.7-7.6-2.7-7.5-2.7-7.6-2.7-7.5-2.7-7.6-2.7-7.5-1.3-3.8-6.7-18.9-6.7-18.9-6.6-18.9-6.6-18.8-6.7-18.9-6.6-18.9-6.6-18.9-2.2-6.1zM421.5 790l5.9 16.8 6.6 18.9 6.6 18.8 6.6 18.9 6.6 18.9 6.5 18.9 6.6 18.9 6.5 18.8 1.3 3.8 2.6 7.6 2.6 7.5 2.6 7.6 2.6 7.5 2.6 7.6 2.6 7.5 2.8 10.4 2.5-1.1-0.8-4.4-2.7-4.9-2.8-7.5-2.7-7.6-2.7-7.5-2.7-7.6-2.6-7.5-2.7-7.6-1.4-3.8-6.6-18.8-6.7-18.9-6.6-18.9-6.7-18.9-6.6-18.9-6.6-18.8-6.6-18.9-5.9-16.8zM417.7 790l9.4 26.9 6.6 18.9 6.6 18.8 6.6 18.9 6.6 18.9 6.6 18.9 6.6 18.9 6.5 18.8 1.3 3.8 2.6 7.6 2.6 7.5 2.6 7.6 2.6 7.5 2.6 7.6 2.5 7.5 2.9 10.2 2.4-0.9-0.9-4.2-2.7-5.1-2.7-7.5-2.7-7.6-2.7-7.5-2.7-7.6-2.7-7.5-2.7-7.6-1.3-3.8-6.7-18.8-6.6-18.9-6.7-18.9-6.6-18.9-6.6-18.9-6.7-18.8-6.6-18.9-9.4-26.9zM414 790l12.8 36.6 6.6 18.9 6.6 18.9 6.6 18.9 6.6 18.8 6.6 18.9 6.6 18.9 6.5 18.9 1.3 3.7 2.6 7.6 2.6 7.5 2.6 7.6 2.6 7.5 2.6 7.6 2.5 7.5 2.9 10.1 2.3-0.7-0.9-4.1-2.7-5.3-2.7-7.5-2.8-7.6-2.7-7.5-2.7-7.6-2.6-7.5-2.7-7.6-1.4-3.7-6.6-18.9-6.7-18.9-6.6-18.9-6.6-18.8-6.6-18.9-6.7-18.9-6.6-18.9-12.8-36.6zM410.3 790l16.1 46 6.6 18.9 6.6 18.9 6.6 18.9 6.6 18.8 6.6 18.9 6.6 18.9 6.5 18.9 1.3 3.7 2.6 7.6 2.6 7.5 2.6 7.6 2.6 7.5 2.6 7.6 2.6 7.5 2.8 9.9 2.3-0.5-1-4-2.7-5.4-2.7-7.5-2.7-7.6-2.7-7.5-2.7-7.6-2.7-7.5-2.7-7.6-1.3-3.7-6.7-18.9-6.6-18.9-6.7-18.9-6.6-18.8-6.6-18.9-6.6-18.9-6.6-18.9-16.1-46zM406.7 790l19.3 55.1 6.6 18.9 6.6 18.9 6.6 18.8 6.6 18.9 6.6 18.9 6.6 18.9 6.5 18.9 1.3 3.7 2.6 7.6 2.6 7.5 2.6 7.6 2.6 7.5 2.6 7.6 2.5 7.5 2.9 9.8 2.2-0.4-1-3.8-2.7-5.6-2.8-7.5-2.7-7.6-2.7-7.5-2.7-7.6-2.7-7.5-2.6-7.6-1.4-3.7-6.6-18.9-6.7-18.9-6.6-18.9-6.6-18.9-6.6-18.8-6.6-18.9-6.6-18.9-19.3-55.1zM403.1 790l2.6 7.3 19.8 56.6 6.6 18.9 6.6 18.9 6.6 18.9 6.6 18.8 6.6 18.9 6.6 18.9 6.5 18.9 1.4 3.7 2.6 7.6 2.6 7.5 2.6 7.6 2.6 7.6 2.5 7.5 2.6 7.6 2.8 9.6 2.2-0.3-1-3.7-2.8-5.6-2.7-7.6-2.7-7.5-2.7-7.6-2.7-7.6-2.7-7.5-2.7-7.6-1.3-3.7-6.7-18.9-6.6-18.9-6.6-18.9-6.7-18.8-6.6-18.9-6.6-18.9-6.6-18.9-19.8-56.6-2.6-7.3zM399.6 790l5.6 15.9 19.8 56.6 6.6 18.9 6.6 18.8 6.6 18.9 6.6 18.9 6.6 18.9 6.6 18.9 6.6 18.8 1.3 3.8 2.6 7.6 2.6 7.5 2.6 7.6 2.6 7.5 2.5 7.6 2.6 7.5 2.8 9.5 2.2-0.2-1.1-3.5-2.8-5.8-2.7-7.5-2.7-7.6-2.7-7.5-2.7-7.6-2.7-7.5-2.7-7.6-1.3-3.8-6.7-18.8-6.6-18.9-6.6-18.9-6.6-18.9-6.6-18.9-6.6-18.8-6.6-18.9-19.9-56.6-5.5-15.9zM396.2 790l8.5 24.2 19.8 56.6 6.6 18.9 6.6 18.9 6.6 18.9 6.6 18.8 6.6 18.9 6.6 18.9 6.5 18.9 1.3 3.7 2.7 7.6 2.6 7.5 2.6 7.6 2.6 7.5 2.5 7.6 2.6 7.5 2.8 9.4 2.1 0-1.1-3.5-2.8-5.9-2.7-7.5-2.7-7.6-2.7-7.5-2.7-7.6-2.7-7.5-2.7-7.6-1.3-3.7-6.7-18.9-6.6-18.9-6.6-18.9-6.6-18.8-6.6-18.9-6.6-18.9-6.6-18.9-19.9-56.6-8.4-24.2zM392.7 790l11.3 32.3 19.9 56.6 6.6 18.9 6.6 18.9 6.6 18.9 6.6 18.8 6.6 18.9 6.6 18.9 6.5 18.9 1.4 3.7 2.6 7.6 2.6 7.5 2.6 7.6 2.6 7.5 2.5 7.6 2.6 7.5 2.8 9.3 2.1 0.1-1.2-3.4-2.8-6-2.7-7.5-2.7-7.6-2.7-7.5-2.7-7.6-2.7-7.5-2.6-7.6-1.4-3.7-6.6-18.9-6.6-18.9-6.7-18.9-6.6-18.8-6.6-18.9-6.6-18.9-6.6-18.9-19.8-56.6-11.3-32.3zM389.3 790l14 40.2 19.9 56.6 6.6 18.9 6.6 18.9 6.6 18.9 6.6 18.8 6.6 18.9 6.6 18.9 6.6 18.9 1.3 3.7 2.6 7.6 2.6 7.5 2.6 7.6 2.6 7.5 2.6 7.6 2.5 7.5 2.8 9.3 2.1 0.1-1.2-3.3-2.8-6.1-2.8-7.5-2.7-7.6-2.7-7.5-2.7-7.6-2.6-7.5-2.7-7.6-1.3-3.7-6.7-18.9-6.6-18.9-6.6-18.9-6.6-18.8-6.6-18.9-6.6-18.9-6.6-18.9-19.9-56.6-14-40.2zM385.8 790l16.8 47.9 19.8 56.6 6.6 18.9 6.6 18.9 6.6 18.9 6.6 18.8 6.6 18.9 6.6 18.9 6.6 18.9 1.3 3.8 2.6 7.5 2.6 7.6 2.6 7.5 2.6 7.6 2.6 7.5 2.5 7.6 2.8 9.1 2.1 0.2-1.3-3.2-2.8-6.1-2.7-7.6-2.7-7.5-2.7-7.6-2.7-7.5-2.7-7.6-2.6-7.5-1.4-3.8-6.6-18.9-6.6-18.9-6.6-18.9-6.6-18.8-6.6-18.9-6.6-18.9-6.7-18.9-19.8-56.6-16.7-47.9zM454.6 996.5l6.6 18.8 6.6 18.9 1.3 3.8 2.6 7.5 2.6 7.6 2.6 7.5 2.6 7.6 2.6 7.5 2.5 7.6 2.8 9 2 0.3-1.3-3-2.7-6.3-2.8-7.6-2.7-7.5-2.7-7.6-2.7-7.5-2.6-7.6-2.7-7.5-1.3-3.8-6.7-18.9-6.6-18.8zM460.3 1022.7l6.6 18.9 1.3 3.8 2.6 7.5 2.6 7.6 2.7 7.5 2.5 7.6 2.6 7.5 2.6 7.6 2.8 8.9 1.9 0.4-1.3-3-2.8-6.3-2.7-7.6-2.7-7.5-2.7-7.6-2.7-7.5-2.7-7.6-2.6-7.5-1.4-3.8-6.6-18.9zM467.2 1052.6l2.6 7.5 2.7 7.6 2.6 7.5 2.6 7.6 2.5 7.5 2.6 7.6 2.8 8.8 1.9 0.5-1.3-2.9-2.8-6.4-2.8-7.6-2.7-7.5-2.7-7.6-2.6-7.5-2.7-7.6-2.7-7.5zM468.7 1067.1l2.6 7.6 2.6 7.5 2.6 7.6 2.6 7.6 2.6 7.5 2.7 8.8 1.9 0.5-1.3-2.8-2.8-6.5-2.7-7.5-2.7-7.6-2.7-7.6-2.7-7.5-2.7-7.6zM470.1 1081.6l2.6 7.5 2.6 7.6 2.6 7.5 2.6 7.6 2.7 8.7 1.9 0.6-1.3-2.7-2.8-6.6-2.8-7.6-2.7-7.5-2.7-7.6-2.7-7.5zM468.9 1088.4l2.6 7.5 2.6 7.6 2.6 7.5 2.5 7.6 2.8 8.6 1.9 0.7-1.4-2.7-2.8-6.6-2.7-7.6-2.7-7.5-2.7-7.6-2.7-7.5zM470.3 1102.5l2.6 7.6 2.6 7.5 2.5 7.6 2.8 8.6 1.8 0.7-1.4-2.6-2.8-6.7-2.7-7.6-2.7-7.5-2.7-7.6zM469 1109l2.6 7.6 2.6 7.5 2.5 7.6 2.8 8.5 1.8 0.8-1.4-2.6-2.8-6.7-2.7-7.6-2.7-7.5-2.7-7.6zM467.7 1115.4l2.6 7.5 2.6 7.6 2.5 7.5 2.8 8.5 1.8 0.9-1.4-2.5-2.8-6.9-2.8-7.5-2.7-7.6-2.6-7.5zM469 1129.2l2.6 7.5 2.6 7.6 2.8 8.4 1.7 0.9-1.4-2.4-2.8-6.9-2.8-7.6-2.7-7.5zM467.8 1135.3l2.6 7.6 2.6 7.5 2.8 8.4 1.7 1-1.4-2.4-2.8-7-2.8-7.5-2.7-7.6zM466.8 1141.4l2.6 7.5 2.6 7.6 2.8 8.3 1.7 1-1.5-2.3-2.8-7-2.7-7.6-2.7-7.5zM468.5 1154.9l2.5 7.5 2.8 8.3 1.7 1-1.5-2.3-2.8-7-2.7-7.5zM467.5 1160.7l2.6 7.6 2.8 8.2 1.7 1.1-1.5-2.3-2.8-7-2.8-7.6zM466.6 1166.5l2.6 7.5 2.8 8.2 1.7 1.1-1.6-2.2-2.8-7.1-2.7-7.5zM465.6 1172.2l2.6 7.5 2.8 8.2 1.7 1.1-1.6-2.1-2.8-7.2-2.7-7.5zM464.6 1177.8l2.6 7.5 2.8 8.1 1.6 1.2-1.6-2.1-2.7-7.2-2.7-7.5zM463.5 1183.3l2.6 7.6 2.8 8.1 1.6 1.2-1.6-2.1-2.8-7.2-2.6-7.6z" fill="#fff"/>
<path d="M310.8 1130l6.9 13.4 11.1 22.6 5.9 11 4 6.4 13 18.6 2.6 4.2 2.4 4.4 4.4 9 9.2 20.7 9.6 20.5 6.8 13.5 9.2 15.5 2.9 4.3 3.3 3.7 1.8 1.4 4.1 2.5 2.4 1.1 2.5 0.7 2.5 0.2 5-0.4 4.9-0.9 2.4-0.7 2.4-1.1 4.3-2.7 1.8-1.4 1.7-1.8 6-8.3 6.4-7.8 2.6-4.3 6.7-13.5 5.3-8.7 4.4-6.1 1.7-1.9 3.5-3.4 3.9-3.3 2.2-1.5 2.2-1.2 2.2-1 2.5-0.8 2.4-0.4 2.1 0.6 2 1.8 1.8 2.2 2.5 4.4 1.8 4.6 2.2 7.4 1.6 7.5 1.3 7.4 2 14.9 1.3 7.5 1 4.9 1.8 5.3 1.2 1.5 1.3-1.6 1.1-2.9 1-4.8 0.7-4.9 0.8-7.5 2.6-30.3 6-82.6 1.8-25.1 1.4-22.5 5.2-100.4 2.7-40 3-30 7.6-67.4 9.3-92.5" fill="none" stroke="#4caf50" stroke-width="1.2" stroke-linejoin="round"/>
<path d="M310.8 1130l7 19.4 6.8 16.7 24.4 56.8 3.3 7 6.9 13.8 3.1 7.1 5.5 14.4 4.7 14.8" fill="none" stroke="#4caf50" stroke-width="1.2" stroke-linejoin="round"/>
<path d="M451.2 1345l4.3-2.6 11.3-6.1 2.4-1.1 2.3-0.9 2.3-0.5 2.4 0 2.5 0.6 2.4 1 4.4 2.4 1.8 1.5 3.4 3.8 2.9 4.4 2.4 4.4 2.8 6.9 4.7 14.4 8 30.2 0.8 2.9 0.9 2 0.8 0.4 0.8-1.3 0.9-2.6 0.9-3 1.1-5.6 1.5-9.8 2.9-30.1 2.3-20 12.6-104.6 4.4-34.8 3.7-27.4 19.3-126.5 23.8-151.1 3.3-22.4 7.4-54.7 3.6-24.8" fill="none" stroke="#4caf50" stroke-width="1.2" stroke-linejoin="round"/>
<path d="M310.8 1130l25.4 49.5 14.3 26.7 4.6 9 7.3 16.1 22.7 53.7 4.4 9 6.1 11.3 2.7 4.3 3 4 5.2 5.8 2 1.7 2.2 1.3 2.2 0.7 4.8 0.5 5.3 0.2" fill="none" stroke="#3a3a3c" stroke-width="1.2" stroke-linejoin="round"/>
<path d="M129 800l0.9 1.9 0.6 4 0.8 1.9 0.5 2 0.9 1.9 0.5 4 1.3 3.9 1 1.8 0.1 2.1 0.6 2 1.3 1.7 0 2.1 1.1 1.8 1 3.9 0.7 1.9 0.6 4.1 1.2 1.8 2.1 5.7 0.3 2 0.7 1.9 1.4 1.7 0.1 2.1 0.7 1.9 0.5 2 2.3 5.7 0.1 2.1 2.2 3.5 0.8 1.9 0.4 2 1.2 1.8 0.5 1.9 1.2 1.8 0.2 2.1 0.9 1.8 1.4 6 3.8 9.4 0.9 4 2.1 3.6-0.3 2.2 1 1.8 0.4 2.1 1.1 3.9 1.7 3.7 0.2 2 2.6 7.7 0.5 2 1.1 1.8 0.3 2.1 0.5 1.9 1 1.8 0.5 2 0.8 1.9 0.5 2 1.3 1.7 0.4 4.1 0.8 1.9 1.1 3.9 2.3 5.7 0.2 2.1 1.8 5.8 0.8 1.9 0.5 2 1.1 1.7 0.3 2.1 1 1.8 1.3 3.8 1 4 2.5 5.6 0.3 2 1.1 1.8 0.6 1.9 1.3 1.7 0.3 2.1 0.9 1.8 1.7 5.9 2.3 3.4 0.5 2.1 1.8 3.6 0.1 1.7 2 0.7 0 1.7 2.1 0.5-1.5 2.7 0.9 1.3 4.4-1.1-2.8 3.8 2.9-0.2 0.5 1.4 0.5 3.6 1.2 1 4.2-1.9-1.3 3.4 1.1 1.2 1.2 0.9 0.6 1.6 2.3-0.4 0.1 2.3 3.6-2.3 0 2.5 1.3 0.8 1 1.4 0.7 1.7 1.6 0.4 0.7 1.7 2.5-1.1 0.1 2.6 1.4 0.7 1.9-0.1 1.2 0.9 0.2 2.5 1.9-0.1-0.2 3 2.5-0.9 1.1 1 2-0.2 1.2 1 1.3 0.8 0.2 2.3 3.4-2-0.8 3.7 2.1-0.4 2.4 2 1.4 0.7 1 1.2 3.1-1.4 0 4.9 1.4 0.7 2.3-0.2 0.5 1.7 1.2 1 2.6-0.2-1.5 3.1 1.2 1.1 1.8 0.6-0.5 2.2 0.2 1.7 2.5 0.4-0.3 1.9 1 1.8-0.2 2.3 0.4 2 0.7 2 1.5 1.6 0.5 2 0 2.2 1.5 1.6 0.6 2 1.8 1.4 0.4 2.1 1.2 1.7-0.3 2.4 1.7 1.4 0.2 2.1 1.5 1.5 0.8 1.9 1.5 1.5 0.5 2.1 0.3 2.2 2.5 0.9 0.7 4.3 2.3 1 1 1.8 0.3 2.2 0.7 2 3.1 0.6-0.9 2.8 0.8 1.9 2 1.3 0.1 2.2 2 3.6-0.7 2.6 3.1 0.8 0.4 2.1 0.2 2.1 1.4 1.6 0.9 1.9 0.3 2.1-0.2 2.3 2.6 1.1 0.5 2 1.2 1.7 1.8 6 2.6 1-0.8 2.6 1 1.8 1.5 1.6 0.9 1.8 0.6 2 1 1.8-1 2.7 2 1.3 1.5 1.6 0.4 2.1 0.9 1.8 1.6 1.5-0.3 2.4 1.7 1.4 1.1 1.8 0.9 1.8 1.7 6 1.1 1.8 3 3-0.1 2.4 1.7 1.3 1.2 1.7 0.2 2.3 2 1.1 1.4 1.6 0.1 2.3 1.1 1.7 0.6 2.1 1.8 1.3 1.5 1.4 0.2 2.3 1.5 1.5 0.9 1.5 1.1 1.2 2.7-0.8 0.8 1.6 0.5 2.3 2.1 0 1.9 0.2 0.2 1.9 1.5 0.8-0.5 2 1.8 0.7 0.2 1.7 1.9 0.8-1.5 2.4 2.2 0.9-1.2 2.1 1.9 1.2-0.5 1.9 0.5 1.6 0.2 1.7 3.6 0.7-1.2 2.2 0.1 3.5 1.5 1.3-0.5 2 0.6 1.5 2.7 0.8-1.3 4 2.5 0.7-0.9 2.2 2.3 0.7-0.9 2.2 0 1.8 2.2 0.8-0.6 2.1 1.9 0.8 1.4 1.2 0.3 1.6-0.1 1.9 2 0.8 1 1.3 0.2 1.8-0.9 2.2 2.4 0.6 0.4 1.7 0.1 1.8-0.9 2.3 3.7-0.2 0.7 1.5 1 1.4 0.5 1.5-1 2.4 2.5 0.5 2.1 0.7-1.2 2.5 0.9 1.4 0.2 1.7 1 1.3 0.8 1.4 1.9 0.9-0.2 1.9 1.8 0.9 0.7 1.4 0.2 1.8 0.8 1.4 0.2 1.8 1.3 1.1 1.5 0.6 1.1 0.8 0.4 1.4 1.2 0.7 0.7 1.3 2.7 0.3 1 0.6 1.1 0.8 0.8 2 1.7-1.2 1.2 1.2 1.3 0.4 1.4 0.7 1.2-2.4 1.2-0.2 1.5 0.5 4.2 2.1 4.4 1.1 4.6 0.6 2.2-0.5 4.7-0.2 6.6-2 2-1.1 0-67.5 3.6-8.4 1.4-2.7 2.8-8.5 0.7-3 1.9-5.7 0.4-3.1 1.1-2.8 0.7-3 0.2-3 1.2-2.8 4.5-17.6 1-6 0.9-12.1 0.7-2.9 0.2-3 0.3-3 0.7-3 0.7-6 0.7-3 0.2-3 1-2.9 0.4-3 1.5-5.8 0.6-3 0.3-3 1.2-2.9 0.3-3 1.9-8.9 0.3-3 1.6-5.8 0.6-6.1 2.2-11.8 0.2-3.1 1-2.9 0.1-3 1.8-8.9 0.3-6.1 0.9-2.9 0.1-3.1 0.6-2.9 1.1-9-0.1-3.1 1.1-9 0.1-3 0.5-3 0.6-6 0.4-9.1 0.6-6 0-3 0.8-9.1 0-3 0.7-6 0-3 0.5-6 0.1-9.1 0.5-3 0.3-6.1 0.2-9 0.6-9.1-0.2-3 0.8-12.1 0.1-9 0.6-6.1-0.2-3 0.3-3-0.1-3 0.2-3.1 0.6-3-0.3-3 0.5-9.1-0.2-3 0.5-3-0.3-3 0.5-3 0.1-6.1 0.3-3-0.2-3 0.5-6.1-0.2-3 0.4-3-0.1-9.1 0.2-3-0.2-3 0.4-3 0.1-12.1 0.5-6-0.4-3.1 0.3-3-0.2-3 0.4-9.1 0-6 0.3-6.1-0.1-3 0.6-9-0.4-3.1 0.1-3" fill="none" stroke="#e03c28" stroke-width="1.5" stroke-linejoin="round"/>
</g>
<g stroke="#111" stroke-width="2.2" fill="none" stroke-dasharray="9.7 9.45"><path d="M310.9 799.5V1547"/><path d="M423.3 799.5V1547"/></g>
<path d="M313 952H421" stroke="#111" stroke-width="1.8" fill="none"/>
<g fill="#111"><path d="M311.8 952l7-3v6z"/><path d="M422.4 952l-7-3v6z"/></g>
<text x="784" y="831" font-size="31" text-anchor="middle">(b)</text>
<rect x="692" y="1509.5" width="117" height="31" fill="#fff"/>
<text x="750.5" y="1534" font-size="26.5" text-anchor="middle">gain = 67</text>
<text x="353" y="985" font-size="37" transform="translate(353,985) scale(1.25,1) translate(-353,-985)">t</text><text x="369.5" y="989.5" font-size="17">d</text>
<path d="M1690 435l-350.5-2-6 1.3-2.8 1-2.8 1.1-5.6 2.8-5.3 3.3-4.9 3.7-2.2 1.8-2.1 2.2-7.4 10.1-2.1 2-2.4 1.6-5.4 2.7-22.6 10.3-4.9 3.1-2.3 1.9-4.2 4.3-3.9 4.9-5.4 7.5-6.1 10.6-5.8 6.9-6.4 6.5-13.7 12.4-21.4 17.2-4.5 4-4.3 4.3-8.1 9.1-17.4 21.2-20.3 22.8-5.7 7.1-5.5 7.3 2.4 2 2.6 1.5 2.8 1.3 5.9 1.6 6 0.9 12.3 0.5 9.1-0.1 15.3-0.8 9.1-0.8 51.6-6.2 12.1-1.8 9.1-1.7 5.9-1.4 26.6-7.2 11.9-2.8 9-1.8 2.7-1.1 5.2-3.4 5.9-1.8 6-0.9 350.5 0" fill="none" stroke="#fff" stroke-width="3" stroke-linejoin="round"/>
<g stroke="#fff" stroke-width="2.1" fill="none" stroke-dasharray="9.7 9.45"><path d="M1128 12V759"/><path d="M1339.5 12V759"/></g>
<path d="M1130 163.7H1337.5" stroke="#fff" stroke-width="1.8" fill="none"/>
<g fill="#fff"><path d="M1129 163.7l7-3v6z"/><path d="M1338.5 163.7l-7-3v6z"/></g>
<g fill="#fff"><text x="1224" y="192.5" font-size="37" style="fill:#fff" transform="translate(1224,192.5) scale(1.25,1) translate(-1224,-192.5)">t</text><text x="1240.5" y="197.0" font-size="17" style="fill:#fff">d</text><text x="1661" y="43" font-size="31" text-anchor="middle" style="fill:#fff">(c)</text></g>
<g font-size="23" text-anchor="middle"><text x="1522" y="510">mixing</text><text x="1522" y="539.5">layer</text></g>
<path d="M1690 1207l-396 0-2.2 5.7-1.8 5.8-10.3 41.4-3.2 8.6-2.9 5.3-3.8 4.7-16.2 18.4-3.9 4.7-5.3 7.4-11.4 18-7.4 10-1.6 2.5-1.3 2.7-4.2 14.8-1 2.8-1.5 2.4-2 2.1-10 7.7-4.5 4-8.9 8.4-8.6 8.6 2.1 2.5 2.4 1.7 2.8 1 3.1 0.8 9.2 1.7 12.4 1.1 21.7 1.2 3 0 3.1-0.4 3.1-0.7 8.9-2.7 11.5-4.9 5.7-2.6 5-3.3 4.6-4.3 4.1-4.7 5.4-7.6 3.9-4.8 396 0.5" fill="none" stroke="#fff" stroke-width="3" stroke-linejoin="round"/>
<g stroke="#fff" stroke-width="2.1" fill="none" stroke-dasharray="9.7 9.45"><path d="M1182 800V1547"/><path d="M1294 800V1547"/></g>
<path d="M1184 952H1292" stroke="#fff" stroke-width="1.8" fill="none"/>
<g fill="#fff"><path d="M1183 952l7-3v6z"/><path d="M1293 952l-7-3v6z"/></g>
<g fill="#fff"><text x="1224" y="984" font-size="37" style="fill:#fff" transform="translate(1224,984) scale(1.25,1) translate(-1224,-984)">t</text><text x="1240.5" y="988.5" font-size="17" style="fill:#fff">d</text><text x="1661" y="831" font-size="31" text-anchor="middle" style="fill:#fff">(d)</text></g>
<g font-size="23" text-anchor="middle"><text x="1522" y="1283">mixing</text><text x="1522" y="1312.5">layer</text></g>
<rect x="68" y="10.2" width="748" height="748.8" fill="none" stroke="#000" stroke-width="4"/>
<path d="M68 761v11M86.7 761v3.6M105.4 761v3.6M124.1 761v3.6M142.8 761v3.6M161.5 761v7.3M180.2 761v3.6M198.9 761v3.6M217.6 761v3.6M236.3 761v3.6M255 761v11M273.7 761v3.6M292.4 761v3.6M311.1 761v3.6M329.8 761v3.6M348.5 761v7.3M367.2 761v3.6M385.9 761v3.6M404.6 761v3.6M423.3 761v3.6M442 761v11M460.7 761v3.6M479.4 761v3.6M498.1 761v3.6M516.8 761v3.6M535.5 761v7.3M554.2 761v3.6M572.9 761v3.6M591.6 761v3.6M610.3 761v3.6M629 761v11M647.7 761v3.6M666.4 761v3.6M685.1 761v3.6M703.8 761v3.6M722.5 761v7.3M741.2 761v3.6M759.9 761v3.6M778.6 761v3.6M797.3 761v3.6M816 761v11M66 759h-11.5M66 744h-3.8M66 729h-3.8M66 714.1h-3.8M66 699.1h-3.8M66 684.1h-7.5M66 669.1h-3.8M66 654.2h-3.8M66 639.2h-3.8M66 624.2h-3.8M66 609.2h-11.5M66 594.3h-3.8M66 579.3h-3.8M66 564.3h-3.8M66 549.3h-3.8M66 534.4h-7.5M66 519.4h-3.8M66 504.4h-3.8M66 489.4h-3.8M66 474.5h-3.8M66 459.5h-11.5M66 444.5h-3.8M66 429.5h-3.8M66 414.6h-3.8M66 399.6h-3.8M66 384.6h-7.5M66 369.6h-3.8M66 354.6h-3.8M66 339.7h-3.8M66 324.7h-3.8M66 309.7h-11.5M66 294.7h-3.8M66 279.8h-3.8M66 264.8h-3.8M66 249.8h-3.8M66 234.8h-7.5M66 219.9h-3.8M66 204.9h-3.8M66 189.9h-3.8M66 174.9h-3.8M66 160h-11.5M66 145h-3.8M66 130h-3.8M66 115h-3.8M66 100.1h-3.8M66 85.1h-7.5M66 70.1h-3.8M66 55.1h-3.8M66 40.2h-3.8M66 25.2h-3.8M66 10.2h-11.5" stroke="#000" stroke-width="2.1" fill="none"/>
<g font-size="26.5"><text x="50.5" y="767.8" text-anchor="end">0</text><text x="50.5" y="618" text-anchor="end">10</text><text x="50.5" y="468.3" text-anchor="end">20</text><text x="50.5" y="318.5" text-anchor="end">30</text><text x="50.5" y="168.8" text-anchor="end">40</text><text x="50.5" y="19" text-anchor="end">50</text></g>
<rect x="68" y="798" width="748" height="749" fill="none" stroke="#000" stroke-width="4"/>
<path d="M68 1549v11M86.7 1549v3.6M105.4 1549v3.6M124.1 1549v3.6M142.8 1549v3.6M161.5 1549v7.3M180.2 1549v3.6M198.9 1549v3.6M217.6 1549v3.6M236.3 1549v3.6M255 1549v11M273.7 1549v3.6M292.4 1549v3.6M311.1 1549v3.6M329.8 1549v3.6M348.5 1549v7.3M367.2 1549v3.6M385.9 1549v3.6M404.6 1549v3.6M423.3 1549v3.6M442 1549v11M460.7 1549v3.6M479.4 1549v3.6M498.1 1549v3.6M516.8 1549v3.6M535.5 1549v7.3M554.2 1549v3.6M572.9 1549v3.6M591.6 1549v3.6M610.3 1549v3.6M629 1549v11M647.7 1549v3.6M666.4 1549v3.6M685.1 1549v3.6M703.8 1549v3.6M722.5 1549v7.3M741.2 1549v3.6M759.9 1549v3.6M778.6 1549v3.6M797.3 1549v3.6M816 1549v11M66 1547h-11.5M66 1532h-3.8M66 1517h-3.8M66 1502.1h-3.8M66 1487.1h-3.8M66 1472.1h-7.5M66 1457.1h-3.8M66 1442.1h-3.8M66 1427.2h-3.8M66 1412.2h-3.8M66 1397.2h-11.5M66 1382.2h-3.8M66 1367.2h-3.8M66 1352.3h-3.8M66 1337.3h-3.8M66 1322.3h-7.5M66 1307.3h-3.8M66 1292.3h-3.8M66 1277.4h-3.8M66 1262.4h-3.8M66 1247.4h-11.5M66 1232.4h-3.8M66 1217.4h-3.8M66 1202.5h-3.8M66 1187.5h-3.8M66 1172.5h-7.5M66 1157.5h-3.8M66 1142.5h-3.8M66 1127.6h-3.8M66 1112.6h-3.8M66 1097.6h-11.5M66 1082.6h-3.8M66 1067.6h-3.8M66 1052.7h-3.8M66 1037.7h-3.8M66 1022.7h-7.5M66 1007.7h-3.8M66 992.7h-3.8M66 977.8h-3.8M66 962.8h-3.8M66 947.8h-11.5M66 932.8h-3.8M66 917.8h-3.8M66 902.9h-3.8M66 887.9h-3.8M66 872.9h-7.5M66 857.9h-3.8M66 842.9h-3.8M66 828h-3.8M66 813h-3.8M66 798h-11.5" stroke="#000" stroke-width="2.1" fill="none"/>
<g font-size="26.5"><text x="50.5" y="1555.8" text-anchor="end">0</text><text x="50.5" y="1406" text-anchor="end">10</text><text x="50.5" y="1256.2" text-anchor="end">20</text><text x="50.5" y="1106.4" text-anchor="end">30</text><text x="50.5" y="956.6" text-anchor="end">40</text><text x="50.5" y="806.8" text-anchor="end">50</text><text x="69.5" y="1592.7" text-anchor="middle">15.9</text><text x="256.5" y="1592.7" text-anchor="middle">16.0</text><text x="443.5" y="1592.7" text-anchor="middle">16.1</text><text x="630.5" y="1592.7" text-anchor="middle">16.2</text><text x="817.5" y="1592.7" text-anchor="middle">16.3</text><text x="452.5" y="1621.5" text-anchor="middle" font-size="23.5">time [ns]</text></g>
<rect x="938.3" y="10.2" width="749" height="748.8" fill="none" stroke="#000" stroke-width="4"/>
<path d="M938.3 761v11M957 761v3.6M975.8 761v3.6M994.5 761v3.6M1013.2 761v3.6M1031.9 761v7.3M1050.6 761v3.6M1069.4 761v3.6M1088.1 761v3.6M1106.8 761v3.6M1125.5 761v11M1144.3 761v3.6M1163 761v3.6M1181.7 761v3.6M1200.4 761v3.6M1219.2 761v7.3M1237.9 761v3.6M1256.6 761v3.6M1275.3 761v3.6M1294.1 761v3.6M1312.8 761v11M1331.5 761v3.6M1350.2 761v3.6M1369 761v3.6M1387.7 761v3.6M1406.4 761v7.3M1425.2 761v3.6M1443.9 761v3.6M1462.6 761v3.6M1481.3 761v3.6M1500 761v11M1518.8 761v3.6M1537.5 761v3.6M1556.2 761v3.6M1574.9 761v3.6M1593.7 761v7.3M1612.4 761v3.6M1631.1 761v3.6M1649.8 761v3.6M1668.6 761v3.6M1687.3 761v11M936.3 759h-11.5M936.3 743.7h-3.8M936.3 726.8h-3.8M936.3 709.8h-3.8M936.3 692.8h-3.8M936.3 675.9h-7.5M936.3 658.9h-3.8M936.3 641.9h-3.8M936.3 625h-3.8M936.3 608h-3.8M936.3 591h-11.5M936.3 574h-3.8M936.3 557.1h-3.8M936.3 540.1h-3.8M936.3 523.1h-3.8M936.3 506.2h-7.5M936.3 489.2h-3.8M936.3 472.2h-3.8M936.3 455.3h-3.8M936.3 438.3h-3.8M936.3 421.3h-11.5M936.3 404.4h-3.8M936.3 387.4h-3.8M936.3 370.4h-3.8M936.3 353.5h-3.8M936.3 336.5h-7.5M936.3 319.5h-3.8M936.3 302.6h-3.8M936.3 285.6h-3.8M936.3 268.6h-3.8M936.3 251.7h-11.5M936.3 234.7h-3.8M936.3 217.7h-3.8M936.3 200.8h-3.8M936.3 183.8h-3.8M936.3 166.8h-7.5M936.3 149.8h-3.8M936.3 132.9h-3.8M936.3 115.9h-3.8M936.3 98.9h-3.8M936.3 82h-11.5M936.3 65h-3.8M936.3 48h-3.8M936.3 31.1h-3.8M936.3 14.1h-3.8" stroke="#000" stroke-width="2.1" fill="none"/>
<g font-size="26.5"><text x="920.8" y="767.8" text-anchor="end">1</text><text x="920.8" y="599.8" text-anchor="end">100</text><text x="920.8" y="430.1" text-anchor="end">200</text><text x="920.8" y="260.5" text-anchor="end">300</text><text x="920.8" y="90.8" text-anchor="end">400</text></g>
<rect x="938.3" y="798" width="749" height="749" fill="none" stroke="#000" stroke-width="4"/>
<path d="M938.3 1549v11M957 1549v3.6M975.8 1549v3.6M994.5 1549v3.6M1013.2 1549v3.6M1031.9 1549v7.3M1050.6 1549v3.6M1069.4 1549v3.6M1088.1 1549v3.6M1106.8 1549v3.6M1125.5 1549v11M1144.3 1549v3.6M1163 1549v3.6M1181.7 1549v3.6M1200.4 1549v3.6M1219.2 1549v7.3M1237.9 1549v3.6M1256.6 1549v3.6M1275.3 1549v3.6M1294.1 1549v3.6M1312.8 1549v11M1331.5 1549v3.6M1350.2 1549v3.6M1369 1549v3.6M1387.7 1549v3.6M1406.4 1549v7.3M1425.2 1549v3.6M1443.9 1549v3.6M1462.6 1549v3.6M1481.3 1549v3.6M1500 1549v11M1518.8 1549v3.6M1537.5 1549v3.6M1556.2 1549v3.6M1574.9 1549v3.6M1593.7 1549v7.3M1612.4 1549v3.6M1631.1 1549v3.6M1649.8 1549v3.6M1668.6 1549v3.6M1687.3 1549v11M936.3 1547h-11.5M936.3 1531.7h-3.8M936.3 1514.8h-3.8M936.3 1497.8h-3.8M936.3 1480.8h-3.8M936.3 1463.8h-7.5M936.3 1446.9h-3.8M936.3 1429.9h-3.8M936.3 1412.9h-3.8M936.3 1395.9h-3.8M936.3 1379h-11.5M936.3 1362h-3.8M936.3 1345h-3.8M936.3 1328.1h-3.8M936.3 1311.1h-3.8M936.3 1294.1h-7.5M936.3 1277.1h-3.8M936.3 1260.2h-3.8M936.3 1243.2h-3.8M936.3 1226.2h-3.8M936.3 1209.2h-11.5M936.3 1192.3h-3.8M936.3 1175.3h-3.8M936.3 1158.3h-3.8M936.3 1141.4h-3.8M936.3 1124.4h-7.5M936.3 1107.4h-3.8M936.3 1090.4h-3.8M936.3 1073.5h-3.8M936.3 1056.5h-3.8M936.3 1039.5h-11.5M936.3 1022.5h-3.8M936.3 1005.6h-3.8M936.3 988.6h-3.8M936.3 971.6h-3.8M936.3 954.7h-7.5M936.3 937.7h-3.8M936.3 920.7h-3.8M936.3 903.7h-3.8M936.3 886.8h-3.8M936.3 869.8h-11.5M936.3 852.8h-3.8M936.3 835.8h-3.8M936.3 818.9h-3.8M936.3 801.9h-3.8" stroke="#000" stroke-width="2.1" fill="none"/>
<g font-size="26.5"><text x="920.8" y="1555.8" text-anchor="end">1</text><text x="920.8" y="1387.8" text-anchor="end">100</text><text x="920.8" y="1218" text-anchor="end">200</text><text x="920.8" y="1048.3" text-anchor="end">300</text><text x="920.8" y="878.6" text-anchor="end">400</text><text x="939.8" y="1592.7" text-anchor="middle">15.9</text><text x="1127" y="1592.7" text-anchor="middle">16.0</text><text x="1314.3" y="1592.7" text-anchor="middle">16.1</text><text x="1501.5" y="1592.7" text-anchor="middle">16.2</text><text x="1688.8" y="1592.7" text-anchor="middle">16.3</text><text x="1323.3" y="1621.5" text-anchor="middle" font-size="23.5">time [ns]</text></g>
<g font-size="23.5"><text transform="translate(34.5,384) rotate(-90)" text-anchor="middle">r [μm]</text><text transform="translate(34.5,1173) rotate(-90)" text-anchor="middle">r [μm]</text><text x="877.5" y="336" text-anchor="middle" font-size="27">n</text><text x="877.5" y="1124" text-anchor="middle" font-size="27">n</text></g>
</svg></body></html>
